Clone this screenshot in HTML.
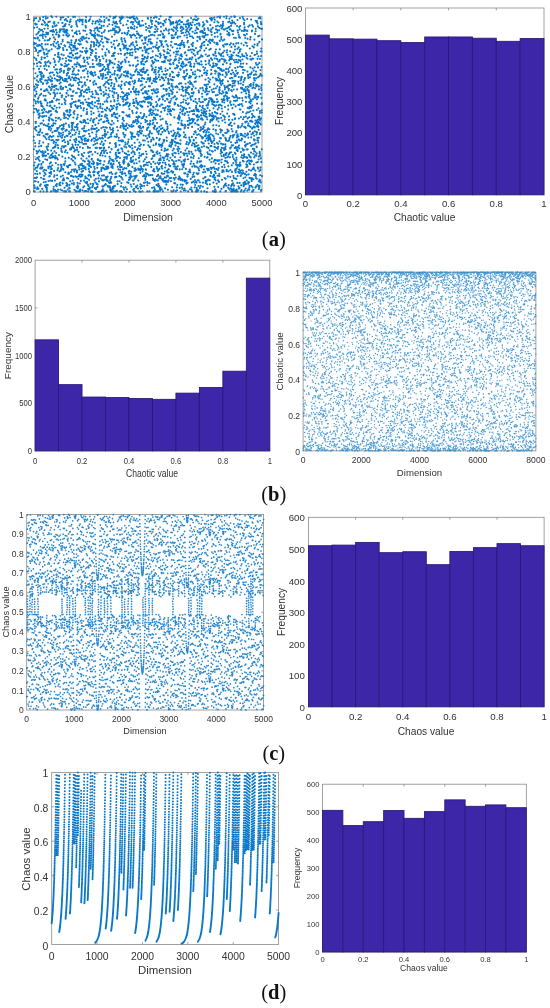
<!DOCTYPE html>
<html lang="en"><head><meta charset="utf-8"><title>Chaotic map distributions</title>
<style>html,body{margin:0;padding:0;background:#fff}svg{display:block}</style>
</head><body>
<svg width="550" height="1008" viewBox="0 0 550 1008" font-family="'Liberation Sans', sans-serif">
<defs><filter id="soft" x="0" y="0" width="100%" height="100%" filterUnits="userSpaceOnUse" color-interpolation-filters="sRGB"><feGaussianBlur stdDeviation="0.4"/></filter></defs>
<g filter="url(#soft)">
<rect width="550" height="1008" fill="#fff"/>
<rect x="33.6" y="16.2" width="228.4" height="175.9" fill="none" stroke="#8a8a8a" stroke-width="0.8"/>
<text transform="translate(33.6 206.1)" font-size="9.4" text-anchor="middle" fill="#333333">0</text>
<text transform="translate(79.28 206.1)" font-size="9.4" text-anchor="middle" fill="#333333">1000</text>
<text transform="translate(124.96 206.1)" font-size="9.4" text-anchor="middle" fill="#333333">2000</text>
<text transform="translate(170.64 206.1)" font-size="9.4" text-anchor="middle" fill="#333333">3000</text>
<text transform="translate(216.32 206.1)" font-size="9.4" text-anchor="middle" fill="#333333">4000</text>
<text transform="translate(262 206.1)" font-size="9.4" text-anchor="middle" fill="#333333">5000</text>
<text transform="translate(30.6 195.48)" font-size="9.4" text-anchor="end" fill="#333333">0</text>
<text transform="translate(30.6 160.3)" font-size="9.4" text-anchor="end" fill="#333333">0.2</text>
<text transform="translate(30.6 125.12)" font-size="9.4" text-anchor="end" fill="#333333">0.4</text>
<text transform="translate(30.6 89.94)" font-size="9.4" text-anchor="end" fill="#333333">0.6</text>
<text transform="translate(30.6 54.76)" font-size="9.4" text-anchor="end" fill="#333333">0.8</text>
<text transform="translate(30.6 19.58)" font-size="9.4" text-anchor="end" fill="#333333">1</text>
<path d="M79.28 192.1v-2.4M79.28 16.2v2.4M124.96 192.1v-2.4M124.96 16.2v2.4M170.64 192.1v-2.4M170.64 16.2v2.4M216.32 192.1v-2.4M216.32 16.2v2.4M33.6 156.92h2.4M262 156.92h-2.4M33.6 121.74h2.4M262 121.74h-2.4M33.6 86.56h2.4M262 86.56h-2.4M33.6 51.38h2.4M262 51.38h-2.4" stroke="#8a8a8a" stroke-width="0.8" fill="none"/>
<text transform="translate(148 221.2)" font-size="10.5" text-anchor="middle" fill="#333333">Dimension</text>
<text transform="translate(12.5 104) rotate(-90)" font-size="10.5" text-anchor="middle" fill="#333333">Chaos value</text>
<path d="M33.6 105.7h0M33.7 68.8h0M33.7 140.5h0M33.8 136.8h0M33.8 112.4h0M33.9 20.4h0M33.9 149.2h0M34 99.7h0M34 63.8h0M34.1 86.6h0M34.1 42.9h0M34.1 165.4h0M34.2 185.2h0M34.2 57.6h0M34.3 38.1h0M34.3 27.8h0M34.4 90.1h0M34.4 44.3h0M34.5 108.7h0M34.5 181.4h0M34.6 78.3h0M34.6 47.5h0M34.7 18.4h0M34.7 188.1h0M34.7 162.5h0M34.8 128.6h0M34.8 169.3h0M34.9 187.2h0M34.9 177.9h0M35 95.5h0M35 48h0M35.1 143.1h0M35.1 129h0M35.2 23.6h0M35.2 96.5h0M35.2 173.7h0M35.3 88.5h0M35.3 146.4h0M35.4 127.1h0M35.4 24.5h0M35.5 101.4h0M35.5 73.2h0M35.6 167.8h0M35.6 38.3h0M35.7 123.1h0M35.7 181.2h0M35.7 181.2h0M35.8 103.4h0M35.8 159.2h0M35.9 121.7h0M35.9 84.2h0M36 58.7h0M36 43.5h0M36.1 50.8h0M36.1 49.6h0M36.2 18h0M36.2 109h0M36.2 91.5h0M36.3 34.5h0M36.3 130.6h0M36.4 177.9h0M36.4 127.1h0M36.5 60.2h0M36.5 84.8h0M36.6 93.9h0M36.6 151.1h0M36.7 171h0M36.7 24.3h0M36.8 189h0M36.8 80.3h0M36.8 171.2h0M36.9 110.6h0M36.9 177.2h0M37 153.4h0M37 63.4h0M37.1 76.7h0M37.1 87.3h0M37.2 27.2h0M37.2 45.9h0M37.3 66.2h0M37.3 174h0M37.3 167.6h0M37.4 157.8h0M37.4 187.2h0M37.5 165.7h0M37.5 134.8h0M37.6 45.4h0M37.6 112.1h0M37.7 75.6h0M37.7 101.2h0M37.8 37.6h0M37.8 33.3h0M37.8 38.6h0M37.9 85.1h0M37.9 165.7h0M38 52.7h0M38 111h0M38.1 98.7h0M38.1 55.5h0M38.2 182.1h0M38.2 151.7h0M38.3 45.7h0M38.3 102.6h0M38.4 132.4h0M38.4 81.9h0M38.4 188.7h0M38.5 114.6h0M38.5 159.3h0M38.6 102h0M38.6 97.2h0M38.7 21.2h0M38.7 110.3h0M38.8 126h0M38.8 117.8h0M38.9 31.8h0M38.9 146.6h0M38.9 164.2h0M39 68.9h0M39 156.7h0M39.1 117.3h0M39.1 62.2h0M39.2 51.1h0M39.2 143.4h0M39.3 44.8h0M39.3 132.4h0M39.4 29.1h0M39.4 40.4h0M39.4 150.2h0M39.5 71.9h0M39.5 135.1h0M39.6 113.6h0M39.6 141.1h0M39.7 160.8h0M39.7 61.9h0M39.8 51.3h0M39.8 95.2h0M39.9 18h0M39.9 173.4h0M39.9 116.1h0M40 45.3h0M40 35.5h0M40.1 19.3h0M40.1 185.7h0M40.2 80.2h0M40.2 131h0M40.3 79.1h0M40.3 168.4h0M40.4 184.5h0M40.4 129.3h0M40.5 74.2h0M40.5 66.2h0M40.5 123.6h0M40.6 30.3h0M40.6 101.6h0M40.7 184.4h0M40.7 35.2h0M40.8 63h0M40.8 167.6h0M40.9 103.4h0M40.9 50.6h0M41 89.4h0M41 72h0M41 151.7h0M41.1 145.9h0M41.1 177.7h0M41.2 93.9h0M41.2 81.9h0M41.3 106h0M41.3 164.7h0M41.4 103.6h0M41.4 76.1h0M41.5 59.3h0M41.5 163.7h0M41.5 73.4h0M41.6 76.9h0M41.6 105.2h0M41.7 46.2h0M41.7 57.2h0M41.8 79h0M41.8 43.8h0M41.9 168.4h0M41.9 123.3h0M42 30.1h0M42 24.4h0M42.1 73.2h0M42.1 116.4h0M42.1 110.1h0M42.2 132.7h0M42.2 188.7h0M42.3 189h0M42.3 47.9h0M42.4 113h0M42.4 152.7h0M42.5 155h0M42.5 167.2h0M42.6 24.5h0M42.6 34.4h0M42.6 36.1h0M42.7 151.4h0M42.7 106.6h0M42.8 116.9h0M42.8 34.6h0M42.9 38.1h0M42.9 156.3h0M43 83.3h0M43 83.9h0M43.1 20.2h0M43.1 31.7h0M43.1 162.1h0M43.2 142.5h0M43.2 17.1h0M43.3 120.6h0M43.3 49.7h0M43.4 171h0M43.4 178.9h0M43.5 49.3h0M43.5 112.4h0M43.6 76.9h0M43.6 95.7h0M43.6 75.4h0M43.7 135.9h0M43.7 182.2h0M43.8 153.3h0M43.8 124.8h0M43.9 155.2h0M43.9 108.5h0M44 91.1h0M44 52.5h0M44.1 53.1h0M44.1 175.8h0M44.2 124.5h0M44.2 116.1h0M44.2 66.1h0M44.3 169.7h0M44.3 57.8h0M44.4 21.8h0M44.4 179.2h0M44.5 28.8h0M44.5 109.8h0M44.6 54.4h0M44.6 100.1h0M44.7 172.9h0M44.7 68.8h0M44.7 34.7h0M44.8 90.9h0M44.8 40.4h0M44.9 185.5h0M44.9 22.8h0M45 99.2h0M45 57.7h0M45.1 62.1h0M45.1 156h0M45.2 137.3h0M45.2 151.5h0M45.2 80.4h0M45.3 90.2h0M45.3 159.2h0M45.4 151.9h0M45.4 25.2h0M45.5 95.7h0M45.5 44.4h0M45.6 174.3h0M45.6 64.1h0M45.7 36.7h0M45.7 16.6h0M45.8 134.2h0M45.8 181.8h0M45.8 186.5h0M45.9 125.5h0M45.9 18.6h0M46 100.6h0M46 187.3h0M46.1 170.3h0M46.1 155.6h0M46.2 111.8h0M46.2 116h0M46.3 49.7h0M46.3 65.7h0M46.3 32.5h0M46.4 186.8h0M46.4 49.3h0M46.5 184.9h0M46.5 139.1h0M46.6 146.9h0M46.6 34h0M46.7 89.1h0M46.7 83.6h0M46.8 70h0M46.8 53.9h0M46.8 189.4h0M46.9 80.6h0M46.9 187.8h0M47 134.1h0M47 24.3h0M47.1 149h0M47.1 105.3h0M47.2 159.9h0M47.2 62.2h0M47.3 56.2h0M47.3 134.4h0M47.3 191.2h0M47.4 40.3h0M47.4 90.4h0M47.5 53.5h0M47.5 102.9h0M47.6 125.9h0M47.6 17.8h0M47.7 134.1h0M47.7 44.2h0M47.8 185h0M47.8 82.6h0M47.9 150h0M47.9 28.5h0M47.9 34.3h0M48 146.4h0M48 25.8h0M48.1 112.6h0M48.1 153.8h0M48.2 167h0M48.2 32.9h0M48.3 77.5h0M48.3 51.3h0M48.4 144h0M48.4 22.1h0M48.4 168.2h0M48.5 181h0M48.5 123.9h0M48.6 79.7h0M48.6 61.4h0M48.7 120h0M48.7 92.5h0M48.8 137.2h0M48.8 129.3h0M48.9 40.1h0M48.9 128.1h0M48.9 66.4h0M49 86.5h0M49 117.6h0M49.1 120.6h0M49.1 111h0M49.2 139.3h0M49.2 79.4h0M49.3 176.4h0M49.3 126.9h0M49.4 166.4h0M49.4 172.7h0M49.5 173h0M49.5 50.5h0M49.5 157.4h0M49.6 118.4h0M49.6 106h0M49.7 73.3h0M49.7 111.5h0M49.8 21.6h0M49.8 163.5h0M49.9 176h0M49.9 102.4h0M50 38.6h0M50 87.5h0M50 102.1h0M50.1 127h0M50.1 136h0M50.2 94.1h0M50.2 63.3h0M50.3 158h0M50.3 105.6h0M50.4 31h0M50.4 62.7h0M50.5 180.6h0M50.5 80.4h0M50.5 76.4h0M50.6 115.4h0M50.6 130.5h0M50.7 155.5h0M50.7 169.2h0M50.8 111.1h0M50.8 166.9h0M50.9 72.5h0M50.9 162.4h0M51 171.9h0M51 80.2h0M51 44.8h0M51.1 90.1h0M51.1 173.7h0M51.2 81.3h0M51.2 150.6h0M51.3 16.2h0M51.3 128.7h0M51.4 114.3h0M51.4 140.2h0M51.5 30.9h0M51.5 154.7h0M51.6 89h0M51.6 137.1h0M51.6 107.5h0M51.7 49.2h0M51.7 101.9h0M51.8 168.9h0M51.8 119.4h0M51.9 86.6h0M51.9 125.6h0M52 80.9h0M52 157.4h0M52.1 100.9h0M52.1 78.2h0M52.1 84.2h0M52.2 180.9h0M52.2 17.2h0M52.3 108h0M52.3 126.1h0M52.4 31.6h0M52.4 165.2h0M52.5 132.3h0M52.5 101.9h0M52.6 157.3h0M52.6 26.3h0M52.6 153.2h0M52.7 72.6h0M52.7 30.8h0M52.8 140.1h0M52.8 34.8h0M52.9 148.1h0M52.9 27.1h0M53 156.4h0M53 86.9h0M53.1 120.4h0M53.1 125.4h0M53.2 30h0M53.2 44.1h0M53.2 109.1h0M53.3 191h0M53.3 136h0M53.4 189h0M53.4 123.2h0M53.5 92.7h0M53.5 86.4h0M53.6 109h0M53.6 142.9h0M53.7 186.7h0M53.7 45.6h0M53.7 23h0M53.8 58.9h0M53.8 157h0M53.9 98.2h0M53.9 37.4h0M54 67h0M54 75.1h0M54.1 170.9h0M54.1 31.8h0M54.2 176.7h0M54.2 41.7h0M54.2 141.6h0M54.3 147.4h0M54.3 22h0M54.4 23.7h0M54.4 90.4h0M54.5 175.2h0M54.5 151.4h0M54.6 86.8h0M54.6 105.9h0M54.7 93.4h0M54.7 131.1h0M54.7 62.2h0M54.8 61h0M54.8 78.5h0M54.9 180.5h0M54.9 96.2h0M55 55h0M55 26.1h0M55.1 190h0M55.1 85.6h0M55.2 158.4h0M55.2 39.4h0M55.3 94.7h0M55.3 123.6h0M55.3 146.9h0M55.4 155.7h0M55.4 69.6h0M55.5 145h0M55.5 46.7h0M55.6 64.9h0M55.6 64.9h0M55.7 130.8h0M55.7 111.3h0M55.8 185.2h0M55.8 163.1h0M55.8 157.7h0M55.9 117.7h0M55.9 120.7h0M56 29.9h0M56 142.7h0M56.1 110.5h0M56.1 34.3h0M56.2 153h0M56.2 140h0M56.3 85.7h0M56.3 191.1h0M56.3 16.7h0M56.4 88.8h0M56.4 43.3h0M56.5 79.7h0M56.5 100.3h0M56.6 25.4h0M56.6 186.2h0M56.7 157.8h0M56.7 107.7h0M56.8 72.3h0M56.8 32.4h0M56.9 130.8h0M56.9 69.3h0M56.9 184.1h0M57 112.1h0M57 99.4h0M57.1 175.2h0M57.1 128h0M57.2 178.8h0M57.2 80.5h0M57.3 93.2h0M57.3 76.1h0M57.4 80.8h0M57.4 48.5h0M57.4 140.3h0M57.5 170.1h0M57.5 129.7h0M57.6 145.1h0M57.6 191.2h0M57.7 159.4h0M57.7 73.5h0M57.8 145.5h0M57.8 56.7h0M57.9 80h0M57.9 128.3h0M57.9 41.8h0M58 136.4h0M58 54.2h0M58.1 168.1h0M58.1 189.5h0M58.2 118.4h0M58.2 148.1h0M58.3 89.6h0M58.3 164.7h0M58.4 22.7h0M58.4 52.8h0M58.4 139.7h0M58.5 54.7h0M58.5 34.9h0M58.6 44.6h0M58.6 45.4h0M58.7 61.6h0M58.7 36.8h0M58.8 132.5h0M58.8 127.7h0M58.9 99.7h0M58.9 155h0M59 117.8h0M59 46.7h0M59 48.5h0M59.1 103.5h0M59.1 35.5h0M59.2 77h0M59.2 133.9h0M59.3 57.4h0M59.3 80.4h0M59.4 185.1h0M59.4 36.3h0M59.5 183.4h0M59.5 107.6h0M59.5 171.3h0M59.6 76.4h0M59.6 32.1h0M59.7 83.6h0M59.7 69.6h0M59.8 72.3h0M59.8 59.6h0M59.9 57.9h0M59.9 47.2h0M60 126.1h0M60 76.8h0M60 30.9h0M60.1 93.2h0M60.1 29.2h0M60.2 136.1h0M60.2 79.2h0M60.3 182.5h0M60.3 185.2h0M60.4 136.5h0M60.4 30.5h0M60.5 189.6h0M60.5 88h0M60.6 19.6h0M60.6 119.6h0M60.6 17.5h0M60.7 82.5h0M60.7 86.5h0M60.8 170.7h0M60.8 176.6h0M60.9 169.4h0M60.9 133.3h0M61 164.9h0M61 68.8h0M61.1 77.6h0M61.1 86.6h0M61.1 64.4h0M61.2 43.8h0M61.2 89.3h0M61.3 148.8h0M61.3 148.6h0M61.4 150.9h0M61.4 71h0M61.5 166.5h0M61.5 167.8h0M61.6 54.4h0M61.6 65h0M61.6 17.5h0M61.7 128.9h0M61.7 95.7h0M61.8 104.2h0M61.8 97.1h0M61.9 125h0M61.9 65.1h0M62 137.7h0M62 152h0M62.1 29.2h0M62.1 190.5h0M62.2 95.2h0M62.2 129.6h0M62.2 78.1h0M62.3 146.4h0M62.3 135.6h0M62.4 156.6h0M62.4 22.9h0M62.5 141.1h0M62.5 129h0M62.6 41.4h0M62.6 58.7h0M62.7 39.7h0M62.7 183.4h0M62.7 180.4h0M62.8 134.8h0M62.8 175.6h0M62.9 80h0M62.9 88.9h0M63 48.1h0M63 128.4h0M63.1 87.8h0M63.1 169.1h0M63.2 132.5h0M63.2 125.6h0M63.2 26.6h0M63.3 17.2h0M63.3 169.7h0M63.4 50.1h0M63.4 35.2h0M63.5 31.6h0M63.5 164.5h0M63.6 178.4h0M63.6 126.5h0M63.7 55.2h0M63.7 29.2h0M63.7 128.7h0M63.8 72.6h0M63.8 124.4h0M63.9 113.4h0M63.9 147.3h0M64 70.9h0M64 114.9h0M64.1 180.1h0M64.1 118.1h0M64.2 139.9h0M64.2 146.2h0M64.3 99h0M64.3 165.1h0M64.3 81.1h0M64.4 29.4h0M64.4 45.2h0M64.5 66.3h0M64.5 116.1h0M64.6 187.7h0M64.6 25.4h0M64.7 163.6h0M64.7 20h0M64.8 137.1h0M64.8 102.8h0M64.8 114.2h0M64.9 26.1h0M64.9 152.1h0M65 32.4h0M65 78.9h0M65.1 100.3h0M65.1 142.2h0M65.2 46.3h0M65.2 63.5h0M65.3 161.3h0M65.3 172.2h0M65.3 158.3h0M65.4 104.1h0M65.4 100.7h0M65.5 30.9h0M65.5 130.9h0M65.6 80.8h0M65.6 24.1h0M65.7 86.8h0M65.7 146.1h0M65.8 80.1h0M65.8 150.2h0M65.9 130.4h0M65.9 19.1h0M65.9 123.6h0M66 58.2h0M66 117.8h0M66.1 96.8h0M66.1 61.1h0M66.2 110.8h0M66.2 65.6h0M66.3 35.1h0M66.3 87.1h0M66.4 185.7h0M66.4 183h0M66.4 32.4h0M66.5 66.2h0M66.5 92.8h0M66.6 135.7h0M66.6 93.4h0M66.7 79h0M66.7 129.9h0M66.8 75.5h0M66.8 29.9h0M66.9 166.3h0M66.9 73.7h0M66.9 49.9h0M67 178h0M67 183.9h0M67.1 20.9h0M67.1 111.7h0M67.2 30.6h0M67.2 81.6h0M67.3 185.8h0M67.3 184.6h0M67.4 110.4h0M67.4 65.1h0M67.4 152.8h0M67.5 136h0M67.5 33.5h0M67.6 42.3h0M67.6 114.7h0M67.7 36.4h0M67.7 90.5h0M67.8 189.5h0M67.8 141.6h0M67.9 69.9h0M67.9 72.9h0M68 118.8h0M68 167.4h0M68 144.2h0M68.1 73.1h0M68.1 178.5h0M68.2 17h0M68.2 56.2h0M68.3 68.4h0M68.3 173.9h0M68.4 95.4h0M68.4 35.9h0M68.5 165.8h0M68.5 143h0M68.5 172.6h0M68.6 70.3h0M68.6 64.2h0M68.7 60.1h0M68.7 78.1h0M68.8 157.8h0M68.8 125.1h0M68.9 42.5h0M68.9 115.5h0M69 131.5h0M69 134h0M69 85.1h0M69.1 173.4h0M69.1 35.3h0M69.2 187.6h0M69.2 76.4h0M69.3 126.9h0M69.3 24.6h0M69.4 46.9h0M69.4 116.5h0M69.5 184.9h0M69.5 112.4h0M69.6 188.3h0M69.6 21.8h0M69.6 78h0M69.7 165h0M69.7 53.4h0M69.8 57.1h0M69.8 88.8h0M69.9 60.8h0M69.9 109.9h0M70 68.7h0M70 149.3h0M70.1 140.2h0M70.1 44.6h0M70.1 21.2h0M70.2 84.3h0M70.2 181.2h0M70.3 133.1h0M70.3 165h0M70.4 110.6h0M70.4 103.8h0M70.5 89.7h0M70.5 21.7h0M70.6 19.5h0M70.6 89.6h0M70.6 114.8h0M70.7 148.2h0M70.7 79.8h0M70.8 136.7h0M70.8 48.6h0M70.9 175.9h0M70.9 104.9h0M71 149.4h0M71 172h0M71.1 60.8h0M71.1 106.9h0M71.1 149.3h0M71.2 95.9h0M71.2 26.9h0M71.3 52.9h0M71.3 42.5h0M71.4 159h0M71.4 40.4h0M71.5 130.3h0M71.5 85.9h0M71.6 57.6h0M71.6 122.9h0M71.7 26.2h0M71.7 175.8h0M71.7 44.9h0M71.8 183.5h0M71.8 50.5h0M71.9 169.8h0M71.9 125.8h0M72 155.5h0M72 103.3h0M72.1 99h0M72.1 147.4h0M72.2 30.6h0M72.2 127.4h0M72.2 77.4h0M72.3 125.7h0M72.3 74.2h0M72.4 144.5h0M72.4 124.4h0M72.5 129.1h0M72.5 66.8h0M72.6 54.8h0M72.6 135.1h0M72.7 95.8h0M72.7 180.5h0M72.7 160.5h0M72.8 91.8h0M72.8 147.3h0M72.9 71.7h0M72.9 146.4h0M73 55.5h0M73 156.8h0M73.1 85.3h0M73.1 36.4h0M73.2 16.9h0M73.2 160.7h0M73.3 176.9h0M73.3 122.9h0M73.3 46.3h0M73.4 47.5h0M73.4 117.5h0M73.5 70.4h0M73.5 46.1h0M73.6 112.5h0M73.6 91.1h0M73.7 102.1h0M73.7 169.6h0M73.8 184.4h0M73.8 50.4h0M73.8 183.1h0M73.9 80h0M73.9 148.2h0M74 78.3h0M74 156.7h0M74.1 68.5h0M74.1 74.2h0M74.2 170.1h0M74.2 113.8h0M74.3 130.3h0M74.3 139.7h0M74.3 151.4h0M74.4 171.6h0M74.4 58.3h0M74.5 189.8h0M74.5 111h0M74.6 45.9h0M74.6 64.4h0M74.7 33.1h0M74.7 43.4h0M74.8 47.2h0M74.8 43.3h0M74.8 162.5h0M74.9 46h0M74.9 134.6h0M75 16.8h0M75 141.6h0M75.1 127.1h0M75.1 150h0M75.2 158.4h0M75.2 47.9h0M75.3 32.9h0M75.3 105.1h0M75.4 164.4h0M75.4 77.5h0M75.4 101.7h0M75.5 169.4h0M75.5 176.3h0M75.6 144.8h0M75.6 80.5h0M75.7 41.4h0M75.7 53.7h0M75.8 142.3h0M75.8 101.6h0M75.9 132.5h0M75.9 74.9h0M75.9 33.1h0M76 57.4h0M76 93h0M76.1 138.6h0M76.1 106.5h0M76.2 21.2h0M76.2 39.9h0M76.3 22.9h0M76.3 49.4h0M76.4 66.6h0M76.4 139.9h0M76.4 24.5h0M76.5 78.2h0M76.5 64.2h0M76.6 187.2h0M76.6 31.4h0M76.7 177.1h0M76.7 126.7h0M76.8 118.9h0M76.8 92.7h0M76.9 124.9h0M76.9 34.2h0M77 172.4h0M77 147.5h0M77 170.9h0M77.1 58.7h0M77.1 149.9h0M77.2 26.4h0M77.2 129.7h0M77.3 108.2h0M77.3 62.6h0M77.4 117.3h0M77.4 53.1h0M77.5 129.3h0M77.5 48.5h0M77.5 127.5h0M77.6 182.9h0M77.6 185.4h0M77.7 124h0M77.7 188.4h0M77.8 114.7h0M77.8 106.3h0M77.9 57.5h0M77.9 20h0M78 74.3h0M78 88.6h0M78 83.1h0M78.1 144.8h0M78.1 187.7h0M78.2 106.4h0M78.2 186.5h0M78.3 179h0M78.3 78.7h0M78.4 43.8h0M78.4 70.2h0M78.5 151.8h0M78.5 101.2h0M78.5 176.2h0M78.6 100.2h0M78.6 154.9h0M78.7 64.2h0M78.7 165.8h0M78.8 136.8h0M78.8 70.8h0M78.9 40h0M78.9 85h0M79 64.2h0M79 141.5h0M79.1 79.6h0M79.1 133.8h0M79.1 167.6h0M79.2 31.1h0M79.2 175.3h0M79.3 169.5h0M79.3 131.6h0M79.4 89.2h0M79.4 57.2h0M79.5 21.4h0M79.5 65.2h0M79.6 44.6h0M79.6 96.5h0M79.6 96h0M79.7 81.9h0M79.7 100.6h0M79.8 183.5h0M79.8 142.4h0M79.9 174.6h0M79.9 33.6h0M80 19.5h0M80 147h0M80.1 65.6h0M80.1 191.1h0M80.1 189.5h0M80.2 121.6h0M80.2 41.3h0M80.3 106h0M80.3 51.3h0M80.4 164.4h0M80.4 176.8h0M80.5 55.6h0M80.5 121.8h0M80.6 38.5h0M80.6 92.5h0M80.7 137h0M80.7 67.2h0M80.7 164.5h0M80.8 180.8h0M80.8 44.2h0M80.9 102.9h0M80.9 66.6h0M81 165.1h0M81 91h0M81.1 77.3h0M81.1 108.1h0M81.2 115.9h0M81.2 95.4h0M81.2 93.7h0M81.3 158.6h0M81.3 138.4h0M81.4 174.5h0M81.4 20.3h0M81.5 168.8h0M81.5 19.9h0M81.6 82.2h0M81.6 171.8h0M81.7 139.6h0M81.7 154h0M81.7 164.5h0M81.8 39.2h0M81.8 122.6h0M81.9 142.4h0M81.9 176.3h0M82 163.7h0M82 87h0M82.1 90.2h0M82.1 155.2h0M82.2 128.7h0M82.2 40.2h0M82.2 51.9h0M82.3 139.8h0M82.3 36.9h0M82.4 190.4h0M82.4 165.6h0M82.5 174.9h0M82.5 24.4h0M82.6 22h0M82.6 66.1h0M82.7 19.8h0M82.7 85.7h0M82.8 70.8h0M82.8 148.1h0M82.8 102.6h0M82.9 47.8h0M82.9 136.4h0M83 170.9h0M83 168.2h0M83.1 160.6h0M83.1 166.1h0M83.2 104h0M83.2 187.3h0M83.3 30.5h0M83.3 156.2h0M83.3 36.8h0M83.4 144.1h0M83.4 110.3h0M83.5 58.3h0M83.5 120.3h0M83.6 128.3h0M83.6 66.5h0M83.7 96.4h0M83.7 70.7h0M83.8 38.4h0M83.8 121.9h0M83.8 166h0M83.9 57.5h0M83.9 108.2h0M84 130.9h0M84 91.7h0M84.1 180.5h0M84.1 128.1h0M84.2 152.8h0M84.2 186.2h0M84.3 70.2h0M84.3 62.1h0M84.4 77.4h0M84.4 135.5h0M84.4 168h0M84.5 120h0M84.5 126.1h0M84.6 84.2h0M84.6 138.9h0M84.7 143.7h0M84.7 60.4h0M84.8 38.6h0M84.8 161.4h0M84.9 191.1h0M84.9 91.9h0M84.9 82.6h0M85 51.1h0M85 140.9h0M85.1 120.8h0M85.1 138.2h0M85.2 30.8h0M85.2 131.4h0M85.3 99.7h0M85.3 176.5h0M85.4 178.2h0M85.4 182.3h0M85.4 65.9h0M85.5 167.3h0M85.5 21.5h0M85.6 85.3h0M85.6 25.9h0M85.7 169.3h0M85.7 20.1h0M85.8 90h0M85.8 138.6h0M85.9 178h0M85.9 122.9h0M85.9 27.5h0M86 52.9h0M86 21.3h0M86.1 68.8h0M86.1 17.1h0M86.2 191h0M86.2 143.8h0M86.3 22.1h0M86.3 48.4h0M86.4 102.2h0M86.4 183.1h0M86.5 37.8h0M86.5 41.4h0M86.5 114h0M86.6 158.5h0M86.6 130.7h0M86.7 89.4h0M86.7 34.5h0M86.8 51.7h0M86.8 183.1h0M86.9 109.3h0M86.9 92.7h0M87 57.5h0M87 140.8h0M87 50.9h0M87.1 112.1h0M87.1 113.8h0M87.2 181.9h0M87.2 79.7h0M87.3 178.5h0M87.3 42.2h0M87.4 62.2h0M87.4 51.3h0M87.5 73.6h0M87.5 140.2h0M87.5 59h0M87.6 164.2h0M87.6 89.7h0M87.7 104.9h0M87.7 119.2h0M87.8 146.8h0M87.8 71.4h0M87.9 184.9h0M87.9 184.8h0M88 140.4h0M88 147.8h0M88.1 140.9h0M88.1 188.9h0M88.1 76.6h0M88.2 161.1h0M88.2 123.2h0M88.3 102.8h0M88.3 152.8h0M88.4 175.6h0M88.4 64h0M88.5 160.6h0M88.5 139.6h0M88.6 98.7h0M88.6 105.7h0M88.6 87.3h0M88.7 186.2h0M88.7 175h0M88.8 168.9h0M88.8 130h0M88.9 20.9h0M88.9 156.3h0M89 133.8h0M89 38.5h0M89.1 165.9h0M89.1 189h0M89.1 179.8h0M89.2 171.4h0M89.2 163.2h0M89.3 103h0M89.3 89.4h0M89.4 156.3h0M89.4 57.6h0M89.5 103.8h0M89.5 189.4h0M89.6 106.2h0M89.6 91.8h0M89.6 151.8h0M89.7 165.1h0M89.7 19.6h0M89.8 162.1h0M89.8 136.2h0M89.9 147.8h0M89.9 172.4h0M90 67.1h0M90 187.7h0M90.1 19.2h0M90.1 80.9h0M90.2 48.8h0M90.2 175.2h0M90.2 30.1h0M90.3 72.7h0M90.3 120.5h0M90.4 32.9h0M90.4 72.7h0M90.5 183.9h0M90.5 166.8h0M90.6 103h0M90.6 16.7h0M90.7 107.7h0M90.7 55h0M90.7 72h0M90.8 46.8h0M90.8 176.8h0M90.9 45h0M90.9 73.9h0M91 52.6h0M91 151.7h0M91.1 167.1h0M91.1 118.5h0M91.2 111.6h0M91.2 71.7h0M91.2 30.8h0M91.3 140.7h0M91.3 96.2h0M91.4 114.3h0M91.4 50.1h0M91.5 41.9h0M91.5 129.4h0M91.6 159.5h0M91.6 128.4h0M91.7 34.2h0M91.7 34.9h0M91.8 53.1h0M91.8 103h0M91.8 158.8h0M91.9 163.6h0M91.9 192h0M92 139.5h0M92 49.7h0M92.1 187.3h0M92.1 91.7h0M92.2 101.7h0M92.2 132.5h0M92.3 74.9h0M92.3 66.8h0M92.3 23.6h0M92.4 154.6h0M92.4 126h0M92.5 73.1h0M92.5 104.5h0M92.6 97.2h0M92.6 108.2h0M92.7 94.1h0M92.7 60h0M92.8 63.9h0M92.8 185.9h0M92.8 50.9h0M92.9 35.3h0M92.9 21.2h0M93 183.9h0M93 121.2h0M93.1 128.5h0M93.1 161.2h0M93.2 172.3h0M93.2 82.6h0M93.3 120.3h0M93.3 164.3h0M93.3 184.1h0M93.4 75.8h0M93.4 119.7h0M93.5 145h0M93.5 122.5h0M93.6 42.3h0M93.6 113.1h0M93.7 84.7h0M93.7 138.3h0M93.8 128.8h0M93.8 36.3h0M93.9 175.1h0M93.9 46.4h0M93.9 66.9h0M94 162.9h0M94 175.5h0M94.1 171.4h0M94.1 44.1h0M94.2 44.5h0M94.2 42.6h0M94.3 30.7h0M94.3 166.9h0M94.4 119.3h0M94.4 141.3h0M94.4 34.9h0M94.5 180.4h0M94.5 81h0M94.6 106.1h0M94.6 171.9h0M94.7 72.6h0M94.7 168.8h0M94.8 97.6h0M94.8 188.1h0M94.9 72.4h0M94.9 28.5h0M94.9 138.3h0M95 38.1h0M95 129.1h0M95.1 56.4h0M95.1 102.6h0M95.2 33.1h0M95.2 152.1h0M95.3 35.8h0M95.3 144h0M95.4 124.9h0M95.4 23.4h0M95.5 74.8h0M95.5 182.5h0M95.5 28.4h0M95.6 147.8h0M95.6 90.9h0M95.7 21.6h0M95.7 83.5h0M95.8 49.2h0M95.8 57.8h0M95.9 178.7h0M95.9 189.2h0M96 53.1h0M96 56.1h0M96 83.9h0M96.1 140h0M96.1 188.1h0M96.2 84.3h0M96.2 134.6h0M96.3 45.1h0M96.3 60.6h0M96.4 94h0M96.4 92.7h0M96.5 39.6h0M96.5 136.7h0M96.5 118h0M96.6 140.3h0M96.6 131.8h0M96.7 128.1h0M96.7 106.6h0M96.8 183.9h0M96.8 58.8h0M96.9 42.6h0M96.9 147.9h0M97 131h0M97 27.2h0M97 163h0M97.1 100.8h0M97.1 64.4h0M97.2 143.2h0M97.2 167.8h0M97.3 164.9h0M97.3 187.2h0M97.4 20.9h0M97.4 34.6h0M97.5 186.6h0M97.5 41.1h0M97.6 172.5h0M97.6 184.2h0M97.6 153.5h0M97.7 28.5h0M97.7 30.4h0M97.8 159.9h0M97.8 108.5h0M97.9 139.4h0M97.9 159.2h0M98 163.5h0M98 173.5h0M98.1 35.6h0M98.1 191.7h0M98.1 94.3h0M98.2 103.7h0M98.2 87.5h0M98.3 178.4h0M98.3 123.3h0M98.4 21.8h0M98.4 76.9h0M98.5 101.2h0M98.5 111.5h0M98.6 98.3h0M98.6 46.4h0M98.6 164h0M98.7 130.1h0M98.7 115.7h0M98.8 42.9h0M98.8 64.2h0M98.9 171.8h0M98.9 35.2h0M99 56.9h0M99 181.3h0M99.1 175.6h0M99.1 100.6h0M99.2 120.4h0M99.2 78h0M99.2 63.2h0M99.3 31.5h0M99.3 66h0M99.4 24.4h0M99.4 116.3h0M99.5 160.5h0M99.5 114.4h0M99.6 147.7h0M99.6 138.1h0M99.7 191.8h0M99.7 19.6h0M99.7 28.1h0M99.8 44.9h0M99.8 59.7h0M99.9 161.1h0M99.9 71.3h0M100 60.9h0M100 148.4h0M100.1 90h0M100.1 155.3h0M100.2 107.8h0M100.2 88.1h0M100.2 86.9h0M100.3 138.6h0M100.3 103.9h0M100.4 106.4h0M100.4 163.6h0M100.5 21.6h0M100.5 144h0M100.6 160.8h0M100.6 36.2h0M100.7 70.8h0M100.7 64h0M100.7 65.7h0M100.8 41.4h0M100.8 178.6h0M100.9 16.7h0M100.9 74.1h0M101 153.4h0M101 90.4h0M101.1 119.4h0M101.1 75.8h0M101.2 75.5h0M101.2 93.7h0M101.3 28h0M101.3 152.8h0M101.3 170.9h0M101.4 169.2h0M101.4 128.1h0M101.5 167.8h0M101.5 147.8h0M101.6 21.4h0M101.6 25.9h0M101.7 141.9h0M101.7 112h0M101.8 33.1h0M101.8 141.5h0M101.8 116h0M101.9 39.1h0M101.9 70.2h0M102 150.8h0M102 190.6h0M102.1 137.7h0M102.1 175.6h0M102.2 36.3h0M102.2 180.1h0M102.3 108.6h0M102.3 190.3h0M102.3 49.3h0M102.4 78.9h0M102.4 186.4h0M102.5 56.2h0M102.5 167.6h0M102.6 155.6h0M102.6 135.5h0M102.7 111.7h0M102.7 77.6h0M102.8 189.3h0M102.8 64.8h0M102.9 42.6h0M102.9 104.2h0M102.9 138.5h0M103 75.3h0M103 68.9h0M103.1 145.1h0M103.1 180.5h0M103.2 76.5h0M103.2 73.8h0M103.3 122.1h0M103.3 127.1h0M103.4 168.2h0M103.4 58.5h0M103.4 186.5h0M103.5 46.4h0M103.5 92.1h0M103.6 150.2h0M103.6 164.9h0M103.7 85.4h0M103.7 95.7h0M103.8 25.8h0M103.8 143.9h0M103.9 32h0M103.9 168.3h0M103.9 175.4h0M104 148.4h0M104 16.8h0M104.1 147.6h0M104.1 152.9h0M104.2 94.5h0M104.2 66.8h0M104.3 151.9h0M104.3 21.9h0M104.4 179.7h0M104.4 161.3h0M104.4 135.1h0M104.5 20h0M104.5 185.2h0M104.6 121.6h0M104.6 129.7h0M104.7 101.7h0M104.7 169.3h0M104.8 30.3h0M104.8 37.5h0M104.9 116.4h0M104.9 83.7h0M105 109.5h0M105 133.7h0M105 131.4h0M105.1 136.8h0M105.1 70.2h0M105.2 54.7h0M105.2 135.4h0M105.3 140.7h0M105.3 156.2h0M105.4 52.8h0M105.4 127.2h0M105.5 78h0M105.5 114.5h0M105.5 75h0M105.6 184.1h0M105.6 87.3h0M105.7 93.5h0M105.7 55.6h0M105.8 177h0M105.8 184.5h0M105.9 93.9h0M105.9 150.5h0M106 68.7h0M106 110.5h0M106 179.2h0M106.1 82h0M106.1 38.2h0M106.2 90.3h0M106.2 166.5h0M106.3 61.7h0M106.3 168.9h0M106.4 134.3h0M106.4 167.3h0M106.5 18h0M106.5 60h0M106.6 117.7h0M106.6 178h0M106.6 100.4h0M106.7 180.6h0M106.7 77.7h0M106.8 41.6h0M106.8 127.7h0M106.9 120.9h0M106.9 49.2h0M107 107.6h0M107 115.5h0M107.1 39.1h0M107.1 108.3h0M107.1 153.1h0M107.2 82.4h0M107.2 180.4h0M107.3 101.8h0M107.3 42.2h0M107.4 118.5h0M107.4 98h0M107.5 64.6h0M107.5 72.3h0M107.6 176.6h0M107.6 168.7h0M107.6 26.2h0M107.7 181h0M107.7 185.9h0M107.8 42.2h0M107.8 132.2h0M107.9 166.6h0M107.9 66.2h0M108 186.5h0M108 74.2h0M108.1 68.9h0M108.1 80.2h0M108.1 120.6h0M108.2 138h0M108.2 67.6h0M108.3 167.9h0M108.3 95h0M108.4 19.9h0M108.4 65.4h0M108.5 163.2h0M108.5 94.3h0M108.6 122.9h0M108.6 83.8h0M108.7 31.1h0M108.7 39.5h0M108.7 51h0M108.8 88.3h0M108.8 69.8h0M108.9 83.9h0M108.9 147.3h0M109 72h0M109 182.5h0M109.1 161.7h0M109.1 20.5h0M109.2 24.2h0M109.2 96.7h0M109.2 52.5h0M109.3 19.9h0M109.3 109.4h0M109.4 60.4h0M109.4 63.8h0M109.5 156.7h0M109.5 160.8h0M109.6 187.6h0M109.6 137.2h0M109.7 182.9h0M109.7 79.5h0M109.7 172.8h0M109.8 186.3h0M109.8 90.7h0M109.9 127.6h0M109.9 62.1h0M110 143.1h0M110 16.6h0M110.1 180.1h0M110.1 190h0M110.2 152.2h0M110.2 158.5h0M110.3 76.2h0M110.3 76.9h0M110.3 110.9h0M110.4 187.9h0M110.4 72.5h0M110.5 124.2h0M110.5 61.1h0M110.6 129.5h0M110.6 181.9h0M110.7 30.5h0M110.7 164.4h0M110.8 178.6h0M110.8 134.5h0M110.8 101.4h0M110.9 105.7h0M110.9 190.2h0M111 85.7h0M111 62.5h0M111.1 163.2h0M111.1 189.8h0M111.2 172.3h0M111.2 182.7h0M111.3 42.6h0M111.3 176.9h0M111.3 136.5h0M111.4 167.1h0M111.4 79.8h0M111.5 133h0M111.5 149h0M111.6 149.3h0M111.6 83.4h0M111.7 124.7h0M111.7 82.7h0M111.8 46.8h0M111.8 159.8h0M111.8 114.7h0M111.9 106.6h0M111.9 109.2h0M112 116.1h0M112 36.7h0M112.1 55.9h0M112.1 121.1h0M112.2 74.5h0M112.2 165h0M112.3 174h0M112.3 91.4h0M112.4 189.1h0M112.4 129.7h0M112.4 30.2h0M112.5 116h0M112.5 24.8h0M112.6 62.8h0M112.6 166.5h0M112.7 168h0M112.7 88.3h0M112.8 132.3h0M112.8 95.5h0M112.9 160h0M112.9 160.8h0M112.9 187.4h0M113 186.9h0M113 128.2h0M113.1 130.6h0M113.1 28.6h0M113.2 108.2h0M113.2 67.6h0M113.3 53.8h0M113.3 88.8h0M113.4 18.4h0M113.4 97.3h0M113.4 22.1h0M113.5 163.9h0M113.5 188.3h0M113.6 21.6h0M113.6 44.4h0M113.7 123.3h0M113.7 113.9h0M113.8 17.1h0M113.8 161.3h0M113.9 29.7h0M113.9 55.8h0M114 105.8h0M114 186.2h0M114 53h0M114.1 112.7h0M114.1 86.4h0M114.2 92.2h0M114.2 40.9h0M114.3 93.5h0M114.3 100h0M114.4 84.1h0M114.4 73.2h0M114.5 101.5h0M114.5 34.5h0M114.5 74.4h0M114.6 64h0M114.6 23.2h0M114.7 28.7h0M114.7 136.5h0M114.8 89.1h0M114.8 52.8h0M114.9 47.6h0M114.9 71.1h0M115 185.9h0M115 17.6h0M115 48.4h0M115.1 143.7h0M115.1 177.5h0M115.2 59h0M115.2 31.1h0M115.3 32.5h0M115.3 116.9h0M115.4 176.7h0M115.4 174h0M115.5 26.4h0M115.5 114.4h0M115.5 147h0M115.6 78h0M115.6 158.7h0M115.7 154.4h0M115.7 143.2h0M115.8 143.1h0M115.8 16.6h0M115.9 152.9h0M115.9 152.7h0M116 79.3h0M116 146.4h0M116.1 23.3h0M116.1 145h0M116.1 21.9h0M116.2 32.3h0M116.2 137.1h0M116.3 155.6h0M116.3 107.5h0M116.4 157.6h0M116.4 172.7h0M116.5 176.9h0M116.5 31.2h0M116.6 109.5h0M116.6 93h0M116.6 81.3h0M116.7 134.3h0M116.7 40.5h0M116.8 117.8h0M116.8 104.4h0M116.9 190.9h0M116.9 160.8h0M117 136.2h0M117 23.8h0M117.1 127.1h0M117.1 27.1h0M117.1 107.5h0M117.2 157.3h0M117.2 75.1h0M117.3 107h0M117.3 113.7h0M117.4 67.3h0M117.4 118.1h0M117.5 181.3h0M117.5 75.6h0M117.6 150.4h0M117.6 184.1h0M117.7 166.8h0M117.7 74.7h0M117.7 100.7h0M117.8 120.8h0M117.8 70.2h0M117.9 130.5h0M117.9 98.4h0M118 45.8h0M118 32.7h0M118.1 64.7h0M118.1 95.1h0M118.2 96.5h0M118.2 156.7h0M118.2 150.5h0M118.3 149.5h0M118.3 149.6h0M118.4 169.3h0M118.4 53.7h0M118.5 153h0M118.5 45.3h0M118.6 103.6h0M118.6 85.9h0M118.7 61.7h0M118.7 85.4h0M118.7 140.6h0M118.8 137.8h0M118.8 27.3h0M118.9 68.4h0M118.9 162.8h0M119 67.9h0M119 162.9h0M119.1 43.9h0M119.1 78.1h0M119.2 31.6h0M119.2 70.7h0M119.2 153h0M119.3 66h0M119.3 162.5h0M119.4 115.9h0M119.4 176h0M119.5 191.5h0M119.5 145h0M119.6 181.2h0M119.6 17.3h0M119.7 29.3h0M119.7 152.9h0M119.8 71h0M119.8 164.7h0M119.8 21.3h0M119.9 30.3h0M119.9 165.7h0M120 158h0M120 104.9h0M120.1 140.7h0M120.1 48.8h0M120.2 167.2h0M120.2 169.8h0M120.3 69.4h0M120.3 20.4h0M120.3 77h0M120.4 172.2h0M120.4 127.5h0M120.5 18h0M120.5 76.1h0M120.6 23.2h0M120.6 86.9h0M120.7 50.3h0M120.7 63.2h0M120.8 126.1h0M120.8 68.2h0M120.8 96.7h0M120.9 140.5h0M120.9 186.5h0M121 53.8h0M121 63.8h0M121.1 67.3h0M121.1 176.9h0M121.2 186.3h0M121.2 19.1h0M121.3 62.8h0M121.3 88.8h0M121.4 183.1h0M121.4 148.4h0M121.4 85.1h0M121.5 39.4h0M121.5 38h0M121.6 74.3h0M121.6 62.5h0M121.7 177.7h0M121.7 16.6h0M121.8 167h0M121.8 81.6h0M121.9 141.3h0M121.9 174h0M121.9 66.7h0M122 191.9h0M122 148.9h0M122.1 33.2h0M122.1 92.1h0M122.2 41.6h0M122.2 172.5h0M122.3 98.8h0M122.3 18.2h0M122.4 123.2h0M122.4 112h0M122.4 172h0M122.5 61.5h0M122.5 140.3h0M122.6 179.5h0M122.6 151.3h0M122.7 119.2h0M122.7 44h0M122.8 124h0M122.8 173.7h0M122.9 126.1h0M122.9 17.4h0M123 169.4h0M123 97.1h0M123 117.9h0M123.1 25.2h0M123.1 141.2h0M123.2 101.3h0M123.2 162.3h0M123.3 105.3h0M123.3 132.8h0M123.4 160.9h0M123.4 187.4h0M123.5 93h0M123.5 125h0M123.5 127.1h0M123.6 112.4h0M123.6 134.5h0M123.7 48.4h0M123.7 99.2h0M123.8 128.6h0M123.8 163.6h0M123.9 75.2h0M123.9 120.7h0M124 189.3h0M124 45.8h0M124 45.3h0M124.1 159.7h0M124.1 72.1h0M124.2 104.7h0M124.2 157.4h0M124.3 38.6h0M124.3 146.6h0M124.4 168.1h0M124.4 161.9h0M124.5 136.9h0M124.5 168.5h0M124.5 83.6h0M124.6 32.7h0M124.6 96h0M124.7 54.9h0M124.7 153h0M124.8 46.1h0M124.8 59.6h0M124.9 85h0M124.9 47.5h0M125 173.4h0M125 33.5h0M125.1 95h0M125.1 40.5h0M125.1 126.3h0M125.2 53.8h0M125.2 157.5h0M125.3 142.6h0M125.3 45.9h0M125.4 41.9h0M125.4 135h0M125.5 62.1h0M125.5 144.6h0M125.6 187.4h0M125.6 61h0M125.6 129.3h0M125.7 71.3h0M125.7 76.4h0M125.8 99.8h0M125.8 104.4h0M125.9 103h0M125.9 157.3h0M126 130h0M126 175.5h0M126.1 45.6h0M126.1 125.8h0M126.1 153.8h0M126.2 191.8h0M126.2 147.4h0M126.3 95h0M126.3 82h0M126.4 168.3h0M126.4 48.3h0M126.5 72.8h0M126.5 115.3h0M126.6 24.5h0M126.6 93.2h0M126.7 102.5h0M126.7 57.6h0M126.7 123.9h0M126.8 75.4h0M126.8 158.7h0M126.9 97.5h0M126.9 103.5h0M127 189.2h0M127 157.1h0M127.1 34.6h0M127.1 97.5h0M127.2 182.3h0M127.2 17.2h0M127.2 52.9h0M127.3 95.7h0M127.3 98.3h0M127.4 53.4h0M127.4 50h0M127.5 73.1h0M127.5 98.7h0M127.6 143.8h0M127.6 32.8h0M127.7 155h0M127.7 128h0M127.7 33.4h0M127.8 102.6h0M127.8 20.8h0M127.9 116.3h0M127.9 71.6h0M128 164.3h0M128 76.6h0M128.1 115.8h0M128.1 27.9h0M128.2 166.1h0M128.2 141.8h0M128.2 48.8h0M128.3 151.4h0M128.3 93.4h0M128.4 82.9h0M128.4 73.2h0M128.5 163.5h0M128.5 182.8h0M128.6 139.5h0M128.6 30.9h0M128.7 83.7h0M128.7 61.9h0M128.8 171.4h0M128.8 106.4h0M128.8 173.3h0M128.9 125.2h0M128.9 179.9h0M129 125.5h0M129 94.3h0M129.1 89h0M129.1 145.9h0M129.2 165.1h0M129.2 154.8h0M129.3 17.6h0M129.3 177.5h0M129.3 83.6h0M129.4 170.9h0M129.4 109h0M129.5 53.2h0M129.5 114.7h0M129.6 65.3h0M129.6 46.1h0M129.7 116.7h0M129.7 179.5h0M129.8 82.1h0M129.8 177.1h0M129.8 104.9h0M129.9 191.7h0M129.9 103.5h0M130 126.3h0M130 35.1h0M130.1 55h0M130.1 17.9h0M130.2 146.9h0M130.2 84.5h0M130.3 65.5h0M130.3 49.7h0M130.4 178.1h0M130.4 161.2h0M130.4 52.7h0M130.5 74.4h0M130.5 175.2h0M130.6 173.7h0M130.6 77.9h0M130.7 184.5h0M130.7 132.4h0M130.8 35.8h0M130.8 27.8h0M130.9 77.7h0M130.9 91.9h0M130.9 159h0M131 22.4h0M131 17.5h0M131.1 44.5h0M131.1 157.8h0M131.2 27h0M131.2 37.4h0M131.3 171.7h0M131.3 137.1h0M131.4 161.1h0M131.4 43.5h0M131.4 162.1h0M131.5 186.6h0M131.5 78.3h0M131.6 124.7h0M131.6 152.8h0M131.7 134.2h0M131.7 138.9h0M131.8 176.6h0M131.8 21.7h0M131.9 49.2h0M131.9 134.7h0M131.9 126.8h0M132 145.2h0M132 28.3h0M132.1 75.6h0M132.1 55.3h0M132.2 110.9h0M132.2 136.2h0M132.3 28.1h0M132.3 148.4h0M132.4 35.1h0M132.4 167h0M132.5 133.3h0M132.5 16.8h0M132.5 52.6h0M132.6 161.6h0M132.6 161.4h0M132.7 81.4h0M132.7 113h0M132.8 24.2h0M132.8 42.6h0M132.9 89h0M132.9 180.5h0M133 122.6h0M133 103.2h0M133 151.3h0M133.1 156.5h0M133.1 65.4h0M133.2 160.2h0M133.2 45h0M133.3 22.2h0M133.3 89h0M133.4 189.9h0M133.4 99.7h0M133.5 180.6h0M133.5 126h0M133.5 121h0M133.6 136.8h0M133.6 86.9h0M133.7 102h0M133.7 18.6h0M133.8 184h0M133.8 75.1h0M133.9 16.5h0M133.9 34.6h0M134 91.6h0M134 191.1h0M134.1 83.7h0M134.1 105.8h0M134.1 188.8h0M134.2 176.3h0M134.2 163.4h0M134.3 122.2h0M134.3 28.9h0M134.4 152.2h0M134.4 26.3h0M134.5 168.5h0M134.5 170.7h0M134.6 102.9h0M134.6 178.7h0M134.6 154h0M134.7 49.6h0M134.7 142.8h0M134.8 46.8h0M134.8 154.2h0M134.9 80.6h0M134.9 18.9h0M135 147h0M135 136.9h0M135.1 71.7h0M135.1 92.4h0M135.1 82.2h0M135.2 168.3h0M135.2 35.7h0M135.3 20.8h0M135.3 170.7h0M135.4 57.3h0M135.4 58.1h0M135.5 90.9h0M135.5 48.7h0M135.6 121.4h0M135.6 51.8h0M135.6 191.8h0M135.7 176h0M135.7 177.4h0M135.8 70.2h0M135.8 120.1h0M135.9 186.6h0M135.9 159.6h0M136 66.5h0M136 98.6h0M136.1 169.7h0M136.1 89h0M136.2 94.5h0M136.2 187.4h0M136.2 41.3h0M136.3 107.6h0M136.3 100.9h0M136.4 113h0M136.4 42.5h0M136.5 38h0M136.5 117h0M136.6 65.5h0M136.6 69.3h0M136.7 175.8h0M136.7 17.6h0M136.7 163.2h0M136.8 31.5h0M136.8 112.2h0M136.9 123.6h0M136.9 22.2h0M137 45.2h0M137 27.4h0M137.1 91.8h0M137.1 149.9h0M137.2 102.9h0M137.2 134.1h0M137.2 33.8h0M137.3 185.6h0M137.3 102.2h0M137.4 49.1h0M137.4 57.4h0M137.5 19h0M137.5 139.6h0M137.6 120.1h0M137.6 108.6h0M137.7 71.8h0M137.7 131.8h0M137.8 60.7h0M137.8 121.2h0M137.8 74.5h0M137.9 117.9h0M137.9 104.6h0M138 64.2h0M138 188.6h0M138.1 148.2h0M138.1 24.1h0M138.2 33.6h0M138.2 168.5h0M138.3 49.3h0M138.3 180.6h0M138.3 169.7h0M138.4 103.3h0M138.4 94.5h0M138.5 80.9h0M138.5 135.8h0M138.6 116.3h0M138.6 126.7h0M138.7 91.4h0M138.7 122.1h0M138.8 134.8h0M138.8 158.1h0M138.8 116.8h0M138.9 92.3h0M138.9 22.6h0M139 157.8h0M139 79.1h0M139.1 35.2h0M139.1 72.7h0M139.2 131.7h0M139.2 21.3h0M139.3 153h0M139.3 126h0M139.3 145.8h0M139.4 161.4h0M139.4 142.5h0M139.5 24.3h0M139.5 155.6h0M139.6 131.9h0M139.6 117h0M139.7 37.6h0M139.7 127.7h0M139.8 47.7h0M139.8 74.5h0M139.9 146h0M139.9 130.5h0M139.9 149.1h0M140 101.7h0M140 25.9h0M140.1 170.3h0M140.1 169.1h0M140.2 105.2h0M140.2 126.4h0M140.3 70.1h0M140.3 186.8h0M140.4 184.2h0M140.4 191.8h0M140.4 172.8h0M140.5 35.9h0M140.5 81h0M140.6 166h0M140.6 85.5h0M140.7 133.3h0M140.7 113h0M140.8 155.7h0M140.8 188.6h0M140.9 106.2h0M140.9 123.5h0M140.9 70.9h0M141 47.8h0M141 144.5h0M141.1 128.3h0M141.1 62h0M141.2 167h0M141.2 75.2h0M141.3 169h0M141.3 25.6h0M141.4 64h0M141.4 90.1h0M141.5 185.2h0M141.5 63.4h0M141.5 133.4h0M141.6 105.7h0M141.6 81.2h0M141.7 169h0M141.7 118.2h0M141.8 75.2h0M141.8 78.2h0M141.9 35.5h0M141.9 101.9h0M142 154.2h0M142 131.1h0M142 40.4h0M142.1 186h0M142.1 106.9h0M142.2 69.4h0M142.2 58.7h0M142.3 20.7h0M142.3 84.6h0M142.4 55.7h0M142.4 106.5h0M142.5 50.6h0M142.5 171.3h0M142.5 72.1h0M142.6 61h0M142.6 55h0M142.7 93.2h0M142.7 78.1h0M142.8 88.5h0M142.8 59h0M142.9 169.4h0M142.9 118h0M143 93.4h0M143 116.8h0M143 126.8h0M143.1 176.2h0M143.1 140.3h0M143.2 25.2h0M143.2 127.5h0M143.3 153.9h0M143.3 176.2h0M143.4 43.5h0M143.4 101h0M143.5 64.3h0M143.5 69.4h0M143.6 68.1h0M143.6 161.3h0M143.6 43.8h0M143.7 135.5h0M143.7 58.9h0M143.8 165.9h0M143.8 145.1h0M143.9 71.8h0M143.9 64.4h0M144 115.8h0M144 182.9h0M144.1 114h0M144.1 64.5h0M144.1 185.7h0M144.2 175h0M144.2 164.9h0M144.3 114.5h0M144.3 78.7h0M144.4 97.4h0M144.4 47.1h0M144.5 46.8h0M144.5 37.6h0M144.6 48.1h0M144.6 87h0M144.6 101.9h0M144.7 56.7h0M144.7 140.5h0M144.8 159.3h0M144.8 176h0M144.9 57.4h0M144.9 86.9h0M145 47h0M145 73h0M145.1 182.5h0M145.1 92.6h0M145.2 91.4h0M145.2 119.7h0M145.2 178.4h0M145.3 39.9h0M145.3 179.8h0M145.4 50.2h0M145.4 42.8h0M145.5 62h0M145.5 122.2h0M145.6 99.5h0M145.6 38.7h0M145.7 169.4h0M145.7 23.8h0M145.7 173h0M145.8 52.4h0M145.8 164.8h0M145.9 136h0M145.9 71.9h0M146 169.8h0M146 151.5h0M146.1 121.1h0M146.1 176.6h0M146.2 27h0M146.2 30.1h0M146.2 97.9h0M146.3 91.4h0M146.3 82.1h0M146.4 157.4h0M146.4 116.8h0M146.5 174.4h0M146.5 52.2h0M146.6 37.1h0M146.6 93.1h0M146.7 70.2h0M146.7 162.7h0M146.7 154h0M146.8 49.3h0M146.8 50.3h0M146.9 61h0M146.9 130h0M147 121.1h0M147 58.4h0M147.1 128.3h0M147.1 182h0M147.2 138.4h0M147.2 173.8h0M147.3 185.2h0M147.3 99.1h0M147.3 97.2h0M147.4 94.1h0M147.4 44.6h0M147.5 57.9h0M147.5 79.4h0M147.6 70.3h0M147.6 183h0M147.7 124.4h0M147.7 165.2h0M147.8 56.6h0M147.8 17.9h0M147.8 97.3h0M147.9 28.2h0M147.9 98.8h0M148 106.5h0M148 18.7h0M148.1 78h0M148.1 102.4h0M148.2 96.7h0M148.2 74.9h0M148.3 135h0M148.3 145.2h0M148.3 141.7h0M148.4 127.3h0M148.4 53.5h0M148.5 48.8h0M148.5 91.1h0M148.6 162.2h0M148.6 41.4h0M148.7 174.9h0M148.7 135.3h0M148.8 102.9h0M148.8 175.5h0M148.9 39.5h0M148.9 36h0M148.9 86.2h0M149 98.6h0M149 124h0M149.1 25.7h0M149.1 134h0M149.2 48.6h0M149.2 31h0M149.3 115.2h0M149.3 110.9h0M149.4 136.9h0M149.4 162.2h0M149.4 96.4h0M149.5 146.7h0M149.5 183.2h0M149.6 81.2h0M149.6 79.4h0M149.7 123.3h0M149.7 124.8h0M149.8 32h0M149.8 131.2h0M149.9 131.3h0M149.9 86.4h0M149.9 102.2h0M150 111.4h0M150 132.6h0M150.1 147.3h0M150.1 124.4h0M150.2 77.9h0M150.2 79.6h0M150.3 120.9h0M150.3 28.2h0M150.4 39.3h0M150.4 27.7h0M150.4 109.3h0M150.5 113.4h0M150.5 97.9h0M150.6 175.1h0M150.6 105.2h0M150.7 43.5h0M150.7 42.1h0M150.8 34.9h0M150.8 20.3h0M150.9 57.9h0M150.9 104.8h0M151 141.5h0M151 17.6h0M151 164h0M151.1 21.1h0M151.1 150.4h0M151.2 48.3h0M151.2 103.5h0M151.3 97.3h0M151.3 166.9h0M151.4 139.9h0M151.4 65.2h0M151.5 103.5h0M151.5 21.9h0M151.5 109.7h0M151.6 90.1h0M151.6 159h0M151.7 26.8h0M151.7 66.3h0M151.8 99.5h0M151.8 133.5h0M151.9 83.3h0M151.9 115h0M152 24h0M152 43.4h0M152 70.1h0M152.1 150.9h0M152.1 187.8h0M152.2 20.8h0M152.2 60.9h0M152.3 175.1h0M152.3 158.2h0M152.4 112.7h0M152.4 34.7h0M152.5 124.1h0M152.5 93.6h0M152.6 151.9h0M152.6 51.4h0M152.6 68.6h0M152.7 57.2h0M152.7 57h0M152.8 68.5h0M152.8 137.7h0M152.9 62.4h0M152.9 120.3h0M153 178.6h0M153 106.6h0M153.1 170.8h0M153.1 63.5h0M153.1 155.9h0M153.2 46.8h0M153.2 152.1h0M153.3 122.7h0M153.3 110.7h0M153.4 80.9h0M153.4 161.8h0M153.5 179.8h0M153.5 145.3h0M153.6 107.4h0M153.6 90.5h0M153.6 89.2h0M153.7 127.7h0M153.7 139.4h0M153.8 169.8h0M153.8 78.7h0M153.9 169h0M153.9 18h0M154 113.8h0M154 117.5h0M154.1 127.9h0M154.1 187.4h0M154.1 128.8h0M154.2 72.4h0M154.2 62.2h0M154.3 191.6h0M154.3 118.6h0M154.4 156h0M154.4 35.3h0M154.5 32h0M154.5 171.5h0M154.6 154.7h0M154.6 81.6h0M154.7 125.6h0M154.7 70h0M154.7 189.8h0M154.8 180.9h0M154.8 189h0M154.9 91h0M154.9 59.3h0M155 25.5h0M155 118h0M155.1 126.3h0M155.1 92.7h0M155.2 16.6h0M155.2 163.6h0M155.2 32.1h0M155.3 29.2h0M155.3 46.8h0M155.4 71.9h0M155.4 79.8h0M155.5 109.5h0M155.5 179.4h0M155.6 119.5h0M155.6 78.5h0M155.7 115.2h0M155.7 67.2h0M155.7 69.7h0M155.8 74.3h0M155.8 77.1h0M155.9 55.5h0M155.9 144.6h0M156 115.1h0M156 21.4h0M156.1 143.4h0M156.1 102h0M156.2 82h0M156.2 60.6h0M156.3 129.6h0M156.3 106.2h0M156.3 47.8h0M156.4 26.9h0M156.4 152.5h0M156.5 114.2h0M156.5 89.4h0M156.6 184.9h0M156.6 45h0M156.7 17.3h0M156.7 167h0M156.8 92.8h0M156.8 137.9h0M156.8 105.9h0M156.9 42.6h0M156.9 176.2h0M157 123h0M157 78.7h0M157.1 31.2h0M157.1 168.6h0M157.2 96.4h0M157.2 131.5h0M157.3 104.4h0M157.3 180.4h0M157.3 151.6h0M157.4 128.2h0M157.4 38.5h0M157.5 191.2h0M157.5 154h0M157.6 162.7h0M157.6 29.1h0M157.7 89.4h0M157.7 114.9h0M157.8 56.2h0M157.8 180.6h0M157.8 171h0M157.9 186h0M157.9 110.4h0M158 49.1h0M158 22.4h0M158.1 174.9h0M158.1 47.9h0M158.2 91.8h0M158.2 60.8h0M158.3 175.6h0M158.3 72.2h0M158.4 132.7h0M158.4 35.2h0M158.4 183.8h0M158.5 169.7h0M158.5 50.9h0M158.6 23.9h0M158.6 134.1h0M158.7 77.1h0M158.7 100.2h0M158.8 70.7h0M158.8 178.5h0M158.9 144.3h0M158.9 164.2h0M158.9 67.8h0M159 23.3h0M159 160.2h0M159.1 130.8h0M159.1 185.6h0M159.2 19.1h0M159.2 140.2h0M159.3 74.8h0M159.3 46.8h0M159.4 126.8h0M159.4 168.9h0M159.4 187.5h0M159.5 139.3h0M159.5 145.8h0M159.6 159.1h0M159.6 153.1h0M159.7 53.8h0M159.7 98.8h0M159.8 138.9h0M159.8 106.1h0M159.9 68.7h0M159.9 189h0M160 40.7h0M160 79.7h0M160 162.8h0M160.1 176.9h0M160.1 116.3h0M160.2 57.5h0M160.2 190.7h0M160.3 53.6h0M160.3 35.1h0M160.4 155.6h0M160.4 188.9h0M160.5 187.4h0M160.5 176.4h0M160.5 158.2h0M160.6 16.3h0M160.6 22.8h0M160.7 144.8h0M160.7 119.6h0M160.8 160h0M160.8 128.9h0M160.9 178.3h0M160.9 55.6h0M161 26.7h0M161 134.4h0M161 31.4h0M161.1 67.1h0M161.1 42.6h0M161.2 86.1h0M161.2 111.9h0M161.3 125.5h0M161.3 69h0M161.4 104.5h0M161.4 45.4h0M161.5 166.9h0M161.5 147.1h0M161.5 77.6h0M161.6 173.3h0M161.6 149.9h0M161.7 77.1h0M161.7 41.3h0M161.8 189.3h0M161.8 85.7h0M161.9 145.1h0M161.9 96.7h0M162 44.4h0M162 166h0M162.1 61.7h0M162.1 71.5h0M162.1 96.2h0M162.2 179.8h0M162.2 168.6h0M162.3 104.6h0M162.3 145.6h0M162.4 132.1h0M162.4 33.5h0M162.5 143.4h0M162.5 173.7h0M162.6 96.9h0M162.6 23.8h0M162.6 128.1h0M162.7 157.2h0M162.7 118.8h0M162.8 180h0M162.8 78.4h0M162.9 162.5h0M162.9 99.4h0M163 34.6h0M163 37.3h0M163.1 78.2h0M163.1 179h0M163.1 108h0M163.2 84.9h0M163.2 157.8h0M163.3 181.3h0M163.3 62.1h0M163.4 24.1h0M163.4 46.8h0M163.5 25.5h0M163.5 95.8h0M163.6 50.3h0M163.6 74.4h0M163.7 88.9h0M163.7 139.8h0M163.7 141h0M163.8 181.7h0M163.8 54.7h0M163.9 158.1h0M163.9 141.6h0M164 160.2h0M164 30.5h0M164.1 95.2h0M164.1 37.7h0M164.2 80.3h0M164.2 173.7h0M164.2 129.8h0M164.3 20.8h0M164.3 140.1h0M164.4 130.7h0M164.4 36.2h0M164.5 151h0M164.5 51.4h0M164.6 110.6h0M164.6 60.8h0M164.7 177.4h0M164.7 56.7h0M164.7 57.4h0M164.8 62h0M164.8 108.4h0M164.9 171.5h0M164.9 148.5h0M165 101h0M165 181.6h0M165.1 188.4h0M165.1 180.8h0M165.2 150.3h0M165.2 167.6h0M165.2 162.8h0M165.3 41.5h0M165.3 131h0M165.4 22.3h0M165.4 68.5h0M165.5 74.7h0M165.5 156.5h0M165.6 71h0M165.6 57.1h0M165.7 77.5h0M165.7 107.4h0M165.8 164.7h0M165.8 182.1h0M165.8 58.6h0M165.9 77.4h0M165.9 28.5h0M166 121.6h0M166 89.6h0M166.1 19.6h0M166.1 41h0M166.2 29.8h0M166.2 89h0M166.3 184.6h0M166.3 123.4h0M166.3 177.5h0M166.4 91h0M166.4 184.4h0M166.5 56.7h0M166.5 94.4h0M166.6 155.2h0M166.6 181.1h0M166.7 74.1h0M166.7 137.6h0M166.8 89.4h0M166.8 140.8h0M166.8 44.6h0M166.9 154h0M166.9 149.8h0M167 98.8h0M167 170.9h0M167.1 175.9h0M167.1 129.6h0M167.2 53.2h0M167.2 124h0M167.3 172.6h0M167.3 159.2h0M167.4 52.4h0M167.4 114.2h0M167.4 175.6h0M167.5 126.6h0M167.5 99.4h0M167.6 70.1h0M167.6 128.3h0M167.7 156.6h0M167.7 106h0M167.8 49.2h0M167.8 149.6h0M167.9 46.3h0M167.9 189.7h0M167.9 182h0M168 109.3h0M168 60.3h0M168.1 154.5h0M168.1 83.8h0M168.2 78.9h0M168.2 176h0M168.3 111.4h0M168.3 82.5h0M168.4 30.7h0M168.4 93.6h0M168.4 169.4h0M168.5 154.5h0M168.5 131.6h0M168.6 80.6h0M168.6 180.4h0M168.7 169.3h0M168.7 172.5h0M168.8 102.2h0M168.8 53.2h0M168.9 106.8h0M168.9 164.5h0M168.9 33.4h0M169 133.3h0M169 19.5h0M169.1 160.7h0M169.1 60.7h0M169.2 95.9h0M169.2 29.6h0M169.3 87.9h0M169.3 146h0M169.4 83.7h0M169.4 165.8h0M169.5 145.2h0M169.5 178h0M169.5 93.9h0M169.6 17.1h0M169.6 111.5h0M169.7 106.2h0M169.7 63.8h0M169.8 60.6h0M169.8 76.1h0M169.9 20.6h0M169.9 63.6h0M170 68.4h0M170 109.4h0M170 102.7h0M170.1 113.7h0M170.1 74.3h0M170.2 50.5h0M170.2 166.1h0M170.3 55.6h0M170.3 142.7h0M170.4 157.8h0M170.4 90.3h0M170.5 22.9h0M170.5 124.7h0M170.5 21.8h0M170.6 101h0M170.6 24.6h0M170.7 79.3h0M170.7 59.5h0M170.8 45.3h0M170.8 64.3h0M170.9 181.2h0M170.9 16.7h0M171 146.8h0M171 115h0M171.1 110.9h0M171.1 178h0M171.1 171.6h0M171.2 145.3h0M171.2 131.6h0M171.3 41.8h0M171.3 90.8h0M171.4 98.7h0M171.4 86.1h0M171.5 23.2h0M171.5 42h0M171.6 35.4h0M171.6 171h0M171.6 29.2h0M171.7 23h0M171.7 141.4h0M171.8 84h0M171.8 38.1h0M171.9 139.8h0M171.9 23.7h0M172 160h0M172 71.7h0M172.1 142.4h0M172.1 80.1h0M172.1 187.2h0M172.2 143.9h0M172.2 94.1h0M172.3 135.8h0M172.3 91.8h0M172.4 153.9h0M172.4 86.4h0M172.5 92.8h0M172.5 47.3h0M172.6 29.7h0M172.6 77.1h0M172.6 35.6h0M172.7 87h0M172.7 150.5h0M172.8 172.7h0M172.8 109.1h0M172.9 155.6h0M172.9 80.2h0M173 72.5h0M173 89.2h0M173.1 22h0M173.1 140.3h0M173.2 63h0M173.2 172h0M173.2 164h0M173.3 23.5h0M173.3 97.5h0M173.4 135.8h0M173.4 38h0M173.5 130.5h0M173.5 64h0M173.6 30.9h0M173.6 161.2h0M173.7 178h0M173.7 148.7h0M173.7 190.4h0M173.8 52.6h0M173.8 148.7h0M173.9 134.4h0M173.9 27.3h0M174 37.6h0M174 163h0M174.1 166.4h0M174.1 77.2h0M174.2 183h0M174.2 109.7h0M174.2 166.6h0M174.3 178.4h0M174.3 60.7h0M174.4 60.3h0M174.4 117.4h0M174.5 179.6h0M174.5 152.7h0M174.6 104.4h0M174.6 141.8h0M174.7 164.1h0M174.7 102.8h0M174.8 174.8h0M174.8 96.4h0M174.8 132.9h0M174.9 44h0M174.9 102.9h0M175 157.1h0M175 96.4h0M175.1 68.4h0M175.1 59.4h0M175.2 183.4h0M175.2 34.6h0M175.3 103.5h0M175.3 138.6h0M175.3 60h0M175.4 87.1h0M175.4 166.6h0M175.5 168.8h0M175.5 145.4h0M175.6 56.6h0M175.6 28h0M175.7 138.6h0M175.7 22.5h0M175.8 153.2h0M175.8 136.3h0M175.8 142.5h0M175.9 177.5h0M175.9 34.1h0M176 32.5h0M176 59.3h0M176.1 99.4h0M176.1 161h0M176.2 167h0M176.2 51.5h0M176.3 28.9h0M176.3 54.2h0M176.3 44.1h0M176.4 143.1h0M176.4 135.8h0M176.5 135.1h0M176.5 169.2h0M176.6 26.1h0M176.6 21.2h0M176.7 51.9h0M176.7 86.1h0M176.8 98.6h0M176.8 187.4h0M176.9 75.2h0M176.9 27.9h0M176.9 65.4h0M177 67.8h0M177 190.2h0M177.1 92.2h0M177.1 169h0M177.2 48.5h0M177.2 142.9h0M177.3 185h0M177.3 133.2h0M177.4 149.1h0M177.4 22.9h0M177.4 37.6h0M177.5 30.7h0M177.5 24.7h0M177.6 87.5h0M177.6 37.8h0M177.7 118.3h0M177.7 166.4h0M177.8 129h0M177.8 54.5h0M177.9 105h0M177.9 132.4h0M177.9 36.6h0M178 75.1h0M178 76.3h0M178.1 66.4h0M178.1 128.4h0M178.2 146.8h0M178.2 150.9h0M178.3 45.1h0M178.3 51.4h0M178.4 178.9h0M178.4 122.8h0M178.5 106h0M178.5 143.3h0M178.5 160.2h0M178.6 117.1h0M178.6 153.5h0M178.7 118.5h0M178.7 72.5h0M178.8 21h0M178.8 60.5h0M178.9 179.4h0M178.9 129.3h0M179 83.9h0M179 115.4h0M179 74.7h0M179.1 62.7h0M179.1 136.5h0M179.2 134.2h0M179.2 176.6h0M179.3 134.7h0M179.3 119.7h0M179.4 148.7h0M179.4 58.3h0M179.5 160.2h0M179.5 118.3h0M179.5 89.5h0M179.6 177.6h0M179.6 24.2h0M179.7 187.8h0M179.7 169.4h0M179.8 20.2h0M179.8 117.3h0M179.9 83.3h0M179.9 48.4h0M180 112.7h0M180 129.2h0M180.1 36.5h0M180.1 45.4h0M180.1 178h0M180.2 55.5h0M180.2 69h0M180.3 135.6h0M180.3 43.7h0M180.4 157.2h0M180.4 143.9h0M180.5 109.3h0M180.5 140.3h0M180.6 28.1h0M180.6 69.8h0M180.6 129.3h0M180.7 184.6h0M180.7 105.7h0M180.8 152.1h0M180.8 191.5h0M180.9 65.6h0M180.9 179.9h0M181 102.7h0M181 44.2h0M181.1 26.6h0M181.1 31.1h0M181.1 59h0M181.2 83.3h0M181.2 22.1h0M181.3 123.3h0M181.3 54.4h0M181.4 95.2h0M181.4 65.8h0M181.5 161.8h0M181.5 125h0M181.6 33.2h0M181.6 42.5h0M181.6 44.6h0M181.7 120.7h0M181.7 179.3h0M181.8 30.3h0M181.8 63.6h0M181.9 187.3h0M181.9 56.4h0M182 86.6h0M182 111.4h0M182.1 124.4h0M182.1 40.7h0M182.2 164.4h0M182.2 22h0M182.2 169.2h0M182.3 89.3h0M182.3 17h0M182.4 188.7h0M182.4 107h0M182.5 113.9h0M182.5 67.6h0M182.6 179.7h0M182.6 27.4h0M182.7 165.4h0M182.7 180.6h0M182.7 165.4h0M182.8 184.8h0M182.8 61.9h0M182.9 110.8h0M182.9 125.3h0M183 32.8h0M183 66.5h0M183.1 102.1h0M183.1 90.8h0M183.2 76.7h0M183.2 87.6h0M183.2 109.3h0M183.3 165.6h0M183.3 153.3h0M183.4 96.2h0M183.4 44.8h0M183.5 29h0M183.5 167.2h0M183.6 63.9h0M183.6 160.4h0M183.7 99.5h0M183.7 164.7h0M183.8 42.7h0M183.8 24.3h0M183.8 190.6h0M183.9 132.4h0M183.9 164.7h0M184 71h0M184 163.9h0M184.1 136.9h0M184.1 72.6h0M184.2 107.9h0M184.2 155.1h0M184.3 46.9h0M184.3 45.4h0M184.3 173.3h0M184.4 115.1h0M184.4 78.4h0M184.5 35.5h0M184.5 188.6h0M184.6 161.4h0M184.6 128.3h0M184.7 127.6h0M184.7 180.1h0M184.8 181.4h0M184.8 53h0M184.8 79.1h0M184.9 76.8h0M184.9 124.9h0M185 153.6h0M185 66h0M185.1 113.4h0M185.1 159.5h0M185.2 173.3h0M185.2 159.6h0M185.3 134.9h0M185.3 52.3h0M185.3 59.3h0M185.4 126h0M185.4 150.4h0M185.5 90.1h0M185.5 95.6h0M185.6 190.6h0M185.6 83.7h0M185.7 32.5h0M185.7 87.2h0M185.8 24.6h0M185.8 91.2h0M185.9 168.9h0M185.9 137.5h0M185.9 100.5h0M186 92.7h0M186 26.8h0M186.1 103.1h0M186.1 108.9h0M186.2 144h0M186.2 30.1h0M186.3 64.8h0M186.3 75.8h0M186.4 180.6h0M186.4 70.6h0M186.4 183.6h0M186.5 65.1h0M186.5 55.3h0M186.6 59.6h0M186.6 89.3h0M186.7 69.8h0M186.7 90.2h0M186.8 182.8h0M186.8 153.5h0M186.9 35h0M186.9 142.1h0M186.9 21.5h0M187 148.2h0M187 31.1h0M187.1 37.6h0M187.1 73.9h0M187.2 24.1h0M187.2 111.9h0M187.3 174.2h0M187.3 155.9h0M187.4 176.6h0M187.4 28.6h0M187.5 59.6h0M187.5 182.9h0M187.5 42.3h0M187.6 121.1h0M187.6 176.2h0M187.7 98.5h0M187.7 92.8h0M187.8 87.9h0M187.8 104.4h0M187.9 124.8h0M187.9 174.5h0M188 20.4h0M188 159.2h0M188 40.8h0M188.1 127.8h0M188.1 191.3h0M188.2 24.6h0M188.2 50.2h0M188.3 144.6h0M188.3 82.5h0M188.4 24.3h0M188.4 115.3h0M188.5 23.2h0M188.5 86.5h0M188.5 171.7h0M188.6 62.4h0M188.6 32.1h0M188.7 125.1h0M188.7 103.3h0M188.8 27h0M188.8 47.1h0M188.9 151.7h0M188.9 77.7h0M189 94.3h0M189 151.3h0M189 143h0M189.1 118.1h0M189.1 25.8h0M189.2 153.7h0M189.2 137.5h0M189.3 50.2h0M189.3 87h0M189.4 34.1h0M189.4 120.4h0M189.5 111.9h0M189.5 59.1h0M189.6 108h0M189.6 139.6h0M189.6 123.3h0M189.7 29.9h0M189.7 169.5h0M189.8 171.1h0M189.8 76h0M189.9 189.2h0M189.9 81.3h0M190 140.4h0M190 36.2h0M190.1 58.2h0M190.1 65.9h0M190.1 83.9h0M190.2 172.5h0M190.2 62.1h0M190.3 65.6h0M190.3 141.6h0M190.4 97.8h0M190.4 77.4h0M190.5 120.1h0M190.5 23h0M190.6 24.5h0M190.6 96.4h0M190.6 163.8h0M190.7 63.9h0M190.7 28.4h0M190.8 178.9h0M190.8 123.4h0M190.9 83.1h0M190.9 76.5h0M191 49.6h0M191 157.4h0M191.1 99.7h0M191.1 18.1h0M191.2 83.1h0M191.2 66.6h0M191.2 69.9h0M191.3 151.8h0M191.3 161.4h0M191.4 28.1h0M191.4 187.6h0M191.5 111h0M191.5 44.3h0M191.6 190h0M191.6 59.3h0M191.7 119h0M191.7 52.2h0M191.7 93h0M191.8 25.2h0M191.8 182.6h0M191.9 145.3h0M191.9 136.9h0M192 89.7h0M192 36.5h0M192.1 126.9h0M192.1 88.8h0M192.2 118.9h0M192.2 154h0M192.2 166.6h0M192.3 57.4h0M192.3 84.6h0M192.4 122.5h0M192.4 96.1h0M192.5 177.1h0M192.5 111.1h0M192.6 153.9h0M192.6 31.7h0M192.7 45.5h0M192.7 46.2h0M192.7 22.2h0M192.8 72.5h0M192.8 143.2h0M192.9 49.5h0M192.9 174.7h0M193 74.2h0M193 120.5h0M193.1 42.9h0M193.1 114.2h0M193.2 38h0M193.2 19.7h0M193.3 158.1h0M193.3 120.9h0M193.3 181.5h0M193.4 86.6h0M193.4 93.6h0M193.5 101.1h0M193.5 53.8h0M193.6 92.2h0M193.6 163.8h0M193.7 140.4h0M193.7 110h0M193.8 172.8h0M193.8 134.2h0M193.8 139.8h0M193.9 156h0M193.9 66.8h0M194 119.3h0M194 143.5h0M194.1 66.4h0M194.1 114h0M194.2 50.6h0M194.2 111.2h0M194.3 50.2h0M194.3 19.2h0M194.3 176.6h0M194.4 182.6h0M194.4 165.8h0M194.5 144.4h0M194.5 63.8h0M194.6 131.7h0M194.6 81.9h0M194.7 146.5h0M194.7 166.7h0M194.8 187.3h0M194.8 33.2h0M194.9 24.7h0M194.9 146.8h0M194.9 74.4h0M195 55.5h0M195 180h0M195.1 55.5h0M195.1 123.4h0M195.2 185h0M195.2 71.5h0M195.3 78.1h0M195.3 146h0M195.4 131.3h0M195.4 123.3h0M195.4 30.5h0M195.5 16.4h0M195.5 99h0M195.6 150.4h0M195.6 101.8h0M195.7 88.2h0M195.7 132.6h0M195.8 19.9h0M195.8 59.6h0M195.9 191.7h0M195.9 137.8h0M195.9 81.5h0M196 48.1h0M196 107.7h0M196.1 105.9h0M196.1 181.7h0M196.2 61.3h0M196.2 166.6h0M196.3 16.7h0M196.3 115.5h0M196.4 76.6h0M196.4 142.7h0M196.4 109.5h0M196.5 108.5h0M196.5 182.6h0M196.6 27.2h0M196.6 173.3h0M196.7 146.1h0M196.7 189.4h0M196.8 32.9h0M196.8 28.6h0M196.9 188h0M196.9 110.7h0M197 110.9h0M197 116.7h0M197 23.8h0M197.1 20.1h0M197.1 134.8h0M197.2 103.4h0M197.2 120.6h0M197.3 40.9h0M197.3 162.7h0M197.4 124.5h0M197.4 52.3h0M197.5 36.9h0M197.5 63.4h0M197.5 161.4h0M197.6 54h0M197.6 115h0M197.7 19.3h0M197.7 69.9h0M197.8 180.2h0M197.8 174.1h0M197.9 167.5h0M197.9 148.4h0M198 116.9h0M198 29.1h0M198 63.5h0M198.1 150h0M198.1 119.6h0M198.2 129h0M198.2 109.8h0M198.3 18.6h0M198.3 145.2h0M198.4 190.3h0M198.4 58.4h0M198.5 51.5h0M198.5 173.3h0M198.6 186h0M198.6 168.6h0M198.6 180.4h0M198.7 125h0M198.7 90.6h0M198.8 158.2h0M198.8 134.2h0M198.9 111.4h0M198.9 23.5h0M199 23.2h0M199 92.4h0M199.1 63.4h0M199.1 116.7h0M199.1 170.3h0M199.2 98.9h0M199.2 57.7h0M199.3 101.2h0M199.3 25.5h0M199.4 148h0M199.4 151.4h0M199.5 24.7h0M199.5 76.6h0M199.6 64.5h0M199.6 36.9h0M199.6 150.9h0M199.7 38.4h0M199.7 70.6h0M199.8 188.1h0M199.8 161.8h0M199.9 182.2h0M199.9 105.9h0M200 161.2h0M200 130.8h0M200.1 166.4h0M200.1 71h0M200.1 39.3h0M200.2 50.3h0M200.2 150h0M200.3 31.8h0M200.3 88.3h0M200.4 57h0M200.4 47.1h0M200.5 31.2h0M200.5 135.6h0M200.6 151.1h0M200.6 127.2h0M200.7 153.4h0M200.7 118.7h0M200.7 185.9h0M200.8 115.4h0M200.8 115.2h0M200.9 156h0M200.9 129.8h0M201 102.2h0M201 127.8h0M201.1 161.3h0M201.1 165.3h0M201.2 165h0M201.2 61.4h0M201.2 55.3h0M201.3 48.1h0M201.3 45.9h0M201.4 115.3h0M201.4 110.3h0M201.5 142h0M201.5 45.5h0M201.6 167.4h0M201.6 45.5h0M201.7 64.6h0M201.7 46h0M201.7 154.9h0M201.8 137.1h0M201.8 147.1h0M201.9 118.2h0M201.9 112.7h0M202 75.6h0M202 93.7h0M202.1 43.5h0M202.1 30.8h0M202.2 119.7h0M202.2 32.2h0M202.3 138.4h0M202.3 96.8h0M202.3 107.3h0M202.4 166.1h0M202.4 87.8h0M202.5 36.4h0M202.5 56.4h0M202.6 143.3h0M202.6 88.1h0M202.7 26.5h0M202.7 119.7h0M202.8 128.9h0M202.8 105.8h0M202.8 186.7h0M202.9 32h0M202.9 101.9h0M203 137.5h0M203 182.6h0M203.1 172.2h0M203.1 22.3h0M203.2 67h0M203.2 108.6h0M203.3 178.5h0M203.3 33.2h0M203.3 90.4h0M203.4 113.4h0M203.4 126.3h0M203.5 42.3h0M203.5 131.8h0M203.6 24.9h0M203.6 111.2h0M203.7 131.8h0M203.7 132.2h0M203.8 127.5h0M203.8 143.4h0M203.8 115.3h0M203.9 169.5h0M203.9 24.9h0M204 113h0M204 146.3h0M204.1 37.5h0M204.1 73.2h0M204.2 45.2h0M204.2 70h0M204.3 29.9h0M204.3 24.3h0M204.4 28.3h0M204.4 41.8h0M204.4 50.6h0M204.5 36h0M204.5 99.2h0M204.6 166.3h0M204.6 84.9h0M204.7 111.7h0M204.7 156.8h0M204.8 109.3h0M204.8 124.5h0M204.9 177.3h0M204.9 136.1h0M204.9 100.2h0M205 130.3h0M205 33h0M205.1 68h0M205.1 92.1h0M205.2 171.9h0M205.2 112.6h0M205.3 116.4h0M205.3 72.5h0M205.4 140.9h0M205.4 122.6h0M205.4 61.1h0M205.5 79.6h0M205.5 177.1h0M205.6 183.1h0M205.6 116h0M205.7 54.5h0M205.7 136h0M205.8 180.8h0M205.8 134.9h0M205.9 34.8h0M205.9 64.5h0M206 88.8h0M206 89.8h0M206 113.9h0M206.1 181.9h0M206.1 48.2h0M206.2 39.8h0M206.2 84.8h0M206.3 72.7h0M206.3 132.6h0M206.4 111.2h0M206.4 99h0M206.5 75h0M206.5 105.5h0M206.5 86.6h0M206.6 138.4h0M206.6 20.7h0M206.7 94.6h0M206.7 131.7h0M206.8 117.1h0M206.8 147.1h0M206.9 91.2h0M206.9 168.7h0M207 157.7h0M207 192h0M207 73.4h0M207.1 88.5h0M207.1 184.3h0M207.2 70.7h0M207.2 119.3h0M207.3 129.8h0M207.3 180.4h0M207.4 147.5h0M207.4 21.9h0M207.5 188.2h0M207.5 56.2h0M207.5 152.3h0M207.6 157h0M207.6 107.9h0M207.7 34.7h0M207.7 93.8h0M207.8 104h0M207.8 170.3h0M207.9 44.9h0M207.9 28.3h0M208 154h0M208 179.9h0M208.1 140.4h0M208.1 135.9h0M208.1 84.3h0M208.2 105.1h0M208.2 128.2h0M208.3 168.8h0M208.3 137.4h0M208.4 78h0M208.4 179.6h0M208.5 148.1h0M208.5 41.3h0M208.6 30.1h0M208.6 63.6h0M208.6 102.6h0M208.7 81.3h0M208.7 143.5h0M208.8 139.7h0M208.8 132.2h0M208.9 139.1h0M208.9 169.9h0M209 135.9h0M209 101h0M209.1 55.6h0M209.1 91.5h0M209.1 41.2h0M209.2 60.2h0M209.2 135h0M209.3 61.8h0M209.3 129.2h0M209.4 49.7h0M209.4 98.4h0M209.5 113.7h0M209.5 82.2h0M209.6 115.9h0M209.6 159.8h0M209.7 110.6h0M209.7 154.3h0M209.7 150.4h0M209.8 87.1h0M209.8 180.2h0M209.9 184.3h0M209.9 137.2h0M210 39.5h0M210 18.3h0M210.1 42.9h0M210.1 65.3h0M210.2 122.1h0M210.2 138.8h0M210.2 79.5h0M210.3 25.1h0M210.3 175.9h0M210.4 98.3h0M210.4 120.9h0M210.5 146.1h0M210.5 154.7h0M210.6 167.7h0M210.6 31.3h0M210.7 119.8h0M210.7 134.2h0M210.7 48.8h0M210.8 115.2h0M210.8 171.7h0M210.9 140.3h0M210.9 141h0M211 99.6h0M211 74.3h0M211.1 19.4h0M211.1 58.4h0M211.2 69.8h0M211.2 173.1h0M211.2 29.4h0M211.3 40.3h0M211.3 162h0M211.4 169h0M211.4 98.6h0M211.5 32.1h0M211.5 146h0M211.6 20.4h0M211.6 73.6h0M211.7 34.8h0M211.7 89.8h0M211.8 101.4h0M211.8 142.9h0M211.8 18.1h0M211.9 116.3h0M211.9 158.4h0M212 120.6h0M212 151h0M212.1 167.8h0M212.1 59.8h0M212.2 113h0M212.2 67.1h0M212.3 41h0M212.3 119h0M212.3 104.1h0M212.4 141.9h0M212.4 99.8h0M212.5 92h0M212.5 18.7h0M212.6 135.2h0M212.6 176.5h0M212.7 27.8h0M212.7 39.6h0M212.8 39.9h0M212.8 191.2h0M212.8 151.6h0M212.9 77.5h0M212.9 115.3h0M213 101.9h0M213 119.4h0M213.1 101.3h0M213.1 54.5h0M213.2 66.8h0M213.2 125.3h0M213.3 63.2h0M213.3 176.9h0M213.4 129.2h0M213.4 182.6h0M213.4 65.4h0M213.5 108.3h0M213.5 117.2h0M213.6 118.6h0M213.6 136.3h0M213.7 88.7h0M213.7 161.5h0M213.8 104.9h0M213.8 167.2h0M213.9 174.9h0M213.9 140.5h0M213.9 55.3h0M214 66.1h0M214 92h0M214.1 116.4h0M214.1 175.4h0M214.2 42.6h0M214.2 17.5h0M214.3 84.3h0M214.3 138.6h0M214.4 186.8h0M214.4 22.2h0M214.4 146.7h0M214.5 179h0M214.5 144h0M214.6 168.8h0M214.6 101.9h0M214.7 159.9h0M214.7 58.5h0M214.8 19.7h0M214.8 33.1h0M214.9 112.1h0M214.9 36.8h0M214.9 70.9h0M215 147.1h0M215 171.5h0M215.1 106h0M215.1 189.4h0M215.2 150.3h0M215.2 177.5h0M215.3 51.9h0M215.3 73.5h0M215.4 53.4h0M215.4 191.9h0M215.5 163.4h0M215.5 78.6h0M215.5 180.3h0M215.6 116.4h0M215.6 160.1h0M215.7 130.7h0M215.7 173.1h0M215.8 95.3h0M215.8 63.7h0M215.9 88.3h0M215.9 130.1h0M216 26.3h0M216 49.5h0M216 29.3h0M216.1 65.8h0M216.1 56h0M216.2 113.1h0M216.2 133.5h0M216.3 71.5h0M216.3 105.2h0M216.4 80.5h0M216.4 125.2h0M216.5 43.1h0M216.5 78.8h0M216.5 44.1h0M216.6 169.1h0M216.6 29.5h0M216.7 148h0M216.7 119.7h0M216.8 183.6h0M216.8 58.8h0M216.9 99.2h0M216.9 142.7h0M217 79.6h0M217 118.1h0M217.1 32.3h0M217.1 64.4h0M217.1 102.1h0M217.2 86.3h0M217.2 160.4h0M217.3 59.3h0M217.3 42.9h0M217.4 113.3h0M217.4 21.5h0M217.5 161h0M217.5 30.3h0M217.6 175.7h0M217.6 36.6h0M217.6 44.4h0M217.7 94.9h0M217.7 109.4h0M217.8 25.7h0M217.8 148.8h0M217.9 16.8h0M217.9 101.5h0M218 67.8h0M218 170.1h0M218.1 143.8h0M218.1 180.3h0M218.1 146.8h0M218.2 134.2h0M218.2 187h0M218.3 80.6h0M218.3 61.3h0M218.4 73.4h0M218.4 22.5h0M218.5 75.3h0M218.5 121.5h0M218.6 181.6h0M218.6 160.3h0M218.6 105.2h0M218.7 76.9h0M218.7 168h0M218.8 53h0M218.8 118.3h0M218.9 164h0M218.9 107.5h0M219 181.9h0M219 105h0M219.1 30.2h0M219.1 126h0M219.2 173.7h0M219.2 68h0M219.2 90.7h0M219.3 89.4h0M219.3 175.9h0M219.4 61.4h0M219.4 92.5h0M219.5 73.5h0M219.5 141.3h0M219.6 160.4h0M219.6 90h0M219.7 54.4h0M219.7 79.1h0M219.7 87.4h0M219.8 40.9h0M219.8 49.3h0M219.9 26.5h0M219.9 59.8h0M220 93.4h0M220 17.8h0M220.1 138.1h0M220.1 80.6h0M220.2 16.6h0M220.2 74.4h0M220.2 69.6h0M220.3 104.7h0M220.3 129.2h0M220.4 81.2h0M220.4 82.9h0M220.5 34.6h0M220.5 114h0M220.6 33.7h0M220.6 132.3h0M220.7 153.6h0M220.7 130.1h0M220.8 68.8h0M220.8 25.2h0M220.8 69.9h0M220.9 149.9h0M220.9 138.3h0M221 143.6h0M221 151.2h0M221.1 117.8h0M221.1 55.8h0M221.2 84.8h0M221.2 39.1h0M221.3 54.1h0M221.3 81.1h0M221.3 37.1h0M221.4 188.9h0M221.4 162.5h0M221.5 69.5h0M221.5 28.5h0M221.6 156h0M221.6 99.5h0M221.7 93.7h0M221.7 105.7h0M221.8 58.7h0M221.8 108.5h0M221.8 159.5h0M221.9 130.4h0M221.9 147.9h0M222 152.4h0M222 179.7h0M222.1 81.5h0M222.1 166.9h0M222.2 172h0M222.2 71.1h0M222.3 101.8h0M222.3 27.1h0M222.3 111.5h0M222.4 25.4h0M222.4 120.6h0M222.5 170.2h0M222.5 144.3h0M222.6 74.9h0M222.6 91.3h0M222.7 40.6h0M222.7 83.6h0M222.8 52.7h0M222.8 134.9h0M222.9 80.1h0M222.9 100.2h0M222.9 23.8h0M223 21.7h0M223 64.4h0M223.1 45.4h0M223.1 115.5h0M223.2 25.5h0M223.2 52.5h0M223.3 144.3h0M223.3 56.2h0M223.4 170.5h0M223.4 92.6h0M223.4 171.5h0M223.5 29.3h0M223.5 135.7h0M223.6 187.3h0M223.6 59.5h0M223.7 171.6h0M223.7 98.8h0M223.8 156.2h0M223.8 46.6h0M223.9 148.2h0M223.9 154.8h0M223.9 70.4h0M224 16.7h0M224 96.3h0M224.1 150h0M224.1 185.8h0M224.2 164.8h0M224.2 116.3h0M224.3 39.6h0M224.3 102.5h0M224.4 85.7h0M224.4 50.7h0M224.5 61.7h0M224.5 96.6h0M224.5 99.9h0M224.6 29.6h0M224.6 119.4h0M224.7 178h0M224.7 167.2h0M224.8 59.7h0M224.8 89.3h0M224.9 117.1h0M224.9 184.5h0M225 87.6h0M225 107h0M225 148h0M225.1 44.2h0M225.1 160.9h0M225.2 122.5h0M225.2 133h0M225.3 144.2h0M225.3 137.9h0M225.4 77h0M225.4 158h0M225.5 149.2h0M225.5 191.4h0M225.5 95.2h0M225.6 178.8h0M225.6 146.4h0M225.7 153.6h0M225.7 60.5h0M225.8 183.5h0M225.8 138.8h0M225.9 72.4h0M225.9 155h0M226 140.1h0M226 190.7h0M226 92.8h0M226.1 140.6h0M226.1 68.9h0M226.2 28.5h0M226.2 92h0M226.3 44.4h0M226.3 185.7h0M226.4 18.3h0M226.4 73.5h0M226.5 16.2h0M226.5 86.8h0M226.6 169.8h0M226.6 75h0M226.6 153h0M226.7 63.1h0M226.7 171.2h0M226.8 52.3h0M226.8 132.7h0M226.9 74.3h0M226.9 92.5h0M227 98.6h0M227 161.4h0M227.1 50.3h0M227.1 93.2h0M227.1 96.6h0M227.2 113.6h0M227.2 31.2h0M227.3 44h0M227.3 157.2h0M227.4 100.2h0M227.4 129.6h0M227.5 100.8h0M227.5 34.4h0M227.6 87.7h0M227.6 162.9h0M227.6 54.8h0M227.7 86.3h0M227.7 28h0M227.8 176.4h0M227.8 131.6h0M227.9 98.3h0M227.9 162.7h0M228 141.1h0M228 81.3h0M228.1 187.6h0M228.1 156.6h0M228.2 105.6h0M228.2 109.5h0M228.2 69.1h0M228.3 22h0M228.3 188h0M228.4 85.6h0M228.4 166.3h0M228.5 171.3h0M228.5 72.1h0M228.6 130.8h0M228.6 27.2h0M228.7 90.3h0M228.7 124.8h0M228.7 185h0M228.8 154.4h0M228.8 71.4h0M228.9 119.8h0M228.9 32.9h0M229 88.7h0M229 98h0M229.1 140.4h0M229.1 116.4h0M229.2 35.4h0M229.2 60.3h0M229.2 26.9h0M229.3 84.9h0M229.3 21.6h0M229.4 189.6h0M229.4 56.7h0M229.5 138.7h0M229.5 18.6h0M229.6 124.9h0M229.6 153.4h0M229.7 67.2h0M229.7 137.6h0M229.7 34.8h0M229.8 44.8h0M229.8 152.6h0M229.9 59.1h0M229.9 29.3h0M230 157.2h0M230 148h0M230.1 123.5h0M230.1 78.2h0M230.2 51.3h0M230.2 102.7h0M230.3 148.4h0M230.3 64.3h0M230.3 176.8h0M230.4 101.2h0M230.4 170h0M230.5 57.1h0M230.5 85.1h0M230.6 63.7h0M230.6 135.8h0M230.7 29.5h0M230.7 23h0M230.8 188.3h0M230.8 73.7h0M230.8 147.5h0M230.9 43.2h0M230.9 122.5h0M231 25.8h0M231 142.2h0M231.1 59.2h0M231.1 104.9h0M231.2 185.9h0M231.2 90.1h0M231.3 54.9h0M231.3 152.2h0M231.3 16.7h0M231.4 47.1h0M231.4 74.1h0M231.5 57.8h0M231.5 56.1h0M231.6 23.6h0M231.6 129h0M231.7 125.8h0M231.7 77.7h0M231.8 145.4h0M231.8 165.3h0M231.9 91h0M231.9 189.9h0M231.9 58.9h0M232 171.9h0M232 184.4h0M232.1 31.1h0M232.1 70.2h0M232.2 180.7h0M232.2 20.6h0M232.3 86.9h0M232.3 78h0M232.4 108.1h0M232.4 81.1h0M232.4 119.8h0M232.5 131.4h0M232.5 86.3h0M232.6 55.6h0M232.6 96.2h0M232.7 86.1h0M232.7 137.5h0M232.8 155h0M232.8 157h0M232.9 34.2h0M232.9 22.6h0M232.9 135.4h0M233 83.5h0M233 145.3h0M233.1 183.3h0M233.1 136.5h0M233.2 113.8h0M233.2 72.6h0M233.3 30.9h0M233.3 163.1h0M233.4 44.5h0M233.4 44.1h0M233.4 176h0M233.5 188.5h0M233.5 52.6h0M233.6 185.5h0M233.6 104.6h0M233.7 89.5h0M233.7 190.2h0M233.8 159.1h0M233.8 178.1h0M233.9 80.7h0M233.9 60.1h0M234 37.7h0M234 97.4h0M234 22.4h0M234.1 52.5h0M234.1 100.7h0M234.2 185.6h0M234.2 114.3h0M234.3 16.4h0M234.3 134.7h0M234.4 190.2h0M234.4 123.6h0M234.5 115h0M234.5 17h0M234.5 82.9h0M234.6 74.3h0M234.6 76.2h0M234.7 85.5h0M234.7 148h0M234.8 152.9h0M234.8 62.3h0M234.9 119.1h0M234.9 62.2h0M235 16.8h0M235 46.4h0M235 49.5h0M235.1 178.5h0M235.1 118.3h0M235.2 170.8h0M235.2 160.7h0M235.3 68h0M235.3 23.8h0M235.4 169.2h0M235.4 81h0M235.5 142.9h0M235.5 153.8h0M235.6 170.6h0M235.6 106.4h0M235.6 100.9h0M235.7 75.9h0M235.7 172.4h0M235.8 97.2h0M235.8 38h0M235.9 148.1h0M235.9 146.8h0M236 95.4h0M236 70.7h0M236.1 59.7h0M236.1 132.4h0M236.1 164.3h0M236.2 164.8h0M236.2 43.4h0M236.3 178.9h0M236.3 162.3h0M236.4 157.7h0M236.4 189.9h0M236.5 131h0M236.5 159.7h0M236.6 189.5h0M236.6 55.2h0M236.6 96.6h0M236.7 150.2h0M236.7 168.7h0M236.8 62h0M236.8 164.7h0M236.9 140.5h0M236.9 137.5h0M237 73.2h0M237 26.1h0M237.1 100.3h0M237.1 89.4h0M237.2 73.8h0M237.2 135.8h0M237.2 142.3h0M237.3 182.9h0M237.3 167h0M237.4 149.6h0M237.4 48.8h0M237.5 134.4h0M237.5 20h0M237.6 134.8h0M237.6 176h0M237.7 151.1h0M237.7 165.1h0M237.7 30.4h0M237.8 67.1h0M237.8 98h0M237.9 72.7h0M237.9 147.2h0M238 62.4h0M238 32.5h0M238.1 127.6h0M238.1 81.6h0M238.2 126.8h0M238.2 125.7h0M238.2 105h0M238.3 171.8h0M238.3 43.1h0M238.4 55.9h0M238.4 136.3h0M238.5 53h0M238.5 186.3h0M238.6 83.6h0M238.6 59.9h0M238.7 34.7h0M238.7 47.3h0M238.7 47.3h0M238.8 77.1h0M238.8 139.2h0M238.9 188.6h0M238.9 118.5h0M239 145.6h0M239 37.2h0M239.1 104.9h0M239.1 169.5h0M239.2 37.5h0M239.2 27.1h0M239.3 165h0M239.3 36.9h0M239.3 148.3h0M239.4 173h0M239.4 140.4h0M239.5 188h0M239.5 164.5h0M239.6 166.2h0M239.6 182.9h0M239.7 98.1h0M239.7 29.4h0M239.8 104.2h0M239.8 49.8h0M239.8 51.4h0M239.9 109.2h0M239.9 37.7h0M240 18.1h0M240 60.4h0M240.1 162.6h0M240.1 66.4h0M240.2 170.7h0M240.2 26h0M240.3 57.1h0M240.3 127.3h0M240.3 165.4h0M240.4 109.6h0M240.4 80.5h0M240.5 61.3h0M240.5 172.5h0M240.6 133.9h0M240.6 165.3h0M240.7 49.2h0M240.7 176h0M240.8 175.4h0M240.8 83.5h0M240.9 117.1h0M240.9 63.8h0M240.9 152.1h0M241 135.2h0M241 87.8h0M241.1 88.3h0M241.1 78.2h0M241.2 79.7h0M241.2 185.3h0M241.3 157.3h0M241.3 140.4h0M241.4 76.8h0M241.4 77.4h0M241.4 43.5h0M241.5 134.1h0M241.5 190.1h0M241.6 67h0M241.6 92.5h0M241.7 104.1h0M241.7 138.9h0M241.8 170.2h0M241.8 30.8h0M241.9 138.5h0M241.9 125.8h0M241.9 87.8h0M242 155.2h0M242 77h0M242.1 139h0M242.1 173.4h0M242.2 54.3h0M242.2 88.8h0M242.3 98h0M242.3 173.7h0M242.4 59.5h0M242.4 123.7h0M242.4 148.6h0M242.5 106h0M242.5 55.9h0M242.6 100.6h0M242.6 67.1h0M242.7 16.8h0M242.7 135.5h0M242.8 170.8h0M242.8 160.9h0M242.9 56h0M242.9 112.1h0M243 84.8h0M243 119.2h0M243 69.8h0M243.1 158h0M243.1 72.8h0M243.2 150.4h0M243.2 63.6h0M243.3 18.7h0M243.3 173.1h0M243.4 82h0M243.4 89.6h0M243.5 191.7h0M243.5 178.2h0M243.5 182.9h0M243.6 161.4h0M243.6 184.9h0M243.7 186.1h0M243.7 45.2h0M243.8 157.4h0M243.8 31.1h0M243.9 149.9h0M243.9 117.2h0M244 155.5h0M244 22.9h0M244 34.8h0M244.1 24.3h0M244.1 91.2h0M244.2 126.8h0M244.2 154.2h0M244.3 156.7h0M244.3 79.9h0M244.4 29.3h0M244.4 56.2h0M244.5 20.2h0M244.5 136.4h0M244.6 190.4h0M244.6 27.3h0M244.6 184.4h0M244.7 89.3h0M244.7 78.8h0M244.8 142.1h0M244.8 70.2h0M244.9 181.9h0M244.9 173.9h0M245 133.7h0M245 78h0M245.1 35.5h0M245.1 127.1h0M245.1 145.5h0M245.2 38h0M245.2 136.8h0M245.3 30.4h0M245.3 121.9h0M245.4 122.5h0M245.4 177.2h0M245.5 42.6h0M245.5 146.6h0M245.6 30.4h0M245.6 96.9h0M245.6 90.9h0M245.7 127.9h0M245.7 188.5h0M245.8 116.6h0M245.8 183.5h0M245.9 144.8h0M245.9 87.1h0M246 101.7h0M246 53.3h0M246.1 93.4h0M246.1 184h0M246.1 97.7h0M246.2 157.3h0M246.2 113.5h0M246.3 167.2h0M246.3 164.4h0M246.4 144.2h0M246.4 171.7h0M246.5 43h0M246.5 57.7h0M246.6 175.1h0M246.6 149.5h0M246.7 161.7h0M246.7 63.7h0M246.7 180.5h0M246.8 135.2h0M246.8 34h0M246.9 121.6h0M246.9 157.2h0M247 30.5h0M247 55.4h0M247.1 45.8h0M247.1 164.9h0M247.2 158h0M247.2 19h0M247.2 112.4h0M247.3 89.1h0M247.3 190.7h0M247.4 71.6h0M247.4 30.9h0M247.5 58.7h0M247.5 166.4h0M247.6 38.8h0M247.6 118.4h0M247.7 133.3h0M247.7 149.3h0M247.7 90.1h0M247.8 107.9h0M247.8 143.8h0M247.9 160.7h0M247.9 86.5h0M248 125.6h0M248 74.8h0M248.1 75.9h0M248.1 134.3h0M248.2 182.8h0M248.2 183.7h0M248.3 78h0M248.3 137.5h0M248.3 26.6h0M248.4 182.1h0M248.4 123.5h0M248.5 189.4h0M248.5 96.6h0M248.6 86.9h0M248.6 174.3h0M248.7 90.6h0M248.7 154.7h0M248.8 112.2h0M248.8 160.2h0M248.8 91.6h0M248.9 169.8h0M248.9 92.6h0M249 94.7h0M249 92.2h0M249.1 108.4h0M249.1 182.3h0M249.2 117.2h0M249.2 102.2h0M249.3 189.7h0M249.3 163.1h0M249.3 187.8h0M249.4 97.8h0M249.4 126h0M249.5 185.9h0M249.5 177.8h0M249.6 95.8h0M249.6 156.4h0M249.7 85h0M249.7 25.3h0M249.8 74.2h0M249.8 106.7h0M249.8 48.5h0M249.9 143.1h0M249.9 101.2h0M250 77.2h0M250 131.5h0M250.1 107.7h0M250.1 121.1h0M250.2 161h0M250.2 39.4h0M250.3 164.2h0M250.3 56.2h0M250.4 37h0M250.4 67.4h0M250.4 59.3h0M250.5 127h0M250.5 111.2h0M250.6 103.3h0M250.6 37.1h0M250.7 99.5h0M250.7 157.4h0M250.8 106.9h0M250.8 85.9h0M250.9 178h0M250.9 74.1h0M250.9 84.1h0M251 170.6h0M251 152.6h0M251.1 19.5h0M251.1 145.8h0M251.2 137.3h0M251.2 120.5h0M251.3 121.3h0M251.3 185.8h0M251.4 107.7h0M251.4 59.6h0M251.4 179.8h0M251.5 101h0M251.5 134.3h0M251.6 160.5h0M251.6 161.4h0M251.7 181h0M251.7 72.4h0M251.8 145.3h0M251.8 161.3h0M251.9 31.3h0M251.9 53h0M252 117.6h0M252 114.1h0M252 30.6h0M252.1 25h0M252.1 128.6h0M252.2 105.6h0M252.2 178.2h0M252.3 58.5h0M252.3 191.7h0M252.4 88.1h0M252.4 105.5h0M252.5 121.7h0M252.5 187.3h0M252.5 46.2h0M252.6 169.2h0M252.6 144.7h0M252.7 68.5h0M252.7 127.7h0M252.8 191.1h0M252.8 148.8h0M252.9 191.2h0M252.9 99.1h0M253 133.4h0M253 132.5h0M253 26.6h0M253.1 115.8h0M253.1 58.7h0M253.2 87.4h0M253.2 190.2h0M253.3 110.5h0M253.3 153.7h0M253.4 179.2h0M253.4 84.9h0M253.5 189.8h0M253.5 82.8h0M253.5 127h0M253.6 167.5h0M253.6 126.5h0M253.7 168.4h0M253.7 70.6h0M253.8 168.9h0M253.8 47.4h0M253.9 164.5h0M253.9 139.2h0M254 78.6h0M254 74.9h0M254.1 151h0M254.1 78.1h0M254.1 175.2h0M254.2 135.7h0M254.2 149.1h0M254.3 140.4h0M254.3 157.4h0M254.4 39.6h0M254.4 97.3h0M254.5 80.3h0M254.5 116.9h0M254.6 144.3h0M254.6 55.1h0M254.6 44.6h0M254.7 67.3h0M254.7 127.4h0M254.8 131.3h0M254.8 140.1h0M254.9 96h0M254.9 80.5h0M255 33.9h0M255 54.7h0M255.1 123.6h0M255.1 173.9h0M255.1 88.2h0M255.2 155.4h0M255.2 151.7h0M255.3 170.6h0M255.3 94.1h0M255.4 97.7h0M255.4 124h0M255.5 120.5h0M255.5 187.6h0M255.6 74.3h0M255.6 20.7h0M255.7 28.8h0M255.7 31.2h0M255.7 143.2h0M255.8 94.8h0M255.8 175.9h0M255.9 174.6h0M255.9 63.1h0M256 71.6h0M256 178.1h0M256.1 186.4h0M256.1 78.3h0M256.2 84.6h0M256.2 86.3h0M256.2 74.6h0M256.3 162.5h0M256.3 155.6h0M256.4 64.7h0M256.4 122.6h0M256.5 132.1h0M256.5 134.4h0M256.6 126.2h0M256.6 146.6h0M256.7 153.3h0M256.7 22.1h0M256.7 147.1h0M256.8 110h0M256.8 178.7h0M256.9 51.6h0M256.9 99.3h0M257 132.4h0M257 53.8h0M257.1 103.6h0M257.1 21h0M257.2 121.2h0M257.2 85.6h0M257.2 96.8h0M257.3 85.3h0M257.3 140.3h0M257.4 45.4h0M257.4 138h0M257.5 58.8h0M257.5 184.7h0M257.6 23.6h0M257.6 119.9h0M257.7 123.1h0M257.7 43.8h0M257.8 162.1h0M257.8 125.2h0M257.8 167.6h0M257.9 64.5h0M257.9 26.3h0M258 67.4h0M258 77.3h0M258.1 97.5h0M258.1 140.5h0M258.2 96.8h0M258.2 36.3h0M258.3 142.5h0M258.3 168.6h0M258.3 126.9h0M258.4 122.1h0M258.4 56.3h0M258.5 186.6h0M258.5 108.3h0M258.6 117h0M258.6 129.7h0M258.7 18.2h0M258.7 159.5h0M258.8 181h0M258.8 137.8h0M258.8 156.5h0M258.9 189.1h0M258.9 86.4h0M259 76.5h0M259 89.4h0M259.1 181.6h0M259.1 27.7h0M259.2 118.4h0M259.2 116.6h0M259.3 41.8h0M259.3 171.2h0M259.4 62.9h0M259.4 42.1h0M259.4 187.6h0M259.5 123h0M259.5 35.7h0M259.6 185.8h0M259.6 179.6h0M259.7 153.4h0M259.7 151.9h0M259.8 119.9h0M259.8 153.6h0M259.9 113.1h0M259.9 111.1h0M259.9 75.6h0M260 134.2h0M260 59h0M260.1 175.2h0M260.1 17.2h0M260.2 155.3h0M260.2 133h0M260.3 180.5h0M260.3 28.5h0M260.4 169.9h0M260.4 167.3h0M260.4 18.5h0M260.5 93.9h0M260.5 73.8h0M260.6 119.4h0M260.6 70.1h0M260.7 74.9h0M260.7 167.5h0M260.8 124.4h0M260.8 158.4h0M260.9 22.1h0M260.9 190.7h0M260.9 182.5h0M261 118.2h0M261 24.1h0M261.1 51.4h0M261.1 56h0M261.2 88.1h0M261.2 161.9h0M261.3 189.8h0M261.3 48.6h0M261.4 24h0M261.4 97.8h0M261.5 51.5h0M261.5 67.1h0M261.5 90.1h0M261.6 85.1h0M261.6 104.2h0M261.7 110.2h0M261.7 149.3h0M261.8 103.4h0M261.8 112.5h0M261.9 28.9h0M261.9 75.7h0M262 176.1h0M262 39.4h0M112.2 191.4h0M64.9 191.4h0M65.5 191.4h0M197.5 191.4h0M171.9 191.4h0M64.1 191.4h0M92.3 191.4h0M113.8 191.4h0M215.5 191.4h0M240.8 191.4h0M234.5 191.4h0M91 191.4h0M153.5 191.4h0M115.8 191.4h0M120.6 191.4h0M188.1 191.4h0M56.7 191.4h0M103.9 191.4h0M156.6 191.4h0M46.7 191.4h0M173 191.4h0M34.1 191.4h0M51 191.4h0M76.8 191.4h0M40.5 191.4h0M234.4 191.4h0M154.9 191.4h0M204.5 191.4h0M220.3 191.4h0M215.4 191.4h0M55.4 191.4h0M66.1 191.4h0M142.5 191.4h0M88.2 191.4h0M149.5 191.4h0M121.4 191.4h0M214.9 191.4h0M162.9 191.4h0M197.3 191.4h0M195.8 191.4h0M153.7 191.4h0M139.3 191.4h0M204.2 191.4h0M91.5 191.4h0M43.5 191.4h0M192.1 191.4h0M102.5 191.4h0M175.8 191.4h0M69.2 191.4h0M111 191.4h0M237.5 191.4h0M75.8 191.4h0M232.3 191.4h0M34.6 191.4h0M69.9 191.4h0M158.3 191.4h0M102 191.4h0M231.1 191.4h0M101.5 191.4h0M121.1 191.4h0M213.8 191.4h0M236 191.4h0M106.7 191.4h0M78.8 191.4h0M201.2 191.4h0M252.2 191.4h0M232.5 191.4h0M201.2 191.4h0M147.3 191.4h0M84.5 191.4h0" stroke="#0a78c8" stroke-width="2.15" stroke-linecap="round" fill="none" opacity="1.0"/>
<rect x="305.4" y="8" width="238.6" height="186.8" fill="none" stroke="#8a8a8a" stroke-width="0.8"/>
<text transform="translate(305.4 207.4)" font-size="9.6" text-anchor="middle" fill="#333333">0</text>
<text transform="translate(353.12 207.4)" font-size="9.6" text-anchor="middle" fill="#333333">0.2</text>
<text transform="translate(400.84 207.4)" font-size="9.6" text-anchor="middle" fill="#333333">0.4</text>
<text transform="translate(448.56 207.4)" font-size="9.6" text-anchor="middle" fill="#333333">0.6</text>
<text transform="translate(496.28 207.4)" font-size="9.6" text-anchor="middle" fill="#333333">0.8</text>
<text transform="translate(544 207.4)" font-size="9.6" text-anchor="middle" fill="#333333">1</text>
<text transform="translate(302.4 198.76)" font-size="9.6" text-anchor="end" fill="#333333">0</text>
<text transform="translate(302.4 167.62)" font-size="9.6" text-anchor="end" fill="#333333">100</text>
<text transform="translate(302.4 136.49)" font-size="9.6" text-anchor="end" fill="#333333">200</text>
<text transform="translate(302.4 105.36)" font-size="9.6" text-anchor="end" fill="#333333">300</text>
<text transform="translate(302.4 74.22)" font-size="9.6" text-anchor="end" fill="#333333">400</text>
<text transform="translate(302.4 43.09)" font-size="9.6" text-anchor="end" fill="#333333">500</text>
<text transform="translate(302.4 11.96)" font-size="9.6" text-anchor="end" fill="#333333">600</text>
<path d="M353.12 194.8v-2.4M353.12 8v2.4M400.84 194.8v-2.4M400.84 8v2.4M448.56 194.8v-2.4M448.56 8v2.4M496.28 194.8v-2.4M496.28 8v2.4M305.4 163.67h2.4M544 163.67h-2.4M305.4 132.53h2.4M544 132.53h-2.4M305.4 101.4h2.4M544 101.4h-2.4M305.4 70.27h2.4M544 70.27h-2.4M305.4 39.13h2.4M544 39.13h-2.4" stroke="#8a8a8a" stroke-width="0.8" fill="none"/>
<text transform="translate(424.5 221)" font-size="10.2" text-anchor="middle" fill="#333333">Chaotic value</text>
<text transform="translate(283.2 101) rotate(-90)" font-size="10.2" text-anchor="middle" fill="#333333">Frequency</text>
<g fill="#3e26a8" stroke="#2a1878" stroke-width="0.85">
<rect x="305.4" y="35.09" width="23.86" height="159.71"/>
<rect x="329.26" y="38.82" width="23.86" height="155.98"/>
<rect x="353.12" y="39.13" width="23.86" height="155.67"/>
<rect x="376.98" y="40.69" width="23.86" height="154.11"/>
<rect x="400.84" y="42.56" width="23.86" height="152.24"/>
<rect x="424.7" y="36.95" width="23.86" height="157.85"/>
<rect x="448.56" y="36.95" width="23.86" height="157.85"/>
<rect x="472.42" y="38.2" width="23.86" height="156.6"/>
<rect x="496.28" y="41.31" width="23.86" height="153.49"/>
<rect x="520.14" y="38.51" width="23.86" height="156.29"/>
</g>
<rect x="35.1" y="260.2" width="234.7" height="190.7" fill="none" stroke="#8a8a8a" stroke-width="0.8"/>
<text transform="translate(35.1 463.5) scale(0.860 1.000)" font-size="8.9" text-anchor="middle" fill="#333333">0</text>
<text transform="translate(82.04 463.5) scale(0.860 1.000)" font-size="8.9" text-anchor="middle" fill="#333333">0.2</text>
<text transform="translate(128.98 463.5) scale(0.860 1.000)" font-size="8.9" text-anchor="middle" fill="#333333">0.4</text>
<text transform="translate(175.92 463.5) scale(0.860 1.000)" font-size="8.9" text-anchor="middle" fill="#333333">0.6</text>
<text transform="translate(222.86 463.5) scale(0.860 1.000)" font-size="8.9" text-anchor="middle" fill="#333333">0.8</text>
<text transform="translate(269.8 463.5) scale(0.860 1.000)" font-size="8.9" text-anchor="middle" fill="#333333">1</text>
<text transform="translate(32.1 454.1) scale(0.860 1.000)" font-size="8.9" text-anchor="end" fill="#333333">0</text>
<text transform="translate(32.1 406.43) scale(0.860 1.000)" font-size="8.9" text-anchor="end" fill="#333333">500</text>
<text transform="translate(32.1 358.75) scale(0.860 1.000)" font-size="8.9" text-anchor="end" fill="#333333">1000</text>
<text transform="translate(32.1 311.08) scale(0.860 1.000)" font-size="8.9" text-anchor="end" fill="#333333">1500</text>
<text transform="translate(32.1 263.4) scale(0.860 1.000)" font-size="8.9" text-anchor="end" fill="#333333">2000</text>
<path d="M82.04 450.9v-2.4M82.04 260.2v2.4M128.98 450.9v-2.4M128.98 260.2v2.4M175.92 450.9v-2.4M175.92 260.2v2.4M222.86 450.9v-2.4M222.86 260.2v2.4M35.1 403.22h2.4M269.8 403.22h-2.4M35.1 355.55h2.4M269.8 355.55h-2.4M35.1 307.88h2.4M269.8 307.88h-2.4" stroke="#8a8a8a" stroke-width="0.8" fill="none"/>
<text transform="translate(152 477.2) scale(0.860 1.000)" font-size="10.0" text-anchor="middle" fill="#333333">Chaotic value</text>
<text transform="translate(10.6 355.6) rotate(-90) scale(1.000 0.860)" font-size="10.0" text-anchor="middle" fill="#333333">Frequency</text>
<g fill="#3e26a8" stroke="#2a1878" stroke-width="0.85">
<rect x="35.1" y="339.82" width="23.47" height="111.08"/>
<rect x="58.57" y="384.63" width="23.47" height="66.27"/>
<rect x="82.04" y="397.03" width="23.47" height="53.87"/>
<rect x="105.51" y="397.5" width="23.47" height="53.4"/>
<rect x="128.98" y="398.46" width="23.47" height="52.44"/>
<rect x="152.45" y="399.32" width="23.47" height="51.58"/>
<rect x="175.92" y="393.12" width="23.47" height="57.78"/>
<rect x="199.39" y="387.49" width="23.47" height="63.41"/>
<rect x="222.86" y="371.19" width="23.47" height="79.71"/>
<rect x="246.33" y="278.13" width="23.47" height="172.77"/>
</g>
<rect x="303.1" y="272.1" width="232.8" height="178.8" fill="none" stroke="#8a8a8a" stroke-width="0.8"/>
<text transform="translate(303.1 463.4)" font-size="8.6" text-anchor="middle" fill="#333333">0</text>
<text transform="translate(361.3 463.4)" font-size="8.6" text-anchor="middle" fill="#333333">2000</text>
<text transform="translate(419.5 463.4)" font-size="8.6" text-anchor="middle" fill="#333333">4000</text>
<text transform="translate(477.7 463.4)" font-size="8.6" text-anchor="middle" fill="#333333">6000</text>
<text transform="translate(535.9 463.4)" font-size="8.6" text-anchor="middle" fill="#333333">8000</text>
<text transform="translate(300.1 454.8)" font-size="8.6" text-anchor="end" fill="#333333">0</text>
<text transform="translate(300.1 419.04)" font-size="8.6" text-anchor="end" fill="#333333">0.2</text>
<text transform="translate(300.1 383.28)" font-size="8.6" text-anchor="end" fill="#333333">0.4</text>
<text transform="translate(300.1 347.52)" font-size="8.6" text-anchor="end" fill="#333333">0.6</text>
<text transform="translate(300.1 311.76)" font-size="8.6" text-anchor="end" fill="#333333">0.8</text>
<text transform="translate(300.1 276)" font-size="8.6" text-anchor="end" fill="#333333">1</text>
<path d="M361.3 450.9v-2.4M361.3 272.1v2.4M419.5 450.9v-2.4M419.5 272.1v2.4M477.7 450.9v-2.4M477.7 272.1v2.4M303.1 415.14h2.4M535.9 415.14h-2.4M303.1 379.38h2.4M535.9 379.38h-2.4M303.1 343.62h2.4M535.9 343.62h-2.4M303.1 307.86h2.4M535.9 307.86h-2.4" stroke="#8a8a8a" stroke-width="0.8" fill="none"/>
<text transform="translate(419.5 476.4)" font-size="9.6" text-anchor="middle" fill="#333333">Dimension</text>
<text transform="translate(283 361.5) rotate(-90)" font-size="9.6" text-anchor="middle" fill="#333333">Chaotic value</text>
<path d="M303.1 330.1h0M303.2 354.1h0M303.2 323.5h0M303.2 342.1h0M303.2 285.6h0M303.3 397.7h0M303.3 283.5h0M303.3 448.8h0M303.4 272.5h0M303.4 317.1h0M303.4 450.5h0M303.4 447.1h0M303.5 413.2h0M303.5 367.9h0M303.5 279.9h0M303.6 311.8h0M303.6 307.2h0M303.6 404.2h0M303.7 272.1h0M303.7 298.7h0M303.7 416.2h0M303.7 445.9h0M303.8 371.7h0M303.8 375.5h0M303.8 279.4h0M303.9 413.4h0M303.9 353h0M303.9 372.5h0M303.9 338.4h0M304 406.4h0M304 390h0M304 290.4h0M304.1 412.1h0M304.1 447h0M304.1 427.8h0M304.1 359h0M304.2 294.6h0M304.2 311.1h0M304.2 366.2h0M304.3 406.4h0M304.3 284.3h0M304.3 276.3h0M304.4 373.4h0M304.4 311.5h0M304.4 272.1h0M304.4 409.2h0M304.5 391h0M304.5 445.5h0M304.5 324.6h0M304.6 320.3h0M304.6 357.5h0M304.6 349.4h0M304.6 277.7h0M304.7 432.5h0M304.7 282.6h0M304.7 425.2h0M304.8 273.2h0M304.8 272.9h0M304.8 319.8h0M304.8 441.3h0M304.9 278.8h0M304.9 299.2h0M304.9 281.9h0M305 400.3h0M305 296.5h0M305 410.1h0M305 279h0M305.1 403.7h0M305.1 422.1h0M305.1 402.8h0M305.2 447h0M305.2 380.3h0M305.2 436.7h0M305.3 275.8h0M305.3 308.4h0M305.3 324.2h0M305.3 449.3h0M305.4 288.2h0M305.4 272.5h0M305.4 337.2h0M305.5 294.8h0M305.5 272.1h0M305.5 353.3h0M305.5 275.2h0M305.6 299.4h0M305.6 274.4h0M305.6 302.8h0M305.7 277.3h0M305.7 285.9h0M305.7 327h0M305.7 376.6h0M305.8 318.6h0M305.8 312h0M305.8 276.7h0M305.9 375h0M305.9 325h0M305.9 280.3h0M306 291.6h0M306 343.4h0M306 416h0M306 345.8h0M306.1 274.1h0M306.1 450.7h0M306.1 304.2h0M306.2 429.4h0M306.2 307.7h0M306.2 275.8h0M306.2 306.6h0M306.3 363.5h0M306.3 274.4h0M306.3 376.1h0M306.4 394.3h0M306.4 346h0M306.4 279.3h0M306.4 272.9h0M306.5 429.5h0M306.5 405h0M306.5 368h0M306.6 346.7h0M306.6 280.3h0M306.6 357.7h0M306.7 445.3h0M306.7 448.8h0M306.7 327.5h0M306.7 285.8h0M306.8 426.6h0M306.8 450h0M306.8 414.3h0M306.9 448.3h0M306.9 359.3h0M306.9 308.7h0M306.9 272.6h0M307 423.1h0M307 427.6h0M307 366.5h0M307.1 427.5h0M307.1 386.5h0M307.1 339.9h0M307.1 290.7h0M307.2 285.7h0M307.2 443.7h0M307.2 296.1h0M307.3 357.4h0M307.3 274.6h0M307.3 327.9h0M307.3 285.1h0M307.4 354.7h0M307.4 421.9h0M307.4 282.5h0M307.5 297h0M307.5 275.2h0M307.5 272.3h0M307.6 285.9h0M307.6 274.6h0M307.6 385.8h0M307.6 360.8h0M307.7 289h0M307.7 449.8h0M307.7 446.6h0M307.8 428.8h0M307.8 286.2h0M307.8 433.5h0M307.8 295.9h0M307.9 302h0M307.9 347.1h0M307.9 443.8h0M308 338.3h0M308 295.1h0M308 339.3h0M308 330.1h0M308.1 376.9h0M308.1 275.2h0M308.1 279.1h0M308.2 338.9h0M308.2 422.7h0M308.2 344.3h0M308.3 449.8h0M308.3 341h0M308.3 284.5h0M308.3 347.5h0M308.4 446.4h0M308.4 368.1h0M308.4 273.9h0M308.5 352.2h0M308.5 362.7h0M308.5 275.2h0M308.5 394.1h0M308.6 316.6h0M308.6 437h0M308.6 450.1h0M308.7 416.7h0M308.7 392.8h0M308.7 316.2h0M308.7 294.7h0M308.8 342.4h0M308.8 423.5h0M308.8 361.9h0M308.9 368.2h0M308.9 431.4h0M308.9 313.7h0M308.9 337.6h0M309 318h0M309 415.4h0M309 283.4h0M309.1 394.5h0M309.1 274h0M309.1 272.1h0M309.2 436.3h0M309.2 295.4h0M309.2 442.3h0M309.2 366h0M309.3 437.6h0M309.3 302.8h0M309.3 415h0M309.4 274.6h0M309.4 439.4h0M309.4 290.4h0M309.4 302.7h0M309.5 445.8h0M309.5 449.1h0M309.5 341.3h0M309.6 433.9h0M309.6 422.1h0M309.6 272.1h0M309.6 442.5h0M309.7 280.8h0M309.7 289.5h0M309.7 353.8h0M309.8 363.7h0M309.8 450.6h0M309.8 279.7h0M309.9 357.3h0M309.9 370.4h0M309.9 430.3h0M309.9 450.5h0M310 284.5h0M310 278.2h0M310 370.6h0M310.1 344h0M310.1 284.1h0M310.1 274.6h0M310.1 287.6h0M310.2 370.3h0M310.2 276.6h0M310.2 289.1h0M310.3 370.3h0M310.3 445.8h0M310.3 353.3h0M310.3 387.3h0M310.4 315.3h0M310.4 273.1h0M310.4 388.6h0M310.5 327.7h0M310.5 374.6h0M310.5 311.4h0M310.5 289.9h0M310.6 450.1h0M310.6 293.4h0M310.6 371.4h0M310.7 416h0M310.7 442.1h0M310.7 274.9h0M310.8 343.1h0M310.8 328.1h0M310.8 312.3h0M310.8 445.1h0M310.9 290.3h0M310.9 284.6h0M310.9 352.5h0M311 346.3h0M311 447.2h0M311 366.2h0M311 321.1h0M311.1 402.3h0M311.1 329.9h0M311.1 297.1h0M311.2 450.6h0M311.2 448.7h0M311.2 291h0M311.2 275.4h0M311.3 448h0M311.3 273.1h0M311.3 289h0M311.4 351h0M311.4 412.8h0M311.4 273.3h0M311.5 353.4h0M311.5 282.7h0M311.5 439.5h0M311.5 356.8h0M311.6 447.8h0M311.6 437.9h0M311.6 306.2h0M311.7 408.3h0M311.7 366.5h0M311.7 337.3h0M311.7 272.8h0M311.8 414.1h0M311.8 275.7h0M311.8 315.1h0M311.9 405.9h0M311.9 328.9h0M311.9 313.3h0M311.9 425.2h0M312 272.2h0M312 276.7h0M312 440h0M312.1 365h0M312.1 441.5h0M312.1 445.6h0M312.2 304.5h0M312.2 313.8h0M312.2 350.7h0M312.2 387h0M312.3 280.3h0M312.3 429.5h0M312.3 315.3h0M312.4 420h0M312.4 409.3h0M312.4 380.2h0M312.4 272.1h0M312.5 332.8h0M312.5 274.1h0M312.5 380.2h0M312.6 277h0M312.6 436.1h0M312.6 349.1h0M312.6 398.9h0M312.7 445.1h0M312.7 307.3h0M312.7 397.6h0M312.8 301.2h0M312.8 434.6h0M312.8 295.5h0M312.8 439.1h0M312.9 327.8h0M312.9 273.2h0M312.9 361.5h0M313 397.4h0M313 371.9h0M313 275.6h0M313.1 382.2h0M313.1 381.8h0M313.1 375.2h0M313.1 329.1h0M313.2 334.8h0M313.2 329.4h0M313.2 290.3h0M313.3 403.4h0M313.3 358.7h0M313.3 328.2h0M313.3 309.5h0M313.4 446.6h0M313.4 286.2h0M313.4 444.4h0M313.5 275.3h0M313.5 313.1h0M313.5 292.3h0M313.5 412.4h0M313.6 289.4h0M313.6 289.5h0M313.6 388.6h0M313.7 305.3h0M313.7 335.6h0M313.7 298.6h0M313.8 368.9h0M313.8 306.4h0M313.8 284h0M313.8 276h0M313.9 311.8h0M313.9 298.3h0M313.9 366h0M314 434h0M314 272.1h0M314 429.8h0M314 365.1h0M314.1 272.4h0M314.1 395.8h0M314.1 310.2h0M314.2 427.4h0M314.2 368.9h0M314.2 274.7h0M314.2 431.5h0M314.3 419h0M314.3 297h0M314.3 417.5h0M314.4 403.5h0M314.4 290.5h0M314.4 332.9h0M314.4 350.5h0M314.5 276.1h0M314.5 387.5h0M314.5 272.7h0M314.6 418.2h0M314.6 281.5h0M314.6 375.9h0M314.7 341.1h0M314.7 272.1h0M314.7 414.3h0M314.7 366.4h0M314.8 285.1h0M314.8 319.3h0M314.8 432h0M314.9 408.9h0M314.9 341h0M314.9 272.1h0M314.9 336.3h0M315 288.6h0M315 304h0M315 282.1h0M315.1 406.3h0M315.1 442.3h0M315.1 353.3h0M315.1 323.7h0M315.2 397.7h0M315.2 367.2h0M315.2 443.2h0M315.3 421.1h0M315.3 338.5h0M315.3 281h0M315.4 395.8h0M315.4 396.2h0M315.4 297.4h0M315.4 302.5h0M315.5 373.4h0M315.5 272.4h0M315.5 309h0M315.6 383.5h0M315.6 414.3h0M315.6 356.2h0M315.6 273.6h0M315.7 421.5h0M315.7 401.1h0M315.7 335h0M315.8 388.7h0M315.8 306.4h0M315.8 423h0M315.8 390.9h0M315.9 329.4h0M315.9 390.3h0M315.9 443h0M316 442.7h0M316 298.6h0M316 371.2h0M316 322.3h0M316.1 416.9h0M316.1 438h0M316.1 445.6h0M316.2 364.5h0M316.2 310.3h0M316.2 282.2h0M316.3 390.3h0M316.3 450.5h0M316.3 300.1h0M316.3 286h0M316.4 318.7h0M316.4 391.7h0M316.4 309.6h0M316.5 377.9h0M316.5 286.2h0M316.5 318.1h0M316.5 289.2h0M316.6 332.9h0M316.6 345h0M316.6 297.7h0M316.7 341h0M316.7 280.6h0M316.7 273.1h0M316.7 423.4h0M316.8 412.6h0M316.8 300.6h0M316.8 273.7h0M316.9 354.8h0M316.9 272.3h0M316.9 275h0M317 329.9h0M317 407.7h0M317 272.1h0M317 320.3h0M317.1 281.8h0M317.1 275.4h0M317.1 326.8h0M317.2 426.1h0M317.2 445.1h0M317.2 418.7h0M317.2 273.3h0M317.3 396.6h0M317.3 293.6h0M317.3 322.5h0M317.4 450.5h0M317.4 353.5h0M317.4 375.5h0M317.4 428.6h0M317.5 407.9h0M317.5 390.2h0M317.5 449.1h0M317.6 434.3h0M317.6 320.6h0M317.6 368.7h0M317.7 302h0M317.7 291.4h0M317.7 272.1h0M317.7 278.7h0M317.8 362.6h0M317.8 274.9h0M317.8 338.7h0M317.9 275h0M317.9 447.6h0M317.9 275.2h0M317.9 321.2h0M318 397.4h0M318 445.9h0M318 359.1h0M318.1 372.7h0M318.1 326.7h0M318.1 413.9h0M318.1 373h0M318.2 446.1h0M318.2 272.5h0M318.2 277.7h0M318.3 284h0M318.3 292.2h0M318.3 275h0M318.3 285.7h0M318.4 335.6h0M318.4 450.9h0M318.4 398.8h0M318.5 446.7h0M318.5 282.8h0M318.5 383.6h0M318.6 448.4h0M318.6 290.2h0M318.6 345.5h0M318.6 272.3h0M318.7 421.5h0M318.7 274h0M318.7 423.9h0M318.8 384.2h0M318.8 429h0M318.8 272.1h0M318.8 313.5h0M318.9 276.6h0M318.9 431.9h0M318.9 395.2h0M319 277.5h0M319 436.1h0M319 273.3h0M319 444.8h0M319.1 396.7h0M319.1 423.7h0M319.1 414.8h0M319.2 285.9h0M319.2 307.3h0M319.2 323h0M319.3 398.4h0M319.3 306.3h0M319.3 311.9h0M319.3 272.2h0M319.4 337.9h0M319.4 448.5h0M319.4 402.6h0M319.5 284.3h0M319.5 402.4h0M319.5 412.3h0M319.5 333h0M319.6 275.4h0M319.6 449.4h0M319.6 291.6h0M319.7 273.7h0M319.7 427.3h0M319.7 310.8h0M319.7 308.1h0M319.8 340.8h0M319.8 279.6h0M319.8 339.9h0M319.9 428.5h0M319.9 430.3h0M319.9 414.8h0M319.9 288.3h0M320 285.8h0M320 348h0M320 325.2h0M320.1 449.3h0M320.1 297.5h0M320.1 277.2h0M320.2 432.9h0M320.2 362.2h0M320.2 360.6h0M320.2 284.9h0M320.3 288.7h0M320.3 334.2h0M320.3 414.2h0M320.4 395.7h0M320.4 394.7h0M320.4 338.6h0M320.4 323.2h0M320.5 282.2h0M320.5 410.1h0M320.5 301.8h0M320.6 286.4h0M320.6 377.5h0M320.6 419.3h0M320.6 448.8h0M320.7 290h0M320.7 434.3h0M320.7 292.5h0M320.8 407.9h0M320.8 434.9h0M320.8 399.1h0M320.9 445.1h0M320.9 272.8h0M320.9 294.2h0M320.9 410.5h0M321 413.3h0M321 273.5h0M321 388.8h0M321.1 318.2h0M321.1 378.8h0M321.1 447.2h0M321.1 301h0M321.2 322.8h0M321.2 355h0M321.2 279.9h0M321.3 287.1h0M321.3 386.1h0M321.3 332.6h0M321.3 422.1h0M321.4 353.6h0M321.4 359.1h0M321.4 304h0M321.5 421.9h0M321.5 445.5h0M321.5 381.9h0M321.5 450.4h0M321.6 408.2h0M321.6 273.9h0M321.6 406.6h0M321.7 432.6h0M321.7 382.7h0M321.7 296h0M321.8 450.3h0M321.8 376.1h0M321.8 276.5h0M321.8 288.6h0M321.9 447.6h0M321.9 414.1h0M321.9 423.9h0M322 449.6h0M322 365.3h0M322 435.9h0M322 408.7h0M322.1 306.5h0M322.1 421.9h0M322.1 297.8h0M322.2 375.5h0M322.2 417h0M322.2 386.7h0M322.2 448.9h0M322.3 338.2h0M322.3 283.6h0M322.3 399.1h0M322.4 274.2h0M322.4 302.1h0M322.4 272.7h0M322.5 415h0M322.5 443.3h0M322.5 373.9h0M322.5 382.4h0M322.6 345.9h0M322.6 431.6h0M322.6 351.6h0M322.7 306.7h0M322.7 442.9h0M322.7 365.8h0M322.7 324.7h0M322.8 331.7h0M322.8 450.1h0M322.8 381.5h0M322.9 378.6h0M322.9 362.3h0M322.9 353.3h0M322.9 410.4h0M323 388.8h0M323 328.7h0M323 306.1h0M323.1 353.2h0M323.1 272.7h0M323.1 326.2h0M323.1 288.5h0M323.2 316h0M323.2 367.6h0M323.2 281.2h0M323.3 376.7h0M323.3 449.1h0M323.3 343.3h0M323.4 382.6h0M323.4 433.3h0M323.4 416.4h0M323.4 415h0M323.5 353.7h0M323.5 413.9h0M323.5 309.7h0M323.6 315.2h0M323.6 281.1h0M323.6 389.8h0M323.6 276.2h0M323.7 297.2h0M323.7 302.6h0M323.7 281.8h0M323.8 315.8h0M323.8 329.1h0M323.8 402.3h0M323.8 336.5h0M323.9 411.4h0M323.9 427.7h0M323.9 437.7h0M324 438.6h0M324 299.2h0M324 357.9h0M324.1 350.2h0M324.1 277.7h0M324.1 447.7h0M324.1 343.2h0M324.2 373.9h0M324.2 410.8h0M324.2 391.5h0M324.3 290.3h0M324.3 281.4h0M324.3 366.2h0M324.3 315.5h0M324.4 284.5h0M324.4 378.1h0M324.4 415.8h0M324.5 450.6h0M324.5 273.2h0M324.5 436.3h0M324.5 366.6h0M324.6 372.7h0M324.6 272.1h0M324.6 323.4h0M324.7 448.7h0M324.7 294.7h0M324.7 438.6h0M324.8 449.9h0M324.8 349.5h0M324.8 396.2h0M324.8 280.3h0M324.9 374.1h0M324.9 289.4h0M324.9 374.7h0M325 333.5h0M325 433.9h0M325 440.8h0M325 410.9h0M325.1 438.6h0M325.1 450.3h0M325.1 434.5h0M325.2 405.3h0M325.2 349.8h0M325.2 408.9h0M325.2 439.4h0M325.3 396.2h0M325.3 418.3h0M325.3 272.1h0M325.4 277.7h0M325.4 367.9h0M325.4 372.9h0M325.4 352.5h0M325.5 315.5h0M325.5 273.3h0M325.5 272.1h0M325.6 280.8h0M325.6 428.1h0M325.6 420.7h0M325.7 445.3h0M325.7 291.1h0M325.7 341.5h0M325.7 413.3h0M325.8 450.7h0M325.8 283.4h0M325.8 294h0M325.9 284.3h0M325.9 289h0M325.9 441.7h0M325.9 371.2h0M326 411.1h0M326 450.1h0M326 416.7h0M326.1 380.1h0M326.1 283.4h0M326.1 312.3h0M326.1 404h0M326.2 392.9h0M326.2 389.4h0M326.2 420.4h0M326.3 333.4h0M326.3 427.8h0M326.3 434.6h0M326.4 363.5h0M326.4 361h0M326.4 393h0M326.4 272.8h0M326.5 276.6h0M326.5 291h0M326.5 272.1h0M326.6 272.5h0M326.6 369.6h0M326.6 427.7h0M326.6 304.3h0M326.7 392.8h0M326.7 383.4h0M326.7 433.7h0M326.8 377.8h0M326.8 420.2h0M326.8 276.1h0M326.8 314.3h0M326.9 328.2h0M326.9 280.4h0M326.9 357.5h0M327 366.6h0M327 416.1h0M327 327h0M327 449.5h0M327.1 359.2h0M327.1 321.9h0M327.1 432.9h0M327.2 272.1h0M327.2 395.2h0M327.2 272.1h0M327.3 277.6h0M327.3 272.1h0M327.3 415.1h0M327.3 309.9h0M327.4 281.3h0M327.4 342.1h0M327.4 446.5h0M327.5 298h0M327.5 283.8h0M327.5 335.9h0M327.5 423.8h0M327.6 311.1h0M327.6 351.7h0M327.6 347.5h0M327.7 284.7h0M327.7 288.6h0M327.7 274.9h0M327.7 433h0M327.8 441.8h0M327.8 389.1h0M327.8 280.8h0M327.9 426.9h0M327.9 279.3h0M327.9 275.1h0M328 274.3h0M328 314.2h0M328 295.3h0M328 306.1h0M328.1 450.5h0M328.1 394.6h0M328.1 404.1h0M328.2 301h0M328.2 437.3h0M328.2 353.9h0M328.2 439.3h0M328.3 318.4h0M328.3 423.8h0M328.3 301.6h0M328.4 382.6h0M328.4 369.6h0M328.4 313.7h0M328.4 282.3h0M328.5 356.5h0M328.5 273.2h0M328.5 299.4h0M328.6 325.4h0M328.6 277.2h0M328.6 278.8h0M328.6 357h0M328.7 375.2h0M328.7 320.4h0M328.7 446.6h0M328.8 403.4h0M328.8 272.7h0M328.8 301h0M328.9 412.6h0M328.9 436.6h0M328.9 410.9h0M328.9 387.6h0M329 279.2h0M329 333.5h0M329 275.5h0M329.1 381.7h0M329.1 296h0M329.1 387h0M329.1 272.9h0M329.2 337.7h0M329.2 382.2h0M329.2 394.4h0M329.3 319.4h0M329.3 272.3h0M329.3 373.1h0M329.3 309.8h0M329.4 272.1h0M329.4 368.3h0M329.4 308.5h0M329.5 272.1h0M329.5 380h0M329.5 373.3h0M329.6 444.2h0M329.6 310h0M329.6 292.9h0M329.6 283.3h0M329.7 287.9h0M329.7 353.3h0M329.7 297.2h0M329.8 275.5h0M329.8 388.1h0M329.8 336.5h0M329.8 286.1h0M329.9 343.2h0M329.9 328.1h0M329.9 443.5h0M330 400.2h0M330 412.1h0M330 447.6h0M330 357.9h0M330.1 355.8h0M330.1 441.2h0M330.1 432.4h0M330.2 338.7h0M330.2 317.9h0M330.2 272.5h0M330.3 450.7h0M330.3 282.5h0M330.3 297.8h0M330.3 337.2h0M330.4 431.2h0M330.4 272.5h0M330.4 279.4h0M330.5 376.5h0M330.5 404.3h0M330.5 274.2h0M330.5 348h0M330.6 276.1h0M330.6 328.1h0M330.6 275h0M330.7 398.8h0M330.7 409.2h0M330.7 363.9h0M330.7 383.1h0M330.8 358.1h0M330.8 301.5h0M330.8 356.5h0M330.9 371.9h0M330.9 442h0M330.9 394.8h0M330.9 416h0M331 348.4h0M331 378.2h0M331 450.8h0M331.1 272.6h0M331.1 321.1h0M331.1 398.3h0M331.2 323.1h0M331.2 345.7h0M331.2 291.1h0M331.2 434.3h0M331.3 406.3h0M331.3 364.9h0M331.3 371.2h0M331.4 303.8h0M331.4 272.2h0M331.4 391.2h0M331.4 282.4h0M331.5 311.4h0M331.5 314.4h0M331.5 339.2h0M331.6 273.8h0M331.6 450.2h0M331.6 291.3h0M331.6 450.8h0M331.7 366.9h0M331.7 272.2h0M331.7 445.3h0M331.8 360.9h0M331.8 377.8h0M331.8 361.8h0M331.9 393.4h0M331.9 445.7h0M331.9 280.8h0M331.9 332.9h0M332 438.9h0M332 272.8h0M332 274h0M332.1 367.8h0M332.1 280.2h0M332.1 277.1h0M332.1 449.6h0M332.2 377.9h0M332.2 273.7h0M332.2 302h0M332.3 287.5h0M332.3 292.9h0M332.3 323.9h0M332.3 386.4h0M332.4 385.4h0M332.4 340h0M332.4 326.6h0M332.5 383.1h0M332.5 350.2h0M332.5 391.2h0M332.5 415.2h0M332.6 294.8h0M332.6 409.5h0M332.6 303.4h0M332.7 297.2h0M332.7 316.7h0M332.7 272.3h0M332.8 356.8h0M332.8 415.8h0M332.8 441.5h0M332.8 279.4h0M332.9 326h0M332.9 332.1h0M332.9 433h0M333 289.5h0M333 442.2h0M333 418.8h0M333 336.2h0M333.1 438.5h0M333.1 324.7h0M333.1 273.9h0M333.2 381.6h0M333.2 296.8h0M333.2 278.5h0M333.2 407.6h0M333.3 450.3h0M333.3 410.4h0M333.3 410.6h0M333.4 349.1h0M333.4 402.5h0M333.4 342.7h0M333.5 431.3h0M333.5 278.7h0M333.5 334h0M333.5 336.3h0M333.6 274.1h0M333.6 408.8h0M333.6 283.4h0M333.7 286.3h0M333.7 357.6h0M333.7 295h0M333.7 343.7h0M333.8 385.7h0M333.8 272.9h0M333.8 273.2h0M333.9 445.7h0M333.9 441.5h0M333.9 438.7h0M333.9 396.2h0M334 446.9h0M334 446.1h0M334 348.8h0M334.1 302.8h0M334.1 286.6h0M334.1 445h0M334.1 426.3h0M334.2 384.2h0M334.2 423.5h0M334.2 367.1h0M334.3 444.8h0M334.3 330.6h0M334.3 329.7h0M334.4 398.6h0M334.4 299.7h0M334.4 272.3h0M334.4 273.9h0M334.5 273.4h0M334.5 363.3h0M334.5 302.7h0M334.6 317.7h0M334.6 443.8h0M334.6 272.6h0M334.6 430.9h0M334.7 272.7h0M334.7 445.2h0M334.7 302.2h0M334.8 325.3h0M334.8 283.7h0M334.8 438.8h0M334.8 272.3h0M334.9 369.8h0M334.9 386.2h0M334.9 313.2h0M335 323.9h0M335 389.3h0M335 357h0M335.1 276.5h0M335.1 433.3h0M335.1 350.6h0M335.1 389.9h0M335.2 308.9h0M335.2 339.3h0M335.2 276.9h0M335.3 415.6h0M335.3 390.8h0M335.3 304.9h0M335.3 334.9h0M335.4 314.4h0M335.4 418.9h0M335.4 272.1h0M335.5 383.6h0M335.5 272.1h0M335.5 436h0M335.5 287h0M335.6 285.9h0M335.6 402h0M335.6 293h0M335.7 282.5h0M335.7 361.7h0M335.7 446.5h0M335.8 434.5h0M335.8 276.8h0M335.8 273.6h0M335.8 273.6h0M335.9 297.5h0M335.9 424.6h0M335.9 304.2h0M336 295.5h0M336 357.3h0M336 438.6h0M336 273.3h0M336.1 417.9h0M336.1 448.1h0M336.1 426.7h0M336.2 338.2h0M336.2 328.2h0M336.2 338.3h0M336.2 444.4h0M336.3 445.1h0M336.3 290.1h0M336.3 344.1h0M336.4 390.6h0M336.4 400.1h0M336.4 272.3h0M336.4 319.9h0M336.5 354.3h0M336.5 273.1h0M336.5 450h0M336.6 371.7h0M336.6 421.8h0M336.6 293.8h0M336.7 450.3h0M336.7 284.8h0M336.7 309.2h0M336.7 426.7h0M336.8 396.5h0M336.8 404.3h0M336.8 380.1h0M336.9 315.3h0M336.9 383.6h0M336.9 325h0M336.9 334.9h0M337 390.1h0M337 415.3h0M337 278.9h0M337.1 430.8h0M337.1 272.2h0M337.1 429.2h0M337.1 414.9h0M337.2 431.8h0M337.2 402.7h0M337.2 302.4h0M337.3 330.2h0M337.3 274h0M337.3 377.5h0M337.4 362.1h0M337.4 326.6h0M337.4 355h0M337.4 345.8h0M337.5 311.6h0M337.5 403.7h0M337.5 444h0M337.6 415h0M337.6 284.9h0M337.6 275.1h0M337.6 364.7h0M337.7 273h0M337.7 349.8h0M337.7 280h0M337.8 387.4h0M337.8 419.5h0M337.8 284.2h0M337.8 274.3h0M337.9 285h0M337.9 283.5h0M337.9 428.1h0M338 397.8h0M338 274.1h0M338 359.4h0M338 285.7h0M338.1 274.6h0M338.1 311h0M338.1 331.6h0M338.2 272.2h0M338.2 395.8h0M338.2 301.1h0M338.3 272.2h0M338.3 437.8h0M338.3 447.2h0M338.3 288.9h0M338.4 277.1h0M338.4 273.1h0M338.4 347.2h0M338.5 384.4h0M338.5 422.1h0M338.5 416.4h0M338.5 288h0M338.6 341.1h0M338.6 405.6h0M338.6 310.2h0M338.7 273.1h0M338.7 273.8h0M338.7 401.1h0M338.7 316.3h0M338.8 288.1h0M338.8 403.9h0M338.8 348.3h0M338.9 296.7h0M338.9 352.2h0M338.9 411.3h0M339 325.1h0M339 391.4h0M339 441.6h0M339 338.2h0M339.1 311.9h0M339.1 370h0M339.1 352h0M339.2 438.3h0M339.2 302.7h0M339.2 331.2h0M339.2 273.3h0M339.3 411h0M339.3 272.1h0M339.3 425.3h0M339.4 447.3h0M339.4 332.2h0M339.4 296.6h0M339.4 393.6h0M339.5 310.2h0M339.5 356.5h0M339.5 440.8h0M339.6 272.7h0M339.6 447.4h0M339.6 402.7h0M339.6 361.6h0M339.7 364.9h0M339.7 292.6h0M339.7 309.8h0M339.8 317.1h0M339.8 323.9h0M339.8 447.6h0M339.9 450.4h0M339.9 381h0M339.9 441h0M339.9 279h0M340 323.4h0M340 272.2h0M340 397.5h0M340.1 277.8h0M340.1 369h0M340.1 276.1h0M340.1 285.8h0M340.2 358.8h0M340.2 361.9h0M340.2 394.5h0M340.3 368.8h0M340.3 288.3h0M340.3 352h0M340.3 357.1h0M340.4 275.4h0M340.4 286.5h0M340.4 305.5h0M340.5 399.6h0M340.5 272.9h0M340.5 306h0M340.6 309.1h0M340.6 288.6h0M340.6 272.2h0M340.6 298h0M340.7 376.5h0M340.7 408.9h0M340.7 418.2h0M340.8 272.1h0M340.8 274.5h0M340.8 346.7h0M340.8 280.4h0M340.9 322.9h0M340.9 289.9h0M340.9 325.5h0M341 299.1h0M341 333.9h0M341 435.8h0M341 392.1h0M341.1 272.9h0M341.1 328.3h0M341.1 346.4h0M341.2 315h0M341.2 307.1h0M341.2 283.9h0M341.3 434.2h0M341.3 355.6h0M341.3 272.1h0M341.3 272.8h0M341.4 290.3h0M341.4 397.2h0M341.4 301.9h0M341.5 377.2h0M341.5 383.1h0M341.5 450.1h0M341.5 308.3h0M341.6 395.7h0M341.6 273.5h0M341.6 427.7h0M341.7 443.9h0M341.7 293.4h0M341.7 348h0M341.7 449.8h0M341.8 278.3h0M341.8 299.5h0M341.8 388.8h0M341.9 418.8h0M341.9 395h0M341.9 283.2h0M341.9 318.5h0M342 417.6h0M342 316.2h0M342 272.5h0M342.1 361h0M342.1 281.5h0M342.1 304.4h0M342.2 384h0M342.2 419.3h0M342.2 277.2h0M342.2 381.5h0M342.3 296.8h0M342.3 326.5h0M342.3 300.5h0M342.4 324.5h0M342.4 448.6h0M342.4 272.2h0M342.4 278.1h0M342.5 432.7h0M342.5 326.3h0M342.5 405.6h0M342.6 300.9h0M342.6 353.7h0M342.6 329.7h0M342.6 382.7h0M342.7 400.6h0M342.7 450.5h0M342.7 322.5h0M342.8 439.8h0M342.8 353.2h0M342.8 395.5h0M342.9 291.1h0M342.9 307.9h0M342.9 345h0M342.9 374.5h0M343 353.4h0M343 336.7h0M343 275.7h0M343.1 450.2h0M343.1 449.6h0M343.1 316.1h0M343.1 424.9h0M343.2 280.6h0M343.2 301.6h0M343.2 357.1h0M343.3 331.8h0M343.3 272.1h0M343.3 280.6h0M343.3 406.7h0M343.4 334.1h0M343.4 396h0M343.4 340.8h0M343.5 445.2h0M343.5 450.6h0M343.5 374.7h0M343.5 440.2h0M343.6 273.3h0M343.6 289.8h0M343.6 324.7h0M343.7 354.6h0M343.7 304.9h0M343.7 359.1h0M343.8 388.9h0M343.8 313.7h0M343.8 411.6h0M343.8 419.7h0M343.9 314.7h0M343.9 272.7h0M343.9 441.6h0M344 408.2h0M344 295.8h0M344 447.3h0M344 308.2h0M344.1 422.6h0M344.1 421.7h0M344.1 272.7h0M344.2 409h0M344.2 426.3h0M344.2 317.2h0M344.2 448.6h0M344.3 376.5h0M344.3 410.7h0M344.3 426.2h0M344.4 272.4h0M344.4 404h0M344.4 304.9h0M344.5 417.6h0M344.5 401.2h0M344.5 300h0M344.5 305.8h0M344.6 376.4h0M344.6 346.8h0M344.6 362.9h0M344.7 337.2h0M344.7 445.9h0M344.7 379.6h0M344.7 433.6h0M344.8 274.4h0M344.8 345.1h0M344.8 289.3h0M344.9 414h0M344.9 295.8h0M344.9 296.3h0M344.9 417h0M345 279.8h0M345 292.3h0M345 296.1h0M345.1 303.3h0M345.1 430.9h0M345.1 445.8h0M345.1 377h0M345.2 448.4h0M345.2 320.3h0M345.2 449.1h0M345.3 402.1h0M345.3 440h0M345.3 311.8h0M345.4 429.6h0M345.4 378.5h0M345.4 328.1h0M345.4 375.1h0M345.5 449h0M345.5 424.4h0M345.5 450.7h0M345.6 323.5h0M345.6 334.5h0M345.6 436.6h0M345.6 298.6h0M345.7 298.9h0M345.7 448.9h0M345.7 400.5h0M345.8 286.7h0M345.8 273.9h0M345.8 373.6h0M345.8 289.3h0M345.9 272.2h0M345.9 277.8h0M345.9 319.4h0M346 275.4h0M346 275.9h0M346 280.2h0M346.1 272.6h0M346.1 370.8h0M346.1 436.7h0M346.1 446.8h0M346.2 403.8h0M346.2 319.1h0M346.2 359h0M346.3 272.2h0M346.3 381.1h0M346.3 425.2h0M346.3 423.2h0M346.4 388.2h0M346.4 450.7h0M346.4 392.2h0M346.5 272.1h0M346.5 446.4h0M346.5 415.5h0M346.5 296.1h0M346.6 273.4h0M346.6 394h0M346.6 395.3h0M346.7 354.9h0M346.7 432.9h0M346.7 272.4h0M346.8 316.9h0M346.8 449.3h0M346.8 426.6h0M346.8 327.1h0M346.9 272.4h0M346.9 433.3h0M346.9 368.8h0M347 303.1h0M347 278.6h0M347 439.8h0M347 450h0M347.1 449.7h0M347.1 446.6h0M347.1 437.3h0M347.2 281.8h0M347.2 438.6h0M347.2 295.1h0M347.2 331.5h0M347.3 278h0M347.3 272.3h0M347.3 288.1h0M347.4 353.4h0M347.4 365.7h0M347.4 320.3h0M347.4 342.4h0M347.5 427.4h0M347.5 303.4h0M347.5 285.6h0M347.6 356.8h0M347.6 284.2h0M347.6 274.1h0M347.7 372.4h0M347.7 383.4h0M347.7 448.4h0M347.7 444.7h0M347.8 433.2h0M347.8 365.5h0M347.8 289.6h0M347.9 399.9h0M347.9 276h0M347.9 450.7h0M347.9 349.6h0M348 435.9h0M348 291.8h0M348 330.2h0M348.1 359.4h0M348.1 448h0M348.1 389.3h0M348.1 287.3h0M348.2 449.2h0M348.2 353h0M348.2 285.9h0M348.3 448.5h0M348.3 352.9h0M348.3 274.3h0M348.4 311.2h0M348.4 285.8h0M348.4 316.6h0M348.4 295.9h0M348.5 285.3h0M348.5 360.8h0M348.5 333.4h0M348.6 277.8h0M348.6 332h0M348.6 429.7h0M348.6 290.3h0M348.7 366.3h0M348.7 295.3h0M348.7 439h0M348.8 429.4h0M348.8 346.1h0M348.8 381.4h0M348.8 428.1h0M348.9 319.4h0M348.9 299.6h0M348.9 317.7h0M349 318.7h0M349 272.4h0M349 310.1h0M349 369h0M349.1 310.3h0M349.1 384.8h0M349.1 284.7h0M349.2 279.8h0M349.2 311.3h0M349.2 394.6h0M349.3 284.9h0M349.3 397.9h0M349.3 439.2h0M349.3 312.2h0M349.4 444.1h0M349.4 290.3h0M349.4 276.8h0M349.5 352.1h0M349.5 401h0M349.5 404.2h0M349.5 449.7h0M349.6 284.4h0M349.6 424.8h0M349.6 445h0M349.7 319.9h0M349.7 369.9h0M349.7 393.5h0M349.7 375.6h0M349.8 272.3h0M349.8 274h0M349.8 326.6h0M349.9 283.7h0M349.9 330.7h0M349.9 442.9h0M350 432.1h0M350 325.8h0M350 272.7h0M350 310.7h0M350.1 287.6h0M350.1 431.7h0M350.1 368.2h0M350.2 297.7h0M350.2 327.7h0M350.2 281.7h0M350.2 434.2h0M350.3 422.2h0M350.3 396.1h0M350.3 354.2h0M350.4 403.9h0M350.4 390.3h0M350.4 284.2h0M350.4 353h0M350.5 276.3h0M350.5 403.1h0M350.5 322.7h0M350.6 368.3h0M350.6 422.2h0M350.6 409.5h0M350.6 440.8h0M350.7 423.5h0M350.7 324.9h0M350.7 274.4h0M350.8 377.3h0M350.8 281.6h0M350.8 427.7h0M350.9 282.5h0M350.9 421h0M350.9 430.5h0M350.9 275.2h0M351 352h0M351 384.7h0M351 310.1h0M351.1 287.8h0M351.1 356.5h0M351.1 379.9h0M351.1 302.8h0M351.2 391.7h0M351.2 434.2h0M351.2 381.7h0M351.3 449.5h0M351.3 374.8h0M351.3 280.4h0M351.3 394.3h0M351.4 395.7h0M351.4 322.8h0M351.4 376.8h0M351.5 441h0M351.5 314.1h0M351.5 295.9h0M351.6 444.2h0M351.6 394.6h0M351.6 293.8h0M351.6 357.8h0M351.7 352.5h0M351.7 408.4h0M351.7 274.1h0M351.8 272.6h0M351.8 429.1h0M351.8 422.8h0M351.8 438.5h0M351.9 360.4h0M351.9 303.7h0M351.9 275.4h0M352 342.6h0M352 399.8h0M352 366.7h0M352 321.8h0M352.1 445.7h0M352.1 294.7h0M352.1 416.7h0M352.2 441.8h0M352.2 333.4h0M352.2 328.8h0M352.2 450.4h0M352.3 389.2h0M352.3 377.9h0M352.3 447.9h0M352.4 399.1h0M352.4 449.7h0M352.4 450.3h0M352.5 382.6h0M352.5 338.6h0M352.5 432.8h0M352.5 330.9h0M352.6 387h0M352.6 344.3h0M352.6 280.6h0M352.7 295.6h0M352.7 355.2h0M352.7 325.5h0M352.7 282.4h0M352.8 447.8h0M352.8 317h0M352.8 274.7h0M352.9 366h0M352.9 272.9h0M352.9 329.3h0M352.9 291.1h0M353 294h0M353 276.4h0M353 410.7h0M353.1 276.7h0M353.1 405h0M353.1 298.4h0M353.2 447h0M353.2 338h0M353.2 365.2h0M353.2 441.2h0M353.3 273.4h0M353.3 359.5h0M353.3 305.3h0M353.4 389.8h0M353.4 352.3h0M353.4 321.5h0M353.4 273.6h0M353.5 281.3h0M353.5 412.6h0M353.5 311.2h0M353.6 385.5h0M353.6 395.4h0M353.6 434.7h0M353.6 294.7h0M353.7 448.8h0M353.7 413.1h0M353.7 275.4h0M353.8 441.5h0M353.8 272.4h0M353.8 352.3h0M353.9 289.1h0M353.9 406h0M353.9 307.3h0M353.9 312h0M354 272.4h0M354 416.9h0M354 272.9h0M354.1 280h0M354.1 282.2h0M354.1 445.4h0M354.1 280.6h0M354.2 448.6h0M354.2 320.3h0M354.2 275.7h0M354.3 359.1h0M354.3 306.7h0M354.3 380.6h0M354.3 446.1h0M354.4 295.9h0M354.4 355h0M354.4 358h0M354.5 332.9h0M354.5 450.9h0M354.5 412.5h0M354.5 418.1h0M354.6 301h0M354.6 304.4h0M354.6 295.8h0M354.7 294.6h0M354.7 384.2h0M354.7 445.7h0M354.8 447.6h0M354.8 274.6h0M354.8 319.2h0M354.8 272.6h0M354.9 272.1h0M354.9 450.5h0M354.9 312.2h0M355 317.9h0M355 450.8h0M355 315.1h0M355 322.1h0M355.1 288.4h0M355.1 355h0M355.1 372.7h0M355.2 392.6h0M355.2 272.1h0M355.2 405.1h0M355.2 442.2h0M355.3 373.2h0M355.3 321.1h0M355.3 284.4h0M355.4 272.3h0M355.4 337.3h0M355.4 450.6h0M355.5 275.5h0M355.5 348.1h0M355.5 407.3h0M355.5 446.4h0M355.6 402.6h0M355.6 288.7h0M355.6 321.8h0M355.7 293.1h0M355.7 427.6h0M355.7 280.2h0M355.7 288h0M355.8 328.3h0M355.8 319.6h0M355.8 272.4h0M355.9 406.6h0M355.9 376h0M355.9 331.3h0M355.9 418.8h0M356 319h0M356 306.8h0M356 272.1h0M356.1 274h0M356.1 281.9h0M356.1 324.9h0M356.1 433.2h0M356.2 437.5h0M356.2 338.2h0M356.2 309.1h0M356.3 292.4h0M356.3 346.1h0M356.3 449.8h0M356.4 449h0M356.4 273.8h0M356.4 439.2h0M356.4 299.8h0M356.5 288.5h0M356.5 368.2h0M356.5 404.9h0M356.6 276h0M356.6 288.5h0M356.6 425.1h0M356.6 278.6h0M356.7 272.2h0M356.7 446.8h0M356.7 448.1h0M356.8 315.7h0M356.8 399.6h0M356.8 418.1h0M356.8 449.8h0M356.9 366.4h0M356.9 272.8h0M356.9 281.5h0M357 441.4h0M357 341.9h0M357 448h0M357.1 415.5h0M357.1 280.9h0M357.1 412.6h0M357.1 272.4h0M357.2 273.9h0M357.2 447.9h0M357.2 274.6h0M357.3 398.1h0M357.3 293.5h0M357.3 444.3h0M357.3 422.1h0M357.4 317h0M357.4 442.4h0M357.4 447.4h0M357.5 283.7h0M357.5 282h0M357.5 373.7h0M357.5 450.9h0M357.6 335.8h0M357.6 273h0M357.6 417.6h0M357.7 349.9h0M357.7 331.7h0M357.7 301.2h0M357.7 448h0M357.8 273.4h0M357.8 276.5h0M357.8 272.2h0M357.9 295.5h0M357.9 421h0M357.9 428.3h0M358 284.2h0M358 351.3h0M358 311.3h0M358 436.3h0M358.1 311.1h0M358.1 281.6h0M358.1 397.6h0M358.2 347.4h0M358.2 295.8h0M358.2 283.6h0M358.2 274.5h0M358.3 281.3h0M358.3 419.3h0M358.3 447.4h0M358.4 352.1h0M358.4 401.3h0M358.4 277.7h0M358.4 290.6h0M358.5 273.9h0M358.5 316.9h0M358.5 329.9h0M358.6 343.6h0M358.6 327.8h0M358.6 368.4h0M358.7 367.1h0M358.7 293.3h0M358.7 356.3h0M358.7 447.5h0M358.8 327.7h0M358.8 434.2h0M358.8 446.7h0M358.9 444.7h0M358.9 435.7h0M358.9 318.4h0M358.9 331.6h0M359 404.7h0M359 324.1h0M359 313.5h0M359.1 415.2h0M359.1 279.7h0M359.1 322.7h0M359.1 448.4h0M359.2 369.4h0M359.2 421.5h0M359.2 450.5h0M359.3 306.5h0M359.3 432.6h0M359.3 347.9h0M359.4 317.4h0M359.4 292.1h0M359.4 319.1h0M359.4 290.2h0M359.5 277.5h0M359.5 275.8h0M359.5 272.8h0M359.6 409.5h0M359.6 395.9h0M359.6 449h0M359.6 413.2h0M359.7 287.8h0M359.7 290.9h0M359.7 381.7h0M359.8 281.3h0M359.8 272.2h0M359.8 273.4h0M359.8 324.8h0M359.9 377.5h0M359.9 412h0M359.9 277.9h0M360 417.2h0M360 385.3h0M360 279.5h0M360 340.5h0M360.1 331.7h0M360.1 330.6h0M360.1 414.7h0M360.2 361.1h0M360.2 273h0M360.2 326.5h0M360.3 357.2h0M360.3 286.1h0M360.3 416.6h0M360.3 422.3h0M360.4 444.7h0M360.4 428.9h0M360.4 320.6h0M360.5 350.2h0M360.5 399.8h0M360.5 302.2h0M360.5 294.3h0M360.6 272.3h0M360.6 332.8h0M360.6 401.6h0M360.7 363.1h0M360.7 296.7h0M360.7 272.8h0M360.7 346.3h0M360.8 315.9h0M360.8 443.7h0M360.8 345.2h0M360.9 317.1h0M360.9 362h0M360.9 319.7h0M361 332.9h0M361 330h0M361 304.8h0M361 364.3h0M361.1 350.1h0M361.1 342.2h0M361.1 430.3h0M361.2 427.9h0M361.2 429.3h0M361.2 272.1h0M361.2 278.4h0M361.3 276.1h0M361.3 358.8h0M361.3 355.7h0M361.4 383.8h0M361.4 277.4h0M361.4 335.2h0M361.4 331.8h0M361.5 320.8h0M361.5 272.7h0M361.5 406h0M361.6 277.6h0M361.6 335.1h0M361.6 401.7h0M361.6 415.7h0M361.7 365.9h0M361.7 406.2h0M361.7 352.1h0M361.8 284.1h0M361.8 272.3h0M361.8 389.4h0M361.9 297.8h0M361.9 303.1h0M361.9 278.3h0M361.9 277.4h0M362 371.5h0M362 339.3h0M362 329.9h0M362.1 292.8h0M362.1 272.1h0M362.1 441.5h0M362.1 404.9h0M362.2 419.4h0M362.2 279.8h0M362.2 421.3h0M362.3 441.3h0M362.3 347.5h0M362.3 310.2h0M362.3 322.8h0M362.4 305.1h0M362.4 379.3h0M362.4 440.3h0M362.5 349.6h0M362.5 347.3h0M362.5 405.4h0M362.6 443.1h0M362.6 425.7h0M362.6 302.4h0M362.6 302.1h0M362.7 291.5h0M362.7 389.8h0M362.7 356.9h0M362.8 427.8h0M362.8 310.7h0M362.8 449.3h0M362.8 334.3h0M362.9 408h0M362.9 359.3h0M362.9 303.9h0M363 315.7h0M363 335.4h0M363 280.3h0M363 411.7h0M363.1 441.3h0M363.1 343.2h0M363.1 329.7h0M363.2 273.1h0M363.2 282.8h0M363.2 357.6h0M363.2 347.1h0M363.3 437.9h0M363.3 274h0M363.3 394.2h0M363.4 383.6h0M363.4 288.3h0M363.4 364.8h0M363.5 433.8h0M363.5 410.4h0M363.5 411.8h0M363.5 363.5h0M363.6 365h0M363.6 332.2h0M363.6 347.2h0M363.7 399.2h0M363.7 350.4h0M363.7 432.1h0M363.7 439h0M363.8 437.4h0M363.8 288.7h0M363.8 380.5h0M363.9 319.7h0M363.9 448.5h0M363.9 446.2h0M363.9 287.5h0M364 415.1h0M364 284.6h0M364 338.7h0M364.1 446.1h0M364.1 338.9h0M364.1 355.6h0M364.2 329.1h0M364.2 368.8h0M364.2 337.1h0M364.2 272.2h0M364.3 288.4h0M364.3 331.9h0M364.3 441.5h0M364.4 411.7h0M364.4 332.6h0M364.4 363.9h0M364.4 397.7h0M364.5 276.2h0M364.5 395h0M364.5 363.9h0M364.6 290.8h0M364.6 283.6h0M364.6 272.3h0M364.6 359.2h0M364.7 395h0M364.7 367h0M364.7 340.1h0M364.8 450.7h0M364.8 351.4h0M364.8 435.7h0M364.9 272.3h0M364.9 403.9h0M364.9 293.5h0M364.9 397.6h0M365 305h0M365 280.8h0M365 344h0M365.1 377.5h0M365.1 282.6h0M365.1 306.5h0M365.1 409.7h0M365.2 347h0M365.2 297.8h0M365.2 273.4h0M365.3 328h0M365.3 427.3h0M365.3 332.1h0M365.3 272.7h0M365.4 448.4h0M365.4 353.7h0M365.4 289.8h0M365.5 278.8h0M365.5 409.9h0M365.5 354h0M365.5 325.1h0M365.6 410.5h0M365.6 449.9h0M365.6 293.6h0M365.7 275.1h0M365.7 308.1h0M365.7 275.3h0M365.8 279.7h0M365.8 272.8h0M365.8 427.6h0M365.8 432.2h0M365.9 377.6h0M365.9 382.2h0M365.9 371.8h0M366 285.2h0M366 297.9h0M366 272.3h0M366 299.1h0M366.1 274.4h0M366.1 368.3h0M366.1 446h0M366.2 391.2h0M366.2 450.8h0M366.2 445.3h0M366.2 349h0M366.3 313.5h0M366.3 306.5h0M366.3 316.8h0M366.4 272.7h0M366.4 405.9h0M366.4 272.7h0M366.5 413h0M366.5 305.7h0M366.5 444.7h0M366.5 296h0M366.6 301.7h0M366.6 443h0M366.6 419.2h0M366.7 426.8h0M366.7 439.6h0M366.7 357.1h0M366.7 431.5h0M366.8 295.2h0M366.8 425.9h0M366.8 399.4h0M366.9 343.5h0M366.9 378.8h0M366.9 304.1h0M366.9 281.5h0M367 363.1h0M367 432.4h0M367 283.6h0M367.1 272.1h0M367.1 294.4h0M367.1 351h0M367.1 311.4h0M367.2 304.1h0M367.2 398.3h0M367.2 289.7h0M367.3 402.2h0M367.3 339.8h0M367.3 373.9h0M367.4 440.1h0M367.4 278.9h0M367.4 333.9h0M367.4 335.1h0M367.5 441.1h0M367.5 318.1h0M367.5 309.2h0M367.6 308.8h0M367.6 347.8h0M367.6 338.4h0M367.6 407.6h0M367.7 430.1h0M367.7 272.1h0M367.7 294.2h0M367.8 272.4h0M367.8 373h0M367.8 450h0M367.8 405.9h0M367.9 294.4h0M367.9 343.3h0M367.9 444.7h0M368 273.7h0M368 347.7h0M368 368.6h0M368.1 423.6h0M368.1 341.1h0M368.1 340.9h0M368.1 309.5h0M368.2 272.8h0M368.2 343h0M368.2 430.2h0M368.3 425.9h0M368.3 448.8h0M368.3 306.5h0M368.3 272.8h0M368.4 356.6h0M368.4 310h0M368.4 292.1h0M368.5 396.5h0M368.5 320h0M368.5 320.5h0M368.5 292.6h0M368.6 285h0M368.6 312.6h0M368.6 385.6h0M368.7 440.1h0M368.7 377h0M368.7 314h0M368.7 444.4h0M368.8 279.9h0M368.8 421.4h0M368.8 450.7h0M368.9 393.3h0M368.9 449.3h0M368.9 294.2h0M369 406.8h0M369 298.2h0M369 274.7h0M369 444h0M369.1 309.9h0M369.1 290.2h0M369.1 272.3h0M369.2 359.4h0M369.2 286.2h0M369.2 273.2h0M369.2 275.5h0M369.3 386.4h0M369.3 343.4h0M369.3 272.6h0M369.4 295.9h0M369.4 429.6h0M369.4 361.4h0M369.4 405.1h0M369.5 294.1h0M369.5 393.2h0M369.5 310.1h0M369.6 280.5h0M369.6 446.7h0M369.6 354.9h0M369.7 281.9h0M369.7 450.5h0M369.7 448h0M369.7 342.5h0M369.8 334.4h0M369.8 350.7h0M369.8 397.5h0M369.9 432.2h0M369.9 380.8h0M369.9 305h0M369.9 319h0M370 292.3h0M370 321.9h0M370 284.8h0M370.1 274.5h0M370.1 285.6h0M370.1 407.2h0M370.1 437.2h0M370.2 442.7h0M370.2 375.3h0M370.2 283.9h0M370.3 387.9h0M370.3 447.8h0M370.3 277.3h0M370.4 450.8h0M370.4 377.2h0M370.4 357.5h0M370.4 444.6h0M370.5 310.3h0M370.5 286.9h0M370.5 304.2h0M370.6 436.9h0M370.6 286.1h0M370.6 274.3h0M370.6 443.1h0M370.7 343.3h0M370.7 313.1h0M370.7 429.2h0M370.8 444.4h0M370.8 401.5h0M370.8 448.2h0M370.8 438.7h0M370.9 274h0M370.9 321.8h0M370.9 372h0M371 435.1h0M371 379.4h0M371 282.4h0M371 375.2h0M371.1 273.5h0M371.1 423.6h0M371.1 450.5h0M371.2 445.9h0M371.2 343h0M371.2 420.1h0M371.3 395.6h0M371.3 447.8h0M371.3 358.6h0M371.3 401h0M371.4 442.6h0M371.4 418.2h0M371.4 445.6h0M371.5 272.6h0M371.5 427.6h0M371.5 311.9h0M371.5 418.6h0M371.6 413.8h0M371.6 326.7h0M371.6 283.9h0M371.7 420.1h0M371.7 320.6h0M371.7 314.8h0M371.7 415.2h0M371.8 444h0M371.8 347h0M371.8 276.9h0M371.9 434h0M371.9 315.3h0M371.9 382.4h0M372 396.2h0M372 407.4h0M372 370.7h0M372 415.7h0M372.1 276.2h0M372.1 284.5h0M372.1 291.2h0M372.2 384.8h0M372.2 385h0M372.2 366.7h0M372.2 296.9h0M372.3 345.7h0M372.3 321h0M372.3 295.6h0M372.4 293.1h0M372.4 274.2h0M372.4 307.6h0M372.4 336.5h0M372.5 398.6h0M372.5 344.8h0M372.5 297.6h0M372.6 450.9h0M372.6 316.4h0M372.6 303.8h0M372.6 440.1h0M372.7 272.3h0M372.7 317h0M372.7 317.8h0M372.8 343.4h0M372.8 277.3h0M372.8 283.1h0M372.9 284h0M372.9 445.7h0M372.9 415.6h0M372.9 273.9h0M373 348.9h0M373 296.1h0M373 275.7h0M373.1 443.1h0M373.1 400.9h0M373.1 291.2h0M373.1 397h0M373.2 285.8h0M373.2 442.8h0M373.2 293.3h0M373.3 295.6h0M373.3 441.7h0M373.3 409h0M373.3 392.6h0M373.4 443.7h0M373.4 282.9h0M373.4 341.6h0M373.5 382.4h0M373.5 283.4h0M373.5 294.8h0M373.6 293.8h0M373.6 347.3h0M373.6 446.9h0M373.6 311.8h0M373.7 433.5h0M373.7 355.6h0M373.7 329.1h0M373.8 447.9h0M373.8 323.9h0M373.8 443.1h0M373.8 394.8h0M373.9 389.8h0M373.9 445.4h0M373.9 272.8h0M374 274.2h0M374 317.1h0M374 279.5h0M374 317.5h0M374.1 272.7h0M374.1 361.7h0M374.1 330h0M374.2 300.3h0M374.2 450.8h0M374.2 437.6h0M374.2 340h0M374.3 312.8h0M374.3 439.1h0M374.3 437.2h0M374.4 442.8h0M374.4 358.2h0M374.4 309h0M374.5 389.3h0M374.5 420.9h0M374.5 380.7h0M374.5 424.7h0M374.6 280.5h0M374.6 283h0M374.6 324.9h0M374.7 369.3h0M374.7 444.1h0M374.7 410.6h0M374.7 388.5h0M374.8 326.1h0M374.8 408.3h0M374.8 427.1h0M374.9 302.6h0M374.9 436.5h0M374.9 395.1h0M374.9 280.8h0M375 278.3h0M375 446h0M375 364.1h0M375.1 388.2h0M375.1 277.1h0M375.1 393.7h0M375.2 279.4h0M375.2 361.1h0M375.2 412.2h0M375.2 297.5h0M375.3 384h0M375.3 272.5h0M375.3 416.8h0M375.4 353.5h0M375.4 278h0M375.4 282.7h0M375.4 272.2h0M375.5 449.1h0M375.5 272.6h0M375.5 293.2h0M375.6 450.1h0M375.6 399.2h0M375.6 335.1h0M375.6 338.4h0M375.7 280.7h0M375.7 279h0M375.7 385.6h0M375.8 448.3h0M375.8 450.9h0M375.8 282.6h0M375.9 446.8h0M375.9 288.3h0M375.9 442.6h0M375.9 325.7h0M376 378.1h0M376 292.5h0M376 272.1h0M376.1 291.7h0M376.1 287.3h0M376.1 428.7h0M376.1 276.4h0M376.2 276.5h0M376.2 383.8h0M376.2 296.5h0M376.3 375.3h0M376.3 282.8h0M376.3 273h0M376.3 349h0M376.4 419h0M376.4 291.1h0M376.4 297.8h0M376.5 361.5h0M376.5 442.8h0M376.5 298.8h0M376.5 272.8h0M376.6 276.3h0M376.6 369.6h0M376.6 345.5h0M376.7 272.1h0M376.7 278.9h0M376.7 294.3h0M376.8 443.2h0M376.8 347.9h0M376.8 275.1h0M376.8 412.9h0M376.9 335.7h0M376.9 272.9h0M376.9 363.7h0M377 448.1h0M377 317.9h0M377 343.5h0M377 274.9h0M377.1 409.5h0M377.1 394.6h0M377.1 363.1h0M377.2 290.2h0M377.2 331.1h0M377.2 387.1h0M377.2 384h0M377.3 441.5h0M377.3 329.9h0M377.3 354.6h0M377.4 354.5h0M377.4 405.9h0M377.4 316h0M377.5 441.5h0M377.5 339.2h0M377.5 288.5h0M377.5 277h0M377.6 406.7h0M377.6 272.3h0M377.6 311.7h0M377.7 387.4h0M377.7 390.9h0M377.7 313.6h0M377.7 314h0M377.8 450.9h0M377.8 441.9h0M377.8 274.4h0M377.9 284.8h0M377.9 384.2h0M377.9 400.4h0M377.9 320.8h0M378 449.7h0M378 272.2h0M378 404.1h0M378.1 323h0M378.1 349.4h0M378.1 374.6h0M378.1 400.9h0M378.2 301.1h0M378.2 439.2h0M378.2 272.1h0M378.3 306h0M378.3 421.5h0M378.3 450.4h0M378.4 449.5h0M378.4 438.5h0M378.4 351.6h0M378.4 445h0M378.5 272.9h0M378.5 274.4h0M378.5 422.6h0M378.6 450.5h0M378.6 310h0M378.6 273.8h0M378.6 394h0M378.7 273.4h0M378.7 272.4h0M378.7 286.4h0M378.8 365.6h0M378.8 273.7h0M378.8 450h0M378.8 277.3h0M378.9 349.7h0M378.9 290.7h0M378.9 299.8h0M379 450.8h0M379 363.2h0M379 450.6h0M379.1 397.6h0M379.1 308.2h0M379.1 309.8h0M379.1 439.7h0M379.2 371.5h0M379.2 293.5h0M379.2 277.2h0M379.3 293.3h0M379.3 339.9h0M379.3 278.9h0M379.3 431.9h0M379.4 324.5h0M379.4 425.2h0M379.4 290.6h0M379.5 432.3h0M379.5 315.5h0M379.5 274.8h0M379.5 280.8h0M379.6 438.5h0M379.6 332.6h0M379.6 360h0M379.7 415.3h0M379.7 393.3h0M379.7 449.4h0M379.7 450.3h0M379.8 272.9h0M379.8 322.7h0M379.8 446.4h0M379.9 346.8h0M379.9 449.3h0M379.9 416.1h0M380 450.1h0M380 383.4h0M380 279.5h0M380 413.7h0M380.1 383.4h0M380.1 307.8h0M380.1 366.9h0M380.2 355.8h0M380.2 301.8h0M380.2 340.1h0M380.2 303.7h0M380.3 435.5h0M380.3 272.8h0M380.3 276.7h0M380.4 300.3h0M380.4 292.4h0M380.4 272.8h0M380.4 312.6h0M380.5 314h0M380.5 328h0M380.5 303.8h0M380.6 421.5h0M380.6 409.7h0M380.6 347.6h0M380.7 272.5h0M380.7 278.4h0M380.7 437.5h0M380.7 444.1h0M380.8 358.1h0M380.8 272.2h0M380.8 430.2h0M380.9 303.9h0M380.9 369.2h0M380.9 369.2h0M380.9 322.3h0M381 362.3h0M381 324.7h0M381 290h0M381.1 292.9h0M381.1 343.2h0M381.1 294.8h0M381.1 377.4h0M381.2 407.6h0M381.2 333.4h0M381.2 450.2h0M381.3 392.6h0M381.3 310.2h0M381.3 273.2h0M381.3 379.8h0M381.4 331.5h0M381.4 274h0M381.4 445.3h0M381.5 274.6h0M381.5 282.7h0M381.5 342.3h0M381.6 430.4h0M381.6 280.9h0M381.6 272.2h0M381.6 334.1h0M381.7 367h0M381.7 280.9h0M381.7 275.1h0M381.8 382.6h0M381.8 366h0M381.8 343.9h0M381.8 274.1h0M381.9 350.3h0M381.9 297.4h0M381.9 442.5h0M382 403.9h0M382 429.9h0M382 410.8h0M382 328.7h0M382.1 311.6h0M382.1 289.9h0M382.1 364.3h0M382.2 421.5h0M382.2 274.1h0M382.2 446.5h0M382.3 417.5h0M382.3 316.8h0M382.3 427.4h0M382.3 335.8h0M382.4 342.2h0M382.4 287.7h0M382.4 299h0M382.5 352.9h0M382.5 439.9h0M382.5 357.6h0M382.5 415h0M382.6 401.4h0M382.6 353.4h0M382.6 432.6h0M382.7 313.1h0M382.7 387.2h0M382.7 274.3h0M382.7 325.6h0M382.8 273.4h0M382.8 300.5h0M382.8 355.9h0M382.9 272.9h0M382.9 280.3h0M382.9 408.7h0M383 380.1h0M383 404.5h0M383 338.1h0M383 397.4h0M383.1 353.2h0M383.1 340.5h0M383.1 326.8h0M383.2 357.5h0M383.2 273.1h0M383.2 397.6h0M383.2 368.4h0M383.3 278.2h0M383.3 333.2h0M383.3 436.9h0M383.4 436.5h0M383.4 294.8h0M383.4 273.3h0M383.4 356h0M383.5 378.9h0M383.5 346.6h0M383.5 446.2h0M383.6 300.7h0M383.6 346.4h0M383.6 290.2h0M383.6 298.5h0M383.7 439.9h0M383.7 279.7h0M383.7 414.9h0M383.8 449.1h0M383.8 398h0M383.8 376.4h0M383.9 362.7h0M383.9 308.2h0M383.9 423.3h0M383.9 391.6h0M384 344h0M384 272.2h0M384 399.9h0M384.1 450.8h0M384.1 449.1h0M384.1 323.6h0M384.1 272.1h0M384.2 450.4h0M384.2 413.6h0M384.2 293.3h0M384.3 276.4h0M384.3 416.4h0M384.3 336.7h0M384.3 396.3h0M384.4 313.6h0M384.4 326.6h0M384.4 329.2h0M384.5 450.5h0M384.5 396.5h0M384.5 288.5h0M384.6 436.2h0M384.6 276.8h0M384.6 447.5h0M384.6 276.6h0M384.7 343.6h0M384.7 328.4h0M384.7 321.2h0M384.8 354.1h0M384.8 288.8h0M384.8 398.2h0M384.8 272.2h0M384.9 445.8h0M384.9 364.4h0M384.9 402.9h0M385 349.7h0M385 408.9h0M385 333.4h0M385 362.5h0M385.1 329.4h0M385.1 381.7h0M385.1 406.3h0M385.2 407.9h0M385.2 385.6h0M385.2 332.2h0M385.2 274.9h0M385.3 405.9h0M385.3 400.8h0M385.3 397.5h0M385.4 448.8h0M385.4 293.1h0M385.4 407.9h0M385.5 382.6h0M385.5 405.1h0M385.5 310h0M385.5 409.8h0M385.6 328.3h0M385.6 350.3h0M385.6 273.9h0M385.7 370.2h0M385.7 325.4h0M385.7 287.6h0M385.7 340.4h0M385.8 408.4h0M385.8 450.7h0M385.8 281.9h0M385.9 272.4h0M385.9 440.7h0M385.9 274h0M385.9 276.8h0M386 433.8h0M386 294.6h0M386 449.7h0M386.1 425.4h0M386.1 336h0M386.1 380.2h0M386.2 288.9h0M386.2 296.9h0M386.2 283.2h0M386.2 309.6h0M386.3 330.3h0M386.3 412.3h0M386.3 438h0M386.4 273.5h0M386.4 432.8h0M386.4 385.5h0M386.4 381.3h0M386.5 281.7h0M386.5 333.3h0M386.5 438.2h0M386.6 387.5h0M386.6 447h0M386.6 272.2h0M386.6 436.8h0M386.7 353.3h0M386.7 418.8h0M386.7 279.7h0M386.8 292.2h0M386.8 371.5h0M386.8 397.9h0M386.8 363.5h0M386.9 400.8h0M386.9 444.4h0M386.9 412.5h0M387 375h0M387 276.5h0M387 274.8h0M387.1 281.2h0M387.1 412.3h0M387.1 383.8h0M387.1 427.6h0M387.2 296.6h0M387.2 410.5h0M387.2 387.3h0M387.3 404.2h0M387.3 274.4h0M387.3 365.2h0M387.3 357.8h0M387.4 336.4h0M387.4 296.5h0M387.4 377.1h0M387.5 443h0M387.5 296.4h0M387.5 352h0M387.5 448.6h0M387.6 277.8h0M387.6 293.2h0M387.6 344.7h0M387.7 349.2h0M387.7 339.2h0M387.7 430.5h0M387.8 280.7h0M387.8 296.6h0M387.8 381.8h0M387.8 326.8h0M387.9 432.2h0M387.9 275.9h0M387.9 296.9h0M388 302.4h0M388 431.2h0M388 279.8h0M388 357.4h0M388.1 274.2h0M388.1 417.2h0M388.1 366.4h0M388.2 353.7h0M388.2 446.8h0M388.2 281.2h0M388.2 425.5h0M388.3 273.3h0M388.3 370.4h0M388.3 380.5h0M388.4 274.7h0M388.4 278.6h0M388.4 439.2h0M388.5 429.9h0M388.5 383.4h0M388.5 333.2h0M388.5 276.1h0M388.6 306.2h0M388.6 448.3h0M388.6 396.2h0M388.7 288.5h0M388.7 430.2h0M388.7 379h0M388.7 421.6h0M388.8 450.8h0M388.8 436.4h0M388.8 400.7h0M388.9 273.3h0M388.9 363.8h0M388.9 410.4h0M388.9 312.7h0M389 295.9h0M389 296.1h0M389 272.9h0M389.1 284.6h0M389.1 274.2h0M389.1 272.8h0M389.1 272.9h0M389.2 341h0M389.2 332.5h0M389.2 279.4h0M389.3 299h0M389.3 370.6h0M389.3 274.7h0M389.4 295.8h0M389.4 444.3h0M389.4 391h0M389.4 378.6h0M389.5 368.3h0M389.5 427.3h0M389.5 331.4h0M389.6 358.5h0M389.6 348.9h0M389.6 292.5h0M389.6 314.4h0M389.7 282.9h0M389.7 339.5h0M389.7 380.7h0M389.8 370.1h0M389.8 304.8h0M389.8 303.2h0M389.8 358.1h0M389.9 398.6h0M389.9 317.2h0M389.9 276.3h0M390 447h0M390 435.7h0M390 428.1h0M390.1 433.2h0M390.1 382.8h0M390.1 286.7h0M390.1 344.8h0M390.2 364.2h0M390.2 328.4h0M390.2 313.3h0M390.3 345.7h0M390.3 298.1h0M390.3 272.3h0M390.3 283.4h0M390.4 284.7h0M390.4 423.5h0M390.4 362.2h0M390.5 317.7h0M390.5 405.7h0M390.5 425.2h0M390.5 407.1h0M390.6 376.9h0M390.6 303.1h0M390.6 421.3h0M390.7 430.1h0M390.7 287.5h0M390.7 368h0M390.7 324.7h0M390.8 382.4h0M390.8 359.6h0M390.8 449.5h0M390.9 440.9h0M390.9 432.5h0M390.9 434.6h0M391 309.3h0M391 394.8h0M391 333h0M391 436.5h0M391.1 314.7h0M391.1 306.6h0M391.1 442.1h0M391.2 297.6h0M391.2 450.3h0M391.2 313.7h0M391.2 281h0M391.3 356.9h0M391.3 425.5h0M391.3 333.4h0M391.4 290.9h0M391.4 329h0M391.4 312.1h0M391.4 439.5h0M391.5 279.5h0M391.5 273.7h0M391.5 440.8h0M391.6 450.6h0M391.6 420.9h0M391.6 345.2h0M391.7 278.2h0M391.7 303.4h0M391.7 274.2h0M391.7 346.1h0M391.8 329.5h0M391.8 428.7h0M391.8 314.3h0M391.9 272.1h0M391.9 293h0M391.9 382.8h0M391.9 409.1h0M392 272.1h0M392 296.7h0M392 288.4h0M392.1 355.9h0M392.1 308.9h0M392.1 448.4h0M392.1 338.6h0M392.2 278.6h0M392.2 429.8h0M392.2 430.7h0M392.3 348h0M392.3 441h0M392.3 352.7h0M392.3 428.1h0M392.4 328.9h0M392.4 272.8h0M392.4 443.5h0M392.5 406h0M392.5 445.2h0M392.5 308.5h0M392.6 415.9h0M392.6 331.8h0M392.6 412.3h0M392.6 296.8h0M392.7 440h0M392.7 450h0M392.7 287.1h0M392.8 421.7h0M392.8 272.4h0M392.8 367.4h0M392.8 448.4h0M392.9 445.9h0M392.9 392.7h0M392.9 361.5h0M393 390.9h0M393 431h0M393 301.6h0M393 416.2h0M393.1 310.1h0M393.1 406.1h0M393.1 272.4h0M393.2 446h0M393.2 289.7h0M393.2 399.5h0M393.3 351.5h0M393.3 272.2h0M393.3 427.2h0M393.3 272.2h0M393.4 450.3h0M393.4 412.5h0M393.4 272.6h0M393.5 306.1h0M393.5 449.7h0M393.5 395.1h0M393.5 285.7h0M393.6 314.8h0M393.6 339.6h0M393.6 281.9h0M393.7 310h0M393.7 272.3h0M393.7 297.2h0M393.7 450.6h0M393.8 446.6h0M393.8 344.5h0M393.8 359.6h0M393.9 450.3h0M393.9 382h0M393.9 406.5h0M394 272.1h0M394 423.8h0M394 430.6h0M394 345h0M394.1 286.8h0M394.1 284.3h0M394.1 314.2h0M394.2 429.2h0M394.2 272.6h0M394.2 306.4h0M394.2 277.5h0M394.3 421.9h0M394.3 327h0M394.3 300.4h0M394.4 312.2h0M394.4 361.4h0M394.4 272.9h0M394.4 286.9h0M394.5 419.2h0M394.5 444.2h0M394.5 276h0M394.6 298.9h0M394.6 272.3h0M394.6 380.5h0M394.6 407.1h0M394.7 382h0M394.7 280.6h0M394.7 426.4h0M394.8 272.1h0M394.8 330.6h0M394.8 296.6h0M394.9 377.1h0M394.9 314.8h0M394.9 286.4h0M394.9 315.1h0M395 277.5h0M395 383.7h0M395 420.6h0M395.1 272.2h0M395.1 450.1h0M395.1 350.9h0M395.1 331.9h0M395.2 280.4h0M395.2 272.4h0M395.2 353h0M395.3 414h0M395.3 403.6h0M395.3 409.3h0M395.3 440.2h0M395.4 288h0M395.4 357.7h0M395.4 272.2h0M395.5 310.7h0M395.5 399.3h0M395.5 356.9h0M395.6 327.6h0M395.6 446.3h0M395.6 405.2h0M395.6 366.7h0M395.7 437.2h0M395.7 441.1h0M395.7 272.5h0M395.8 423.5h0M395.8 346.4h0M395.8 284.2h0M395.8 397.1h0M395.9 407.6h0M395.9 350.5h0M395.9 347.8h0M396 384.1h0M396 396.4h0M396 450h0M396 439.4h0M396.1 337.4h0M396.1 277.2h0M396.1 359.7h0M396.2 279.4h0M396.2 377.3h0M396.2 305.6h0M396.2 273.8h0M396.3 280.5h0M396.3 333.8h0M396.3 284h0M396.4 273h0M396.4 380.7h0M396.4 363.8h0M396.5 278.8h0M396.5 380.6h0M396.5 306.9h0M396.5 316h0M396.6 305.4h0M396.6 365.4h0M396.6 294.9h0M396.7 417.1h0M396.7 272.4h0M396.7 282.2h0M396.7 425.6h0M396.8 336.5h0M396.8 385.3h0M396.8 281.1h0M396.9 445.6h0M396.9 345.2h0M396.9 278.1h0M396.9 450.5h0M397 273.6h0M397 307.6h0M397 282.9h0M397.1 272.3h0M397.1 382.8h0M397.1 341.4h0M397.2 336.4h0M397.2 418.4h0M397.2 414.1h0M397.2 352.5h0M397.3 405.9h0M397.3 293.1h0M397.3 414.7h0M397.4 367.9h0M397.4 434.3h0M397.4 412.3h0M397.4 284h0M397.5 329.1h0M397.5 292.8h0M397.5 272.4h0M397.6 293.2h0M397.6 429.6h0M397.6 437h0M397.6 415.3h0M397.7 286.4h0M397.7 332.5h0M397.7 322.7h0M397.8 368.7h0M397.8 352.8h0M397.8 423.6h0M397.8 324.8h0M397.9 397.1h0M397.9 345.5h0M397.9 448.1h0M398 330.8h0M398 374.4h0M398 450.1h0M398.1 310h0M398.1 340.5h0M398.1 330h0M398.1 329h0M398.2 272.2h0M398.2 450.1h0M398.2 367.9h0M398.3 364.3h0M398.3 282.7h0M398.3 402.1h0M398.3 322.6h0M398.4 283.5h0M398.4 274h0M398.4 301.4h0M398.5 299.3h0M398.5 283.1h0M398.5 400.2h0M398.5 332h0M398.6 302.6h0M398.6 334.4h0M398.6 333.3h0M398.7 432.2h0M398.7 314.2h0M398.7 350.4h0M398.8 443.6h0M398.8 296.7h0M398.8 272.5h0M398.8 321.2h0M398.9 361h0M398.9 388.6h0M398.9 333.4h0M399 341.2h0M399 280.6h0M399 298.5h0M399 450.9h0M399.1 444.1h0M399.1 445h0M399.1 290.8h0M399.2 277.2h0M399.2 349.1h0M399.2 436.8h0M399.2 438h0M399.3 401.2h0M399.3 272.2h0M399.3 413.5h0M399.4 325.1h0M399.4 272.1h0M399.4 411.9h0M399.5 275.7h0M399.5 277.8h0M399.5 415.6h0M399.5 398.2h0M399.6 371.9h0M399.6 276h0M399.6 428.5h0M399.7 436.9h0M399.7 359.8h0M399.7 272.7h0M399.7 447.5h0M399.8 310.8h0M399.8 288.4h0M399.8 394.9h0M399.9 283.3h0M399.9 326.8h0M399.9 272.3h0M399.9 360.8h0M400 272.2h0M400 425.1h0M400 449.9h0M400.1 337.7h0M400.1 376h0M400.1 331.3h0M400.1 399.1h0M400.2 300.9h0M400.2 331.4h0M400.2 349.7h0M400.3 274.8h0M400.3 399.6h0M400.3 446.9h0M400.4 348.9h0M400.4 429.7h0M400.4 449.7h0M400.4 399.8h0M400.5 409.3h0M400.5 367.6h0M400.5 323h0M400.6 273.6h0M400.6 301.1h0M400.6 445.1h0M400.6 337.8h0M400.7 318.1h0M400.7 273h0M400.7 352.7h0M400.8 273.7h0M400.8 359.8h0M400.8 293.9h0M400.8 356.2h0M400.9 329.7h0M400.9 419.8h0M400.9 410h0M401 450h0M401 422.2h0M401 305.5h0M401.1 440.8h0M401.1 292.2h0M401.1 297.5h0M401.1 449.7h0M401.2 277.3h0M401.2 376.5h0M401.2 272.3h0M401.3 279.9h0M401.3 277h0M401.3 423h0M401.3 283.1h0M401.4 275.4h0M401.4 429.4h0M401.4 428.7h0M401.5 286.1h0M401.5 372h0M401.5 300.8h0M401.5 314.4h0M401.6 413.7h0M401.6 318.1h0M401.6 417.9h0M401.7 319.6h0M401.7 338.4h0M401.7 450.5h0M401.7 307.3h0M401.8 272.3h0M401.8 431.3h0M401.8 368h0M401.9 273.1h0M401.9 447.8h0M401.9 330.1h0M402 315.4h0M402 322.2h0M402 421.5h0M402 416.4h0M402.1 309.9h0M402.1 273.4h0M402.1 297.7h0M402.2 423h0M402.2 336.9h0M402.2 449.6h0M402.2 445.7h0M402.3 443.4h0M402.3 288.4h0M402.3 285.1h0M402.4 399.1h0M402.4 334.6h0M402.4 321.7h0M402.4 377.6h0M402.5 310.4h0M402.5 273.8h0M402.5 440.3h0M402.6 345.9h0M402.6 274.7h0M402.6 450.7h0M402.7 272.3h0M402.7 320.4h0M402.7 376.2h0M402.7 301.6h0M402.8 381.3h0M402.8 358.1h0M402.8 340.7h0M402.9 272.4h0M402.9 312.9h0M402.9 345.7h0M402.9 444.8h0M403 301.6h0M403 335.2h0M403 432.8h0M403.1 273.2h0M403.1 334.7h0M403.1 280.5h0M403.1 371.6h0M403.2 392.7h0M403.2 285.6h0M403.2 379.4h0M403.3 395.9h0M403.3 450.2h0M403.3 359h0M403.3 285.6h0M403.4 282.4h0M403.4 272.1h0M403.4 367.5h0M403.5 450.1h0M403.5 272.1h0M403.5 386.9h0M403.6 293.5h0M403.6 343.1h0M403.6 404.3h0M403.6 421.3h0M403.7 450.8h0M403.7 397.7h0M403.7 442.3h0M403.8 444.4h0M403.8 409.3h0M403.8 446.6h0M403.8 425.3h0M403.9 384.6h0M403.9 274.2h0M403.9 325.2h0M404 289.4h0M404 412.2h0M404 431.4h0M404 402.1h0M404.1 411h0M404.1 409.9h0M404.1 430.6h0M404.2 359h0M404.2 307.8h0M404.2 425.5h0M404.3 291.4h0M404.3 355.7h0M404.3 410.1h0M404.3 311.9h0M404.4 380.2h0M404.4 298.2h0M404.4 290.1h0M404.5 286.7h0M404.5 341.2h0M404.5 370.8h0M404.5 449.7h0M404.6 334.4h0M404.6 302.5h0M404.6 296.6h0M404.7 432.6h0M404.7 403.6h0M404.7 360.2h0M404.7 353.9h0M404.8 315.5h0M404.8 352.8h0M404.8 309h0M404.9 274.9h0M404.9 273.5h0M404.9 324.5h0M404.9 337.4h0M405 278.9h0M405 272.1h0M405 361h0M405.1 395.7h0M405.1 447.6h0M405.1 441h0M405.2 278.4h0M405.2 291.6h0M405.2 328.1h0M405.2 317.6h0M405.3 420.6h0M405.3 443.2h0M405.3 300.4h0M405.4 341.4h0M405.4 427.6h0M405.4 405.6h0M405.4 435.9h0M405.5 424.6h0M405.5 362.2h0M405.5 282.7h0M405.6 436.7h0M405.6 396.9h0M405.6 346.2h0M405.6 444.5h0M405.7 292.3h0M405.7 296h0M405.7 321.9h0M405.8 418.2h0M405.8 341.7h0M405.8 272.4h0M405.9 313.1h0M405.9 382.8h0M405.9 272.1h0M405.9 354.6h0M406 279.4h0M406 281.3h0M406 414.8h0M406.1 387.7h0M406.1 382.3h0M406.1 292.7h0M406.1 290.6h0M406.2 278.6h0M406.2 311.2h0M406.2 285.4h0M406.3 440.8h0M406.3 325.1h0M406.3 289.1h0M406.3 378.4h0M406.4 275.4h0M406.4 276.1h0M406.4 365.9h0M406.5 355.6h0M406.5 385.4h0M406.5 378.4h0M406.6 275.8h0M406.6 274.3h0M406.6 450.7h0M406.6 272.8h0M406.7 381.9h0M406.7 276.5h0M406.7 322.5h0M406.8 275.4h0M406.8 332.5h0M406.8 389.2h0M406.8 310.5h0M406.9 443.3h0M406.9 448.6h0M406.9 420.4h0M407 418.1h0M407 361.7h0M407 410.8h0M407 441.6h0M407.1 368.7h0M407.1 288.3h0M407.1 380.7h0M407.2 419h0M407.2 346.6h0M407.2 323h0M407.2 433h0M407.3 313.7h0M407.3 278.1h0M407.3 359.3h0M407.4 279h0M407.4 272.2h0M407.4 407.3h0M407.5 329.6h0M407.5 353.7h0M407.5 410.9h0M407.5 304.6h0M407.6 410.2h0M407.6 353h0M407.6 342h0M407.7 415.3h0M407.7 276h0M407.7 385h0M407.7 332.6h0M407.8 376.8h0M407.8 281.3h0M407.8 329.2h0M407.9 342.5h0M407.9 321h0M407.9 306h0M407.9 284.4h0M408 438h0M408 306.1h0M408 275.7h0M408.1 447h0M408.1 442.2h0M408.1 392.4h0M408.2 288.5h0M408.2 388.7h0M408.2 303h0M408.2 272.5h0M408.3 282h0M408.3 310.4h0M408.3 447.1h0M408.4 322.8h0M408.4 320.3h0M408.4 435.4h0M408.4 430.3h0M408.5 272.6h0M408.5 421.9h0M408.5 344.2h0M408.6 391.4h0M408.6 367.9h0M408.6 274.2h0M408.6 379.5h0M408.7 352.9h0M408.7 301.8h0M408.7 309.9h0M408.8 368.8h0M408.8 410.7h0M408.8 438.6h0M408.8 398.3h0M408.9 292.9h0M408.9 433.6h0M408.9 447h0M409 355.5h0M409 412.2h0M409 434.5h0M409.1 302.7h0M409.1 392.6h0M409.1 405.7h0M409.1 428h0M409.2 280.4h0M409.2 450.9h0M409.2 448.7h0M409.3 344.4h0M409.3 324.9h0M409.3 316.8h0M409.3 449.1h0M409.4 280.2h0M409.4 434.3h0M409.4 272.1h0M409.5 424.3h0M409.5 450.7h0M409.5 391.2h0M409.5 290.8h0M409.6 372.7h0M409.6 431.8h0M409.6 416.7h0M409.7 449.1h0M409.7 272.3h0M409.7 362.7h0M409.8 280.7h0M409.8 274.1h0M409.8 404.5h0M409.8 272.7h0M409.9 272.1h0M409.9 305.5h0M409.9 373.1h0M410 421.8h0M410 372.7h0M410 287.5h0M410 299.7h0M410.1 287.9h0M410.1 388.3h0M410.1 359.1h0M410.2 328.5h0M410.2 434.6h0M410.2 437.6h0M410.2 421.6h0M410.3 421.6h0M410.3 289h0M410.3 444.7h0M410.4 299.2h0M410.4 273h0M410.4 397.8h0M410.4 389.6h0M410.5 441.3h0M410.5 291.9h0M410.5 272.2h0M410.6 382h0M410.6 404.2h0M410.6 352.4h0M410.7 285.2h0M410.7 445.5h0M410.7 382.5h0M410.7 276.8h0M410.8 427.8h0M410.8 398h0M410.8 450.9h0M410.9 360.8h0M410.9 424.5h0M410.9 275.3h0M410.9 394.1h0M411 386.6h0M411 272.6h0M411 386h0M411.1 318.2h0M411.1 296.4h0M411.1 433.2h0M411.1 421.3h0M411.2 273.7h0M411.2 290.7h0M411.2 386.3h0M411.3 435.4h0M411.3 272.2h0M411.3 276.9h0M411.4 310.2h0M411.4 298.3h0M411.4 296.8h0M411.4 419.9h0M411.5 285.4h0M411.5 427.7h0M411.5 450.5h0M411.6 310.1h0M411.6 320.2h0M411.6 330.7h0M411.6 278.5h0M411.7 307.9h0M411.7 341.1h0M411.7 449.4h0M411.8 272.3h0M411.8 425.4h0M411.8 424h0M411.8 285.9h0M411.9 450.6h0M411.9 298.2h0M411.9 433.7h0M412 292.5h0M412 429.3h0M412 429.3h0M412.1 432h0M412.1 441.5h0M412.1 388.5h0M412.1 427.7h0M412.2 445.8h0M412.2 448.5h0M412.2 438.3h0M412.3 435.8h0M412.3 272.3h0M412.3 443.9h0M412.3 430.3h0M412.4 444.2h0M412.4 288.7h0M412.4 364.9h0M412.5 384.9h0M412.5 349.4h0M412.5 361.7h0M412.5 320.9h0M412.6 365.9h0M412.6 274.3h0M412.6 379.1h0M412.7 319.2h0M412.7 305.4h0M412.7 404.4h0M412.7 445.4h0M412.8 446.9h0M412.8 302.7h0M412.8 322.3h0M412.9 359.5h0M412.9 390.7h0M412.9 324h0M413 272.3h0M413 319.5h0M413 330.3h0M413 278.3h0M413.1 378.3h0M413.1 276h0M413.1 444.9h0M413.2 365.9h0M413.2 278.6h0M413.2 424.9h0M413.2 411.5h0M413.3 358.2h0M413.3 322.8h0M413.3 281.1h0M413.4 274.3h0M413.4 306.9h0M413.4 297.9h0M413.4 308.1h0M413.5 273.6h0M413.5 413.6h0M413.5 425.6h0M413.6 314.9h0M413.6 450.8h0M413.6 317.1h0M413.7 449.9h0M413.7 438.7h0M413.7 284h0M413.7 352.6h0M413.8 316.2h0M413.8 335h0M413.8 446.8h0M413.9 343h0M413.9 276.3h0M413.9 450.6h0M413.9 306.9h0M414 359.4h0M414 304.5h0M414 285.3h0M414.1 363.5h0M414.1 313.6h0M414.1 355.4h0M414.1 428h0M414.2 295.6h0M414.2 437.1h0M414.2 315.5h0M414.3 281.3h0M414.3 289.7h0M414.3 273.3h0M414.3 340.6h0M414.4 392.8h0M414.4 407.3h0M414.4 426.6h0M414.5 331h0M414.5 284.3h0M414.5 273.7h0M414.6 440.3h0M414.6 273.8h0M414.6 435.5h0M414.6 419h0M414.7 276.7h0M414.7 450.8h0M414.7 277.8h0M414.8 327.7h0M414.8 366.2h0M414.8 273.2h0M414.8 375.8h0M414.9 286.4h0M414.9 403.6h0M414.9 410h0M415 275.6h0M415 321.3h0M415 291.6h0M415 351.9h0M415.1 337.2h0M415.1 274.8h0M415.1 375.7h0M415.2 327.1h0M415.2 421.1h0M415.2 292h0M415.3 316.1h0M415.3 380.3h0M415.3 315.8h0M415.3 298.9h0M415.4 281.4h0M415.4 336.8h0M415.4 303.6h0M415.5 284h0M415.5 379.4h0M415.5 281.4h0M415.5 330.3h0M415.6 293.8h0M415.6 427.3h0M415.6 288.2h0M415.7 329.5h0M415.7 415.2h0M415.7 332.2h0M415.7 408.3h0M415.8 363.1h0M415.8 290.6h0M415.8 408.9h0M415.9 278.3h0M415.9 439.3h0M415.9 447.9h0M415.9 309h0M416 403.1h0M416 448.1h0M416 281.4h0M416.1 393.8h0M416.1 274h0M416.1 315.8h0M416.2 273.7h0M416.2 306.9h0M416.2 438h0M416.2 365.5h0M416.3 348.9h0M416.3 423.1h0M416.3 327.4h0M416.4 424.5h0M416.4 439.3h0M416.4 385.6h0M416.4 272.8h0M416.5 341.8h0M416.5 276.2h0M416.5 278.6h0M416.6 383.1h0M416.6 314.8h0M416.6 331.4h0M416.6 405h0M416.7 298.5h0M416.7 287.6h0M416.7 284.9h0M416.8 387.2h0M416.8 363.3h0M416.8 303.9h0M416.9 291.6h0M416.9 355.4h0M416.9 277.3h0M416.9 286.1h0M417 286.6h0M417 433.8h0M417 323.7h0M417.1 399.3h0M417.1 371.6h0M417.1 369.5h0M417.1 379.3h0M417.2 449.9h0M417.2 338.7h0M417.2 301h0M417.3 446.7h0M417.3 291.6h0M417.3 320h0M417.3 433.5h0M417.4 303.2h0M417.4 345h0M417.4 281.3h0M417.5 374.8h0M417.5 273h0M417.5 358.1h0M417.6 348.1h0M417.6 419.1h0M417.6 450.9h0M417.6 291.1h0M417.7 281.4h0M417.7 385.8h0M417.7 447.8h0M417.8 381.7h0M417.8 302.8h0M417.8 272.5h0M417.8 274.2h0M417.9 421.6h0M417.9 406.7h0M417.9 284.5h0M418 310h0M418 288.5h0M418 324.7h0M418 364.6h0M418.1 383.8h0M418.1 341.4h0M418.1 338.1h0M418.2 325.6h0M418.2 364.3h0M418.2 311.1h0M418.2 292.4h0M418.3 355h0M418.3 445.1h0M418.3 350.2h0M418.4 356.1h0M418.4 435.3h0M418.4 362.1h0M418.5 336.3h0M418.5 327.9h0M418.5 296.9h0M418.5 450.9h0M418.6 290.4h0M418.6 288.6h0M418.6 273.8h0M418.7 364.8h0M418.7 443.8h0M418.7 408.3h0M418.7 286.6h0M418.8 289.7h0M418.8 311.9h0M418.8 450.6h0M418.9 276.8h0M418.9 275.1h0M418.9 410.3h0M418.9 363.7h0M419 440.3h0M419 272.8h0M419 366.2h0M419.1 346h0M419.1 316.4h0M419.1 315.7h0M419.2 403.7h0M419.2 328.3h0M419.2 276.5h0M419.2 355.2h0M419.3 286.3h0M419.3 438.5h0M419.3 439.4h0M419.4 287.3h0M419.4 447.6h0M419.4 450.4h0M419.4 291.3h0M419.5 297.3h0M419.5 425h0M419.5 419.3h0M419.6 273.4h0M419.6 356.8h0M419.6 371.3h0M419.6 286.6h0M419.7 289.6h0M419.7 414.6h0M419.7 438.9h0M419.8 345h0M419.8 272.3h0M419.8 383.9h0M419.8 404.3h0M419.9 342.2h0M419.9 353h0M419.9 385.1h0M420 342.2h0M420 321.5h0M420 382.4h0M420.1 421.2h0M420.1 439.6h0M420.1 279.4h0M420.1 325.2h0M420.2 417.8h0M420.2 278.3h0M420.2 436.6h0M420.3 445.5h0M420.3 391.4h0M420.3 447.5h0M420.3 329.8h0M420.4 300h0M420.4 282.2h0M420.4 277.3h0M420.5 386.1h0M420.5 369.9h0M420.5 412h0M420.5 441.4h0M420.6 274.5h0M420.6 407.2h0M420.6 443.8h0M420.7 282.2h0M420.7 380.4h0M420.7 299.9h0M420.8 272.8h0M420.8 285.2h0M420.8 360.1h0M420.8 414.2h0M420.9 340.3h0M420.9 277.3h0M420.9 280.3h0M421 398.8h0M421 342h0M421 275.4h0M421 374.8h0M421.1 394h0M421.1 347h0M421.1 384.8h0M421.2 280.8h0M421.2 273.3h0M421.2 417.4h0M421.2 277.3h0M421.3 277.6h0M421.3 282.2h0M421.3 273.1h0M421.4 377.4h0M421.4 340.2h0M421.4 399.7h0M421.4 366.8h0M421.5 417.3h0M421.5 336.1h0M421.5 273.2h0M421.6 435.8h0M421.6 366.4h0M421.6 364.9h0M421.7 296.7h0M421.7 430.6h0M421.7 350.3h0M421.7 285.4h0M421.8 383.6h0M421.8 405.4h0M421.8 407.5h0M421.9 403.3h0M421.9 438.2h0M421.9 310h0M421.9 304.5h0M422 412.5h0M422 437.9h0M422 448.8h0M422.1 323.9h0M422.1 358.6h0M422.1 354.6h0M422.1 441.7h0M422.2 346.8h0M422.2 318h0M422.2 272.4h0M422.3 274h0M422.3 305.5h0M422.3 401.6h0M422.4 274.7h0M422.4 342.7h0M422.4 348.2h0M422.4 272.1h0M422.5 411.2h0M422.5 332.8h0M422.5 272.2h0M422.6 287.2h0M422.6 298h0M422.6 284.7h0M422.6 417h0M422.7 272.5h0M422.7 283.1h0M422.7 298.6h0M422.8 272.1h0M422.8 321.6h0M422.8 279.1h0M422.8 437.6h0M422.9 339.3h0M422.9 424.9h0M422.9 302.5h0M423 374.5h0M423 342.2h0M423 450.3h0M423.1 383.1h0M423.1 289.7h0M423.1 326.5h0M423.1 324.8h0M423.2 409.5h0M423.2 445.9h0M423.2 363h0M423.3 298.3h0M423.3 418.9h0M423.3 346.5h0M423.3 443.6h0M423.4 319.3h0M423.4 450.6h0M423.4 448.7h0M423.5 272.1h0M423.5 322h0M423.5 436.8h0M423.5 375.5h0M423.6 450.6h0M423.6 273.8h0M423.6 344.3h0M423.7 294.9h0M423.7 301.6h0M423.7 422.2h0M423.7 326.1h0M423.8 328.1h0M423.8 407.3h0M423.8 277.7h0M423.9 406h0M423.9 399.5h0M423.9 301.1h0M424 374.3h0M424 286.2h0M424 279h0M424 277.9h0M424.1 311.1h0M424.1 400.9h0M424.1 446.7h0M424.2 446.8h0M424.2 432h0M424.2 284.6h0M424.2 313.5h0M424.3 427.5h0M424.3 275.9h0M424.3 383.2h0M424.4 417.7h0M424.4 294.4h0M424.4 272.2h0M424.4 298.7h0M424.5 288.6h0M424.5 275h0M424.5 293.3h0M424.6 450.4h0M424.6 437.7h0M424.6 419.6h0M424.7 354.6h0M424.7 311.5h0M424.7 448h0M424.7 283.7h0M424.8 450.8h0M424.8 421.9h0M424.8 406.4h0M424.9 421h0M424.9 438.5h0M424.9 291.1h0M424.9 417h0M425 425.2h0M425 283h0M425 448h0M425.1 450.7h0M425.1 272.8h0M425.1 339.2h0M425.1 382.2h0M425.2 317.4h0M425.2 399.7h0M425.2 359.8h0M425.3 395.2h0M425.3 278.7h0M425.3 272.2h0M425.3 272.2h0M425.4 391h0M425.4 300.5h0M425.4 369.8h0M425.5 310.9h0M425.5 450.9h0M425.5 276.7h0M425.6 280.2h0M425.6 279.2h0M425.6 281.2h0M425.6 424.1h0M425.7 414h0M425.7 272.6h0M425.7 430.8h0M425.8 287.5h0M425.8 450.7h0M425.8 426.6h0M425.8 276.3h0M425.9 441.7h0M425.9 273.1h0M425.9 274.7h0M426 273.4h0M426 298.2h0M426 282.3h0M426 280.2h0M426.1 274h0M426.1 277.2h0M426.1 388.1h0M426.2 450.9h0M426.2 277.3h0M426.2 347.5h0M426.3 440h0M426.3 273.5h0M426.3 308.5h0M426.3 356.9h0M426.4 297.7h0M426.4 388.4h0M426.4 446.6h0M426.5 281h0M426.5 371h0M426.5 341.7h0M426.5 314h0M426.6 382.4h0M426.6 281.5h0M426.6 301.3h0M426.7 273.8h0M426.7 274.2h0M426.7 446.8h0M426.7 285.2h0M426.8 442.1h0M426.8 278.5h0M426.8 273.7h0M426.9 427.9h0M426.9 275.7h0M426.9 276.9h0M426.9 375.4h0M427 420.6h0M427 438.2h0M427 434.7h0M427.1 450h0M427.1 317.2h0M427.1 417.2h0M427.2 347.5h0M427.2 448.8h0M427.2 353.9h0M427.2 422h0M427.3 354.7h0M427.3 449.1h0M427.3 350.3h0M427.4 407.6h0M427.4 448h0M427.4 346.3h0M427.4 272.5h0M427.5 356.7h0M427.5 340h0M427.5 351.4h0M427.6 281.1h0M427.6 445.5h0M427.6 398.7h0M427.6 366.4h0M427.7 379.5h0M427.7 273.3h0M427.7 276.5h0M427.8 444h0M427.8 409.9h0M427.8 275.4h0M427.9 299.2h0M427.9 348.1h0M427.9 274.2h0M427.9 415.7h0M428 317.8h0M428 272.4h0M428 295.3h0M428.1 413.2h0M428.1 447.9h0M428.1 396.4h0M428.1 320.6h0M428.2 285.8h0M428.2 285.9h0M428.2 360.4h0M428.3 370.7h0M428.3 337.6h0M428.3 292.5h0M428.3 447.4h0M428.4 367.5h0M428.4 276.1h0M428.4 296.7h0M428.5 449.5h0M428.5 336.2h0M428.5 284.3h0M428.6 287.4h0M428.6 340.9h0M428.6 309.2h0M428.6 297.9h0M428.7 430.6h0M428.7 320.8h0M428.7 355.8h0M428.8 405.4h0M428.8 432.2h0M428.8 369.3h0M428.8 403.4h0M428.9 274.5h0M428.9 441.5h0M428.9 283.5h0M429 324.3h0M429 411h0M429 395.6h0M429 306.8h0M429.1 421.2h0M429.1 448.9h0M429.1 379.5h0M429.2 369.5h0M429.2 285.4h0M429.2 327.7h0M429.2 279.7h0M429.3 353.3h0M429.3 315.8h0M429.3 435.9h0M429.4 315.8h0M429.4 447.6h0M429.4 388.4h0M429.5 275.7h0M429.5 354.3h0M429.5 375.4h0M429.5 357.9h0M429.6 304.9h0M429.6 277.3h0M429.6 420.4h0M429.7 295.3h0M429.7 277.5h0M429.7 312.3h0M429.7 336.1h0M429.8 277.2h0M429.8 350.2h0M429.8 341.6h0M429.9 272.2h0M429.9 387.6h0M429.9 414.9h0M429.9 446.1h0M430 320.7h0M430 387.6h0M430 388.7h0M430.1 272.1h0M430.1 303.6h0M430.1 411.8h0M430.2 359.4h0M430.2 318.1h0M430.2 389.8h0M430.2 297.9h0M430.3 415.7h0M430.3 278.5h0M430.3 337.1h0M430.4 346.4h0M430.4 450.2h0M430.4 341h0M430.4 278.7h0M430.5 342.1h0M430.5 412.5h0M430.5 404.5h0M430.6 312.1h0M430.6 435.4h0M430.6 359.8h0M430.6 273.1h0M430.7 443.3h0M430.7 273.1h0M430.7 371.9h0M430.8 310.5h0M430.8 448.5h0M430.8 338.8h0M430.8 279.8h0M430.9 309.6h0M430.9 450h0M430.9 421.2h0M431 409.2h0M431 409.5h0M431 421.4h0M431.1 312.1h0M431.1 428.8h0M431.1 307h0M431.1 323h0M431.2 329.2h0M431.2 380.3h0M431.2 449.1h0M431.3 272.9h0M431.3 301h0M431.3 378h0M431.3 361.3h0M431.4 449.6h0M431.4 419.6h0M431.4 286h0M431.5 386.1h0M431.5 450.6h0M431.5 433.8h0M431.5 349.4h0M431.6 447.4h0M431.6 291.8h0M431.6 274.1h0M431.7 321.3h0M431.7 276.9h0M431.7 347.2h0M431.8 379.2h0M431.8 442h0M431.8 344.8h0M431.8 430.3h0M431.9 384.9h0M431.9 382h0M431.9 311.6h0M432 273.4h0M432 450.7h0M432 294.2h0M432 291.6h0M432.1 446h0M432.1 272.4h0M432.1 293.7h0M432.2 450.9h0M432.2 390.7h0M432.2 444.8h0M432.2 450h0M432.3 351.6h0M432.3 272.2h0M432.3 300.3h0M432.4 322.6h0M432.4 292.9h0M432.4 308h0M432.4 332.1h0M432.5 275.4h0M432.5 372.7h0M432.5 319.6h0M432.6 320.3h0M432.6 443.3h0M432.6 337.5h0M432.7 372.6h0M432.7 272.6h0M432.7 420.8h0M432.7 387.7h0M432.8 308.5h0M432.8 273.6h0M432.8 448.8h0M432.9 300.8h0M432.9 308.1h0M432.9 306h0M432.9 324.3h0M433 375.3h0M433 441.1h0M433 277.6h0M433.1 328.3h0M433.1 355.6h0M433.1 282.6h0M433.1 383.4h0M433.2 431.7h0M433.2 311h0M433.2 282.9h0M433.3 388.9h0M433.3 282.1h0M433.3 444.6h0M433.4 291.9h0M433.4 307.5h0M433.4 302.9h0M433.4 440.3h0M433.5 411.4h0M433.5 335h0M433.5 425.3h0M433.6 337.3h0M433.6 450.8h0M433.6 368.5h0M433.6 342.7h0M433.7 372.2h0M433.7 445.2h0M433.7 274.8h0M433.8 294.4h0M433.8 344.2h0M433.8 393.8h0M433.8 354.7h0M433.9 382.4h0M433.9 312.2h0M433.9 348.7h0M434 444.1h0M434 436.2h0M434 355.7h0M434.1 406.2h0M434.1 413.5h0M434.1 446.6h0M434.1 398.9h0M434.2 319.7h0M434.2 333.4h0M434.2 402.9h0M434.3 307.1h0M434.3 399.4h0M434.3 428.1h0M434.3 450h0M434.4 366.3h0M434.4 272.6h0M434.4 308.2h0M434.5 272.5h0M434.5 277.9h0M434.5 355.6h0M434.5 292.6h0M434.6 394.5h0M434.6 450.5h0M434.6 450.9h0M434.7 275.4h0M434.7 450.2h0M434.7 368.4h0M434.7 409h0M434.8 272.2h0M434.8 326h0M434.8 314.8h0M434.9 316.2h0M434.9 446.8h0M434.9 278.3h0M435 349.4h0M435 418.4h0M435 389.4h0M435 446h0M435.1 417.9h0M435.1 426.6h0M435.1 365h0M435.2 277.7h0M435.2 417.5h0M435.2 301.2h0M435.2 325.2h0M435.3 278.9h0M435.3 284.5h0M435.3 300.6h0M435.4 278h0M435.4 450h0M435.4 273h0M435.4 438.7h0M435.5 364.2h0M435.5 382.1h0M435.5 392.8h0M435.6 348h0M435.6 317.4h0M435.6 274.9h0M435.7 435.3h0M435.7 321.2h0M435.7 277.7h0M435.7 341h0M435.8 331.2h0M435.8 450.5h0M435.8 277.2h0M435.9 354.1h0M435.9 448.2h0M435.9 380.5h0M435.9 434.8h0M436 352.9h0M436 426.4h0M436 274h0M436.1 423.3h0M436.1 402.6h0M436.1 302.9h0M436.1 275.3h0M436.2 282.1h0M436.2 444.7h0M436.2 414.6h0M436.3 408.9h0M436.3 292.7h0M436.3 333.5h0M436.3 303h0M436.4 381.8h0M436.4 325h0M436.4 355.7h0M436.5 290h0M436.5 272.6h0M436.5 315.7h0M436.6 429.2h0M436.6 396h0M436.6 445.5h0M436.6 272.6h0M436.7 397.3h0M436.7 272.2h0M436.7 401.5h0M436.8 314.4h0M436.8 302.1h0M436.8 289.6h0M436.8 441.2h0M436.9 274.4h0M436.9 273.6h0M436.9 312.6h0M437 281h0M437 276.3h0M437 376.5h0M437 369h0M437.1 274.5h0M437.1 285.4h0M437.1 287.1h0M437.2 392.1h0M437.2 373.5h0M437.2 395h0M437.3 288h0M437.3 286.3h0M437.3 304.2h0M437.3 412.8h0M437.4 316.1h0M437.4 440.9h0M437.4 449.3h0M437.5 435.7h0M437.5 441.5h0M437.5 419h0M437.5 396.5h0M437.6 431.8h0M437.6 378.5h0M437.6 415.8h0M437.7 403.4h0M437.7 410.5h0M437.7 272.1h0M437.7 450.9h0M437.8 447.4h0M437.8 416.7h0M437.8 379.1h0M437.9 396.4h0M437.9 376.9h0M437.9 299.7h0M437.9 363.1h0M438 325.2h0M438 444.7h0M438 281.8h0M438.1 438h0M438.1 391.5h0M438.1 351.7h0M438.2 336.6h0M438.2 396.3h0M438.2 275.2h0M438.2 308.5h0M438.3 358.5h0M438.3 319h0M438.3 284.4h0M438.4 449.2h0M438.4 433h0M438.4 445.5h0M438.4 356.8h0M438.5 281.6h0M438.5 277.6h0M438.5 432.8h0M438.6 324h0M438.6 385h0M438.6 412.5h0M438.6 292.1h0M438.7 411.3h0M438.7 376.5h0M438.7 445.6h0M438.8 281.2h0M438.8 272.6h0M438.8 450.8h0M438.9 344.4h0M438.9 384.4h0M438.9 407.4h0M438.9 346.9h0M439 293.2h0M439 284.7h0M439 396.5h0M439.1 344.6h0M439.1 406.8h0M439.1 438.5h0M439.1 375.8h0M439.2 436.7h0M439.2 450.8h0M439.2 332.8h0M439.3 293.1h0M439.3 333.1h0M439.3 345h0M439.3 389.7h0M439.4 276.1h0M439.4 445.7h0M439.4 389.3h0M439.5 450.2h0M439.5 394.7h0M439.5 341.7h0M439.5 274h0M439.6 450.7h0M439.6 433.4h0M439.6 316h0M439.7 328.2h0M439.7 443.9h0M439.7 384.3h0M439.8 334.3h0M439.8 319.5h0M439.8 301.3h0M439.8 277.5h0M439.9 308.2h0M439.9 386.3h0M439.9 394.8h0M440 408.7h0M440 272.5h0M440 339.9h0M440 380.4h0M440.1 328.6h0M440.1 408.7h0M440.1 273.9h0M440.2 276.2h0M440.2 429.9h0M440.2 317.5h0M440.2 398.1h0M440.3 311.7h0M440.3 299.1h0M440.3 429.4h0M440.4 449.3h0M440.4 449.2h0M440.4 272.2h0M440.5 321.6h0M440.5 448.5h0M440.5 351.8h0M440.5 302.5h0M440.6 359.2h0M440.6 391.7h0M440.6 272.2h0M440.7 450.6h0M440.7 299.2h0M440.7 361.3h0M440.7 272.1h0M440.8 273.7h0M440.8 386.3h0M440.8 443.4h0M440.9 394.8h0M440.9 280.5h0M440.9 296.6h0M440.9 417.4h0M441 426.2h0M441 397h0M441 282.2h0M441.1 272.3h0M441.1 305h0M441.1 412.8h0M441.2 390.2h0M441.2 357.4h0M441.2 303.1h0M441.2 377.4h0M441.3 277h0M441.3 352.9h0M441.3 426.6h0M441.4 408.1h0M441.4 273.6h0M441.4 389.9h0M441.4 319.8h0M441.5 437.6h0M441.5 428.2h0M441.5 373.4h0M441.6 281h0M441.6 298.4h0M441.6 357.5h0M441.6 414.2h0M441.7 296.9h0M441.7 276.1h0M441.7 399.6h0M441.8 437.1h0M441.8 364.4h0M441.8 404.7h0M441.8 334.2h0M441.9 328h0M441.9 296.4h0M441.9 317h0M442 354.5h0M442 275.5h0M442 445.3h0M442.1 442.7h0M442.1 364.3h0M442.1 369.8h0M442.1 300.1h0M442.2 366.8h0M442.2 373.7h0M442.2 272.4h0M442.3 321.5h0M442.3 287.1h0M442.3 374.4h0M442.3 333.4h0M442.4 427.2h0M442.4 282.8h0M442.4 368.2h0M442.5 392.9h0M442.5 277.1h0M442.5 435.4h0M442.5 346h0M442.6 313.8h0M442.6 420.1h0M442.6 332.5h0M442.7 296.1h0M442.7 423.8h0M442.7 365h0M442.8 272.7h0M442.8 272.2h0M442.8 285.3h0M442.8 308.3h0M442.9 429.2h0M442.9 275.1h0M442.9 448.2h0M443 385.5h0M443 425.8h0M443 279.8h0M443 365.2h0M443.1 283.6h0M443.1 349.1h0M443.1 432.6h0M443.2 274.4h0M443.2 450.5h0M443.2 390.4h0M443.2 440.6h0M443.3 354.1h0M443.3 448.5h0M443.3 441.1h0M443.4 275.4h0M443.4 384.5h0M443.4 322h0M443.4 318.5h0M443.5 279.7h0M443.5 326.5h0M443.5 449.7h0M443.6 367.1h0M443.6 281h0M443.6 444h0M443.7 426.1h0M443.7 440.1h0M443.7 306.8h0M443.7 279.5h0M443.8 432h0M443.8 358.9h0M443.8 430.8h0M443.9 287.7h0M443.9 371.8h0M443.9 408.9h0M443.9 379.4h0M444 439.4h0M444 333.2h0M444 290.5h0M444.1 362.2h0M444.1 377.9h0M444.1 384.3h0M444.1 434.6h0M444.2 437.2h0M444.2 423.8h0M444.2 434.1h0M444.3 325h0M444.3 404.2h0M444.3 336.8h0M444.4 278.1h0M444.4 435h0M444.4 448.3h0M444.4 276.1h0M444.5 345.3h0M444.5 372.1h0M444.5 274.6h0M444.6 272.2h0M444.6 440h0M444.6 411.9h0M444.6 351.2h0M444.7 423.9h0M444.7 277.5h0M444.7 282.6h0M444.8 378.5h0M444.8 280h0M444.8 274.3h0M444.8 419.1h0M444.9 285h0M444.9 338.2h0M444.9 288.6h0M445 272.1h0M445 381.7h0M445 357.6h0M445 274.8h0M445.1 449.6h0M445.1 335.3h0M445.1 422.8h0M445.2 450.5h0M445.2 414h0M445.2 366.5h0M445.3 426.6h0M445.3 412.8h0M445.3 357.2h0M445.3 272.3h0M445.4 448.7h0M445.4 323.1h0M445.4 322.3h0M445.5 399.5h0M445.5 368.8h0M445.5 275.7h0M445.5 292.7h0M445.6 356.3h0M445.6 320.8h0M445.6 330.1h0M445.7 413.8h0M445.7 298.7h0M445.7 332.5h0M445.7 376.2h0M445.8 400.8h0M445.8 299.8h0M445.8 366.6h0M445.9 288.2h0M445.9 441.7h0M445.9 273.4h0M446 382h0M446 305h0M446 379.5h0M446 279.8h0M446.1 285.3h0M446.1 361.2h0M446.1 447h0M446.2 430.5h0M446.2 407.1h0M446.2 330.8h0M446.2 342.3h0M446.3 369.1h0M446.3 414.2h0M446.3 416.8h0M446.4 347.3h0M446.4 291.1h0M446.4 402.9h0M446.4 312.9h0M446.5 274h0M446.5 291.1h0M446.5 394.1h0M446.6 414.9h0M446.6 420.3h0M446.6 405.5h0M446.7 272.2h0M446.7 432.7h0M446.7 420.1h0M446.7 282.8h0M446.8 272.1h0M446.8 443.6h0M446.8 284.4h0M446.9 388h0M446.9 371.9h0M446.9 287.6h0M446.9 329.3h0M447 430h0M447 272.6h0M447 276.8h0M447.1 450.5h0M447.1 272.2h0M447.1 310.6h0M447.1 329.5h0M447.2 346.6h0M447.2 272.9h0M447.2 315.8h0M447.3 400.4h0M447.3 450.7h0M447.3 416h0M447.3 450h0M447.4 328h0M447.4 272.6h0M447.4 366.3h0M447.5 274.9h0M447.5 403.2h0M447.5 450.3h0M447.6 333.7h0M447.6 430.2h0M447.6 385.7h0M447.6 277.9h0M447.7 279.6h0M447.7 408h0M447.7 415.6h0M447.8 445.4h0M447.8 425.3h0M447.8 406.9h0M447.8 381.2h0M447.9 344h0M447.9 279.9h0M447.9 342h0M448 273h0M448 273.3h0M448 445.3h0M448 289.8h0M448.1 450.2h0M448.1 287.8h0M448.1 433.3h0M448.2 321.5h0M448.2 369.6h0M448.2 273.2h0M448.3 400.9h0M448.3 402.7h0M448.3 361.4h0M448.3 448.2h0M448.4 285.1h0M448.4 361.5h0M448.4 285.2h0M448.5 448.2h0M448.5 396.3h0M448.5 275.6h0M448.5 272.7h0M448.6 296.9h0M448.6 288.8h0M448.6 413.1h0M448.7 381.5h0M448.7 438.1h0M448.7 436.9h0M448.7 431.6h0M448.8 320.7h0M448.8 446.8h0M448.8 449.6h0M448.9 402.4h0M448.9 388h0M448.9 354.3h0M448.9 285.6h0M449 318h0M449 445.4h0M449 385.9h0M449.1 448.8h0M449.1 292.5h0M449.1 278.5h0M449.2 424.2h0M449.2 345.4h0M449.2 449.3h0M449.2 380.4h0M449.3 285.1h0M449.3 285.6h0M449.3 324.4h0M449.4 394h0M449.4 302.2h0M449.4 450.4h0M449.4 398.5h0M449.5 347.8h0M449.5 281.8h0M449.5 319.7h0M449.6 439.9h0M449.6 367.7h0M449.6 274.1h0M449.6 352.1h0M449.7 391.2h0M449.7 359.6h0M449.7 449.3h0M449.8 450.9h0M449.8 395.7h0M449.8 273.8h0M449.9 353.1h0M449.9 272.2h0M449.9 332.5h0M449.9 327.7h0M450 289.6h0M450 309.7h0M450 358.9h0M450.1 446.4h0M450.1 293.5h0M450.1 400.5h0M450.1 382.7h0M450.2 297.7h0M450.2 409.4h0M450.2 300h0M450.3 342h0M450.3 306.4h0M450.3 369.5h0M450.3 313.5h0M450.4 272.4h0M450.4 340.2h0M450.4 440.8h0M450.5 341.1h0M450.5 430.5h0M450.5 374.6h0M450.5 309.2h0M450.6 419h0M450.6 445.9h0M450.6 280.1h0M450.7 314.2h0M450.7 274.6h0M450.7 282.7h0M450.8 447.1h0M450.8 449.8h0M450.8 341.5h0M450.8 312h0M450.9 450.5h0M450.9 355.8h0M450.9 342.8h0M451 447.1h0M451 327.9h0M451 405.3h0M451 352.7h0M451.1 397.8h0M451.1 280.4h0M451.1 381.6h0M451.2 339h0M451.2 297.1h0M451.2 431.3h0M451.2 404.9h0M451.3 287.3h0M451.3 434.3h0M451.3 439.2h0M451.4 450.5h0M451.4 282.8h0M451.4 358.4h0M451.5 438.7h0M451.5 407.5h0M451.5 375.8h0M451.5 392.1h0M451.6 430h0M451.6 274.9h0M451.6 321.5h0M451.7 345.6h0M451.7 426.9h0M451.7 417.1h0M451.7 402.2h0M451.8 423.2h0M451.8 382.5h0M451.8 427.3h0M451.9 423.8h0M451.9 405.8h0M451.9 437.7h0M451.9 405.5h0M452 373.7h0M452 338.6h0M452 411.7h0M452.1 425.6h0M452.1 303.2h0M452.1 395.9h0M452.2 432.2h0M452.2 440h0M452.2 424.9h0M452.2 301h0M452.3 338.4h0M452.3 274.9h0M452.3 273h0M452.4 368h0M452.4 443.1h0M452.4 296.5h0M452.4 449.9h0M452.5 281.6h0M452.5 391.4h0M452.5 291.9h0M452.6 315.2h0M452.6 349.7h0M452.6 284.5h0M452.6 428.7h0M452.7 277.3h0M452.7 402.3h0M452.7 375.5h0M452.8 289.8h0M452.8 291.7h0M452.8 404.9h0M452.8 340.7h0M452.9 320.9h0M452.9 368h0M452.9 416.3h0M453 276.5h0M453 287.5h0M453 447.9h0M453.1 407.1h0M453.1 274.8h0M453.1 387.4h0M453.1 349.2h0M453.2 448.8h0M453.2 312.6h0M453.2 440.1h0M453.3 406.7h0M453.3 447.5h0M453.3 276.1h0M453.3 373.7h0M453.4 326.9h0M453.4 364.1h0M453.4 272.1h0M453.5 278.4h0M453.5 349h0M453.5 277.6h0M453.5 432.9h0M453.6 444.1h0M453.6 409.3h0M453.6 355.5h0M453.7 450.2h0M453.7 285.3h0M453.7 272.6h0M453.8 277.2h0M453.8 334h0M453.8 358.2h0M453.8 273.1h0M453.9 273.2h0M453.9 387.4h0M453.9 394.5h0M454 446.2h0M454 314h0M454 450.3h0M454 450.1h0M454.1 340.1h0M454.1 439.3h0M454.1 435h0M454.2 278.3h0M454.2 274.1h0M454.2 276.9h0M454.2 450.8h0M454.3 450.9h0M454.3 363.3h0M454.3 372.2h0M454.4 370.4h0M454.4 320.1h0M454.4 375.7h0M454.4 428.6h0M454.5 286.2h0M454.5 402.5h0M454.5 409.5h0M454.6 291.9h0M454.6 389.6h0M454.6 347.8h0M454.7 448.6h0M454.7 333.9h0M454.7 450.9h0M454.7 368.8h0M454.8 284.7h0M454.8 413.5h0M454.8 395.2h0M454.9 449.6h0M454.9 441.8h0M454.9 412.7h0M454.9 438.3h0M455 272.1h0M455 410.5h0M455 373.5h0M455.1 292.6h0M455.1 316.4h0M455.1 419.3h0M455.1 431.3h0M455.2 349.6h0M455.2 375.7h0M455.2 302.2h0M455.3 363.1h0M455.3 348.5h0M455.3 367.6h0M455.4 280.6h0M455.4 381.8h0M455.4 446.3h0M455.4 428.8h0M455.5 283.9h0M455.5 367.8h0M455.5 428.2h0M455.6 329.6h0M455.6 278.2h0M455.6 413.5h0M455.6 272.9h0M455.7 405.6h0M455.7 448h0M455.7 301.7h0M455.8 357.6h0M455.8 450.8h0M455.8 278.6h0M455.8 308h0M455.9 400.9h0M455.9 289.7h0M455.9 426.8h0M456 305.5h0M456 286.1h0M456 449.4h0M456 441h0M456.1 424.7h0M456.1 445.3h0M456.1 343h0M456.2 298h0M456.2 431.7h0M456.2 423.3h0M456.3 363.1h0M456.3 331.5h0M456.3 327.4h0M456.3 344.9h0M456.4 345.4h0M456.4 377h0M456.4 323.8h0M456.5 360h0M456.5 446.3h0M456.5 411.9h0M456.5 312.8h0M456.6 282h0M456.6 383.2h0M456.6 340.6h0M456.7 435.4h0M456.7 304.5h0M456.7 306.9h0M456.7 448.6h0M456.8 312.2h0M456.8 437.4h0M456.8 391.6h0M456.9 334h0M456.9 284.9h0M456.9 393.7h0M457 407.3h0M457 272.1h0M457 308.3h0M457 273h0M457.1 316h0M457.1 274.5h0M457.1 377.5h0M457.2 273h0M457.2 332.3h0M457.2 306.6h0M457.2 295.4h0M457.3 354.7h0M457.3 340.1h0M457.3 284.3h0M457.4 385.6h0M457.4 273.4h0M457.4 291.4h0M457.4 409.9h0M457.5 434.8h0M457.5 334h0M457.5 333h0M457.6 272.9h0M457.6 414.4h0M457.6 364.4h0M457.7 315h0M457.7 299.1h0M457.7 318.1h0M457.7 438.7h0M457.8 425.8h0M457.8 275.5h0M457.8 358.4h0M457.9 303.6h0M457.9 273.1h0M457.9 447.7h0M457.9 339.9h0M458 330.6h0M458 287.6h0M458 275.2h0M458.1 288.2h0M458.1 380.8h0M458.1 272.1h0M458.1 297.4h0M458.2 367.2h0M458.2 284h0M458.2 290.2h0M458.3 450.3h0M458.3 404.2h0M458.3 393.9h0M458.3 277.9h0M458.4 390.5h0M458.4 398.9h0M458.4 292.5h0M458.5 301h0M458.5 363.5h0M458.5 440.9h0M458.6 345.3h0M458.6 416.8h0M458.6 333.9h0M458.6 276.8h0M458.7 334.7h0M458.7 282.1h0M458.7 394.1h0M458.8 275.8h0M458.8 278h0M458.8 289h0M458.8 279.8h0M458.9 359h0M458.9 400.5h0M458.9 438.8h0M459 431h0M459 284.9h0M459 276.5h0M459 277.5h0M459.1 293.6h0M459.1 369.8h0M459.1 273.9h0M459.2 291.1h0M459.2 273.4h0M459.2 327.1h0M459.3 279.9h0M459.3 307.1h0M459.3 449.4h0M459.3 273.6h0M459.4 435.3h0M459.4 276.6h0M459.4 273h0M459.5 323.9h0M459.5 337.5h0M459.5 277.3h0M459.5 282h0M459.6 286.8h0M459.6 423.8h0M459.6 302.7h0M459.7 348.1h0M459.7 371h0M459.7 278.1h0M459.7 372.8h0M459.8 312.1h0M459.8 316.6h0M459.8 296h0M459.9 336.3h0M459.9 272.7h0M459.9 339.7h0M459.9 379.7h0M460 280.5h0M460 441.4h0M460 317.4h0M460.1 299.6h0M460.1 303.3h0M460.1 450.9h0M460.2 408.3h0M460.2 446.8h0M460.2 394.4h0M460.2 444h0M460.3 309.2h0M460.3 434.3h0M460.3 291.1h0M460.4 344.3h0M460.4 355.8h0M460.4 430.7h0M460.4 362.5h0M460.5 438.9h0M460.5 378.4h0M460.5 409.6h0M460.6 427.7h0M460.6 274.5h0M460.6 397.2h0M460.6 272.3h0M460.7 372.2h0M460.7 310.1h0M460.7 303.3h0M460.8 373.2h0M460.8 301.3h0M460.8 439.7h0M460.9 285.8h0M460.9 335.2h0M460.9 355.4h0M460.9 283.9h0M461 356.8h0M461 421.2h0M461 309.3h0M461.1 273h0M461.1 292.2h0M461.1 444.6h0M461.1 338.4h0M461.2 380.7h0M461.2 409.1h0M461.2 317.1h0M461.3 367.1h0M461.3 397.2h0M461.3 401.3h0M461.3 422.8h0M461.4 362.5h0M461.4 448.1h0M461.4 319.5h0M461.5 422.6h0M461.5 352h0M461.5 274.8h0M461.5 289.2h0M461.6 280.9h0M461.6 357h0M461.6 424.7h0M461.7 443.6h0M461.7 359.3h0M461.7 359.5h0M461.8 301.4h0M461.8 272.1h0M461.8 425.4h0M461.8 416.7h0M461.9 273.8h0M461.9 417.9h0M461.9 272.4h0M462 355.5h0M462 423.1h0M462 272.5h0M462 400.9h0M462.1 302.2h0M462.1 317.8h0M462.1 279.3h0M462.2 435.6h0M462.2 424.3h0M462.2 404.3h0M462.2 412.2h0M462.3 395.5h0M462.3 310.1h0M462.3 414.6h0M462.4 313.6h0M462.4 311.6h0M462.4 440h0M462.5 279.6h0M462.5 399.2h0M462.5 422h0M462.5 302.2h0M462.6 307.1h0M462.6 330h0M462.6 335.2h0M462.7 412.3h0M462.7 276.9h0M462.7 365.3h0M462.7 407.1h0M462.8 318.7h0M462.8 305.8h0M462.8 273h0M462.9 449.5h0M462.9 276.7h0M462.9 448.3h0M462.9 302.8h0M463 441.5h0M463 273.7h0M463 273.1h0M463.1 389.2h0M463.1 285.7h0M463.1 426.7h0M463.1 450.2h0M463.2 336.1h0M463.2 344.9h0M463.2 272.2h0M463.3 283.4h0M463.3 448.7h0M463.3 439.1h0M463.4 417h0M463.4 399.8h0M463.4 360.1h0M463.4 339.2h0M463.5 444.7h0M463.5 272.3h0M463.5 443h0M463.6 324.2h0M463.6 425.5h0M463.6 310.1h0M463.6 434.2h0M463.7 295.4h0M463.7 394h0M463.7 283.3h0M463.8 417h0M463.8 398.2h0M463.8 275.3h0M463.8 303.4h0M463.9 449.7h0M463.9 322.9h0M463.9 397.5h0M464 426.3h0M464 290.8h0M464 427.2h0M464.1 309.6h0M464.1 289.9h0M464.1 391.4h0M464.1 449.5h0M464.2 416.7h0M464.2 378.8h0M464.2 349.4h0M464.3 400.1h0M464.3 423.8h0M464.3 415.3h0M464.3 272.4h0M464.4 305.7h0M464.4 349h0M464.4 432.6h0M464.5 277.2h0M464.5 447.4h0M464.5 304.1h0M464.5 273.7h0M464.6 273.3h0M464.6 272.3h0M464.6 273.3h0M464.7 317.7h0M464.7 275h0M464.7 342.1h0M464.8 352.3h0M464.8 425.9h0M464.8 278.6h0M464.8 448.1h0M464.9 429.7h0M464.9 274.9h0M464.9 385.6h0M465 281.5h0M465 298.8h0M465 381h0M465 289.3h0M465.1 385.4h0M465.1 339.9h0M465.1 297.1h0M465.2 297.5h0M465.2 429.8h0M465.2 313.1h0M465.2 305.3h0M465.3 286.4h0M465.3 330.3h0M465.3 393.4h0M465.4 442.2h0M465.4 388.4h0M465.4 288.4h0M465.4 439.8h0M465.5 393.2h0M465.5 383h0M465.5 449.8h0M465.6 281.9h0M465.6 370.1h0M465.6 395.6h0M465.7 386.4h0M465.7 273h0M465.7 351.5h0M465.7 323.5h0M465.8 359.5h0M465.8 286.1h0M465.8 302.1h0M465.9 290.7h0M465.9 420.3h0M465.9 319.6h0M465.9 418.5h0M466 404.1h0M466 275.3h0M466 295.5h0M466.1 308.8h0M466.1 295.3h0M466.1 281h0M466.1 272.5h0M466.2 290.6h0M466.2 416.5h0M466.2 279h0M466.3 285.3h0M466.3 284.7h0M466.3 272.6h0M466.4 289.7h0M466.4 426.2h0M466.4 275.2h0M466.4 402h0M466.5 346.5h0M466.5 355.4h0M466.5 280.5h0M466.6 287.4h0M466.6 447.5h0M466.6 282.1h0M466.6 429.7h0M466.7 441.1h0M466.7 409.2h0M466.7 369.6h0M466.8 290.5h0M466.8 280.7h0M466.8 391.2h0M466.8 308.6h0M466.9 304.8h0M466.9 424h0M466.9 272.3h0M467 311h0M467 403h0M467 273.4h0M467 382.1h0M467.1 341.9h0M467.1 339.2h0M467.1 435.4h0M467.2 407.7h0M467.2 272.3h0M467.2 284.8h0M467.3 427.2h0M467.3 283.5h0M467.3 423.9h0M467.3 415.4h0M467.4 272.7h0M467.4 414.7h0M467.4 416.9h0M467.5 397.1h0M467.5 445.2h0M467.5 322.3h0M467.5 421.3h0M467.6 275.6h0M467.6 410h0M467.6 378.8h0M467.7 406.5h0M467.7 284.3h0M467.7 450.9h0M467.7 405.9h0M467.8 321.4h0M467.8 371.5h0M467.8 274.1h0M467.9 389.3h0M467.9 336.7h0M467.9 448.5h0M468 440.6h0M468 355.7h0M468 367.1h0M468 347.1h0M468.1 399.1h0M468.1 293.6h0M468.1 288.8h0M468.2 369.7h0M468.2 288.9h0M468.2 288.8h0M468.2 366.8h0M468.3 402.6h0M468.3 276.5h0M468.3 302h0M468.4 371.4h0M468.4 281.2h0M468.4 278h0M468.4 320.4h0M468.5 303.4h0M468.5 272.4h0M468.5 378.2h0M468.6 342.2h0M468.6 300.9h0M468.6 312.7h0M468.6 444.8h0M468.7 275.7h0M468.7 404h0M468.7 293h0M468.8 429.3h0M468.8 280.8h0M468.8 317.4h0M468.9 321.9h0M468.9 388h0M468.9 276.4h0M468.9 325.3h0M469 281.3h0M469 438h0M469 330.2h0M469.1 301.6h0M469.1 378.9h0M469.1 432.2h0M469.1 272.8h0M469.2 440.3h0M469.2 441.7h0M469.2 290.2h0M469.3 434.4h0M469.3 326.9h0M469.3 334.1h0M469.3 411.3h0M469.4 331.1h0M469.4 341.5h0M469.4 294.6h0M469.5 373.6h0M469.5 355.3h0M469.5 370.3h0M469.6 346.7h0M469.6 429.3h0M469.6 285.6h0M469.6 450.7h0M469.7 300.1h0M469.7 305.7h0M469.7 277.7h0M469.8 338.3h0M469.8 317.4h0M469.8 417.4h0M469.8 367.2h0M469.9 296h0M469.9 277.6h0M469.9 368.6h0M470 423.3h0M470 321.6h0M470 450.9h0M470 322.7h0M470.1 349h0M470.1 402.8h0M470.1 272.1h0M470.2 274.2h0M470.2 436.4h0M470.2 428.3h0M470.3 283.4h0M470.3 417.2h0M470.3 449.1h0M470.3 315.3h0M470.4 442.3h0M470.4 297.7h0M470.4 366.7h0M470.5 442.7h0M470.5 306.3h0M470.5 363.2h0M470.5 417.5h0M470.6 402.5h0M470.6 281.9h0M470.6 436.8h0M470.7 315.8h0M470.7 297.8h0M470.7 447.3h0M470.7 410.8h0M470.8 288.1h0M470.8 448.9h0M470.8 320h0M470.9 292h0M470.9 435.4h0M470.9 369.6h0M470.9 449.7h0M471 386.3h0M471 445h0M471 401.1h0M471.1 375.2h0M471.1 322.1h0M471.1 440.5h0M471.2 349.1h0M471.2 274.3h0M471.2 272.3h0M471.2 387.7h0M471.3 290h0M471.3 277.1h0M471.3 272.8h0M471.4 448.1h0M471.4 290.3h0M471.4 385.7h0M471.4 321.7h0M471.5 373h0M471.5 272.5h0M471.5 356.4h0M471.6 277.5h0M471.6 285.6h0M471.6 399.9h0M471.6 272.4h0M471.7 282.7h0M471.7 408h0M471.7 272.6h0M471.8 341.2h0M471.8 440.6h0M471.8 326.7h0M471.9 404.9h0M471.9 439.4h0M471.9 331.8h0M471.9 432.8h0M472 312.9h0M472 419.7h0M472 361.6h0M472.1 430.6h0M472.1 287.2h0M472.1 319.6h0M472.1 444h0M472.2 443.9h0M472.2 285.8h0M472.2 379.5h0M472.3 320.8h0M472.3 448.7h0M472.3 272.6h0M472.3 289.1h0M472.4 288h0M472.4 340.4h0M472.4 340.1h0M472.5 358.7h0M472.5 375h0M472.5 377.3h0M472.5 450.6h0M472.6 301.8h0M472.6 424.8h0M472.6 449.8h0M472.7 360.4h0M472.7 401h0M472.7 352.4h0M472.8 295.9h0M472.8 288.7h0M472.8 348.4h0M472.8 392.3h0M472.9 447.8h0M472.9 272.1h0M472.9 272.5h0M473 406.1h0M473 292.7h0M473 439.4h0M473 290.9h0M473.1 302h0M473.1 297.1h0M473.1 428.3h0M473.2 450.8h0M473.2 272.3h0M473.2 309.1h0M473.2 276h0M473.3 272.1h0M473.3 427.1h0M473.3 450.8h0M473.4 447.5h0M473.4 444h0M473.4 419.3h0M473.5 381.2h0M473.5 304.5h0M473.5 281.1h0M473.5 423.9h0M473.6 273.1h0M473.6 441.5h0M473.6 295.5h0M473.7 372.2h0M473.7 448.4h0M473.7 450h0M473.7 273.8h0M473.8 362.5h0M473.8 344.7h0M473.8 371h0M473.9 282.8h0M473.9 402.6h0M473.9 363.9h0M473.9 315.7h0M474 272.7h0M474 410.7h0M474 321.6h0M474.1 410.6h0M474.1 361.6h0M474.1 397.5h0M474.1 422.7h0M474.2 301.9h0M474.2 284h0M474.2 286.9h0M474.3 411.4h0M474.3 291h0M474.3 333.2h0M474.4 272.2h0M474.4 438.2h0M474.4 439.7h0M474.4 369.2h0M474.5 272.2h0M474.5 434.1h0M474.5 368.4h0M474.6 380h0M474.6 343.9h0M474.6 385h0M474.6 448.6h0M474.7 429.1h0M474.7 350.9h0M474.7 350.8h0M474.8 318.7h0M474.8 429.6h0M474.8 324.2h0M474.8 297.2h0M474.9 369.1h0M474.9 385.8h0M474.9 345.5h0M475 448.9h0M475 329.2h0M475 314.1h0M475.1 320.8h0M475.1 449.5h0M475.1 401.5h0M475.1 275.7h0M475.2 279.5h0M475.2 297.8h0M475.2 285.4h0M475.3 377.6h0M475.3 279.3h0M475.3 431.8h0M475.3 294.9h0M475.4 278.5h0M475.4 277.4h0M475.4 305.2h0M475.5 427.4h0M475.5 285.1h0M475.5 401.8h0M475.5 282h0M475.6 448.9h0M475.6 304.5h0M475.6 315.4h0M475.7 431.1h0M475.7 272.1h0M475.7 327.3h0M475.8 290.4h0M475.8 450.7h0M475.8 320.2h0M475.8 289.9h0M475.9 436.3h0M475.9 358.8h0M475.9 382.3h0M476 441h0M476 356h0M476 397.5h0M476 420.7h0M476.1 378.3h0M476.1 379.6h0M476.1 272.1h0M476.2 385.2h0M476.2 450.9h0M476.2 447.2h0M476.2 306.9h0M476.3 294.9h0M476.3 350.8h0M476.3 428h0M476.4 328.5h0M476.4 272.2h0M476.4 299.2h0M476.4 356h0M476.5 384.3h0M476.5 399h0M476.5 317.1h0M476.6 278.6h0M476.6 277.5h0M476.6 380.9h0M476.7 390.5h0M476.7 414.2h0M476.7 273.4h0M476.7 411.3h0M476.8 358.1h0M476.8 307.4h0M476.8 441.9h0M476.9 374.2h0M476.9 373.1h0M476.9 386.9h0M476.9 443.3h0M477 312.1h0M477 416.9h0M477 278.9h0M477.1 300.2h0M477.1 432.5h0M477.1 450.4h0M477.1 318h0M477.2 334.8h0M477.2 284.6h0M477.2 327.9h0M477.3 275.6h0M477.3 446.7h0M477.3 442.1h0M477.4 439.9h0M477.4 378.4h0M477.4 450.8h0M477.4 322.4h0M477.5 382h0M477.5 342h0M477.5 274.9h0M477.6 272.2h0M477.6 312.5h0M477.6 450.4h0M477.6 303.6h0M477.7 414.4h0M477.7 304.3h0M477.7 325.7h0M477.8 432.3h0M477.8 276.4h0M477.8 442.6h0M477.8 418.5h0M477.9 293.7h0M477.9 305.3h0M477.9 408.2h0M478 401.2h0M478 360.5h0M478 287.6h0M478 272.7h0M478.1 405.2h0M478.1 275h0M478.1 274.5h0M478.2 283.2h0M478.2 425.8h0M478.2 276h0M478.3 272.9h0M478.3 323.8h0M478.3 272.4h0M478.3 332.9h0M478.4 411.9h0M478.4 440.2h0M478.4 287.3h0M478.5 284.2h0M478.5 394.5h0M478.5 438.5h0M478.5 282.1h0M478.6 282.1h0M478.6 325.5h0M478.6 435.6h0M478.7 448.8h0M478.7 290.9h0M478.7 412.9h0M478.7 421.9h0M478.8 291.2h0M478.8 419.9h0M478.8 326.1h0M478.9 378.4h0M478.9 323.3h0M478.9 273.8h0M479 310h0M479 279.3h0M479 301.6h0M479 433.7h0M479.1 273.1h0M479.1 295.2h0M479.1 288.5h0M479.2 392.8h0M479.2 447.9h0M479.2 273.9h0M479.2 350.1h0M479.3 323.5h0M479.3 373.3h0M479.3 317.5h0M479.4 421.1h0M479.4 337.9h0M479.4 420.2h0M479.4 277.8h0M479.5 283.6h0M479.5 446h0M479.5 323.7h0M479.6 281.3h0M479.6 364.7h0M479.6 272.8h0M479.6 339.9h0M479.7 345.3h0M479.7 370h0M479.7 293.6h0M479.8 349.9h0M479.8 279.9h0M479.8 277.6h0M479.9 379.3h0M479.9 355.3h0M479.9 441.9h0M479.9 420.4h0M480 387.5h0M480 383.1h0M480 449.1h0M480.1 450.6h0M480.1 318.1h0M480.1 273.9h0M480.1 383.2h0M480.2 346.7h0M480.2 327.2h0M480.2 281.4h0M480.3 280.5h0M480.3 387.5h0M480.3 275.2h0M480.3 445.4h0M480.4 296.5h0M480.4 329.2h0M480.4 361.8h0M480.5 445.2h0M480.5 415h0M480.5 303.7h0M480.6 371.4h0M480.6 272.2h0M480.6 276.6h0M480.6 277.4h0M480.7 433.8h0M480.7 443.2h0M480.7 372.3h0M480.8 299h0M480.8 423h0M480.8 449.6h0M480.8 400.4h0M480.9 290.7h0M480.9 408.6h0M480.9 278.2h0M481 294h0M481 306.3h0M481 325.8h0M481 447.5h0M481.1 399.1h0M481.1 299.9h0M481.1 272.3h0M481.2 356.7h0M481.2 439.8h0M481.2 404.9h0M481.3 450h0M481.3 324.3h0M481.3 431.6h0M481.3 377.5h0M481.4 385.9h0M481.4 355.5h0M481.4 305.1h0M481.5 450.2h0M481.5 450.8h0M481.5 354.1h0M481.5 330.2h0M481.6 355.2h0M481.6 274.5h0M481.6 404.5h0M481.7 331.6h0M481.7 320.2h0M481.7 371.3h0M481.7 302.6h0M481.8 434.1h0M481.8 299.1h0M481.8 297.1h0M481.9 272.3h0M481.9 338.9h0M481.9 276.2h0M481.9 441.7h0M482 272.5h0M482 430.4h0M482 416h0M482.1 310.6h0M482.1 329.1h0M482.1 300h0M482.2 404.2h0M482.2 343.1h0M482.2 272.1h0M482.2 331.7h0M482.3 288.1h0M482.3 347.5h0M482.3 437.5h0M482.4 413.8h0M482.4 364.1h0M482.4 280.4h0M482.4 442.7h0M482.5 383.4h0M482.5 312.8h0M482.5 358.2h0M482.6 429.4h0M482.6 420.8h0M482.6 300.6h0M482.6 302.4h0M482.7 296.4h0M482.7 389.2h0M482.7 378.9h0M482.8 442.5h0M482.8 388h0M482.8 432.2h0M482.9 418.9h0M482.9 348.1h0M482.9 418.1h0M482.9 416.3h0M483 287.9h0M483 277.3h0M483 374.6h0M483.1 402.9h0M483.1 345.2h0M483.1 340.9h0M483.1 272.2h0M483.2 450.2h0M483.2 315.5h0M483.2 311.3h0M483.3 394h0M483.3 296.6h0M483.3 365.9h0M483.3 291.2h0M483.4 430.3h0M483.4 379.2h0M483.4 419.6h0M483.5 349.1h0M483.5 331.9h0M483.5 273.2h0M483.5 386.4h0M483.6 397.4h0M483.6 320.1h0M483.6 340.9h0M483.7 405.7h0M483.7 376.7h0M483.7 304.1h0M483.8 434.3h0M483.8 272.9h0M483.8 446.2h0M483.8 396.9h0M483.9 386.1h0M483.9 327.6h0M483.9 384.7h0M484 285.8h0M484 326.5h0M484 276h0M484 448.2h0M484.1 431.6h0M484.1 281.9h0M484.1 283.9h0M484.2 292.7h0M484.2 275.9h0M484.2 277.6h0M484.2 274.1h0M484.3 273.1h0M484.3 381.8h0M484.3 322.6h0M484.4 309.5h0M484.4 450.8h0M484.4 301.6h0M484.5 286.5h0M484.5 449.7h0M484.5 274.7h0M484.5 275.2h0M484.6 429.8h0M484.6 297h0M484.6 371.7h0M484.7 305.9h0M484.7 449h0M484.7 272.2h0M484.7 442.5h0M484.8 288.3h0M484.8 450.8h0M484.8 303.7h0M484.9 306.3h0M484.9 272.1h0M484.9 280.3h0M484.9 327.5h0M485 440.1h0M485 449.7h0M485 284.4h0M485.1 305h0M485.1 367.5h0M485.1 325.4h0M485.1 405h0M485.2 278h0M485.2 272.6h0M485.2 450.9h0M485.3 301.8h0M485.3 294.7h0M485.3 274.6h0M485.4 278.8h0M485.4 431.7h0M485.4 359.9h0M485.4 302.1h0M485.5 273.4h0M485.5 282.9h0M485.5 425.1h0M485.6 301.3h0M485.6 357.2h0M485.6 312.3h0M485.6 273.1h0M485.7 298.1h0M485.7 403.1h0M485.7 323.8h0M485.8 272.8h0M485.8 375h0M485.8 273.7h0M485.8 339.8h0M485.9 450.8h0M485.9 282.2h0M485.9 369.2h0M486 448.9h0M486 284.1h0M486 387.8h0M486.1 298.6h0M486.1 321.9h0M486.1 288.8h0M486.1 332.9h0M486.2 332.1h0M486.2 441.3h0M486.2 449h0M486.3 407.4h0M486.3 443.5h0M486.3 283.6h0M486.3 382.9h0M486.4 388.7h0M486.4 283.4h0M486.4 343.1h0M486.5 379.3h0M486.5 448.6h0M486.5 444.6h0M486.5 296h0M486.6 421h0M486.6 450.2h0M486.6 290.7h0M486.7 425.8h0M486.7 332h0M486.7 413.6h0M486.8 444h0M486.8 273.7h0M486.8 307.5h0M486.8 279.7h0M486.9 329.2h0M486.9 428.4h0M486.9 362.3h0M487 272.6h0M487 447.2h0M487 340h0M487 449.7h0M487.1 450.9h0M487.1 272.1h0M487.1 420.4h0M487.2 326h0M487.2 276.2h0M487.2 272.2h0M487.2 340h0M487.3 338.4h0M487.3 301.2h0M487.3 360.5h0M487.4 287.8h0M487.4 285.5h0M487.4 290.2h0M487.4 347.5h0M487.5 285.7h0M487.5 447h0M487.5 284.5h0M487.6 312.9h0M487.6 325.3h0M487.6 445.9h0M487.7 342.4h0M487.7 288.3h0M487.7 424.5h0M487.7 362.7h0M487.8 272.1h0M487.8 273.6h0M487.8 337.8h0M487.9 446.7h0M487.9 413.3h0M487.9 336h0M487.9 283.1h0M488 345.5h0M488 273.3h0M488 316.1h0M488.1 413.8h0M488.1 303h0M488.1 293h0M488.1 448.3h0M488.2 275.9h0M488.2 272.3h0M488.2 427.6h0M488.3 370.9h0M488.3 340.1h0M488.3 288.7h0M488.4 272.5h0M488.4 293.8h0M488.4 315.3h0M488.4 442.8h0M488.5 450.5h0M488.5 334.8h0M488.5 393.8h0M488.6 361.4h0M488.6 416.1h0M488.6 450.9h0M488.6 288.8h0M488.7 277.8h0M488.7 332.2h0M488.7 429.1h0M488.8 278h0M488.8 344.2h0M488.8 424.1h0M488.8 355.6h0M488.9 337.5h0M488.9 292.9h0M488.9 345.1h0M489 273h0M489 350.6h0M489 357.2h0M489 403.2h0M489.1 421.9h0M489.1 370.8h0M489.1 408.8h0M489.2 450.9h0M489.2 351.5h0M489.2 366.9h0M489.3 319.6h0M489.3 444.2h0M489.3 283.1h0M489.3 336.1h0M489.4 325.1h0M489.4 310.6h0M489.4 441h0M489.5 338.3h0M489.5 393.7h0M489.5 421.4h0M489.5 366.6h0M489.6 432.3h0M489.6 342.2h0M489.6 282.6h0M489.7 432.4h0M489.7 443.4h0M489.7 293.4h0M489.7 400.7h0M489.8 334.9h0M489.8 273.2h0M489.8 291.7h0M489.9 400.9h0M489.9 298.1h0M489.9 370h0M490 380.1h0M490 383.3h0M490 373.6h0M490 425.9h0M490.1 398.1h0M490.1 275.8h0M490.1 302.3h0M490.2 363.4h0M490.2 308.8h0M490.2 316.6h0M490.2 370.2h0M490.3 278.5h0M490.3 327.9h0M490.3 332h0M490.4 297.6h0M490.4 285.4h0M490.4 306.3h0M490.4 312.8h0M490.5 356.1h0M490.5 277h0M490.5 438.4h0M490.6 423.7h0M490.6 279.8h0M490.6 274h0M490.6 335.7h0M490.7 308.7h0M490.7 405.6h0M490.7 408.5h0M490.8 295.4h0M490.8 373.8h0M490.8 369.4h0M490.9 378.5h0M490.9 273.4h0M490.9 323.6h0M490.9 423.9h0M491 272.8h0M491 272.1h0M491 450.4h0M491.1 272.3h0M491.1 411.3h0M491.1 429h0M491.1 409.1h0M491.2 376.4h0M491.2 410.8h0M491.2 349.9h0M491.3 376.4h0M491.3 278.5h0M491.3 282.2h0M491.3 407.2h0M491.4 338.4h0M491.4 293h0M491.4 384h0M491.5 374.2h0M491.5 296.8h0M491.5 324.4h0M491.6 444.1h0M491.6 375.4h0M491.6 398.7h0M491.6 341.2h0M491.7 422.9h0M491.7 392.6h0M491.7 391.5h0M491.8 339.5h0M491.8 338.1h0M491.8 447.5h0M491.8 437.8h0M491.9 436.1h0M491.9 399.2h0M491.9 365h0M492 402.1h0M492 317.8h0M492 276h0M492 329.4h0M492.1 320.7h0M492.1 432.3h0M492.1 281.3h0M492.2 343.7h0M492.2 288.1h0M492.2 410h0M492.2 382.6h0M492.3 342.5h0M492.3 436h0M492.3 305.3h0M492.4 449.7h0M492.4 438.4h0M492.4 339.1h0M492.5 332.9h0M492.5 279h0M492.5 445.5h0M492.5 274.1h0M492.6 272.1h0M492.6 272.3h0M492.6 319.3h0M492.7 427h0M492.7 307.8h0M492.7 312.4h0M492.7 414.1h0M492.8 287.2h0M492.8 423.7h0M492.8 371.6h0M492.9 331h0M492.9 427.1h0M492.9 441.3h0M492.9 300h0M493 366.1h0M493 315.2h0M493 413.1h0M493.1 296.5h0M493.1 299.2h0M493.1 356.1h0M493.2 442.3h0M493.2 433.1h0M493.2 314.6h0M493.2 272.5h0M493.3 448.9h0M493.3 411.4h0M493.3 427h0M493.4 427.8h0M493.4 325.5h0M493.4 333.2h0M493.4 285.3h0M493.5 289.9h0M493.5 275.9h0M493.5 418h0M493.6 449.3h0M493.6 300.6h0M493.6 333.7h0M493.6 336.6h0M493.7 324.2h0M493.7 417.1h0M493.7 440.1h0M493.8 422.5h0M493.8 272.2h0M493.8 395.3h0M493.9 352h0M493.9 417.9h0M493.9 272.1h0M493.9 439.1h0M494 321.5h0M494 272.3h0M494 414.2h0M494.1 405.1h0M494.1 320h0M494.1 411.7h0M494.1 280.1h0M494.2 398h0M494.2 353.3h0M494.2 326.7h0M494.3 277.3h0M494.3 396.2h0M494.3 276.9h0M494.3 331.3h0M494.4 356.9h0M494.4 327.9h0M494.4 318.3h0M494.5 441.4h0M494.5 274.1h0M494.5 321.1h0M494.5 404.4h0M494.6 287.5h0M494.6 313.8h0M494.6 418.5h0M494.7 317.2h0M494.7 339.1h0M494.7 423.3h0M494.8 348.4h0M494.8 450.9h0M494.8 273h0M494.8 322.4h0M494.9 330.1h0M494.9 422.1h0M494.9 413.6h0M495 372.2h0M495 304.2h0M495 398.2h0M495 448.8h0M495.1 272.2h0M495.1 444.3h0M495.1 399.4h0M495.2 345.2h0M495.2 450.9h0M495.2 448.3h0M495.2 275h0M495.3 272.1h0M495.3 417.1h0M495.3 443.9h0M495.4 445.2h0M495.4 291.2h0M495.4 299.5h0M495.5 359.3h0M495.5 299.4h0M495.5 421.6h0M495.5 277h0M495.6 427.9h0M495.6 321.2h0M495.6 368.8h0M495.7 395.5h0M495.7 437.1h0M495.7 303.6h0M495.7 300.7h0M495.8 450.8h0M495.8 386.4h0M495.8 338.5h0M495.9 342.9h0M495.9 299.3h0M495.9 312.3h0M495.9 278.6h0M496 273.8h0M496 280.8h0M496 395.4h0M496.1 426.9h0M496.1 448.7h0M496.1 420h0M496.1 441h0M496.2 354.6h0M496.2 423.6h0M496.2 383.2h0M496.3 449h0M496.3 448.5h0M496.3 282.3h0M496.4 272.1h0M496.4 405.9h0M496.4 373.5h0M496.4 439.1h0M496.5 305h0M496.5 351.5h0M496.5 449.9h0M496.6 294h0M496.6 420.3h0M496.6 272.4h0M496.6 289.3h0M496.7 335.5h0M496.7 275.5h0M496.7 403.4h0M496.8 292h0M496.8 385h0M496.8 347.9h0M496.8 332.1h0M496.9 280.1h0M496.9 384h0M496.9 280.4h0M497 450.9h0M497 396.6h0M497 450.7h0M497.1 446.3h0M497.1 338.5h0M497.1 447.6h0M497.1 340.2h0M497.2 317h0M497.2 273.4h0M497.2 447.2h0M497.3 370.8h0M497.3 272.1h0M497.3 376.9h0M497.3 380.6h0M497.4 339h0M497.4 420.2h0M497.4 297.1h0M497.5 292.8h0M497.5 360.8h0M497.5 318.4h0M497.5 434.1h0M497.6 273.6h0M497.6 411.9h0M497.6 390.9h0M497.7 366h0M497.7 272.2h0M497.7 370.3h0M497.7 303h0M497.8 407.2h0M497.8 433.7h0M497.8 272.2h0M497.9 431.4h0M497.9 318.7h0M497.9 288.6h0M498 383.4h0M498 334.3h0M498 359.6h0M498 304.7h0M498.1 279h0M498.1 448h0M498.1 394h0M498.2 438.5h0M498.2 288.6h0M498.2 317.4h0M498.2 384.8h0M498.3 448.6h0M498.3 292.8h0M498.3 439.7h0M498.4 440.1h0M498.4 351.3h0M498.4 354.2h0M498.4 383.6h0M498.5 341.6h0M498.5 272.4h0M498.5 286h0M498.6 435h0M498.6 290.9h0M498.6 372.9h0M498.7 306.2h0M498.7 402.4h0M498.7 303.1h0M498.7 315.7h0M498.8 281.2h0M498.8 272.3h0M498.8 272.9h0M498.9 322.6h0M498.9 275.6h0M498.9 302.2h0M498.9 398.9h0M499 272.2h0M499 320.5h0M499 299.6h0M499.1 368.1h0M499.1 272.1h0M499.1 416.3h0M499.1 415.5h0M499.2 427h0M499.2 434h0M499.2 369.6h0M499.3 275.6h0M499.3 437.9h0M499.3 340.2h0M499.4 362.5h0M499.4 294.1h0M499.4 417.2h0M499.4 274.1h0M499.5 291.7h0M499.5 372.6h0M499.5 320.4h0M499.6 404h0M499.6 284.3h0M499.6 283h0M499.6 291.3h0M499.7 423.1h0M499.7 371.7h0M499.7 424.8h0M499.8 293.7h0M499.8 272.4h0M499.8 272.5h0M499.8 315.4h0M499.9 380.8h0M499.9 434.8h0M499.9 436.5h0M500 288.4h0M500 341.9h0M500 308.8h0M500 338.3h0M500.1 396h0M500.1 312.4h0M500.1 441.7h0M500.2 334.8h0M500.2 386h0M500.2 305.2h0M500.3 309.2h0M500.3 428.6h0M500.3 447.4h0M500.3 366.6h0M500.4 341.5h0M500.4 438.1h0M500.4 447h0M500.5 300.7h0M500.5 402.6h0M500.5 439.7h0M500.5 293.2h0M500.6 314.9h0M500.6 330.6h0M500.6 276.8h0M500.7 356.2h0M500.7 272.2h0M500.7 310h0M500.7 275.1h0M500.8 328.1h0M500.8 315h0M500.8 367h0M500.9 281.4h0M500.9 339.9h0M500.9 282.9h0M501 281.6h0M501 445.2h0M501 441h0M501 429.6h0M501.1 294.2h0M501.1 411.2h0M501.1 395.4h0M501.2 282.1h0M501.2 291.3h0M501.2 332.9h0M501.2 273.2h0M501.3 334.1h0M501.3 450.7h0M501.3 339.7h0M501.4 295.3h0M501.4 290.6h0M501.4 288.9h0M501.4 421.5h0M501.5 310.8h0M501.5 279.8h0M501.5 276.8h0M501.6 296.8h0M501.6 282.2h0M501.6 371.4h0M501.6 389.3h0M501.7 275.6h0M501.7 273.3h0M501.7 391.7h0M501.8 272.2h0M501.8 424h0M501.8 272.1h0M501.9 380.1h0M501.9 274h0M501.9 375.1h0M501.9 303.8h0M502 328.9h0M502 352.9h0M502 311.3h0M502.1 386.1h0M502.1 372.3h0M502.1 423.5h0M502.1 286h0M502.2 275.9h0M502.2 401.1h0M502.2 279.7h0M502.3 272.1h0M502.3 398.6h0M502.3 273.2h0M502.3 345.8h0M502.4 272.1h0M502.4 347.9h0M502.4 344.9h0M502.5 298.6h0M502.5 441.1h0M502.5 447.4h0M502.6 370h0M502.6 272.6h0M502.6 446.5h0M502.6 272.1h0M502.7 362.9h0M502.7 410.7h0M502.7 431.7h0M502.8 351.6h0M502.8 272.5h0M502.8 335.6h0M502.8 449.3h0M502.9 272.2h0M502.9 446.1h0M502.9 316.2h0M503 278.8h0M503 274.4h0M503 338.2h0M503 276.4h0M503.1 327.4h0M503.1 287.9h0M503.1 440.3h0M503.2 296.2h0M503.2 277.5h0M503.2 278h0M503.2 357.7h0M503.3 392.1h0M503.3 278.9h0M503.3 425h0M503.4 448.1h0M503.4 304.4h0M503.4 327.3h0M503.5 319h0M503.5 446.4h0M503.5 355.9h0M503.5 368h0M503.6 303.9h0M503.6 449.1h0M503.6 373.7h0M503.7 276.9h0M503.7 293.7h0M503.7 298.2h0M503.7 338.1h0M503.8 441.5h0M503.8 400.4h0M503.8 443.9h0M503.9 321.9h0M503.9 285.1h0M503.9 309.9h0M503.9 282.1h0M504 324.1h0M504 448.7h0M504 396.2h0M504.1 327.9h0M504.1 275h0M504.1 368.7h0M504.2 349.8h0M504.2 366.5h0M504.2 450.8h0M504.2 435.4h0M504.3 277.1h0M504.3 317.2h0M504.3 326.2h0M504.4 293h0M504.4 415.5h0M504.4 337.2h0M504.4 284h0M504.5 302.4h0M504.5 370.9h0M504.5 423.8h0M504.6 314.1h0M504.6 273.5h0M504.6 423h0M504.6 282.7h0M504.7 274.9h0M504.7 441.8h0M504.7 318h0M504.8 434h0M504.8 305.2h0M504.8 394h0M504.9 272.2h0M504.9 290.5h0M504.9 316.3h0M504.9 292.5h0M505 298h0M505 305.6h0M505 277.5h0M505.1 405.5h0M505.1 301.7h0M505.1 291.4h0M505.1 276.6h0M505.2 316.4h0M505.2 337.9h0M505.2 278.5h0M505.3 272.5h0M505.3 284h0M505.3 288.8h0M505.3 416.7h0M505.4 339.3h0M505.4 275.4h0M505.4 449.5h0M505.5 396.3h0M505.5 390.7h0M505.5 274h0M505.5 420.7h0M505.6 274.5h0M505.6 273.5h0M505.6 313.6h0M505.7 289.5h0M505.7 433h0M505.7 416.2h0M505.8 440.6h0M505.8 287.7h0M505.8 281.4h0M505.8 316.8h0M505.9 286h0M505.9 322.6h0M505.9 446.7h0M506 387.9h0M506 387.3h0M506 273.2h0M506 354.1h0M506.1 310.9h0M506.1 409.8h0M506.1 330.3h0M506.2 296.9h0M506.2 355.7h0M506.2 304.2h0M506.2 402.5h0M506.3 447.1h0M506.3 280.2h0M506.3 359.7h0M506.4 437.4h0M506.4 422.9h0M506.4 328.6h0M506.5 423h0M506.5 272.2h0M506.5 315.4h0M506.5 415.5h0M506.6 411.1h0M506.6 318.6h0M506.6 299.8h0M506.7 312.4h0M506.7 424h0M506.7 429.3h0M506.7 335.2h0M506.8 351.5h0M506.8 411.4h0M506.8 348.7h0M506.9 429.3h0M506.9 322.3h0M506.9 432.7h0M506.9 277.8h0M507 295.3h0M507 272.2h0M507 423.1h0M507.1 272.5h0M507.1 278.9h0M507.1 306.8h0M507.1 450.9h0M507.2 284.5h0M507.2 422.5h0M507.2 325.5h0M507.3 287h0M507.3 303.3h0M507.3 399.4h0M507.4 306.3h0M507.4 379.8h0M507.4 384.6h0M507.4 440.6h0M507.5 277.6h0M507.5 369h0M507.5 338.4h0M507.6 448.5h0M507.6 350.3h0M507.6 373.3h0M507.6 277.2h0M507.7 438.7h0M507.7 297.8h0M507.7 338.3h0M507.8 277.1h0M507.8 416.6h0M507.8 428.8h0M507.8 272.1h0M507.9 343h0M507.9 367h0M507.9 350.2h0M508 404.6h0M508 450.9h0M508 446.9h0M508.1 351.8h0M508.1 450.8h0M508.1 272.2h0M508.1 366.1h0M508.2 333.1h0M508.2 281.1h0M508.2 357.1h0M508.3 322.4h0M508.3 312.8h0M508.3 405.7h0M508.3 286.6h0M508.4 294.1h0M508.4 374.5h0M508.4 290.4h0M508.5 273.1h0M508.5 450.7h0M508.5 312h0M508.5 288.1h0M508.6 351.5h0M508.6 356.4h0M508.6 369.5h0M508.7 272.6h0M508.7 443.9h0M508.7 307.2h0M508.7 276.7h0M508.8 272.9h0M508.8 421h0M508.8 385.1h0M508.9 444h0M508.9 430.5h0M508.9 426.5h0M509 319.1h0M509 283.3h0M509 450.4h0M509 336h0M509.1 272.7h0M509.1 313.3h0M509.1 304.2h0M509.2 444.3h0M509.2 272.4h0M509.2 272.9h0M509.2 349.7h0M509.3 274.9h0M509.3 418.6h0M509.3 379.1h0M509.4 276.7h0M509.4 299.8h0M509.4 287.4h0M509.4 275.5h0M509.5 420.4h0M509.5 389.3h0M509.5 302.8h0M509.6 370.1h0M509.6 365.3h0M509.6 431.8h0M509.7 376.7h0M509.7 434.6h0M509.7 326.1h0M509.7 403.1h0M509.8 285.2h0M509.8 413.6h0M509.8 404.1h0M509.9 292.6h0M509.9 398.5h0M509.9 273.1h0M509.9 398.9h0M510 272.3h0M510 278.2h0M510 339.2h0M510.1 394.6h0M510.1 415.5h0M510.1 440h0M510.1 436.1h0M510.2 431.2h0M510.2 398.4h0M510.2 353.7h0M510.3 407h0M510.3 399h0M510.3 424.4h0M510.4 380.9h0M510.4 290h0M510.4 282h0M510.4 316.8h0M510.5 435.6h0M510.5 393.5h0M510.5 294.8h0M510.6 322.4h0M510.6 275.7h0M510.6 330.1h0M510.6 279.4h0M510.7 446.5h0M510.7 334.9h0M510.7 274.4h0M510.8 444.5h0M510.8 298.5h0M510.8 411h0M510.8 422.4h0M510.9 418.2h0M510.9 296h0M510.9 407.6h0M511 358h0M511 330.8h0M511 348.6h0M511 350.3h0M511.1 447h0M511.1 393.6h0M511.1 326.2h0M511.2 272.1h0M511.2 323.9h0M511.2 272.1h0M511.3 360.9h0M511.3 276.9h0M511.3 427.8h0M511.3 291.4h0M511.4 273.3h0M511.4 410h0M511.4 358.8h0M511.5 308.3h0M511.5 307.4h0M511.5 352.5h0M511.5 428.3h0M511.6 280.6h0M511.6 443.7h0M511.6 373.5h0M511.7 295.9h0M511.7 336.8h0M511.7 357.8h0M511.7 449.8h0M511.8 305.1h0M511.8 390.1h0M511.8 366.3h0M511.9 331.4h0M511.9 422.2h0M511.9 307.6h0M512 370h0M512 444.8h0M512 292.7h0M512 295h0M512.1 273.4h0M512.1 272.2h0M512.1 355.1h0M512.2 358.7h0M512.2 313h0M512.2 417.1h0M512.2 387h0M512.3 279.5h0M512.3 350.5h0M512.3 336.9h0M512.4 367.3h0M512.4 436.4h0M512.4 446.6h0M512.4 279.6h0M512.5 272.1h0M512.5 280.8h0M512.5 287.5h0M512.6 450.8h0M512.6 360.6h0M512.6 274.2h0M512.6 349h0M512.7 278.9h0M512.7 445.8h0M512.7 322.9h0M512.8 437.8h0M512.8 337.3h0M512.8 273h0M512.9 447.9h0M512.9 367.4h0M512.9 372.5h0M512.9 274.4h0M513 273.5h0M513 421.4h0M513 312.3h0M513.1 439.4h0M513.1 373h0M513.1 312.6h0M513.1 412.1h0M513.2 331h0M513.2 284.2h0M513.2 393.8h0M513.3 445.6h0M513.3 316.7h0M513.3 279.1h0M513.3 375.5h0M513.4 275.9h0M513.4 447.3h0M513.4 331.8h0M513.5 375.7h0M513.5 328.6h0M513.5 301.8h0M513.6 444.8h0M513.6 346.5h0M513.6 288.7h0M513.6 273.4h0M513.7 279.7h0M513.7 378.7h0M513.7 282.6h0M513.8 322.3h0M513.8 349.4h0M513.8 444h0M513.8 290.7h0M513.9 296.7h0M513.9 284h0M513.9 433.6h0M514 322.3h0M514 273.3h0M514 378.7h0M514 390.3h0M514.1 286h0M514.1 425.9h0M514.1 365.2h0M514.2 345.7h0M514.2 279.3h0M514.2 448.4h0M514.2 297.8h0M514.3 308.9h0M514.3 404h0M514.3 449.7h0M514.4 317.8h0M514.4 306.3h0M514.4 276.3h0M514.5 427h0M514.5 433.5h0M514.5 340.1h0M514.5 287.3h0M514.6 274.6h0M514.6 437h0M514.6 399.8h0M514.7 366.7h0M514.7 315.7h0M514.7 357.5h0M514.7 437.7h0M514.8 300.5h0M514.8 365.8h0M514.8 285.3h0M514.9 310.6h0M514.9 303h0M514.9 318.7h0M514.9 286.1h0M515 398.1h0M515 324.8h0M515 328.4h0M515.1 424.8h0M515.1 328.6h0M515.1 426.2h0M515.2 321.3h0M515.2 380.5h0M515.2 318.6h0M515.2 400.8h0M515.3 275.3h0M515.3 313.1h0M515.3 360.4h0M515.4 431.4h0M515.4 447.4h0M515.4 400.2h0M515.4 447.2h0M515.5 371.5h0M515.5 361.9h0M515.5 352.6h0M515.6 406.5h0M515.6 442.2h0M515.6 285.6h0M515.6 341.6h0M515.7 385h0M515.7 277.7h0M515.7 272.1h0M515.8 296.6h0M515.8 396.6h0M515.8 273.8h0M515.9 289.1h0M515.9 277.7h0M515.9 449.1h0M515.9 433.6h0M516 354.8h0M516 441.7h0M516 409.4h0M516.1 314.6h0M516.1 274.6h0M516.1 417h0M516.1 318.3h0M516.2 427h0M516.2 315.2h0M516.2 431.5h0M516.3 355.7h0M516.3 396.1h0M516.3 417.5h0M516.3 301.7h0M516.4 414.8h0M516.4 273.4h0M516.4 424.9h0M516.5 442.4h0M516.5 300.3h0M516.5 402.3h0M516.5 272.7h0M516.6 290.3h0M516.6 346.5h0M516.6 426.5h0M516.7 272.5h0M516.7 395.7h0M516.7 277.7h0M516.8 449.8h0M516.8 280.8h0M516.8 356h0M516.8 273.5h0M516.9 333.8h0M516.9 303.7h0M516.9 435.9h0M517 450.9h0M517 327.3h0M517 272.4h0M517 276.4h0M517.1 419.5h0M517.1 272.3h0M517.1 391.4h0M517.2 273.8h0M517.2 358.8h0M517.2 278.8h0M517.2 361.4h0M517.3 425.7h0M517.3 297.2h0M517.3 386.1h0M517.4 336.5h0M517.4 278.8h0M517.4 282.1h0M517.5 397.9h0M517.5 272.1h0M517.5 330.7h0M517.5 281.2h0M517.6 272.2h0M517.6 306.3h0M517.6 450.7h0M517.7 371.3h0M517.7 391.7h0M517.7 272.2h0M517.7 450.2h0M517.8 319.9h0M517.8 344.9h0M517.8 339.1h0M517.9 397.1h0M517.9 346.9h0M517.9 275.6h0M517.9 272.2h0M518 355.7h0M518 280.6h0M518 280.6h0M518.1 284h0M518.1 444.4h0M518.1 274.8h0M518.1 278.2h0M518.2 322.9h0M518.2 355.9h0M518.2 276.9h0M518.3 275.4h0M518.3 290.2h0M518.3 444.7h0M518.4 450.9h0M518.4 439.6h0M518.4 276.6h0M518.4 281.8h0M518.5 312.1h0M518.5 436.8h0M518.5 416.8h0M518.6 431.8h0M518.6 320.3h0M518.6 441.6h0M518.6 401.2h0M518.7 281.3h0M518.7 447.8h0M518.7 391.9h0M518.8 307.1h0M518.8 355.9h0M518.8 274.6h0M518.8 358.9h0M518.9 278.6h0M518.9 332.9h0M518.9 324.3h0M519 275.1h0M519 412.6h0M519 309.3h0M519.1 450.7h0M519.1 450.5h0M519.1 376.6h0M519.1 275.6h0M519.2 312.4h0M519.2 381.9h0M519.2 332h0M519.3 363.9h0M519.3 289.2h0M519.3 281.5h0M519.3 279.6h0M519.4 391.6h0M519.4 373h0M519.4 302.1h0M519.5 329.5h0M519.5 400.6h0M519.5 437.9h0M519.5 417.3h0M519.6 272.4h0M519.6 278.6h0M519.6 398.1h0M519.7 382.6h0M519.7 450.8h0M519.7 274.6h0M519.7 273.8h0M519.8 397.5h0M519.8 409.3h0M519.8 293.3h0M519.9 436.9h0M519.9 272.8h0M519.9 438.6h0M520 414.3h0M520 429.6h0M520 417.3h0M520 278.2h0M520.1 312.1h0M520.1 272.7h0M520.1 365.9h0M520.2 442h0M520.2 292.9h0M520.2 450.1h0M520.2 331.9h0M520.3 361.2h0M520.3 373.2h0M520.3 365.8h0M520.4 307.7h0M520.4 435.9h0M520.4 399.7h0M520.4 424.3h0M520.5 387.7h0M520.5 402.4h0M520.5 277.5h0M520.6 353.5h0M520.6 357.7h0M520.6 450.8h0M520.7 350.8h0M520.7 426.1h0M520.7 336.1h0M520.7 375h0M520.8 309.5h0M520.8 335.4h0M520.8 306.8h0M520.9 377.1h0M520.9 445.7h0M520.9 399.4h0M520.9 288.6h0M521 350.4h0M521 272.1h0M521 430.7h0M521.1 398.2h0M521.1 311.2h0M521.1 290.9h0M521.1 273.9h0M521.2 374.7h0M521.2 276h0M521.2 332.2h0M521.3 379.1h0M521.3 322h0M521.3 382.3h0M521.3 450.2h0M521.4 295.4h0M521.4 284.1h0M521.4 276h0M521.5 283.9h0M521.5 446.4h0M521.5 272.7h0M521.6 352.5h0M521.6 430.1h0M521.6 324.3h0M521.6 300.6h0M521.7 349.3h0M521.7 407.9h0M521.7 272.3h0M521.8 281.6h0M521.8 285.6h0M521.8 436.5h0M521.8 391.9h0M521.9 415.3h0M521.9 450h0M521.9 272.1h0M522 405.1h0M522 359.5h0M522 281h0M522 403.6h0M522.1 342.3h0M522.1 352.6h0M522.1 276.5h0M522.2 286h0M522.2 437.9h0M522.2 339.9h0M522.3 409h0M522.3 298.5h0M522.3 338.5h0M522.3 357.2h0M522.4 399.6h0M522.4 346.4h0M522.4 325.5h0M522.5 447.8h0M522.5 288.8h0M522.5 327.1h0M522.5 275.2h0M522.6 390.8h0M522.6 329h0M522.6 441.3h0M522.7 437.3h0M522.7 273.8h0M522.7 427.3h0M522.7 309.5h0M522.8 333.8h0M522.8 442.6h0M522.8 327h0M522.9 415.2h0M522.9 293.9h0M522.9 339.9h0M523 372.8h0M523 277.6h0M523 350.6h0M523 435h0M523.1 276.7h0M523.1 344.5h0M523.1 450.9h0M523.2 383.5h0M523.2 361.3h0M523.2 326.2h0M523.2 445.1h0M523.3 304.4h0M523.3 390.8h0M523.3 294.8h0M523.4 276h0M523.4 346.8h0M523.4 440.9h0M523.4 273.4h0M523.5 283.4h0M523.5 364.6h0M523.5 288.5h0M523.6 381h0M523.6 286.6h0M523.6 440.5h0M523.6 396.8h0M523.7 435.3h0M523.7 449.4h0M523.7 449.3h0M523.8 395h0M523.8 388.9h0M523.8 438.3h0M523.9 415.6h0M523.9 296.6h0M523.9 309.6h0M523.9 427.3h0M524 427.5h0M524 415.8h0M524 282.4h0M524.1 422.8h0M524.1 439.2h0M524.1 326.8h0M524.1 303.7h0M524.2 368.8h0M524.2 450.9h0M524.2 383.2h0M524.3 403.5h0M524.3 393.9h0M524.3 319.1h0M524.3 273.5h0M524.4 360.8h0M524.4 346.4h0M524.4 305.1h0M524.5 371.1h0M524.5 384.9h0M524.5 376.9h0M524.6 304.4h0M524.6 424.8h0M524.6 304h0M524.6 408.3h0M524.7 434.2h0M524.7 275.2h0M524.7 376h0M524.8 445h0M524.8 301.4h0M524.8 273.2h0M524.8 285.2h0M524.9 315.3h0M524.9 300.9h0M524.9 394.3h0M525 419.1h0M525 273.5h0M525 278.4h0M525 294.4h0M525.1 446.7h0M525.1 372.5h0M525.1 371.2h0M525.2 372.4h0M525.2 358.4h0M525.2 273.8h0M525.2 430.7h0M525.3 386.3h0M525.3 413.8h0M525.3 351.7h0M525.4 432.7h0M525.4 272.2h0M525.4 375.8h0M525.5 285.1h0M525.5 340.3h0M525.5 445.9h0M525.5 415.6h0M525.6 430.7h0M525.6 417.7h0M525.6 428.4h0M525.7 431.1h0M525.7 323.9h0M525.7 276.5h0M525.7 450.3h0M525.8 447.2h0M525.8 286.9h0M525.8 437.7h0M525.9 300.3h0M525.9 272.4h0M525.9 273.8h0M525.9 412.8h0M526 336.3h0M526 432.4h0M526 442h0M526.1 436.8h0M526.1 450.4h0M526.1 378.5h0M526.2 450.2h0M526.2 436.4h0M526.2 427.5h0M526.2 443.7h0M526.3 440.2h0M526.3 275.1h0M526.3 274.2h0M526.4 402h0M526.4 273.3h0M526.4 353.8h0M526.4 324.8h0M526.5 444.3h0M526.5 331h0M526.5 275h0M526.6 381.8h0M526.6 346.6h0M526.6 450.6h0M526.6 450.3h0M526.7 399.3h0M526.7 289h0M526.7 370.7h0M526.8 321.3h0M526.8 399.5h0M526.8 360.3h0M526.8 335.9h0M526.9 336.7h0M526.9 301.3h0M526.9 337.9h0M527 407.5h0M527 292h0M527 389.3h0M527.1 450.8h0M527.1 426.9h0M527.1 273.3h0M527.1 333.2h0M527.2 412.8h0M527.2 441.6h0M527.2 449h0M527.3 385.7h0M527.3 272.1h0M527.3 272.2h0M527.3 428.2h0M527.4 403.6h0M527.4 333h0M527.4 363.9h0M527.5 383.5h0M527.5 348.1h0M527.5 410.3h0M527.5 275.5h0M527.6 412.7h0M527.6 426.6h0M527.6 338.8h0M527.7 405.4h0M527.7 342.3h0M527.7 290.1h0M527.8 316h0M527.8 445.6h0M527.8 274.4h0M527.8 305.8h0M527.9 448.8h0M527.9 368.3h0M527.9 329.5h0M528 351.5h0M528 424.3h0M528 430.8h0M528 274.5h0M528.1 293.8h0M528.1 448.3h0M528.1 326h0M528.2 353.8h0M528.2 435h0M528.2 403.2h0M528.2 422.3h0M528.3 275.9h0M528.3 417.1h0M528.3 426h0M528.4 433.1h0M528.4 366.2h0M528.4 361.2h0M528.5 450.3h0M528.5 312.9h0M528.5 280.1h0M528.5 436.8h0M528.6 449.4h0M528.6 449.9h0M528.6 289.8h0M528.7 442.8h0M528.7 272.3h0M528.7 353.5h0M528.7 274.4h0M528.8 338.9h0M528.8 386h0M528.8 332.4h0M528.9 318.6h0M528.9 272.1h0M528.9 279.9h0M528.9 345.9h0M529 299.4h0M529 412.3h0M529 419.1h0M529.1 314h0M529.1 413h0M529.1 274.2h0M529.1 300.2h0M529.2 283.5h0M529.2 446.4h0M529.2 356.5h0M529.3 295.5h0M529.3 364.5h0M529.3 295.8h0M529.4 415.6h0M529.4 360.4h0M529.4 358.6h0M529.4 275.4h0M529.5 433.1h0M529.5 383.4h0M529.5 406.9h0M529.6 300.3h0M529.6 281.9h0M529.6 448h0M529.6 337.8h0M529.7 275h0M529.7 441.2h0M529.7 450.5h0M529.8 433.1h0M529.8 339.8h0M529.8 436.4h0M529.8 365.4h0M529.9 447.8h0M529.9 277h0M529.9 334.3h0M530 274.3h0M530 353.5h0M530 429.3h0M530.1 282.6h0M530.1 446.4h0M530.1 393.1h0M530.1 430.7h0M530.2 284.5h0M530.2 313.8h0M530.2 283h0M530.3 295.5h0M530.3 291.2h0M530.3 273.9h0M530.3 276.9h0M530.4 386h0M530.4 342.8h0M530.4 416.6h0M530.5 274.8h0M530.5 276.5h0M530.5 441.2h0M530.5 300.1h0M530.6 368.3h0M530.6 276.4h0M530.6 434.8h0M530.7 345.5h0M530.7 278.6h0M530.7 389.4h0M530.7 319.3h0M530.8 441.7h0M530.8 290.4h0M530.8 309.1h0M530.9 442.7h0M530.9 444.8h0M530.9 412.6h0M531 447.4h0M531 293.4h0M531 446.4h0M531 388.6h0M531.1 311.8h0M531.1 344.6h0M531.1 278.8h0M531.2 284.3h0M531.2 275.6h0M531.2 365.3h0M531.2 308.9h0M531.3 308.5h0M531.3 314h0M531.3 306.5h0M531.4 364.6h0M531.4 283.2h0M531.4 450.9h0M531.4 273h0M531.5 355.2h0M531.5 422h0M531.5 320.6h0M531.6 279h0M531.6 275.7h0M531.6 395.6h0M531.7 298.3h0M531.7 298.1h0M531.7 436.1h0M531.7 442.2h0M531.8 421.3h0M531.8 281.1h0M531.8 402.2h0M531.9 298.8h0M531.9 435.6h0M531.9 324.3h0M531.9 273.7h0M532 430.4h0M532 449.3h0M532 390.1h0M532.1 274.1h0M532.1 286.7h0M532.1 272.1h0M532.1 450.2h0M532.2 296.7h0M532.2 277h0M532.2 280.1h0M532.3 272.4h0M532.3 416.4h0M532.3 275.1h0M532.3 340.2h0M532.4 275.5h0M532.4 390h0M532.4 416.2h0M532.5 433.2h0M532.5 282.3h0M532.5 377.8h0M532.6 287.1h0M532.6 272.1h0M532.6 412.7h0M532.6 435.2h0M532.7 403.5h0M532.7 287.6h0M532.7 392.9h0M532.8 363.8h0M532.8 430.9h0M532.8 432.1h0M532.8 391.4h0M532.9 425.7h0M532.9 272.7h0M532.9 420.9h0M533 443.8h0M533 281.6h0M533 381.8h0M533 401.8h0M533.1 379.2h0M533.1 295.5h0M533.1 447.8h0M533.2 319.3h0M533.2 363.8h0M533.2 368.4h0M533.3 277.5h0M533.3 405.7h0M533.3 394.8h0M533.3 383.8h0M533.4 313.7h0M533.4 274.5h0M533.4 272.1h0M533.5 447.2h0M533.5 440.4h0M533.5 403.9h0M533.5 420.9h0M533.6 433.9h0M533.6 423.2h0M533.6 300.1h0M533.7 330.4h0M533.7 420.7h0M533.7 329.9h0M533.7 401.2h0M533.8 340.6h0M533.8 403.2h0M533.8 284.4h0M533.9 348.7h0M533.9 281.8h0M533.9 417.5h0M534 340.8h0M534 390.3h0M534 323.9h0M534 434.3h0M534.1 272.1h0M534.1 384.9h0M534.1 417.5h0M534.2 442h0M534.2 273.9h0M534.2 420.5h0M534.2 284.6h0M534.3 425.2h0M534.3 317.2h0M534.3 295.4h0M534.4 436.1h0M534.4 360.1h0M534.4 422.9h0M534.4 366h0M534.5 389.7h0M534.5 272.8h0M534.5 336.9h0M534.6 447.3h0M534.6 368.7h0M534.6 365.1h0M534.6 282.1h0M534.7 278.7h0M534.7 361.8h0M534.7 299h0M534.8 300.2h0M534.8 426h0M534.8 308.7h0M534.9 276.1h0M534.9 296.3h0M534.9 377.6h0M534.9 374.6h0M535 284.9h0M535 392.4h0M535 277.4h0M535.1 435.4h0M535.1 446.8h0M535.1 363.8h0M535.1 316.1h0M535.2 441.8h0M535.2 297.2h0M535.2 379.3h0M535.3 348.8h0M535.3 337.4h0M535.3 272.8h0M535.3 286.5h0M535.4 272.4h0M535.4 385.7h0M535.4 314.6h0M535.5 295h0M535.5 383.2h0M535.5 294h0M535.6 278.8h0M535.6 373.3h0M535.6 323.5h0M535.6 275.8h0M535.7 305.6h0M535.7 304.7h0M535.7 406.1h0M535.8 354h0M535.8 388.3h0M535.8 280.1h0M535.8 316.2h0M535.9 438.6h0M535.9 446h0" stroke="#0a78c8" stroke-width="1.45" stroke-linecap="round" fill="none" opacity="0.72"/>
<rect x="26.7" y="514.5" width="236.9" height="195.5" fill="none" stroke="#8a8a8a" stroke-width="0.8"/>
<text transform="translate(26.7 722)" font-size="8.5" text-anchor="middle" fill="#333333">0</text>
<text transform="translate(74.08 722)" font-size="8.5" text-anchor="middle" fill="#333333">1000</text>
<text transform="translate(121.46 722)" font-size="8.5" text-anchor="middle" fill="#333333">2000</text>
<text transform="translate(168.84 722)" font-size="8.5" text-anchor="middle" fill="#333333">3000</text>
<text transform="translate(216.22 722)" font-size="8.5" text-anchor="middle" fill="#333333">4000</text>
<text transform="translate(263.6 722)" font-size="8.5" text-anchor="middle" fill="#333333">5000</text>
<text transform="translate(23.7 713.06)" font-size="8.5" text-anchor="end" fill="#333333">0</text>
<text transform="translate(23.7 693.51)" font-size="8.5" text-anchor="end" fill="#333333">0.1</text>
<text transform="translate(23.7 673.96)" font-size="8.5" text-anchor="end" fill="#333333">0.2</text>
<text transform="translate(23.7 654.41)" font-size="8.5" text-anchor="end" fill="#333333">0.3</text>
<text transform="translate(23.7 634.86)" font-size="8.5" text-anchor="end" fill="#333333">0.4</text>
<text transform="translate(23.7 615.31)" font-size="8.5" text-anchor="end" fill="#333333">0.5</text>
<text transform="translate(23.7 595.76)" font-size="8.5" text-anchor="end" fill="#333333">0.6</text>
<text transform="translate(23.7 576.21)" font-size="8.5" text-anchor="end" fill="#333333">0.7</text>
<text transform="translate(23.7 556.66)" font-size="8.5" text-anchor="end" fill="#333333">0.8</text>
<text transform="translate(23.7 537.11)" font-size="8.5" text-anchor="end" fill="#333333">0.9</text>
<text transform="translate(23.7 517.56)" font-size="8.5" text-anchor="end" fill="#333333">1</text>
<path d="M74.08 710v-2.4M74.08 514.5v2.4M121.46 710v-2.4M121.46 514.5v2.4M168.84 710v-2.4M168.84 514.5v2.4M216.22 710v-2.4M216.22 514.5v2.4M26.7 690.45h2.4M263.6 690.45h-2.4M26.7 670.9h2.4M263.6 670.9h-2.4M26.7 651.35h2.4M263.6 651.35h-2.4M26.7 631.8h2.4M263.6 631.8h-2.4M26.7 612.25h2.4M263.6 612.25h-2.4M26.7 592.7h2.4M263.6 592.7h-2.4M26.7 573.15h2.4M263.6 573.15h-2.4M26.7 553.6h2.4M263.6 553.6h-2.4M26.7 534.05h2.4M263.6 534.05h-2.4" stroke="#8a8a8a" stroke-width="0.8" fill="none"/>
<text transform="translate(145 734.4)" font-size="9.2" text-anchor="middle" fill="#333333">Dimension</text>
<text transform="translate(9.4 612) rotate(-90)" font-size="9.2" text-anchor="middle" fill="#333333">Chaos value</text>
<path d="M26.7 696.6h0M26.8 682.9h0M26.8 668.6h0M26.9 655.6h0M26.9 641.1h0M27 627.9h0M27.1 584.9h0M27.2 571.5h0M27.2 557.1h0M27.3 543.2h0M27.3 529.2h0M27.4 514.8h0M27.4 696.5h0M27.5 682h0M27.5 667.5h0M27.6 653.4h0M27.6 639.2h0M27.6 624h0M27.7 596h0M27.8 581.1h0M27.8 566.5h0M27.9 552.3h0M27.9 537.7h0M28 523h0M28 704.1h0M28.1 689.1h0M28.1 673.8h0M28.2 659.7h0M28.2 645.2h0M28.3 629.9h0M28.3 615.5h0M28.4 584.9h0M28.5 570.9h0M28.5 556.4h0M28.5 540.4h0M28.6 525.7h0M28.6 706.1h0M28.7 690.7h0M28.7 675.6h0M28.8 660.4h0M28.8 645.4h0M28.9 629.6h0M29 584.2h0M29.1 568.4h0M29.1 553.1h0M29.2 538h0M29.2 522.4h0M29.3 701.9h0M29.3 686.6h0M29.4 671.1h0M29.4 655.3h0M29.4 639.7h0M29.5 624h0M29.6 591.9h0M29.6 576.6h0M29.7 560.8h0M29.7 544.9h0M29.8 528.8h0M29.8 708.5h0M29.9 692.4h0M29.9 676.6h0M30 660.5h0M30 645.1h0M30.1 628h0M30.2 596.1h0M30.2 579.4h0M30.3 563.1h0M30.3 546.8h0M30.3 530.6h0M30.4 515h0M30.4 692.9h0M30.5 677h0M30.5 660.4h0M30.6 644h0M30.6 628.1h0M30.7 594.8h0M30.8 577.2h0M30.8 561.2h0M30.9 544.2h0M30.9 527.6h0M31 706.3h0M31 689.3h0M31.1 672.4h0M31.1 655.7h0M31.2 638.9h0M31.2 621.2h0M31.3 588.2h0M31.3 570.8h0M31.4 554.3h0M31.4 537h0M31.5 519.9h0M31.5 697.8h0M31.6 680.1h0M31.6 663.2h0M31.7 645.8h0M31.7 628.7h0M31.8 594.2h0M31.9 576.2h0M31.9 559.3h0M32 541.6h0M32 524.2h0M32.1 702.2h0M32.1 684.4h0M32.1 666.7h0M32.2 649.3h0M32.2 632.5h0M32.3 595.4h0M32.4 578.7h0M32.4 560.7h0M32.5 542.3h0M32.5 524.7h0M32.6 702h0M32.6 684.2h0M32.7 665.9h0M32.7 648.6h0M32.8 629.3h0M32.9 593.7h0M32.9 575.5h0M33 557.1h0M33 539h0M33 520.2h0M33.1 697.7h0M33.1 679.7h0M33.2 661h0M33.2 643.2h0M33.3 624.3h0M33.4 587.2h0M33.4 568.9h0M33.5 550.1h0M33.5 531.6h0M33.6 708.7h0M33.6 689.5h0M33.7 670.9h0M33.7 652.2h0M33.8 632.8h0M33.8 614.5h0M33.9 576.5h0M33.9 557.8h0M34 538.9h0M34 519.5h0M34.1 696.5h0M34.1 676.9h0M34.2 658.1h0M34.2 639h0M34.3 619.9h0M34.4 580.6h0M34.4 561.5h0M34.5 542.8h0M34.5 522.4h0M34.6 699.3h0M34.6 680.1h0M34.7 660.4h0M34.7 640.6h0M34.8 620.8h0M34.8 582.1h0M34.9 562.6h0M34.9 543.3h0M35 522.9h0M35 698.5h0M35.1 679.5h0M35.1 659.5h0M35.2 639.9h0M35.2 619.4h0M35.3 580.1h0M35.4 559.6h0M35.4 539.8h0M35.5 520.1h0M35.5 695h0M35.6 675h0M35.6 654.5h0M35.7 634.8h0M35.7 614.6h0M35.8 573.9h0M35.8 553.7h0M35.9 533.1h0M35.9 708.4h0M36 687.9h0M36 667.8h0M36.1 647h0M36.1 626.8h0M36.2 585.3h0M36.3 564.1h0M36.3 543.8h0M36.4 523.4h0M36.4 698.2h0M36.5 677.1h0M36.5 656.1h0M36.6 635.4h0M36.6 614.9h0M36.7 573.3h0M36.7 552.1h0M36.8 531.7h0M36.8 705.8h0M36.9 684.3h0M36.9 663.6h0M37 642h0M37 621.4h0M37.1 578.2h0M37.2 557.9h0M37.2 536.2h0M37.3 709.7h0M37.3 688.8h0M37.4 667.6h0M37.4 645.3h0M37.5 624.2h0M37.6 581.6h0M37.6 559.8h0M37.6 537.7h0M37.7 516h0M37.7 689.9h0M37.8 668.6h0M37.8 646.8h0M37.9 624.8h0M38 580.4h0M38 559.8h0M38.1 536.8h0M38.1 515h0M38.2 689h0M38.2 666.9h0M38.3 643.9h0M38.3 622.9h0M38.4 578.7h0M38.5 555.3h0M38.5 534.1h0M38.5 707h0M38.6 684.9h0M38.6 662.4h0M38.7 640.2h0M38.7 617.8h0M38.8 573.2h0M38.9 550.4h0M38.9 527.6h0M39 700h0M39 678.1h0M39.1 655.2h0M39.1 632.3h0M39.2 586.3h0M39.3 564.3h0M39.3 541h0M39.4 518.9h0M39.4 691.1h0M39.4 668.6h0M39.5 645.5h0M39.5 621.9h0M39.6 576.4h0M39.7 553.1h0M39.7 530h0M39.8 701.9h0M39.8 679.3h0M39.9 655.7h0M39.9 632.5h0M40 585.6h0M40.1 562.4h0M40.1 539.6h0M40.2 515.4h0M40.2 687.3h0M40.3 664.3h0M40.3 640h0M40.3 616.9h0M40.4 593.7h0M40.4 569.8h0M40.5 546.6h0M40.5 522.1h0M40.6 694.2h0M40.6 670h0M40.7 646.2h0M40.7 622.6h0M40.8 574.1h0M40.9 550.2h0M40.9 526.5h0M41 698.3h0M41 674.4h0M41.1 650.1h0M41.1 625.3h0M41.2 577.5h0M41.2 553.6h0M41.3 528.9h0M41.3 700.4h0M41.4 675.8h0M41.4 651.2h0M41.5 626.7h0M41.6 578.2h0M41.6 553.5h0M41.7 528.5h0M41.7 699.8h0M41.8 675.7h0M41.8 650.2h0M41.9 625.9h0M42 576.6h0M42 551.7h0M42.1 527h0M42.1 697.4h0M42.1 672.8h0M42.2 648.1h0M42.2 623.3h0M42.3 572.8h0M42.4 547.8h0M42.4 521.9h0M42.5 692.6h0M42.5 667.4h0M42.6 642.7h0M42.6 617.2h0M42.7 591.9h0M42.7 566.7h0M42.8 541.3h0M42.8 515.9h0M42.9 686.5h0M42.9 660.8h0M43 635h0M43 584.3h0M43.1 558.4h0M43.1 533.2h0M43.2 702.9h0M43.2 676.8h0M43.3 651.4h0M43.3 625.1h0M43.4 573.7h0M43.5 547.8h0M43.5 522.9h0M43.6 691.8h0M43.6 666.2h0M43.7 640h0M43.8 587.4h0M43.8 561.7h0M43.9 535h0M43.9 705h0M43.9 678.7h0M44 652.4h0M44 625.9h0M44.1 573.7h0M44.2 547.2h0M44.2 521.1h0M44.3 689.4h0M44.3 663.1h0M44.4 636.7h0M44.5 583.8h0M44.5 557.2h0M44.6 530.2h0M44.6 699.4h0M44.7 672.7h0M44.7 645.3h0M44.8 592.1h0M44.8 564.9h0M44.9 538.5h0M44.9 706.9h0M45 679.9h0M45 652.6h0M45.1 626.1h0M45.2 572h0M45.2 544.9h0M45.3 517.7h0M45.3 685.8h0M45.4 658.3h0M45.4 631.6h0M45.5 576.8h0M45.6 549.2h0M45.6 521.7h0M45.7 690.4h0M45.7 662.4h0M45.7 635.3h0M45.8 580.2h0M45.9 552.6h0M45.9 524.8h0M46 692.5h0M46 665h0M46.1 636.9h0M46.2 581.4h0M46.2 553.5h0M46.3 525.4h0M46.3 693.4h0M46.4 665.3h0M46.4 637.3h0M46.5 581.1h0M46.6 553.3h0M46.6 525.2h0M46.6 692.5h0M46.7 664.1h0M46.7 635.8h0M46.8 579.5h0M46.9 550.8h0M46.9 522.5h0M47 689.8h0M47 661.3h0M47.1 632.6h0M47.2 575.6h0M47.2 547.2h0M47.3 518.3h0M47.3 684.8h0M47.4 656.6h0M47.4 628.5h0M47.5 570.7h0M47.5 542.1h0M47.6 709.1h0M47.6 679.4h0M47.7 650.3h0M47.7 621.3h0M47.8 564h0M47.9 534.5h0M47.9 700.9h0M48 671.8h0M48 642.6h0M48.1 583.8h0M48.2 555.2h0M48.2 525.5h0M48.3 692.1h0M48.3 662.5h0M48.4 633.2h0M48.4 574.1h0M48.5 544.5h0M48.5 515.5h0M48.6 681.7h0M48.6 651.7h0M48.7 622.1h0M48.7 592.1h0M48.8 562.5h0M48.8 532.8h0M48.9 698.4h0M48.9 669.5h0M49 639.1h0M49.1 579h0M49.1 549h0M49.2 519h0M49.2 684.3h0M49.3 654.7h0M49.3 624.3h0M49.4 563.8h0M49.4 533.8h0M49.5 699h0M49.5 668.9h0M49.6 638.9h0M49.7 577.9h0M49.7 547.5h0M49.8 517h0M49.8 682.2h0M49.9 652h0M49.9 621.2h0M50 590.4h0M50 559.8h0M50.1 530h0M50.1 694.3h0M50.2 663.9h0M50.2 633.1h0M50.3 571.1h0M50.3 540.6h0M50.4 705h0M50.4 674.3h0M50.5 643.2h0M50.6 581.4h0M50.6 549.8h0M50.7 519.1h0M50.7 683.8h0M50.8 652h0M50.8 620.9h0M50.9 589.6h0M50.9 558.4h0M51 527.7h0M51 691.4h0M51.1 659.9h0M51.1 628.4h0M51.2 566.1h0M51.2 534.1h0M51.3 698.2h0M51.3 666.5h0M51.4 635.1h0M51.5 571.7h0M51.5 539.8h0M51.6 703.9h0M51.6 671.9h0M51.7 640.4h0M51.8 576.5h0M51.8 545h0M51.9 707.8h0M51.9 676.4h0M52 644.1h0M52 580.5h0M52.1 547.7h0M52.1 516.2h0M52.2 679.7h0M52.2 646.9h0M52.3 582.2h0M52.4 550.3h0M52.4 517.6h0M52.5 680.7h0M52.5 648.2h0M52.6 615.7h0M52.6 583.4h0M52.7 550.7h0M52.7 518.2h0M52.8 681.5h0M52.8 648.5h0M52.9 583.5h0M52.9 550h0M53 517.3h0M53 680.5h0M53.1 647.5h0M53.2 581.9h0M53.2 548.6h0M53.3 515.4h0M53.3 678.3h0M53.4 645.1h0M53.5 578.8h0M53.5 545.7h0M53.6 708h0M53.6 674.6h0M53.7 642.4h0M53.8 575.2h0M53.8 542h0M53.8 704.2h0M53.9 669.9h0M53.9 637.4h0M54 570.5h0M54.1 536.3h0M54.1 698.1h0M54.2 664.9h0M54.2 630.7h0M54.3 563.3h0M54.4 529.6h0M54.4 691.7h0M54.5 657.7h0M54.5 623.8h0M54.6 590h0M54.6 556.7h0M54.7 522h0M54.7 683.7h0M54.7 649.4h0M54.8 615.5h0M54.8 581.2h0M54.9 547.5h0M54.9 708.2h0M55 674.3h0M55 639.8h0M55.1 570.6h0M55.2 536.8h0M55.2 698.7h0M55.3 664h0M55.3 629.6h0M55.4 594.5h0M55.4 559.9h0M55.5 525.6h0M55.5 686.7h0M55.6 651.7h0M55.6 617.2h0M55.6 582.6h0M55.7 547.5h0M55.7 708.9h0M55.8 673.5h0M55.8 638.8h0M55.9 569.2h0M56 534.7h0M56 694.6h0M56.1 659.9h0M56.1 625h0M56.2 589.9h0M56.2 554.7h0M56.3 519.5h0M56.3 680h0M56.4 644.4h0M56.5 574.1h0M56.5 539.5h0M56.5 698.5h0M56.6 663.3h0M56.6 628.8h0M56.7 592.9h0M56.7 557.7h0M56.8 521.7h0M56.8 682h0M56.9 646.5h0M57 575.1h0M57 539.2h0M57.1 698.8h0M57.1 663.1h0M57.2 627.6h0M57.2 591.2h0M57.3 555.7h0M57.3 520h0M57.4 679.1h0M57.4 643.5h0M57.5 571.4h0M57.5 535.2h0M57.6 695.1h0M57.6 657.9h0M57.7 622.5h0M57.7 586.3h0M57.8 550.4h0M57.8 709.1h0M57.9 673.2h0M57.9 636.4h0M58 563.5h0M58.1 527.3h0M58.1 685.9h0M58.2 649.8h0M58.3 576.6h0M58.3 540.1h0M58.3 698.7h0M58.4 662.5h0M58.4 625.9h0M58.5 588.3h0M58.5 552.1h0M58.6 515.1h0M58.6 673.6h0M58.7 636.9h0M58.8 562.9h0M58.8 526.1h0M58.9 684.2h0M58.9 647.4h0M59 572.8h0M59.1 536.3h0M59.1 694.6h0M59.2 656.7h0M59.2 619.3h0M59.3 582.3h0M59.3 544.9h0M59.3 703.6h0M59.4 665.9h0M59.4 627.9h0M59.5 591.1h0M59.5 553.6h0M59.6 515.6h0M59.6 673.4h0M59.7 636.2h0M59.8 560.3h0M59.8 522.8h0M59.9 680.7h0M59.9 642.8h0M60 567.6h0M60.1 529.5h0M60.1 686.8h0M60.2 648.8h0M60.2 573.2h0M60.3 535h0M60.3 692.7h0M60.4 653.8h0M60.4 615.8h0M60.5 577.5h0M60.5 539.6h0M60.6 696.5h0M60.6 658.8h0M60.7 619.9h0M60.7 581.8h0M60.8 543.2h0M60.8 700.7h0M60.9 661.8h0M60.9 623.3h0M61 584.8h0M61 546.2h0M61.1 702.9h0M61.1 664.2h0M61.1 625.4h0M61.2 586.8h0M61.2 548.4h0M61.3 705.6h0M61.3 666.1h0M61.4 627.8h0M61.4 587.9h0M61.5 549.9h0M61.5 706.7h0M61.6 667.7h0M61.6 628h0M61.7 589h0M61.7 549.8h0M61.8 706.2h0M61.8 667.4h0M61.9 627.7h0M61.9 588.9h0M62 549.9h0M62 705.4h0M62 666.2h0M62.1 627.2h0M62.1 587.6h0M62.2 547.8h0M62.2 703.9h0M62.3 664.9h0M62.3 624.8h0M62.4 586.3h0M62.4 545.9h0M62.5 701.6h0M62.5 662.1h0M62.6 622.3h0M62.6 583.1h0M62.7 542.9h0M62.7 698.4h0M62.8 658.9h0M62.8 618.7h0M62.9 578.6h0M62.9 539h0M62.9 694.5h0M63 654h0M63 614.5h0M63.1 574.7h0M63.1 534.2h0M63.2 689.2h0M63.2 649h0M63.3 568.5h0M63.4 528.4h0M63.4 683.6h0M63.5 642.8h0M63.6 562.3h0M63.6 521.7h0M63.7 676.7h0M63.7 636h0M63.8 595.9h0M63.8 555.1h0M63.8 514.6h0M63.9 669.7h0M63.9 628.3h0M64 587.4h0M64 547.1h0M64.1 701.9h0M64.1 661h0M64.2 620.1h0M64.2 578.9h0M64.3 538.3h0M64.3 692.8h0M64.4 651.6h0M64.5 569.9h0M64.5 528.3h0M64.6 682.6h0M64.6 641.5h0M64.7 559.2h0M64.7 517.9h0M64.8 672h0M64.8 631h0M64.9 588.9h0M64.9 548.2h0M65 701.7h0M65 660h0M65.1 619h0M65.1 577.2h0M65.2 535.6h0M65.2 689.4h0M65.3 648.1h0M65.4 564.7h0M65.4 522.3h0M65.5 676.4h0M65.5 633.9h0M65.6 592.5h0M65.6 550.3h0M65.6 703.8h0M65.7 662.9h0M65.7 619.8h0M65.8 578.1h0M65.8 535.7h0M65.9 689.4h0M65.9 646.9h0M66 562.4h0M66.1 520.4h0M66.1 673.7h0M66.2 631.6h0M66.2 589.1h0M66.3 547.2h0M66.3 699.3h0M66.4 657.2h0M66.5 571.9h0M66.5 530.4h0M66.5 682.7h0M66.6 640.1h0M66.7 553.9h0M66.7 707.3h0M66.8 664.6h0M66.8 621.6h0M66.9 578.6h0M66.9 536h0M67 688.9h0M67 645.7h0M67.1 560.5h0M67.2 516.7h0M67.2 669.1h0M67.3 626.1h0M67.3 582.5h0M67.4 539.3h0M67.4 692.1h0M67.4 648.4h0M67.5 561.9h0M67.6 518.4h0M67.6 670.8h0M67.7 627.5h0M67.7 584h0M67.8 540.8h0M67.8 692.5h0M67.9 648.5h0M68 561.5h0M68 517.9h0M68.1 669.6h0M68.1 626.2h0M68.2 582.6h0M68.2 538.4h0M68.3 690h0M68.3 646.2h0M68.4 558.3h0M68.4 514.5h0M68.5 665.6h0M68.5 621.5h0M68.6 577.6h0M68.6 533.9h0M68.7 685.4h0M68.7 641h0M68.8 596.2h0M68.8 551.6h0M68.9 703.7h0M68.9 658.9h0M69 570.3h0M69.1 526h0M69.1 677.5h0M69.2 632.4h0M69.2 588.3h0M69.2 543.5h0M69.3 694.1h0M69.3 649.8h0M69.4 560.5h0M69.5 515.4h0M69.5 666.1h0M69.6 621.9h0M69.6 576.7h0M69.7 531.9h0M69.7 682.4h0M69.8 637.2h0M69.9 547.3h0M69.9 698h0M70 652.9h0M70.1 562.6h0M70.1 517.6h0M70.1 667.5h0M70.2 622.8h0M70.2 577.5h0M70.3 531.6h0M70.3 682h0M70.4 636.4h0M70.4 591h0M70.5 545.9h0M70.5 695.7h0M70.6 650.1h0M70.7 558.9h0M70.7 709h0M70.8 663.3h0M70.8 617h0M70.9 571.7h0M70.9 526h0M71 675.8h0M71 630.1h0M71 584.1h0M71.1 538.2h0M71.1 688.1h0M71.2 641.9h0M71.2 595.9h0M71.3 549.6h0M71.3 699.1h0M71.4 653.1h0M71.5 560.4h0M71.5 709.9h0M71.6 664.1h0M71.6 618h0M71.7 570.8h0M71.7 524.6h0M71.8 673.8h0M71.8 627.6h0M71.9 581h0M71.9 534.8h0M71.9 683.5h0M72 637h0M72 590.4h0M72.1 544.1h0M72.1 692.8h0M72.2 645.9h0M72.3 552.2h0M72.3 700.9h0M72.4 654.3h0M72.5 560.4h0M72.5 708.8h0M72.6 662h0M72.7 568.4h0M72.7 520.8h0M72.8 669.1h0M72.8 622.4h0M72.8 575.4h0M72.9 528.4h0M72.9 676.4h0M73 628.7h0M73 581.3h0M73.1 534.5h0M73.1 682.3h0M73.2 634.6h0M73.2 587.6h0M73.3 540.1h0M73.3 688.2h0M73.4 640.3h0M73.4 593.3h0M73.5 545h0M73.5 692.9h0M73.6 645.7h0M73.7 550.1h0M73.7 697.8h0M73.7 649.6h0M73.8 553.9h0M73.9 701.8h0M73.9 653.2h0M74 557.3h0M74.1 705.3h0M74.1 656.1h0M74.2 560.8h0M74.3 707.5h0M74.3 659.6h0M74.4 563.2h0M74.5 710h0M74.5 661.7h0M74.6 565h0M74.6 516.7h0M74.7 663.3h0M74.8 566h0M74.8 517h0M74.9 664.3h0M74.9 616.4h0M75 566.8h0M75 518.1h0M75.1 665h0M75.1 616.1h0M75.2 567.4h0M75.2 518.3h0M75.3 665.7h0M75.3 616.1h0M75.4 567.2h0M75.4 518h0M75.5 664.4h0M75.5 615.5h0M75.5 565.5h0M75.6 516.6h0M75.6 663.7h0M75.7 564.9h0M75.8 515.2h0M75.8 661.4h0M75.9 562.8h0M76 708.6h0M76 659.2h0M76.1 560.9h0M76.2 706.8h0M76.2 657h0M76.3 557.5h0M76.4 703.2h0M76.4 652.7h0M76.5 554.1h0M76.5 699.4h0M76.6 649.2h0M76.7 549.9h0M76.7 695.2h0M76.8 645.1h0M76.8 595.3h0M76.9 544.9h0M76.9 690.7h0M77 640h0M77 589.8h0M77.1 539.7h0M77.1 685.1h0M77.2 634.5h0M77.2 584.3h0M77.3 533.9h0M77.3 678.9h0M77.3 629h0M77.4 578h0M77.4 527.5h0M77.5 672.7h0M77.5 622h0M77.6 571.5h0M77.6 520.7h0M77.7 665.3h0M77.8 563.9h0M77.8 708.4h0M77.9 657.6h0M78 555.9h0M78 701h0M78.1 650.1h0M78.2 548.3h0M78.2 692.3h0M78.2 640.9h0M78.3 589.9h0M78.3 539h0M78.4 683.9h0M78.4 631.5h0M78.5 580.4h0M78.5 529.1h0M78.6 673.5h0M78.6 622.6h0M78.7 570h0M78.7 519.3h0M78.8 663.6h0M78.9 560.4h0M78.9 704.5h0M79 652.4h0M79.1 549.5h0M79.1 692.7h0M79.1 641.8h0M79.2 589.5h0M79.2 537.7h0M79.3 681.5h0M79.3 629.5h0M79.4 577.5h0M79.4 525.5h0M79.5 669.6h0M79.5 617h0M79.6 565.1h0M79.6 708.6h0M79.7 656.3h0M79.8 551.2h0M79.8 695.1h0M79.9 643.1h0M79.9 590.4h0M80 538.7h0M80 681.6h0M80 629.2h0M80.1 576.6h0M80.1 524.1h0M80.2 667.3h0M80.2 614.9h0M80.3 562.3h0M80.3 704.9h0M80.4 652.4h0M80.5 547.1h0M80.5 689.3h0M80.6 636.8h0M80.6 584.3h0M80.7 531.2h0M80.7 673.9h0M80.8 620.9h0M80.8 567.4h0M80.9 514.9h0M80.9 657.4h0M81 551.4h0M81 693.9h0M81.1 640.4h0M81.1 587.2h0M81.2 534.4h0M81.2 676.4h0M81.3 623h0M81.3 569.5h0M81.4 516.8h0M81.4 658.8h0M81.5 551.9h0M81.6 693.8h0M81.6 639.7h0M81.7 586.7h0M81.7 532.2h0M81.8 674.6h0M81.9 567.3h0M81.9 709.1h0M81.9 655.1h0M82 547.5h0M82.1 689.2h0M82.1 635.3h0M82.2 581.6h0M82.2 527.2h0M82.3 668.9h0M82.4 560.1h0M82.4 702.2h0M82.5 648h0M82.5 593.9h0M82.6 539.8h0M82.6 680.6h0M82.7 626.1h0M82.7 572.1h0M82.8 517.7h0M82.8 659.3h0M82.9 550.3h0M82.9 690.9h0M83 637h0M83 581.4h0M83.1 527.5h0M83.1 668.5h0M83.2 559.1h0M83.3 700h0M83.3 644.8h0M83.4 590.2h0M83.4 535.2h0M83.5 675.5h0M83.5 621h0M83.6 566.3h0M83.6 706.9h0M83.7 651.4h0M83.7 596.4h0M83.7 541.1h0M83.8 681.7h0M83.8 626.3h0M83.9 571.2h0M83.9 516h0M84 656.1h0M84.1 545.6h0M84.1 685.8h0M84.2 631.1h0M84.2 575.2h0M84.3 519.4h0M84.3 659.7h0M84.4 548.4h0M84.5 688.3h0M84.5 632.6h0M84.6 576.6h0M84.6 521.1h0M84.6 661h0M84.7 549.4h0M84.8 689.4h0M84.8 632.9h0M84.9 577.5h0M84.9 521.6h0M85 661h0M85.1 548.7h0M85.1 688.2h0M85.2 632.3h0M85.2 576.1h0M85.3 519.3h0M85.3 658.8h0M85.4 546.5h0M85.5 685.3h0M85.5 629.5h0M85.5 573h0M85.6 516.6h0M85.6 655.9h0M85.7 542h0M85.8 681.5h0M85.8 625.2h0M85.9 568.3h0M85.9 707.2h0M86 650.5h0M86 593.7h0M86.1 536.5h0M86.1 675.8h0M86.2 618.4h0M86.2 561.8h0M86.3 700.6h0M86.3 643.5h0M86.4 586.6h0M86.4 529.2h0M86.4 667.6h0M86.5 553.8h0M86.6 691.9h0M86.6 634.8h0M86.7 577.6h0M86.7 520.3h0M86.8 658.8h0M86.9 543.9h0M86.9 682h0M87 624.8h0M87 567.4h0M87.1 705.1h0M87.1 647.9h0M87.2 590.5h0M87.2 532.4h0M87.3 670.7h0M87.3 555.4h0M87.4 692.8h0M87.4 635.2h0M87.5 577.3h0M87.5 519.2h0M87.6 657.1h0M87.7 541.5h0M87.7 678.8h0M87.8 621.3h0M87.8 562.7h0M87.9 700.5h0M87.9 641.9h0M88 584.1h0M88 525.9h0M88.1 663.1h0M88.2 547h0M88.2 683.4h0M88.2 625.4h0M88.3 566.6h0M88.3 704.3h0M88.4 645.8h0M88.4 586.9h0M88.5 528.2h0M88.5 665.5h0M88.6 547.8h0M88.7 684.7h0M88.7 626.3h0M88.8 567.7h0M88.8 704h0M88.9 645.4h0M88.9 586.8h0M89 527.4h0M89 664.1h0M89.1 546.4h0M89.1 682.8h0M89.2 624.1h0M89.2 565.3h0M89.3 701h0M89.3 642.6h0M89.4 583.4h0M89.4 524.2h0M89.5 659.9h0M89.6 541.6h0M89.6 677.2h0M89.7 617.7h0M89.7 558.4h0M89.8 694.7h0M89.8 636h0M89.9 575.6h0M89.9 516.4h0M90 651.6h0M90 532.9h0M90.1 669.2h0M90.2 549.1h0M90.2 684.8h0M90.3 624.8h0M90.3 564.9h0M90.4 700.9h0M90.4 640.9h0M90.5 580.5h0M90.5 521.3h0M90.6 656.2h0M90.7 536.1h0M90.7 671.4h0M90.8 551.1h0M90.9 686.1h0M90.9 626.4h0M90.9 566h0M91 700.6h0M91 640.9h0M91.1 580.3h0M91.1 519.5h0M91.2 654.9h0M91.2 594.3h0M91.3 533.3h0M91.3 668.5h0M91.4 546.9h0M91.5 681.9h0M91.5 621.3h0M91.6 560.6h0M91.6 695.5h0M91.7 634.6h0M91.7 573.6h0M91.8 708.1h0M91.8 647.2h0M91.8 586.1h0M91.9 525.4h0M91.9 659.8h0M92 536.9h0M92.1 671.4h0M92.2 550.3h0M92.2 683.6h0M92.3 623h0M92.3 561.3h0M92.4 695.3h0M92.4 634.1h0M92.5 572.5h0M92.5 706.5h0M92.6 644.8h0M92.6 583.7h0M92.7 522.1h0M92.7 656.2h0M92.7 593.9h0M92.8 532.8h0M92.8 667.1h0M92.9 543.3h0M93 677.1h0M93.1 552.9h0M93.1 686.7h0M93.2 624.9h0M93.2 562.8h0M93.3 696.1h0M93.3 634.2h0M93.4 572.7h0M93.4 705.1h0M93.5 644.1h0M93.5 581.3h0M93.6 519.1h0M93.6 652.8h0M93.6 590.2h0M93.7 527.5h0M93.7 661.3h0M93.8 536.1h0M93.9 669.5h0M94 544.2h0M94 677.4h0M94.1 552h0M94.2 684.6h0M94.2 622h0M94.3 559h0M94.3 692.2h0M94.4 628.9h0M94.4 566.4h0M94.5 698.5h0M94.5 636h0M94.5 573.1h0M94.6 706h0M94.6 643.4h0M94.7 580.5h0M94.7 516.8h0M94.8 649.5h0M94.8 586.4h0M94.9 522.7h0M94.9 655.1h0M95 528.6h0M95.1 660.9h0M95.2 534.5h0M95.2 666.2h0M95.3 539.5h0M95.4 671.7h0M95.4 544.3h0M95.5 676.3h0M95.6 548.4h0M95.6 680.9h0M95.7 553.3h0M95.8 684.5h0M95.8 620.8h0M95.9 556.8h0M95.9 688.1h0M96 624.5h0M96 560.6h0M96.1 691.9h0M96.1 628h0M96.2 563.7h0M96.2 695.7h0M96.3 630.7h0M96.3 566.6h0M96.3 698h0M96.4 634h0M96.4 569.9h0M96.5 700.5h0M96.5 636.3h0M96.6 572h0M96.6 702.4h0M96.7 638.7h0M96.7 573.9h0M96.8 705.3h0M96.8 640.3h0M96.9 575.5h0M96.9 706.2h0M97 642h0M97 577.5h0M97.1 708.4h0M97.1 643.3h0M97.2 578h0M97.2 709.1h0M97.2 643.8h0M97.3 579.1h0M97.3 709.9h0M97.4 644.9h0M97.4 579.8h0M97.5 514.9h0M97.5 645.3h0M97.6 580.2h0M97.6 515.1h0M97.7 645.6h0M97.7 579.9h0M97.8 515h0M97.8 644.8h0M97.9 579.6h0M97.9 709.8h0M98 644.4h0M98 578.2h0M98.1 708.5h0M98.1 643.2h0M98.1 577.3h0M98.2 708.1h0M98.2 642.1h0M98.3 576.3h0M98.3 706.5h0M98.4 640.1h0M98.4 574.8h0M98.5 705.2h0M98.5 639h0M98.6 572.9h0M98.6 701.9h0M98.7 636.3h0M98.7 570.5h0M98.8 699.9h0M98.8 634.4h0M98.9 568.4h0M98.9 697.4h0M99 631.1h0M99 565.1h0M99 694.7h0M99.1 628.1h0M99.1 562.1h0M99.2 691.7h0M99.2 624.5h0M99.3 558.8h0M99.3 687.1h0M99.4 620.9h0M99.4 554h0M99.5 683.7h0M99.5 617.2h0M99.6 550h0M99.6 679.5h0M99.7 545.6h0M99.8 675.1h0M99.9 541.3h0M99.9 670.3h0M100 536.3h0M100 664.8h0M100.1 530.9h0M100.2 659.4h0M100.2 592.2h0M100.3 524.9h0M100.3 653.6h0M100.4 586.5h0M100.4 518.6h0M100.5 647.4h0M100.5 579.7h0M100.6 708.9h0M100.6 641.3h0M100.7 573.9h0M100.7 701.7h0M100.8 634.3h0M100.8 566.6h0M100.8 694.7h0M100.9 627.3h0M100.9 559.6h0M101 687.4h0M101 619.9h0M101.1 553h0M101.1 680.1h0M101.2 544.8h0M101.3 672.5h0M101.4 536.3h0M101.4 664.1h0M101.5 596h0M101.5 527.9h0M101.6 655.5h0M101.6 587.6h0M101.7 519.9h0M101.7 646.7h0M101.7 578.9h0M101.8 706h0M101.8 637.8h0M101.9 569.3h0M101.9 697h0M102 628.2h0M102 560.1h0M102.1 686.7h0M102.1 618.8h0M102.2 550.3h0M102.2 677.3h0M102.3 539.9h0M102.4 666.5h0M102.5 529.2h0M102.5 655.8h0M102.6 588h0M102.6 519.1h0M102.7 645.4h0M102.7 576.7h0M102.7 703.8h0M102.8 634.6h0M102.8 565.9h0M102.9 691.5h0M102.9 623.4h0M103 554h0M103 680.4h0M103.1 542.3h0M103.2 668.4h0M103.3 529h0M103.3 656.5h0M103.4 587.1h0M103.4 517.7h0M103.5 644h0M103.5 574.5h0M103.6 700.3h0M103.6 630.7h0M103.6 561.1h0M103.7 686.9h0M103.8 548h0M103.8 674h0M103.9 534h0M104 660.2h0M104 590.2h0M104.1 520.5h0M104.1 646h0M104.2 575.5h0M104.2 701.3h0M104.3 631.8h0M104.3 561.7h0M104.4 687.1h0M104.4 617.1h0M104.5 546.4h0M104.5 672.4h0M104.6 531.7h0M104.6 656.8h0M104.7 587.1h0M104.7 516.4h0M104.8 641.3h0M104.8 570.8h0M104.9 696.1h0M104.9 625.6h0M105 555h0M105 679.7h0M105.1 539.6h0M105.2 663.9h0M105.2 592.8h0M105.3 522h0M105.3 647.9h0M105.4 576.5h0M105.4 701.5h0M105.4 629.6h0M105.5 559.8h0M105.5 683.5h0M105.6 542.8h0M105.7 666.7h0M105.8 524.9h0M105.8 649.4h0M105.9 577.8h0M105.9 702.1h0M106 631h0M106 559.4h0M106.1 683.7h0M106.2 541.4h0M106.2 665.3h0M106.3 593.8h0M106.3 522h0M106.3 646.7h0M106.4 575.1h0M106.4 698.7h0M106.5 627.2h0M106.5 555.4h0M106.6 679.4h0M106.7 535.5h0M106.7 659.6h0M106.8 588.2h0M106.8 516.5h0M106.9 639.5h0M106.9 567.9h0M107 691.2h0M107.1 547.1h0M107.1 670h0M107.2 526.7h0M107.2 649.6h0M107.3 577.8h0M107.3 700.5h0M107.4 628.9h0M107.4 556.4h0M107.5 679.1h0M107.6 534.6h0M107.6 657.8h0M107.7 585.4h0M107.7 708.1h0M107.8 636.1h0M107.8 563.2h0M107.9 686.4h0M108 541.3h0M108 663.8h0M108.1 591.2h0M108.1 518.6h0M108.1 641.5h0M108.2 567.9h0M108.2 690.4h0M108.3 618h0M108.3 544.8h0M108.4 667.9h0M108.5 521.1h0M108.5 643.4h0M108.6 570.6h0M108.6 693.2h0M108.7 546.2h0M108.8 668.8h0M108.8 595.8h0M108.9 522h0M108.9 644.1h0M109 571.3h0M109 693h0M109 618.8h0M109.1 546.5h0M109.1 668.3h0M109.2 594.7h0M109.2 520.4h0M109.3 642.9h0M109.3 569.3h0M109.4 690.9h0M109.4 617.5h0M109.5 543.5h0M109.5 665.4h0M109.6 591.4h0M109.6 517.2h0M109.7 639.3h0M109.7 565.4h0M109.8 687.1h0M109.9 538.6h0M109.9 659.9h0M109.9 585.6h0M110 707h0M110 633.8h0M110.1 559.3h0M110.1 680.5h0M110.2 531.2h0M110.3 652.7h0M110.3 578.6h0M110.4 699.2h0M110.4 625.2h0M110.5 550.1h0M110.5 671.5h0M110.6 596.9h0M110.6 522.7h0M110.7 643.2h0M110.7 568.8h0M110.8 689.4h0M110.8 539.8h0M110.9 660.5h0M110.9 585.9h0M111 705.9h0M111 631h0M111.1 556.4h0M111.1 677.4h0M111.2 526.8h0M111.3 647.3h0M111.3 572.4h0M111.4 692.8h0M111.4 617.8h0M111.5 541.8h0M111.5 662.4h0M111.6 587h0M111.6 707.7h0M111.7 631.7h0M111.7 556.6h0M111.7 676.7h0M111.8 525.9h0M111.9 645.8h0M111.9 570.1h0M112 689.7h0M112 614.9h0M112.1 539.1h0M112.1 659h0M112.2 582.8h0M112.2 702.8h0M112.3 627h0M112.3 551h0M112.4 670.1h0M112.5 518.7h0M112.5 638.5h0M112.6 561.9h0M112.6 681.9h0M112.7 529.4h0M112.7 649.1h0M112.8 573h0M112.8 691.6h0M112.9 615.9h0M112.9 539.7h0M113 658.3h0M113 582.2h0M113.1 701h0M113.1 625.5h0M113.2 548.4h0M113.2 667.1h0M113.3 591.7h0M113.3 514.6h0M113.4 633.6h0M113.4 557.1h0M113.5 675.3h0M113.5 522.3h0M113.6 640.8h0M113.6 564.2h0M113.7 682.9h0M113.8 529.2h0M113.8 647.3h0M113.9 569.9h0M113.9 689.6h0M114 535.1h0M114.1 653.2h0M114.1 576.8h0M114.2 694h0M114.2 617.1h0M114.3 539.5h0M114.3 658.4h0M114.4 581.2h0M114.4 699.3h0M114.4 622.4h0M114.5 544.6h0M114.5 662.5h0M114.6 585.5h0M114.6 703.4h0M114.7 625.5h0M114.7 547.9h0M114.8 665.5h0M114.8 587.6h0M114.9 705.8h0M114.9 628.1h0M115 550.5h0M115 667.9h0M115.1 590.3h0M115.1 707.8h0M115.2 630h0M115.2 552.2h0M115.3 669.8h0M115.3 591.7h0M115.3 709.4h0M115.4 631.1h0M115.4 553.3h0M115.5 670.4h0M115.5 591.9h0M115.6 709.2h0M115.6 631h0M115.7 552.8h0M115.7 669.6h0M115.8 591.9h0M115.8 708.8h0M115.9 630.6h0M115.9 551.5h0M116 668.6h0M116 590.4h0M116.1 707.6h0M116.1 629.2h0M116.2 549.6h0M116.2 667.1h0M116.2 588.2h0M116.3 704.2h0M116.3 626.3h0M116.4 547.4h0M116.4 664h0M116.5 585.3h0M116.5 702.2h0M116.6 623.4h0M116.6 543.9h0M116.7 660.6h0M116.7 581.1h0M116.8 697.8h0M116.8 618.6h0M116.9 540.2h0M116.9 655.7h0M117 576.4h0M117 692.5h0M117.1 534.2h0M117.1 650.4h0M117.2 571.1h0M117.2 687h0M117.3 528h0M117.4 645h0M117.4 564.9h0M117.5 680.9h0M117.6 521.4h0M117.6 637.3h0M117.7 557.3h0M117.7 673.1h0M117.8 593.1h0M117.8 709.2h0M117.9 629.1h0M117.9 549.3h0M118 664.9h0M118 585.1h0M118 700.5h0M118.1 620.7h0M118.1 540.4h0M118.2 655.9h0M118.2 575.1h0M118.3 690.4h0M118.4 530.5h0M118.4 645.1h0M118.5 566.1h0M118.5 680.5h0M118.6 519.8h0M118.7 634.9h0M118.7 553.9h0M118.8 669.8h0M118.8 588.4h0M118.9 703.8h0M118.9 623.4h0M118.9 542.3h0M119 657.3h0M119 576.8h0M119.1 691.2h0M119.2 529.7h0M119.2 645h0M119.3 563.3h0M119.3 677.6h0M119.4 597.2h0M119.4 517h0M119.5 631.2h0M119.5 549.4h0M119.6 664.2h0M119.6 583.4h0M119.7 697h0M119.7 616.2h0M119.8 534.7h0M119.8 649h0M119.8 567.8h0M119.9 680.6h0M120 518.2h0M120 633h0M120.1 551.4h0M120.1 665.4h0M120.2 584.2h0M120.2 697.4h0M120.3 534.7h0M120.4 648.4h0M120.4 566.5h0M120.5 680.1h0M120.6 516.7h0M120.6 630.3h0M120.7 548.7h0M120.7 662.2h0M120.7 580h0M120.8 694h0M120.9 529.9h0M120.9 643h0M121 561.1h0M121 674.4h0M121.1 591.8h0M121.1 705h0M121.2 623.1h0M121.2 540.5h0M121.3 654.2h0M121.3 571.3h0M121.4 684.4h0M121.5 519.9h0M121.5 632.6h0M121.6 549.8h0M121.6 663.2h0M121.6 580.1h0M121.7 693.8h0M121.8 528h0M121.8 640.7h0M121.9 558h0M121.9 670.2h0M122 587.4h0M122 699.9h0M122.1 616.9h0M122.1 534.1h0M122.2 646.5h0M122.2 564h0M122.3 676.5h0M122.3 592.9h0M122.4 705.3h0M122.4 622h0M122.5 539h0M122.5 651.1h0M122.5 567.9h0M122.6 680.7h0M122.6 597.1h0M122.7 708.9h0M122.7 625.9h0M122.8 542.3h0M122.8 654.6h0M122.9 570.7h0M122.9 683.1h0M123 515.8h0M123.1 627.1h0M123.1 544.1h0M123.2 655.6h0M123.2 571.7h0M123.3 683.2h0M123.4 515.8h0M123.4 627.5h0M123.4 543.7h0M123.5 655.3h0M123.5 571h0M123.6 682.5h0M123.7 709.7h0M123.7 625.7h0M123.8 541.2h0M123.8 652.4h0M123.9 568.7h0M123.9 679.7h0M124 707.5h0M124.1 622.4h0M124.1 538.2h0M124.2 648.6h0M124.2 564.5h0M124.3 675.1h0M124.3 591.2h0M124.4 702.3h0M124.4 531.8h0M124.5 642.9h0M124.5 558.3h0M124.6 669.6h0M124.6 584.2h0M124.7 695.2h0M124.8 525.6h0M124.8 636.3h0M124.9 551.5h0M124.9 662.2h0M125 577.2h0M125 687.3h0M125.1 516.5h0M125.2 626.7h0M125.2 542.2h0M125.3 653h0M125.3 567h0M125.3 677.2h0M125.4 592.1h0M125.4 702.3h0M125.5 616.6h0M125.5 530.7h0M125.6 641.3h0M125.6 556h0M125.7 666h0M125.7 580.1h0M125.8 690.3h0M125.9 519.4h0M125.9 628.3h0M126 542.7h0M126 652.6h0M126.1 566.9h0M126.1 676.7h0M126.2 590.7h0M126.2 699.4h0M126.3 527.8h0M126.3 637.7h0M126.4 551.2h0M126.4 661.4h0M126.5 574.9h0M126.5 684.5h0M126.6 707.1h0M126.7 620.3h0M126.7 534.3h0M126.8 643.2h0M126.8 557.5h0M126.9 666.5h0M126.9 579.7h0M127 689.3h0M127.1 516.8h0M127.1 625.1h0M127.1 538h0M127.2 647.4h0M127.2 560.6h0M127.3 670h0M127.3 582.7h0M127.4 691.3h0M127.5 517.7h0M127.5 626.6h0M127.6 539.6h0M127.6 647.5h0M127.7 561.2h0M127.7 668.9h0M127.8 582.7h0M127.8 690.3h0M127.9 516.2h0M128 624.8h0M128 537.3h0M128 645h0M128.1 559.1h0M128.1 666.7h0M128.2 579.1h0M128.2 686.9h0M128.3 707.9h0M128.4 620.1h0M128.4 532.7h0M128.5 640.6h0M128.5 553.3h0M128.6 660.9h0M128.6 573.1h0M128.7 680.8h0M128.7 593.6h0M128.8 700.5h0M128.9 525.6h0M128.9 633h0M128.9 545.4h0M129 652.5h0M129 564.9h0M129.1 672.3h0M129.1 584.6h0M129.2 691.7h0M129.3 515.3h0M129.3 622.4h0M129.4 534.8h0M129.4 641h0M129.5 553h0M129.5 660.4h0M129.6 572.2h0M129.6 678.9h0M129.7 590.6h0M129.7 697.9h0M129.8 520.7h0M129.8 627.7h0M129.9 539.4h0M129.9 646.1h0M130 557.5h0M130 664.2h0M130.1 575h0M130.1 681.3h0M130.2 593h0M130.2 699.7h0M130.3 522h0M130.4 628.9h0M130.4 539.6h0M130.5 646.6h0M130.5 556.7h0M130.6 663h0M130.6 574.3h0M130.7 680.5h0M130.7 591.5h0M130.7 698.3h0M130.8 518.9h0M130.9 625.4h0M130.9 535.7h0M131 641.9h0M131 552.7h0M131.1 658.1h0M131.1 569.4h0M131.2 674.9h0M131.2 585.6h0M131.3 691.4h0M131.4 707.3h0M131.4 617.4h0M131.5 528h0M131.5 634.2h0M131.6 544.8h0M131.6 649.8h0M131.6 559.7h0M131.7 665.3h0M131.7 575.3h0M131.8 681.3h0M131.8 590.8h0M131.9 697.4h0M132 516.6h0M132 621.8h0M132.1 531.4h0M132.1 636.4h0M132.2 546.6h0M132.2 651.2h0M132.3 561.2h0M132.3 666h0M132.4 576.1h0M132.4 681.4h0M132.5 590.6h0M132.5 695.9h0M132.6 709.5h0M132.6 619.8h0M132.7 528.9h0M132.7 634.1h0M132.8 542.8h0M132.8 647.4h0M132.9 556.9h0M132.9 661.4h0M133 570.5h0M133 675.4h0M133.1 584.2h0M133.1 689.5h0M133.2 702.5h0M133.3 520h0M133.4 624.8h0M133.4 533.9h0M133.4 638h0M133.5 546.8h0M133.5 651.2h0M133.6 560.1h0M133.6 663.7h0M133.7 572.8h0M133.7 676.6h0M133.8 585.1h0M133.8 689.2h0M133.9 701.5h0M134 518h0M134.1 622.4h0M134.1 531h0M134.2 634.6h0M134.2 542.4h0M134.3 646.7h0M134.3 554.9h0M134.3 658.1h0M134.4 565.7h0M134.4 670.1h0M134.5 577.7h0M134.5 681.1h0M134.6 589.7h0M134.6 693.2h0M134.7 703.8h0M134.8 520.1h0M134.9 622.6h0M134.9 530.7h0M135 633.7h0M135 542h0M135.1 645.1h0M135.1 552.1h0M135.2 655.4h0M135.2 562.9h0M135.2 666.4h0M135.3 573.4h0M135.3 676.6h0M135.4 583.9h0M135.4 687.1h0M135.5 697.1h0M135.6 706.2h0M135.7 520.7h0M135.8 623.7h0M135.8 531.2h0M135.9 633.5h0M135.9 540.9h0M136 642.9h0M136 549.7h0M136.1 652.3h0M136.1 559.1h0M136.1 661.7h0M136.2 568.6h0M136.2 671.3h0M136.3 577.4h0M136.3 679.5h0M136.4 586.2h0M136.4 688.6h0M136.5 595h0M136.5 697.1h0M136.6 705.4h0M136.7 518.8h0M136.8 620.5h0M136.8 526.6h0M136.9 629.2h0M136.9 535h0M137 636.4h0M137 543.1h0M137 645.3h0M137.1 551h0M137.1 652.7h0M137.2 558.6h0M137.2 660.3h0M137.3 566.4h0M137.3 667.6h0M137.4 573.4h0M137.4 675.2h0M137.5 581h0M137.5 682.8h0M137.6 587.6h0M137.6 689.7h0M137.7 595.2h0M137.7 696.5h0M137.8 703.5h0M137.9 709.9h0M137.9 615h0M138 521h0M138 622.1h0M138.1 527.2h0M138.1 627.9h0M138.2 533.6h0M138.2 634.4h0M138.3 539.5h0M138.3 640.2h0M138.4 545.7h0M138.4 646.9h0M138.5 551.3h0M138.5 652.6h0M138.6 557.1h0M138.6 657.9h0M138.7 562.8h0M138.7 663.2h0M138.8 568.3h0M138.8 668.9h0M138.8 573.7h0M138.9 673.8h0M138.9 578.6h0M139 679.2h0M139 583.8h0M139.1 683.6h0M139.1 588.7h0M139.2 688.9h0M139.2 593.8h0M139.3 693.7h0M139.4 698.1h0M139.5 703h0M139.6 706.7h0M139.7 515.4h0M139.7 615.4h0M139.7 519.6h0M139.8 618.9h0M139.8 523.7h0M139.9 623.1h0M139.9 526.6h0M140 626.7h0M140 530.7h0M140.1 629.8h0M140.1 534.2h0M140.2 633.6h0M140.2 537.3h0M140.3 636.5h0M140.3 540.8h0M140.4 639.8h0M140.4 544.1h0M140.5 643.1h0M140.5 546.5h0M140.6 645.8h0M140.6 549.1h0M140.6 648h0M140.7 552.4h0M140.7 650.7h0M140.8 554.2h0M140.8 653.3h0M140.9 556.6h0M140.9 655.7h0M141 558.7h0M141 657.6h0M141.1 560.4h0M141.1 660.2h0M141.2 563.1h0M141.2 661.4h0M141.3 564.3h0M141.3 663.6h0M141.4 566.6h0M141.4 665h0M141.5 567.7h0M141.5 666.5h0M141.5 568.9h0M141.6 667.1h0M141.6 570.5h0M141.7 668.4h0M141.7 572h0M141.8 670.1h0M141.8 572.3h0M141.9 670.4h0M141.9 573.7h0M142 671.6h0M142 573.9h0M142.1 672.1h0M142.1 574.8h0M142.2 672.5h0M142.2 574.7h0M142.3 673h0M142.3 575.6h0M142.4 672.7h0M142.4 575.5h0M142.4 673.8h0M142.5 575.3h0M142.5 672.8h0M142.6 574.9h0M142.6 672.6h0M142.7 575h0M142.7 672.5h0M142.8 574.4h0M142.8 671.6h0M142.9 573.9h0M142.9 671.9h0M143 573h0M143 670.7h0M143.1 572.6h0M143.1 669.9h0M143.2 571.3h0M143.2 668.8h0M143.3 570.4h0M143.3 667.6h0M143.3 568.9h0M143.4 666.6h0M143.4 567.7h0M143.5 664.7h0M143.5 566.3h0M143.6 662.8h0M143.6 564.2h0M143.7 661.6h0M143.7 562.5h0M143.8 659.9h0M143.8 560.4h0M143.9 657.3h0M143.9 559h0M144 655.3h0M144 556.5h0M144.1 653.4h0M144.1 554.7h0M144.2 650.9h0M144.2 551.6h0M144.2 648.1h0M144.3 549.2h0M144.3 645.5h0M144.4 546.8h0M144.4 643h0M144.5 543.6h0M144.5 639.9h0M144.6 540.9h0M144.6 637.2h0M144.7 537.1h0M144.7 633.6h0M144.8 534h0M144.8 630.5h0M144.9 531.1h0M144.9 626.4h0M145 527h0M145 622.8h0M145.1 523.6h0M145.1 619.4h0M145.2 519.5h0M145.2 615.9h0M145.2 515.9h0M145.3 707h0M145.4 702.5h0M145.5 698.2h0M145.6 693.4h0M145.7 689.1h0M145.8 588.7h0M145.8 684.2h0M145.9 584.1h0M145.9 679.1h0M146 579h0M146 674.1h0M146.1 574.3h0M146.1 668.8h0M146.1 568.2h0M146.2 663.4h0M146.2 562.7h0M146.3 657.7h0M146.3 557h0M146.4 652.7h0M146.4 551.9h0M146.5 646.7h0M146.5 546h0M146.6 640.8h0M146.6 539.9h0M146.7 634.9h0M146.7 533.6h0M146.8 628.6h0M146.8 527.6h0M146.9 622.5h0M146.9 521.1h0M147 615.3h0M147 709.9h0M147.1 703.9h0M147.2 696.8h0M147.3 689.9h0M147.3 588.4h0M147.4 682.5h0M147.4 581.4h0M147.5 675.4h0M147.5 573.8h0M147.6 668.1h0M147.6 566.2h0M147.7 660.5h0M147.7 558.8h0M147.8 652.6h0M147.8 551.4h0M147.9 645h0M147.9 543.1h0M147.9 636.9h0M148 535.8h0M148 628.8h0M148.1 527.5h0M148.2 518.7h0M148.3 706.6h0M148.4 697.8h0M148.5 689.3h0M148.5 586.9h0M148.6 680.1h0M148.6 577.6h0M148.7 671.3h0M148.7 568.5h0M148.8 661.3h0M148.8 559.8h0M148.8 653h0M148.9 550.2h0M148.9 643.8h0M149 541.4h0M149 634.4h0M149.1 531.5h0M149.1 624.1h0M149.2 521.9h0M149.2 614.6h0M149.3 707.6h0M149.4 697.3h0M149.4 594.5h0M149.5 686.8h0M149.5 584.7h0M149.6 676.8h0M149.6 574.4h0M149.7 666.5h0M149.7 563.9h0M149.7 656.5h0M149.8 552.5h0M149.8 645.4h0M149.9 541.9h0M149.9 634.7h0M150 531.4h0M150 624.1h0M150.1 520.6h0M150.2 704.9h0M150.3 693.5h0M150.3 589.6h0M150.4 682.2h0M150.4 578.9h0M150.5 670.3h0M150.5 566.8h0M150.6 658.9h0M150.6 554.9h0M150.6 646.4h0M150.7 543h0M150.7 635.1h0M150.8 531.5h0M150.8 622.9h0M150.9 519.1h0M151 702.2h0M151.1 689.8h0M151.1 585.5h0M151.2 676.9h0M151.2 573h0M151.3 664.3h0M151.3 560.1h0M151.4 651.5h0M151.4 547.1h0M151.5 638h0M151.5 533.5h0M151.5 625.3h0M151.6 520.4h0M151.7 703h0M151.8 689.5h0M151.8 584.7h0M151.9 676h0M151.9 571.3h0M152 662.1h0M152 557.6h0M152.1 648.4h0M152.1 543.4h0M152.2 633.9h0M152.2 529.4h0M152.3 620.3h0M152.3 515h0M152.4 695.6h0M152.4 591.1h0M152.5 682h0M152.5 576.8h0M152.6 667.4h0M152.6 561.6h0M152.7 652.7h0M152.7 547.3h0M152.8 637.6h0M152.8 531.9h0M152.9 622.3h0M152.9 517.1h0M153 696.9h0M153.1 591.5h0M153.1 681.1h0M153.2 576.2h0M153.2 666.2h0M153.3 560.3h0M153.3 650.6h0M153.3 544.8h0M153.4 634.7h0M153.4 529.3h0M153.5 618.9h0M153.5 708.1h0M153.6 692.1h0M153.7 586.8h0M153.7 675.6h0M153.8 569.8h0M153.8 659.2h0M153.9 553.5h0M153.9 642.3h0M154 536.4h0M154 625.9h0M154.1 520.2h0M154.2 698.9h0M154.2 592.1h0M154.2 681.5h0M154.3 574.6h0M154.3 664.4h0M154.4 558.1h0M154.4 646.9h0M154.5 539.4h0M154.5 629.5h0M154.6 522.7h0M154.7 700.1h0M154.7 594.3h0M154.8 682.5h0M154.8 575.8h0M154.9 664.6h0M154.9 557.8h0M155 647h0M155 540h0M155.1 628.8h0M155.1 522h0M155.2 698.7h0M155.2 591.3h0M155.3 680.1h0M155.3 572.9h0M155.4 662.1h0M155.4 554.6h0M155.5 642.4h0M155.5 535h0M155.6 623.6h0M155.6 516.6h0M155.7 692.2h0M155.8 585h0M155.8 672.8h0M155.9 565.8h0M155.9 654h0M156 545.8h0M156 634.1h0M156 526.3h0M156.1 614.5h0M156.1 701.6h0M156.2 594.3h0M156.2 682h0M156.3 574h0M156.3 661.8h0M156.4 553.9h0M156.4 642.4h0M156.5 533.9h0M156.5 621.6h0M156.6 709h0M156.7 688.2h0M156.7 580.5h0M156.8 667.7h0M156.8 559.4h0M156.9 646.6h0M156.9 538.6h0M156.9 625.3h0M157 517.1h0M157.1 691.5h0M157.1 583.1h0M157.2 670h0M157.2 561.9h0M157.3 648.5h0M157.3 540.4h0M157.4 627.3h0M157.4 519.4h0M157.5 692.2h0M157.6 583.4h0M157.6 670.3h0M157.7 561.4h0M157.7 647.5h0M157.8 539.3h0M157.8 625.9h0M157.8 517.1h0M157.9 690.4h0M158 580.9h0M158 666.9h0M158.1 558.1h0M158.1 644.5h0M158.2 535.9h0M158.2 622.4h0M158.3 708.2h0M158.4 685.3h0M158.4 576h0M158.5 662.3h0M158.5 552.9h0M158.6 638.2h0M158.6 529.1h0M158.7 614.9h0M158.7 701.1h0M158.7 591.8h0M158.8 676.9h0M158.8 567.5h0M158.9 653.4h0M158.9 544.3h0M159 629.5h0M159 519.7h0M159.1 691.5h0M159.2 581.4h0M159.2 666.9h0M159.3 557h0M159.3 642h0M159.4 532.7h0M159.5 703h0M159.5 593h0M159.6 679.3h0M159.6 568h0M159.6 653.6h0M159.7 542.9h0M159.7 628.9h0M159.8 517.9h0M159.9 688.5h0M159.9 578h0M160 662.9h0M160 552.6h0M160.1 637.8h0M160.1 527.1h0M160.2 696.4h0M160.3 586h0M160.3 670.7h0M160.4 560.3h0M160.4 644.6h0M160.5 534h0M160.5 619h0M160.5 703.1h0M160.6 592.5h0M160.6 677h0M160.7 566.3h0M160.7 650.2h0M160.8 539.1h0M160.8 623.9h0M160.9 708.2h0M160.9 596.7h0M161 681.4h0M161 569.4h0M161.1 654h0M161.1 542.2h0M161.2 627.2h0M161.2 516.1h0M161.3 683.8h0M161.4 572.5h0M161.4 656.1h0M161.4 544.7h0M161.5 628.8h0M161.5 517.3h0M161.6 685.3h0M161.7 573.4h0M161.7 657h0M161.8 545.6h0M161.8 628.9h0M161.9 516.9h0M162 684.3h0M162 572.5h0M162.1 656.1h0M162.1 544.1h0M162.2 626.5h0M162.2 515.5h0M162.3 682h0M162.3 569.8h0M162.4 652.9h0M162.4 540.7h0M162.5 624h0M162.5 706.9h0M162.6 595.1h0M162.6 677.3h0M162.7 565.6h0M162.7 648.5h0M162.8 536.4h0M162.9 701.9h0M162.9 589.1h0M163 671.7h0M163 559.7h0M163.1 642.1h0M163.1 529.3h0M163.2 695h0M163.2 582.6h0M163.3 664.6h0M163.3 552h0M163.4 634.6h0M163.4 521.5h0M163.5 686.3h0M163.6 573.1h0M163.6 655.4h0M163.7 542.3h0M163.7 625.2h0M163.8 707.3h0M163.8 593.5h0M163.9 676.2h0M163.9 562.7h0M164 645.2h0M164 530.8h0M164.1 695.6h0M164.1 581.6h0M164.2 663.6h0M164.2 550.8h0M164.3 632.1h0M164.3 519h0M164.4 682.1h0M164.5 568.6h0M164.5 650.1h0M164.6 536.6h0M164.6 617.9h0M164.7 699.6h0M164.7 585.7h0M164.8 667.8h0M164.8 553.2h0M164.9 634.9h0M164.9 521.1h0M165 684h0M165 569.7h0M165.1 650.9h0M165.1 536.6h0M165.2 699.6h0M165.3 584.7h0M165.3 665.9h0M165.4 551.6h0M165.4 632.9h0M165.5 518.1h0M165.6 680.1h0M165.6 565.1h0M165.7 646.9h0M165.7 531.9h0M165.8 693h0M165.9 578.7h0M165.9 659.3h0M165.9 544.5h0M166 625.1h0M166 705.8h0M166.1 590.9h0M166.1 671.8h0M166.2 556.2h0M166.2 637.3h0M166.3 521.8h0M166.4 682.1h0M166.4 567.5h0M166.5 647.2h0M166.5 532.6h0M166.6 692.5h0M166.7 577.4h0M166.7 658.2h0M166.8 542.9h0M166.8 623h0M166.9 702.9h0M166.9 586.5h0M166.9 667.5h0M167 551.5h0M167 631.6h0M167.1 516.4h0M167.2 675.2h0M167.2 560.1h0M167.3 639.4h0M167.3 523.6h0M167.4 683.6h0M167.5 566.9h0M167.5 646.7h0M167.6 530.5h0M167.7 689.8h0M167.7 573.4h0M167.8 652.9h0M167.8 536.8h0M167.9 695.4h0M167.9 579.3h0M168 658.3h0M168 542h0M168.1 621h0M168.1 700.7h0M168.2 583.7h0M168.2 663.7h0M168.3 546.7h0M168.3 625.1h0M168.4 705h0M168.4 587.5h0M168.5 667h0M168.5 549.8h0M168.6 629h0M168.6 707.8h0M168.7 591h0M168.7 669.6h0M168.7 551.5h0M168.8 631.3h0M168.8 709.6h0M168.9 593h0M168.9 671.9h0M169 554.1h0M169 632.5h0M169.1 515.8h0M169.1 593.9h0M169.2 672.9h0M169.2 555.4h0M169.3 633.4h0M169.3 515.9h0M169.4 595h0M169.4 673.1h0M169.5 555.6h0M169.5 633.9h0M169.6 516.1h0M169.6 594h0M169.6 672h0M169.7 555h0M169.7 633.1h0M169.8 515.7h0M169.8 593.4h0M169.9 671.5h0M169.9 552.8h0M170 631.2h0M170 709h0M170.1 591h0M170.1 668.4h0M170.2 550.6h0M170.2 628h0M170.3 706h0M170.3 588.1h0M170.4 665.5h0M170.4 546.9h0M170.5 625h0M170.5 702.4h0M170.5 583.6h0M170.6 661.1h0M170.6 542.4h0M170.7 620h0M170.7 697h0M170.8 578.7h0M170.8 655.7h0M170.9 537.8h0M171 691.8h0M171 573.2h0M171.1 650.1h0M171.1 532.4h0M171.2 686.2h0M171.3 566.6h0M171.3 643.1h0M171.4 525.4h0M171.4 678.4h0M171.5 559.8h0M171.5 636.8h0M171.6 517.6h0M171.7 670.5h0M171.7 551.9h0M171.8 628.4h0M171.8 704.4h0M171.9 585.3h0M171.9 662.1h0M172 543.1h0M172 619.1h0M172.1 695.1h0M172.1 576.2h0M172.2 652.3h0M172.2 532.5h0M172.3 685h0M172.3 565.5h0M172.4 641.4h0M172.4 521.9h0M172.5 673.7h0M172.6 553.7h0M172.6 629.7h0M172.7 706.2h0M172.7 586.4h0M172.8 662.1h0M172.8 542.2h0M172.9 617.5h0M172.9 693.8h0M173 573.5h0M173 649.1h0M173.1 528.7h0M173.2 679.8h0M173.2 560h0M173.2 635.7h0M173.3 515.3h0M173.3 590.8h0M173.4 665.2h0M173.4 545.7h0M173.5 621.3h0M173.5 696.1h0M173.6 575.9h0M173.6 650.8h0M173.7 530.3h0M173.8 680.3h0M173.8 560.2h0M173.9 635.1h0M173.9 709.6h0M174 589.1h0M174 664.7h0M174.1 543.2h0M174.1 617.8h0M174.1 693.3h0M174.2 572h0M174.2 647h0M174.3 526.3h0M174.4 675.1h0M174.4 553.8h0M174.5 628.7h0M174.5 702.6h0M174.6 582h0M174.6 655.9h0M174.7 535.3h0M174.8 684.5h0M174.8 562.5h0M174.9 637.1h0M174.9 515.8h0M175 590h0M175 663.9h0M175 542.5h0M175.1 616.4h0M175.1 690.4h0M175.2 569h0M175.2 643.1h0M175.3 521.2h0M175.4 669.3h0M175.4 547.2h0M175.5 621.7h0M175.5 694.9h0M175.6 573.1h0M175.6 647.3h0M175.7 525.1h0M175.8 672.4h0M175.8 549.8h0M175.9 624.2h0M175.9 697.4h0M175.9 575.1h0M176 648.3h0M176 526h0M176.1 672.9h0M176.2 550.8h0M176.2 624.1h0M176.3 697.1h0M176.3 574.7h0M176.4 648.5h0M176.4 525.4h0M176.5 672h0M176.6 548.8h0M176.6 622.1h0M176.7 695.2h0M176.7 571.8h0M176.8 645.4h0M176.8 522.3h0M176.9 668.7h0M176.9 545.7h0M177 690.5h0M177.1 567.6h0M177.1 640.6h0M177.2 517h0M177.2 589.5h0M177.3 662.5h0M177.3 538.6h0M177.4 684.4h0M177.5 560.8h0M177.5 633.4h0M177.6 705.5h0M177.6 582.5h0M177.7 654.8h0M177.7 531.5h0M177.8 675h0M177.8 552.1h0M177.9 624.1h0M177.9 696.4h0M178 572.4h0M178 644.6h0M178.1 520h0M178.2 664.1h0M178.2 540.6h0M178.3 684.3h0M178.4 560.2h0M178.4 632.2h0M178.5 703.5h0M178.5 579.4h0M178.6 651h0M178.6 527h0M178.7 669.6h0M178.7 546.5h0M178.8 617.5h0M178.8 688.8h0M178.9 564.4h0M178.9 635.6h0M179 707.1h0M179 583.2h0M179.1 653.9h0M179.1 529.3h0M179.2 671.7h0M179.3 547.3h0M179.3 617.8h0M179.4 689.5h0M179.4 564.5h0M179.5 635.6h0M179.5 706.1h0M179.5 581.9h0M179.6 652.8h0M179.6 527.3h0M179.7 669h0M179.8 544.2h0M179.8 614.9h0M179.9 685.3h0M179.9 560.1h0M180 631.3h0M180 701.2h0M180.1 576.5h0M180.1 647h0M180.2 521.6h0M180.3 662.7h0M180.3 537.3h0M180.4 677.5h0M180.4 551.8h0M180.5 622.1h0M180.5 693h0M180.6 567.6h0M180.6 637.1h0M180.7 707.3h0M180.7 581.2h0M180.8 651.4h0M180.8 525.5h0M180.9 665.8h0M181 539.9h0M181.1 678.8h0M181.1 553.8h0M181.2 623h0M181.2 692.5h0M181.3 567.2h0M181.3 636.3h0M181.3 705.9h0M181.4 580.2h0M181.4 649.4h0M181.5 523h0M181.5 592.2h0M181.6 661.9h0M181.6 535.5h0M181.7 673.9h0M181.8 547.8h0M181.8 617.9h0M181.9 685.5h0M181.9 560.3h0M182 629.3h0M182 697.9h0M182.1 570.9h0M182.1 640.3h0M182.2 709.1h0M182.2 582.9h0M182.2 651.6h0M182.3 524.9h0M182.3 593.4h0M182.4 662.5h0M182.4 535.5h0M182.5 672.7h0M182.6 546.2h0M182.6 614.9h0M182.7 683.3h0M182.7 556.7h0M182.8 625.1h0M182.8 692.8h0M182.9 566.1h0M182.9 634.4h0M183 702.8h0M183 575.8h0M183.1 644.1h0M183.1 516.5h0M183.1 584.7h0M183.2 652.8h0M183.2 525.7h0M183.3 661.7h0M183.4 534h0M183.5 670.4h0M183.5 542.8h0M183.6 679h0M183.7 551h0M183.7 618.8h0M183.8 686.2h0M183.8 557.5h0M183.9 626.9h0M183.9 694.2h0M184 566.5h0M184 633.8h0M184 701h0M184.1 573.4h0M184.1 641.1h0M184.2 707.5h0M184.2 580h0M184.3 647.5h0M184.3 519h0M184.4 587.1h0M184.4 653.9h0M184.5 525.5h0M184.6 659.9h0M184.6 531.4h0M184.7 665.8h0M184.8 537.4h0M184.9 671.5h0M184.9 542.4h0M185 676.3h0M185 547.6h0M185.1 614.4h0M185.1 681.5h0M185.2 552.4h0M185.2 619.7h0M185.3 686.2h0M185.3 557.5h0M185.4 623.2h0M185.4 690.2h0M185.5 561.4h0M185.5 628h0M185.6 694.4h0M185.6 565.5h0M185.7 631.8h0M185.7 697.9h0M185.8 568.5h0M185.8 634.9h0M185.8 701.4h0M185.9 572.5h0M185.9 637.8h0M186 704.9h0M186 575h0M186.1 641.3h0M186.1 707h0M186.2 578.1h0M186.2 643.5h0M186.3 709.5h0M186.3 579.7h0M186.4 645.9h0M186.4 515.6h0M186.5 582.4h0M186.5 648h0M186.6 517.7h0M186.6 583.5h0M186.7 649.2h0M186.7 519.1h0M186.7 585.3h0M186.8 650.5h0M186.8 520.4h0M186.9 585.6h0M186.9 651.3h0M187 521.4h0M187 586.7h0M187.1 652h0M187.1 522.2h0M187.2 587.1h0M187.2 652.2h0M187.3 522.5h0M187.3 587.1h0M187.4 652.9h0M187.4 522.1h0M187.5 587.3h0M187.5 651.9h0M187.6 521.6h0M187.6 586.8h0M187.6 652h0M187.7 521h0M187.7 586.2h0M187.8 650.7h0M187.8 520.6h0M187.9 585.4h0M187.9 649.4h0M188 518.6h0M188 583.5h0M188.1 648.1h0M188.1 517.3h0M188.2 582h0M188.2 646.8h0M188.3 515.3h0M188.3 579.8h0M188.4 644.1h0M188.4 709.1h0M188.5 578.1h0M188.5 642.4h0M188.6 705.9h0M188.6 575.2h0M188.6 639h0M188.7 703.5h0M188.7 572.3h0M188.8 636.2h0M188.8 700.4h0M188.9 568.6h0M188.9 632.8h0M189 696.3h0M189 565.3h0M189.1 629.3h0M189.1 692.8h0M189.2 561.3h0M189.2 624.8h0M189.3 688.5h0M189.3 557.1h0M189.4 620.9h0M189.4 684h0M189.5 552.3h0M189.5 615.9h0M189.5 679.4h0M189.6 547.4h0M189.7 674.5h0M189.7 542.2h0M189.8 669.4h0M189.9 537.1h0M190 663.4h0M190 530.7h0M190.1 594.9h0M190.1 657.9h0M190.2 525.3h0M190.2 588.3h0M190.3 651.6h0M190.3 519h0M190.4 581.8h0M190.4 644.9h0M190.4 708.4h0M190.5 575.4h0M190.5 637.9h0M190.6 700.7h0M190.6 568.2h0M190.7 630.8h0M190.7 693.8h0M190.8 560.5h0M190.8 623.5h0M190.9 685.6h0M190.9 553.4h0M191 615.6h0M191 677.9h0M191.1 544.7h0M191.2 670h0M191.2 536.3h0M191.3 661.1h0M191.3 528.1h0M191.4 589.9h0M191.4 652.4h0M191.5 518.9h0M191.5 581.4h0M191.6 643.8h0M191.6 705.4h0M191.7 572h0M191.7 634.1h0M191.8 695.7h0M191.8 562h0M191.9 624.4h0M191.9 686.1h0M192 552.2h0M192.1 675.7h0M192.1 541.6h0M192.2 665.1h0M192.2 531.7h0M192.3 593.6h0M192.3 654.4h0M192.4 520.1h0M192.4 582.2h0M192.5 643.4h0M192.5 704.6h0M192.6 571h0M192.6 631.6h0M192.7 693.2h0M192.7 559.6h0M192.8 620.2h0M192.8 681.4h0M192.9 547.4h0M193 669.8h0M193 534.8h0M193.1 595.4h0M193.1 656.9h0M193.1 522.5h0M193.2 583.6h0M193.2 644.3h0M193.3 705.2h0M193.3 570.3h0M193.4 631.7h0M193.4 692.3h0M193.5 557.4h0M193.5 618h0M193.6 678.9h0M193.6 543.5h0M193.7 664.7h0M193.8 529.8h0M193.8 589.9h0M193.9 649.9h0M193.9 515.1h0M194 576.2h0M194 635.8h0M194 696h0M194.1 561.3h0M194.1 621.6h0M194.2 681.8h0M194.2 546.7h0M194.3 666.8h0M194.4 531.3h0M194.4 590.6h0M194.5 650.9h0M194.5 515.8h0M194.6 575.4h0M194.6 635h0M194.7 695.5h0M194.7 559.3h0M194.8 678.9h0M194.9 543.1h0M194.9 663.1h0M195 526.8h0M195 586.7h0M195.1 645.4h0M195.1 706.1h0M195.2 569.3h0M195.2 628.9h0M195.3 687.9h0M195.3 551.7h0M195.4 671.2h0M195.5 534.8h0M195.6 652.8h0M195.6 516.4h0M195.7 575.7h0M195.7 634.4h0M195.8 693h0M195.8 556.6h0M195.8 616h0M195.9 675h0M195.9 538.6h0M196 657.2h0M196.1 520.4h0M196.1 578.7h0M196.2 637.7h0M196.2 695.8h0M196.3 558.8h0M196.4 676.5h0M196.4 539.7h0M196.5 656.5h0M196.6 519.5h0M196.6 577.6h0M196.7 636.1h0M196.7 694.7h0M196.7 557.5h0M196.8 615.6h0M196.8 674.2h0M196.9 537.2h0M196.9 595.3h0M197 653.2h0M197 515.9h0M197.1 574.2h0M197.1 631.7h0M197.2 689.8h0M197.2 552.6h0M197.3 668.6h0M197.4 530.9h0M197.4 589.1h0M197.5 646h0M197.5 704.1h0M197.6 567h0M197.6 623.4h0M197.6 682h0M197.7 544h0M197.8 660h0M197.8 521.4h0M197.9 579.1h0M197.9 635.7h0M198 693.3h0M198 555.8h0M198.1 670.6h0M198.2 532.3h0M198.2 589.7h0M198.3 646.2h0M198.3 703.6h0M198.4 565.4h0M198.4 623.3h0M198.5 679.9h0M198.5 541.7h0M198.6 655.7h0M198.6 516.6h0M198.7 574.1h0M198.7 631.1h0M198.8 687.4h0M198.8 548.9h0M198.9 662.8h0M199 523.4h0M199 580.5h0M199.1 637.1h0M199.1 693.7h0M199.2 554.6h0M199.3 667.8h0M199.3 528.8h0M199.4 585.6h0M199.4 641.4h0M199.4 697.7h0M199.5 558.9h0M199.5 615.3h0M199.6 672.1h0M199.6 532.1h0M199.7 588.1h0M199.7 644.8h0M199.8 700.7h0M199.8 561.5h0M199.9 617.4h0M199.9 673.9h0M200 534.1h0M200 589.8h0M200.1 645.6h0M200.1 701.3h0M200.2 562.3h0M200.2 618.3h0M200.3 673.8h0M200.3 533.6h0M200.3 589.6h0M200.4 645.8h0M200.4 701.1h0M200.5 560.9h0M200.5 616.9h0M200.6 671.9h0M200.6 532.1h0M200.7 587.1h0M200.7 643.8h0M200.8 699h0M200.8 558.7h0M200.9 668.6h0M201 528.7h0M201 584.1h0M201.1 639.4h0M201.1 694.9h0M201.2 554.4h0M201.2 664.4h0M201.3 524.1h0M201.3 579.1h0M201.4 634.1h0M201.4 688.7h0M201.5 548.9h0M201.6 658.4h0M201.6 517.5h0M201.7 572h0M201.7 626.8h0M201.8 681h0M201.8 540.3h0M201.9 595.5h0M201.9 649.8h0M202 704.4h0M202 563.1h0M202.1 672.8h0M202.1 531.3h0M202.2 585.1h0M202.2 640.2h0M202.3 694.5h0M202.3 552.8h0M202.4 661.4h0M202.5 520.4h0M202.5 574.6h0M202.6 628.7h0M202.6 682.1h0M202.7 541.1h0M202.7 595.4h0M202.8 649.1h0M202.8 703.4h0M202.9 561.2h0M202.9 614.8h0M203 669.2h0M203 527.4h0M203 581.1h0M203.1 634.6h0M203.1 688.1h0M203.2 546.4h0M203.3 653.5h0M203.3 707.6h0M203.4 565.8h0M203.4 619h0M203.5 672.5h0M203.5 530.4h0M203.6 584.5h0M203.6 637.1h0M203.7 690.1h0M203.7 548.3h0M203.8 654.7h0M203.9 708.3h0M203.9 565.4h0M203.9 618.9h0M204 671.5h0M204 529.2h0M204.1 582.5h0M204.1 635.4h0M204.2 688.2h0M204.2 545.7h0M204.3 651.5h0M204.4 704.3h0M204.4 561.1h0M204.5 666.6h0M204.6 523.6h0M204.6 576.9h0M204.7 629h0M204.7 681.8h0M204.8 539.1h0M204.8 591.4h0M204.8 643.8h0M204.9 695.9h0M204.9 552.9h0M205 657.7h0M205.1 514.6h0M205.1 566.8h0M205.2 618.5h0M205.2 671.4h0M205.3 527.4h0M205.3 580h0M205.4 632.3h0M205.4 684.1h0M205.5 540.8h0M205.5 593.1h0M205.6 645.1h0M205.6 696.2h0M205.7 552.7h0M205.7 656.4h0M205.8 708.2h0M205.8 564.2h0M205.9 615.8h0M205.9 667.8h0M206 523.9h0M206 574.8h0M206.1 627.5h0M206.1 678.6h0M206.2 534.7h0M206.2 586.1h0M206.3 637.9h0M206.3 689.1h0M206.4 544.6h0M206.5 647.7h0M206.5 698.6h0M206.6 554.4h0M206.6 656.5h0M206.7 708.5h0M206.7 563.8h0M206.8 665.9h0M206.9 521.3h0M206.9 572h0M207 623h0M207 674.1h0M207.1 528.9h0M207.1 579.5h0M207.2 631h0M207.2 681.3h0M207.3 536.9h0M207.3 587.2h0M207.4 638.1h0M207.4 688.6h0M207.5 543h0M207.5 593.3h0M207.5 644.7h0M207.6 694.5h0M207.6 549.9h0M207.7 650.8h0M207.8 700.9h0M207.8 555.6h0M207.9 655.7h0M208 706.9h0M208 561.7h0M208.1 661h0M208.2 515.8h0M208.2 565.7h0M208.3 665.5h0M208.4 520.5h0M208.4 570.1h0M208.4 620.1h0M208.5 670.3h0M208.5 524.4h0M208.6 573.9h0M208.6 623.5h0M208.7 673.4h0M208.7 527.6h0M208.8 576.9h0M208.8 626.4h0M208.9 675.8h0M208.9 529.9h0M209 579.5h0M209 629.1h0M209.1 678.2h0M209.1 531.7h0M209.2 581.6h0M209.2 630.5h0M209.3 679.9h0M209.3 533.4h0M209.3 583.2h0M209.4 632.3h0M209.4 681.6h0M209.5 534.6h0M209.5 584h0M209.6 632.8h0M209.6 682h0M209.7 535.4h0M209.7 584.2h0M209.8 633.2h0M209.8 682.3h0M209.9 534.9h0M209.9 584h0M210 633.1h0M210 681.7h0M210.1 535.4h0M210.1 583.3h0M210.2 632.1h0M210.2 680.8h0M210.3 534.3h0M210.3 582.2h0M210.3 630.7h0M210.4 678.8h0M210.4 532.4h0M210.5 580.4h0M210.5 628.7h0M210.6 677h0M210.6 529.7h0M210.7 578.4h0M210.7 626.3h0M210.8 673.9h0M210.8 526.6h0M210.9 575.2h0M210.9 623h0M211 671.3h0M211 523.7h0M211.1 571.5h0M211.1 619.3h0M211.2 667.2h0M211.2 519.6h0M211.2 567.3h0M211.3 615h0M211.3 663.2h0M211.4 515.2h0M211.4 562.3h0M211.5 658.3h0M211.6 705.9h0M211.6 558.2h0M211.7 652.6h0M211.8 699.6h0M211.8 552h0M211.9 647.6h0M212 693.9h0M212 546.4h0M212.1 593.1h0M212.1 640.4h0M212.1 687.2h0M212.2 539.4h0M212.2 586.2h0M212.3 633.3h0M212.3 680.2h0M212.4 531.2h0M212.4 578.9h0M212.5 625.2h0M212.5 671.8h0M212.6 524.2h0M212.6 570.4h0M212.7 617.9h0M212.7 664.3h0M212.8 515.2h0M212.8 562.2h0M212.9 654.8h0M213 702.2h0M213 553.3h0M213.1 646.4h0M213.1 692.9h0M213.2 543.8h0M213.2 589.8h0M213.3 636.4h0M213.3 682.5h0M213.4 533.7h0M213.4 579.5h0M213.5 625.9h0M213.5 671.4h0M213.6 522.5h0M213.6 568.4h0M213.7 659.9h0M213.8 707.4h0M213.8 557.2h0M213.9 649h0M213.9 694.4h0M214 544.8h0M214 590.9h0M214.1 636.2h0M214.1 682.6h0M214.2 532.4h0M214.2 578.3h0M214.3 623.7h0M214.3 669.6h0M214.4 519.5h0M214.4 564.5h0M214.5 655.8h0M214.6 701.3h0M214.6 551.3h0M214.7 596.6h0M214.7 641.9h0M214.8 686.8h0M214.8 537h0M214.8 581.9h0M214.9 626.6h0M214.9 672.1h0M215 522.1h0M215 567h0M215.1 656.8h0M215.2 702h0M215.2 551.9h0M215.3 641h0M215.4 685.8h0M215.4 535.3h0M215.5 579.8h0M215.5 624.8h0M215.6 669.7h0M215.6 518.6h0M215.7 563.7h0M215.7 652.6h0M215.8 696.6h0M215.8 545.9h0M215.9 590.5h0M215.9 634.8h0M216 679.5h0M216 527.5h0M216.1 572h0M216.1 616.7h0M216.2 661h0M216.2 704.7h0M216.3 554.6h0M216.4 642h0M216.4 686.2h0M216.5 534.8h0M216.5 578.6h0M216.6 622.3h0M216.6 666.4h0M216.6 514.7h0M216.7 558.9h0M216.8 646.2h0M216.8 690h0M216.9 538h0M216.9 582h0M217 625.2h0M217 669.1h0M217.1 517.2h0M217.1 561.2h0M217.2 648h0M217.3 691.4h0M217.3 539.3h0M217.4 582.1h0M217.4 625.8h0M217.5 669.3h0M217.5 516.5h0M217.5 560h0M217.6 646.7h0M217.7 689.5h0M217.7 537.5h0M217.8 580.4h0M217.8 623.6h0M217.9 666h0M217.9 709.4h0M218 557.1h0M218.1 642.7h0M218.1 685.6h0M218.2 532.7h0M218.2 575.2h0M218.3 618.4h0M218.3 661.4h0M218.4 703.9h0M218.4 550.9h0M218.4 593.7h0M218.5 635.6h0M218.5 678.3h0M218.6 526.1h0M218.6 568.1h0M218.7 652.8h0M218.8 694.7h0M218.8 542.2h0M218.9 584.1h0M218.9 626.1h0M219 668.6h0M219 515.4h0M219.1 557.4h0M219.2 641.7h0M219.2 683.5h0M219.3 530.2h0M219.3 572.3h0M219.4 656.4h0M219.4 698.1h0M219.5 544.5h0M219.5 586.2h0M219.6 627.8h0M219.6 669.3h0M219.7 515.8h0M219.7 557h0M219.8 640.5h0M219.9 681.3h0M219.9 527.8h0M220 570h0M220.1 652.4h0M220.1 694h0M220.2 539.7h0M220.2 580.9h0M220.2 622.2h0M220.3 663.6h0M220.3 704.9h0M220.4 550.7h0M220.4 592.1h0M220.5 632.8h0M220.5 674h0M220.6 519.8h0M220.6 560.3h0M220.7 642.4h0M220.8 683.5h0M220.8 528.7h0M220.9 569.9h0M221 651.5h0M221 692.3h0M221.1 536.6h0M221.1 577.8h0M221.1 618.5h0M221.2 659h0M221.2 699.2h0M221.3 545.1h0M221.3 585.4h0M221.4 625.3h0M221.4 665.6h0M221.5 705.8h0M221.5 550.8h0M221.6 591.7h0M221.6 631.6h0M221.7 672.1h0M221.7 516.3h0M221.8 556.6h0M221.9 637.4h0M221.9 677.1h0M222 521.9h0M222 561.5h0M222.1 641.8h0M222.1 682.3h0M222.2 526h0M222.2 565.9h0M222.3 645.4h0M222.4 685.4h0M222.4 529.1h0M222.5 569.5h0M222.6 647.8h0M222.6 688h0M222.7 531.7h0M222.7 571.4h0M222.8 650.2h0M222.9 689.3h0M222.9 533.6h0M222.9 572.6h0M223 650.6h0M223.1 690.6h0M223.1 534.3h0M223.2 572.9h0M223.3 651.8h0M223.3 690.8h0M223.4 533.7h0M223.4 572.9h0M223.5 651.2h0M223.6 689.9h0M223.6 533.3h0M223.7 572.1h0M223.8 649.4h0M223.8 688.6h0M223.8 531.6h0M223.9 570h0M224 646.3h0M224 685.3h0M224.1 528.5h0M224.1 567.3h0M224.2 643.5h0M224.3 682.4h0M224.3 525.1h0M224.4 563.6h0M224.5 639.9h0M224.5 678h0M224.6 520.8h0M224.6 559.1h0M224.7 634.7h0M224.7 673h0M224.8 515.7h0M224.8 554h0M224.9 591.2h0M224.9 628.9h0M225 667h0M225 705.3h0M225.1 547.4h0M225.1 584.9h0M225.2 622.7h0M225.2 659.9h0M225.3 698.1h0M225.3 539.6h0M225.4 577.6h0M225.5 652.9h0M225.5 690.6h0M225.6 531.8h0M225.6 569.6h0M225.7 644.2h0M225.7 681.6h0M225.8 523h0M225.8 560.5h0M225.9 635h0M226 671.6h0M226 708.9h0M226.1 550.8h0M226.1 587.1h0M226.2 624.7h0M226.2 661.5h0M226.3 698.9h0M226.3 540.1h0M226.4 576.2h0M226.5 650.2h0M226.5 687.2h0M226.5 528.5h0M226.6 564.4h0M226.7 638h0M226.7 674.7h0M226.8 515.4h0M226.8 552.3h0M226.9 588.4h0M226.9 625.2h0M227 661.9h0M227 697.7h0M227.1 538.7h0M227.1 574.8h0M227.2 647.7h0M227.3 683.4h0M227.3 524.3h0M227.4 560.1h0M227.4 633h0M227.5 668.6h0M227.5 704.3h0M227.6 544.6h0M227.6 580.5h0M227.7 616.9h0M227.7 652.9h0M227.8 688.4h0M227.8 529.1h0M227.9 565.1h0M228 636.1h0M228 670.9h0M228.1 707.2h0M228.1 547.3h0M228.2 583h0M228.2 618.2h0M228.3 653.7h0M228.3 690.1h0M228.3 529.4h0M228.4 564.4h0M228.5 635.2h0M228.5 669.8h0M228.6 705.6h0M228.6 545.8h0M228.7 580.7h0M228.7 615.6h0M228.8 650.3h0M228.8 685.5h0M228.9 525.6h0M228.9 560.5h0M229 595.1h0M229 630.3h0M229.1 664.9h0M229.1 699.7h0M229.2 539.4h0M229.2 574.3h0M229.3 643.6h0M229.3 678.3h0M229.4 517.1h0M229.4 552h0M229.5 586h0M229.5 621.2h0M229.6 655.3h0M229.6 689.6h0M229.7 528.7h0M229.7 563.6h0M229.8 632.2h0M229.9 666.3h0M229.9 700.3h0M230 539h0M230 573.6h0M230.1 641.7h0M230.1 675.5h0M230.2 514.6h0M230.2 548.9h0M230.3 582.2h0M230.3 616.4h0M230.4 650.2h0M230.4 683.9h0M230.5 523.1h0M230.5 556.1h0M230.6 590.5h0M230.6 624h0M230.7 657.5h0M230.7 691.3h0M230.8 529.6h0M230.8 563.1h0M230.9 596.9h0M230.9 630.5h0M231 663.7h0M231 697.3h0M231 535.1h0M231.1 568.2h0M231.2 635.5h0M231.2 669.1h0M231.3 701.2h0M231.3 539.4h0M231.4 573h0M231.5 639.9h0M231.5 672.4h0M231.6 705.6h0M231.6 542.5h0M231.7 576h0M231.8 642.3h0M231.8 674.5h0M231.9 707.4h0M231.9 544.6h0M232 577.5h0M232 643.1h0M232.1 676h0M232.1 708.1h0M232.2 545.8h0M232.2 578h0M232.3 642.6h0M232.4 675.6h0M232.4 708.2h0M232.5 545.5h0M232.5 577.8h0M232.6 641.9h0M232.7 673.9h0M232.7 706.4h0M232.8 543.5h0M232.8 575.1h0M232.9 639.9h0M232.9 672h0M233 704h0M233 540.5h0M233.1 572.3h0M233.2 635.8h0M233.2 668.2h0M233.3 700.3h0M233.3 535.9h0M233.4 567.7h0M233.5 630.9h0M233.5 662.6h0M233.6 694.6h0M233.6 530.6h0M233.7 562.1h0M233.7 593.5h0M233.8 625.1h0M233.8 656.6h0M233.8 687.7h0M233.9 523.9h0M233.9 555h0M234 586.6h0M234.1 649.5h0M234.1 680h0M234.2 515.8h0M234.2 547.3h0M234.3 577.8h0M234.4 640.2h0M234.4 670.8h0M234.5 702h0M234.5 537.7h0M234.6 568.8h0M234.7 630.3h0M234.7 660.9h0M234.7 691.2h0M234.8 527.2h0M234.8 557.5h0M234.9 587.7h0M234.9 619.4h0M235 649.3h0M235 679.2h0M235.1 514.7h0M235.1 545.6h0M235.2 575.9h0M235.3 636.5h0M235.3 666.7h0M235.4 698.1h0M235.4 532.2h0M235.5 562.3h0M235.5 592h0M235.6 622.3h0M235.6 652.8h0M235.6 682.9h0M235.7 518.1h0M235.7 547.7h0M235.8 578.2h0M235.9 638.1h0M235.9 667.3h0M236 697.5h0M236 532.1h0M236.1 561.3h0M236.1 591.1h0M236.2 620.5h0M236.2 651.1h0M236.3 680.4h0M236.3 514.6h0M236.4 543.9h0M236.4 573.6h0M236.5 632.5h0M236.5 661.9h0M236.6 691.5h0M236.6 525.5h0M236.7 554.9h0M236.7 583.8h0M236.8 642.4h0M236.9 672h0M236.9 701.1h0M237 534.5h0M237 564.1h0M237.1 593h0M237.1 621.5h0M237.2 651.3h0M237.2 679.6h0M237.3 708.7h0M237.3 542.1h0M237.4 570.6h0M237.4 629h0M237.5 657.7h0M237.5 686.4h0M237.6 519.3h0M237.6 547.9h0M237.7 576.6h0M237.8 633.8h0M237.8 662.5h0M237.9 691.3h0M237.9 523.8h0M238 552.3h0M238 580.7h0M238.1 637.1h0M238.2 666h0M238.2 693.1h0M238.3 526.7h0M238.3 554.6h0M238.3 582.8h0M238.4 639.1h0M238.5 666.8h0M238.5 695.3h0M238.6 527.5h0M238.6 555.2h0M238.7 583.7h0M238.8 638.3h0M238.8 667h0M238.9 694.6h0M238.9 526.7h0M239 554.4h0M239 582.3h0M239.1 637.3h0M239.2 664.7h0M239.2 692.6h0M239.2 524.4h0M239.3 551.8h0M239.3 578.9h0M239.4 634.3h0M239.5 661.4h0M239.5 688.9h0M239.6 520h0M239.6 547.2h0M239.7 575h0M239.8 629h0M239.8 656.4h0M239.9 683h0M239.9 514.6h0M240 542h0M240 568.7h0M240.1 595h0M240.1 622.2h0M240.1 649.7h0M240.2 676.3h0M240.2 703.2h0M240.3 533.9h0M240.3 560.3h0M240.4 587.3h0M240.5 641.1h0M240.5 666.9h0M240.6 693.8h0M240.6 524.2h0M240.7 551h0M240.7 576.8h0M240.8 630.2h0M240.9 656.6h0M240.9 683.2h0M241 709.7h0M241 540h0M241 565.6h0M241.1 592.4h0M241.2 644.1h0M241.2 670h0M241.3 696.4h0M241.3 527.2h0M241.4 552.7h0M241.4 578.9h0M241.5 630.4h0M241.6 656.1h0M241.6 682.3h0M241.7 708h0M241.7 538.2h0M241.8 563.9h0M241.8 589.3h0M241.9 614.5h0M241.9 640.1h0M241.9 666.2h0M242 691.2h0M242 521h0M242.1 546.7h0M242.1 572.4h0M242.2 622.9h0M242.3 648.1h0M242.3 673.5h0M242.4 699.1h0M242.4 528.2h0M242.5 553.8h0M242.5 578.4h0M242.6 629.3h0M242.7 653.9h0M242.7 678.9h0M242.8 703.4h0M242.8 533.2h0M242.8 557.9h0M242.9 582.3h0M243 632.4h0M243 657.2h0M243.1 681.7h0M243.1 706.6h0M243.2 535.4h0M243.2 560.4h0M243.3 584.3h0M243.4 633.3h0M243.4 658.2h0M243.5 682.4h0M243.5 706.7h0M243.6 535.8h0M243.6 560.3h0M243.7 584.7h0M243.7 633.1h0M243.8 657.4h0M243.8 681.9h0M243.9 705.7h0M243.9 533.9h0M244 558.7h0M244 582.3h0M244.1 630.4h0M244.2 654h0M244.2 678.3h0M244.3 702.1h0M244.3 529.9h0M244.4 553.6h0M244.4 577.4h0M244.5 624.5h0M244.6 648.2h0M244.6 672h0M244.6 695.7h0M244.7 523.4h0M244.7 547.2h0M244.8 571.1h0M244.8 594.3h0M244.9 617.7h0M244.9 640.9h0M245 665.1h0M245 687.4h0M245.1 515.7h0M245.1 538.5h0M245.2 561.9h0M245.2 585.2h0M245.3 631.2h0M245.4 654.1h0M245.4 676.9h0M245.5 700.3h0M245.5 527.4h0M245.5 550.4h0M245.6 573.4h0M245.7 641.8h0M245.8 664.2h0M245.8 687.6h0M245.9 709.9h0M245.9 537h0M246 560.3h0M246 582.2h0M246.1 627.4h0M246.2 649.6h0M246.2 672.7h0M246.3 694.8h0M246.3 521.4h0M246.4 543.6h0M246.4 565.8h0M246.4 588.1h0M246.5 632.7h0M246.6 654.3h0M246.6 676.5h0M246.7 699h0M246.7 525.3h0M246.8 548.3h0M246.8 570.1h0M246.9 591.4h0M247 635.8h0M247 657.5h0M247.1 679.2h0M247.1 700.4h0M247.2 527.2h0M247.2 549.7h0M247.3 570.2h0M247.4 635.4h0M247.4 656.1h0M247.5 678.6h0M247.5 699.7h0M247.6 525.8h0M247.6 547.4h0M247.7 568.7h0M247.7 589.7h0M247.8 632.3h0M247.9 653.5h0M247.9 674.4h0M248 696h0M248 522h0M248.1 543h0M248.1 563.6h0M248.2 584.5h0M248.2 626.9h0M248.3 647.6h0M248.3 668.7h0M248.4 689.6h0M248.4 514.8h0M248.5 536h0M248.5 555.6h0M248.6 576.7h0M248.7 618.5h0M248.7 638.9h0M248.8 659.2h0M248.8 679.6h0M248.9 700.9h0M248.9 525.7h0M249 546.1h0M249 566.3h0M249.1 586.6h0M249.1 627.4h0M249.2 647h0M249.2 667.8h0M249.3 688h0M249.3 707.6h0M249.4 533.1h0M249.4 552.5h0M249.5 573.2h0M249.5 592.9h0M249.6 632.9h0M249.7 652.6h0M249.7 672.4h0M249.8 692h0M249.8 516.7h0M249.9 536.6h0M249.9 556.2h0M250 575.8h0M250 615.6h0M250.1 635h0M250.1 654.9h0M250.2 674.5h0M250.2 693.8h0M250.3 517.9h0M250.3 537.1h0M250.4 556.9h0M250.4 575.5h0M250.5 594.7h0M250.5 614.5h0M250.6 633.4h0M250.6 652.7h0M250.7 672.3h0M250.7 690.9h0M250.8 514.8h0M250.8 534.3h0M250.9 553.5h0M250.9 572.2h0M250.9 591.3h0M251 629.4h0M251.1 647.7h0M251.1 666.2h0M251.2 685.4h0M251.2 704.3h0M251.3 527.9h0M251.3 545.9h0M251.4 564.6h0M251.4 583.8h0M251.5 620.6h0M251.6 639.3h0M251.6 657.8h0M251.7 676.3h0M251.7 694.7h0M251.8 517.5h0M251.8 536.2h0M251.8 554.6h0M251.9 572.4h0M251.9 590.7h0M252 627h0M252.1 645.7h0M252.1 663.7h0M252.2 681.6h0M252.2 699.7h0M252.3 522.1h0M252.3 540.4h0M252.4 557.9h0M252.4 576.2h0M252.6 629.7h0M252.6 647.1h0M252.7 665.3h0M252.7 682.8h0M252.7 700.7h0M252.8 522.9h0M252.8 540.2h0M252.9 558h0M252.9 575.4h0M253 592.8h0M253.1 628.3h0M253.1 645.3h0M253.2 662.4h0M253.2 680.4h0M253.3 697.4h0M253.3 518.6h0M253.4 536.6h0M253.4 553.7h0M253.5 570.7h0M253.5 586.9h0M253.6 621.8h0M253.7 639.5h0M253.7 655.6h0M253.7 673.2h0M253.8 690.2h0M253.8 707h0M253.9 528.2h0M253.9 545h0M254 561.9h0M254 578.6h0M254.2 628.6h0M254.2 645.3h0M254.3 661.6h0M254.3 678h0M254.4 694.1h0M254.4 516.1h0M254.5 532.2h0M254.5 548.6h0M254.6 564.8h0M254.6 580.9h0M254.7 630.5h0M254.8 646.4h0M254.8 662.4h0M254.9 678.9h0M254.9 694.6h0M255 515.7h0M255 531.3h0M255.1 547.3h0M255.1 563.6h0M255.2 579.2h0M255.2 595h0M255.3 626.8h0M255.4 642.9h0M255.4 658.5h0M255.5 674.3h0M255.5 689.7h0M255.5 705.3h0M255.6 525.9h0M255.6 541.3h0M255.7 556.9h0M255.7 572.3h0M255.8 587.5h0M255.9 618.3h0M255.9 634.1h0M256 649.1h0M256 664.3h0M256.1 679h0M256.1 694.7h0M256.2 514.8h0M256.2 529.6h0M256.3 544.9h0M256.3 559.9h0M256.4 574.9h0M256.5 620h0M256.5 634.7h0M256.6 649.9h0M256.6 665.5h0M256.7 679.5h0M256.7 694.1h0M256.8 709.3h0M256.8 528.4h0M256.9 543.6h0M256.9 557.5h0M257 572.2h0M257 587h0M257.1 616.5h0M257.2 630.8h0M257.2 644.9h0M257.3 659.6h0M257.3 673.2h0M257.3 688.2h0M257.4 702.2h0M257.4 521.1h0M257.5 535.2h0M257.5 549.5h0M257.6 563.6h0M257.6 577.7h0M257.7 592.3h0M257.8 620.2h0M257.8 634.2h0M257.9 648.4h0M257.9 661.8h0M258 675.9h0M258 689.8h0M258.1 704.1h0M258.1 522h0M258.2 535.5h0M258.2 549.5h0M258.2 562.5h0M258.3 577.3h0M258.3 590.7h0M258.4 617.8h0M258.5 631.5h0M258.5 644.7h0M258.6 658.1h0M258.6 671.2h0M258.7 684.5h0M258.7 698.2h0M258.8 516h0M258.8 529.5h0M258.9 541.9h0M258.9 556.2h0M259 569.2h0M259 581.7h0M259.1 621.7h0M259.2 633.7h0M259.2 647.2h0M259.3 659.9h0M259.3 672.4h0M259.4 686h0M259.4 699h0M259.5 515.8h0M259.5 528.8h0M259.6 541.3h0M259.6 554.7h0M259.7 566.4h0M259.7 579.4h0M259.8 592.3h0M259.9 616.7h0M259.9 629.3h0M260 642h0M260 654.4h0M260 667h0M260.1 679.2h0M260.1 691h0M260.2 704h0M260.2 520.6h0M260.3 532.5h0M260.3 544.5h0M260.4 556.9h0M260.4 568.8h0M260.5 580.7h0M260.7 628.9h0M260.7 640.8h0M260.8 652.7h0M260.8 665h0M260.9 676.6h0M260.9 688.5h0M260.9 699.8h0M261 515.9h0M261 527.7h0M261.1 539.4h0M261.1 551.1h0M261.2 562.9h0M261.2 574.6h0M261.3 584.8h0M261.5 631.3h0M261.5 642.8h0M261.6 653.3h0M261.6 664.9h0M261.7 676h0M261.7 687.7h0M261.8 698.7h0M261.8 709.5h0M261.8 525h0M261.9 536.2h0M261.9 546.7h0M262 558.3h0M262 568.9h0M262.1 579.5h0M262.1 590.7h0M262.3 622.8h0M262.3 633.9h0M262.4 645.2h0M262.4 655.7h0M262.5 666.3h0M262.5 676.1h0M262.6 687.4h0M262.6 698.2h0M262.7 709.2h0M262.7 522.8h0M262.7 533.5h0M262.8 544.4h0M262.8 554.3h0M262.9 564.4h0M262.9 574.6h0M263 585.5h0M263 595.4h0M263.2 625.5h0M263.2 636.1h0M263.3 645.8h0M263.3 656.5h0M263.4 665.5h0M263.4 676.3h0M263.5 685.8h0M263.5 695.4h0M263.6 705.7h0M263.6 519.5h0M27.6 630h0M27.6 627.4h0M27.9 624.8h0M27.6 622.2h0M27.9 619.7h0M27.6 617.1h0M27.6 614.4h0M27.6 611.8h0M27.9 609.3h0M27.6 606.7h0M27.6 604.1h0M27.4 601.5h0M27.4 599h0M30 591.7h0M30.3 589h0M30 619.7h0M29.7 614.4h0M30 611.6h0M30 608.9h0M30 606.1h0M30.3 603.3h0M29.7 600.5h0M30 597.8h0M32.1 596.5h0M32.1 594h0M32.1 591.6h0M32.1 589.1h0M32.1 586.6h0M32.1 584.2h0M32.1 614.4h0M31.8 611.9h0M32.1 609.5h0M32.1 607h0M31.8 604.6h0M32.1 602.1h0M32.4 599.7h0M34.8 631h0M34.8 628.4h0M34.8 625.9h0M34.8 623.3h0M34.8 620.8h0M34.8 614.4h0M34.8 611.9h0M34.8 609.3h0M34.8 606.8h0M34.5 604.2h0M34.8 601.7h0M34.5 599.1h0M38.4 595.2h0M38.1 592.6h0M37.8 590h0M37.8 587.4h0M38.1 584.8h0M38.1 582.3h0M38.4 579.7h0M38.1 619.3h0M37.8 616.7h0M38.1 614.4h0M38.1 611.8h0M38.1 609.2h0M38.4 606.6h0M37.8 604h0M38.1 601.4h0M37.8 598.9h0M40.8 592.5h0M40.8 590.3h0M40.8 588.1h0M41.1 625.8h0M41.1 623.6h0M40.5 621.4h0M40.8 619.2h0M40.8 617.1h0M46.6 592h0M46.4 589.6h0M46.6 587.2h0M46.6 632.5h0M46.6 630.1h0M46.6 627.7h0M46.6 625.3h0M46.6 622.9h0M46.6 620.5h0M46.6 618.1h0M46.9 615.7h0M52.2 593.2h0M52.2 590.6h0M52.2 588h0M51.9 585.4h0M52.5 582.8h0M52.5 580.3h0M51.9 622.6h0M52.2 620h0M56.2 594.8h0M56.2 592.3h0M56.2 589.8h0M56.2 587.3h0M56.2 584.8h0M56.2 582.3h0M56.2 579.8h0M56.5 577.3h0M56.2 574.8h0M56.2 626.7h0M56.2 624.3h0M56.2 621.8h0M56.2 619.3h0M55.9 616.8h0M62 594h0M62 591.8h0M61.8 589.6h0M62 587.4h0M62 585.3h0M62.3 583.1h0M62 580.9h0M62.3 578.7h0M62 619.3h0M62 614.4h0M62 612.2h0M62.3 610h0M62 607.9h0M62 605.7h0M62 603.5h0M62 601.3h0M62 599.2h0M64.6 592.8h0M64.3 590h0M64.6 630.7h0M64.6 628h0M64.6 625.2h0M64.3 622.5h0M64.3 619.7h0M64.6 617h0M67.1 594.7h0M67.1 592.3h0M66.8 589.9h0M67.1 587.5h0M66.8 585.1h0M66.8 582.8h0M67.1 580.4h0M67.1 578h0M67.1 575.6h0M66.8 626.1h0M66.8 623.7h0M67.4 621.3h0M66.8 614.4h0M66.8 612h0M67.1 609.6h0M67.4 607.2h0M67.1 604.9h0M67.1 602.5h0M67.1 600.1h0M67.4 597.7h0M69.6 631.4h0M69.6 629.1h0M69.6 626.8h0M69.3 624.5h0M69.3 622.1h0M69.3 619.8h0M69.6 617.5h0M69.6 614.4h0M69.6 612.1h0M69.6 609.8h0M69.6 607.5h0M69.6 605.2h0M69.9 602.8h0M69.6 600.5h0M69.6 598.2h0M73.1 591.9h0M72.8 589.3h0M72.6 625.3h0M72.8 622.6h0M73.1 620h0M72.8 617.4h0M73.1 614.4h0M73.1 611.8h0M72.8 609.1h0M73.1 606.5h0M72.8 603.9h0M72.6 601.2h0M72.8 598.6h0M75.5 621.8h0M75.3 619h0M75.3 616.2h0M75.3 614.4h0M75.3 611.6h0M75.3 608.8h0M75.5 606h0M75.5 603.2h0M75.3 600.4h0M75.3 597.6h0M77.5 594.3h0M77.5 591.4h0M77.3 588.5h0M77.5 585.6h0M77.8 633h0M77.3 630.1h0M77.5 627.2h0M77.5 624.3h0M77.3 621.4h0M77.5 618.5h0M81.9 593.8h0M81.7 591h0M81.7 588.3h0M81.7 585.5h0M81.7 582.7h0M81.4 580h0M81.7 628.7h0M81.7 625.9h0M81.7 623.1h0M81.7 620.4h0M85.3 592.4h0M85.3 590.1h0M85.3 587.8h0M85.6 585.5h0M85.3 583.2h0M85.3 614.4h0M85.6 612.1h0M85.3 609.8h0M85.6 607.5h0M85 605.2h0M85.3 602.9h0M85.3 600.6h0M85.3 598.3h0M88.3 625.3h0M88.6 622.5h0M88.3 619.6h0M88.3 614.4h0M88 611.5h0M88.3 608.7h0M88.3 605.8h0M88.6 603h0M88 600.1h0M88.3 597.3h0M90 596.1h0M90.2 593.3h0M90.2 590.5h0M90 587.7h0M90.2 584.9h0M90.2 628.2h0M90.2 625.4h0M90.2 622.6h0M90.2 619.8h0M90.2 617h0M90.2 614.4h0M90.2 611.6h0M90 608.8h0M90.2 606h0M90.5 603.2h0M90 600.4h0M90.5 597.6h0M92.3 594.9h0M92.6 592.6h0M92.3 590.4h0M92.3 588.1h0M92.3 585.9h0M92.3 583.6h0M92.3 581.3h0M92 579.1h0M92.3 576.8h0M92.3 630.8h0M92.3 628.5h0M92.3 626.3h0M92.3 624h0M92 621.8h0M92.3 619.5h0M92.6 617.3h0M92.3 614.4h0M92.3 612.1h0M92 609.9h0M92.3 607.6h0M92 605.4h0M92.3 603.1h0M92.6 600.9h0M92.3 598.6h0M95.3 591.4h0M95 588.8h0M95 586.2h0M95 583.6h0M95 580.9h0M95.3 624.1h0M95.3 621.5h0M95 618.8h0M95.3 616.2h0M98.4 594.5h0M98.4 592h0M98.1 589.5h0M98.7 587h0M98.4 584.6h0M98.4 620.5h0M98.7 618h0M98.4 615.6h0M98.4 614.4h0M98.4 611.9h0M98.4 609.5h0M98.1 607h0M98.7 604.5h0M98.7 602h0M98.4 599.6h0M101 591.9h0M101 589.1h0M101 627.1h0M101.3 624.2h0M101 621.3h0M101 618.5h0M100.8 614.4h0M100.8 611.5h0M101 608.7h0M101 605.8h0M101 602.9h0M101 600.1h0M101 597.2h0M104.5 592.8h0M104.5 590.6h0M104.5 588.3h0M104.3 614.4h0M104.8 612.2h0M104.5 609.9h0M104.5 607.7h0M104.5 605.4h0M104.3 603.2h0M104.5 600.9h0M104.3 598.7h0M107.5 596.9h0M107.8 594.3h0M107.8 591.6h0M107.2 588.9h0M107.5 586.2h0M107.5 583.5h0M107.5 625.7h0M107.2 623h0M107.5 620.4h0M107.5 617.7h0M107.5 614.4h0M107.5 611.7h0M107.5 609h0M107.8 606.4h0M107.5 603.7h0M107.2 601h0M107.2 598.3h0M111.2 633.3h0M110.9 630.5h0M110.9 627.7h0M110.6 624.9h0M110.9 622.1h0M111.2 614.4h0M110.9 611.6h0M110.9 608.8h0M110.9 606h0M110.9 603.2h0M110.6 600.4h0M110.9 597.6h0M113.3 593.5h0M113.6 590.6h0M113.6 587.7h0M113.6 584.8h0M113.6 581.9h0M113.3 620h0M113.3 617.1h0M116.5 596.2h0M116.5 593.4h0M116.5 590.6h0M116.5 621.9h0M116.5 619.1h0M122 595.9h0M122 593.5h0M122 591.2h0M122 588.8h0M121.7 586.5h0M121.7 584.1h0M122 581.7h0M121.7 579.4h0M121.7 627.9h0M122 625.5h0M122 623.2h0M122 620.8h0M121.7 618.4h0M122 616.1h0M122 614.4h0M122 612h0M122 609.7h0M122 607.3h0M122 605h0M122 602.6h0M121.7 600.3h0M122 597.9h0M125.1 622.7h0M125.1 620.1h0M124.5 617.6h0M124.5 614.4h0M124.8 611.9h0M124.8 609.4h0M124.5 606.9h0M124.5 604.3h0M124.5 601.8h0M124.8 599.3h0M128.2 594.4h0M128.2 591.8h0M128.2 589.1h0M128.5 586.5h0M128.5 583.9h0M128.2 581.2h0M128.2 578.6h0M127.9 575.9h0M128.2 631.2h0M128.2 628.5h0M127.9 625.9h0M128.2 623.2h0M128.2 620.6h0M128.2 614.4h0M128.2 611.8h0M127.9 609.1h0M127.9 606.5h0M128.2 603.8h0M128.2 601.2h0M128.5 598.6h0M131.5 595.8h0M131.5 593.2h0M131.2 590.6h0M131.5 588h0M131.5 585.4h0M131.2 582.8h0M131.7 580.2h0M131.2 618.7h0M131.5 614.4h0M131.5 611.8h0M131.5 609.2h0M131.5 606.6h0M131.5 604h0M131.7 601.4h0M131.5 598.8h0M133.4 591.8h0M133.4 589.4h0M133.4 587h0M133.4 623h0M133.4 620.6h0M133.4 618.2h0M133.4 615.8h0M138.1 592.1h0M138.1 589.7h0M138.1 587.3h0M138.4 584.9h0M137.9 582.5h0M138.1 580.1h0M138.1 577.7h0M137.9 627.8h0M138.1 625.4h0M138.1 623h0M137.9 620.6h0M143 625.5h0M142.7 623.1h0M143 620.7h0M143 618.3h0M143 615.9h0M143.3 614.4h0M143.3 612h0M143 609.6h0M143 607.2h0M143 604.8h0M143 602.4h0M142.7 600h0M143.3 597.6h0M145.1 596.3h0M145.1 593.7h0M145.4 591.2h0M145.4 588.6h0M145.4 586h0M145.1 583.5h0M145.4 627.4h0M145.1 624.8h0M145.1 622.2h0M145.7 619.7h0M145.4 614.4h0M145.4 611.8h0M145.4 609.3h0M145.4 606.7h0M145.4 604.2h0M145.4 601.6h0M145.4 599.1h0M148.9 594.6h0M148.9 592.3h0M148.9 590.1h0M149.2 587.8h0M148.9 585.5h0M149.2 583.2h0M148.6 581h0M148.9 578.7h0M148.9 576.4h0M148.9 631.4h0M148.9 629.1h0M148.6 626.8h0M148.9 624.6h0M148.9 622.3h0M148.6 620h0M148.6 617.7h0M148.9 614.4h0M148.9 612.1h0M148.9 609.8h0M149.2 607.6h0M149.2 605.3h0M148.9 603h0M148.9 600.7h0M148.9 598.5h0M152.4 592h0M152.4 589.7h0M152.4 587.4h0M152.4 585.2h0M152.6 582.9h0M152.4 580.6h0M152.4 578.4h0M152.4 576.1h0M152.4 622.1h0M152.4 619.8h0M152.4 614.4h0M152.4 612.1h0M152.4 609.9h0M152.4 607.6h0M152.4 605.4h0M152.1 603.1h0M152.4 600.8h0M152.4 598.6h0M154.7 624.7h0M154.7 621.9h0M154.7 619.1h0M159.3 595.7h0M159.6 592.8h0M159.6 589.9h0M159.9 587h0M159.6 584.1h0M159.6 581.2h0M159.6 578.3h0M159.6 622.7h0M159.3 619.7h0M159.9 616.8h0M164 592.5h0M164 590.1h0M164 587.8h0M164 585.4h0M164 583h0M164.2 580.6h0M164.2 629h0M164 626.6h0M164.2 624.2h0M164 621.8h0M163.7 619.4h0M167.9 631h0M168.2 628.8h0M168.2 626.7h0M168.2 624.5h0M168.2 622.3h0M168.2 620.1h0M168.2 617.9h0M172.9 596.4h0M172.9 593.8h0M172.9 591.2h0M172.9 588.6h0M172.6 586h0M173.2 583.4h0M172.9 580.8h0M172.9 614.4h0M172.9 611.8h0M173.2 609.2h0M172.9 606.6h0M172.9 604h0M172.6 601.4h0M173.2 598.8h0M175 625.6h0M175.3 622.9h0M175.3 620.3h0M175.3 617.6h0M178.4 595.8h0M178.7 593.4h0M178.7 590.9h0M178.7 588.5h0M178.7 586.1h0M178.4 628.7h0M178.7 626.2h0M178.7 623.8h0M178.7 621.4h0M178.7 618.9h0M184.7 596.3h0M184.7 593.5h0M184.4 590.6h0M184.7 587.7h0M184.4 584.8h0M184.7 581.9h0M184.4 579h0M184.7 624.9h0M184.7 622h0M184.7 619.1h0M188.7 593.6h0M188.7 591.3h0M189 589.1h0M188.4 586.8h0M188.7 584.5h0M188.7 614.4h0M188.7 612.1h0M188.7 609.9h0M188.7 607.6h0M188.7 605.3h0M188.7 603h0M189 600.8h0M188.4 598.5h0M190.7 614.4h0M190.7 611.6h0M191.3 608.8h0M191 605.9h0M191 603.1h0M191 600.3h0M191 597.5h0M194 594.9h0M194 592.7h0M194 590.4h0M194 588.2h0M194 629h0M194 626.8h0M194 624.5h0M194 622.3h0M194 620h0M197.4 592.4h0M197.7 589.5h0M197.7 586.6h0M197.7 583.7h0M197.4 580.8h0M197.4 626.3h0M197.4 623.4h0M197.4 620.5h0M197.1 617.6h0M197.4 614.4h0M197.4 611.5h0M197.4 608.6h0M197.7 605.7h0M197.7 602.8h0M197.1 599.9h0M199.9 596.7h0M199.6 593.9h0M199.3 591.2h0M199.3 614.4h0M199.6 611.6h0M199.6 608.9h0M199.6 606.1h0M199.9 603.4h0M199.6 600.6h0M199.6 597.9h0M201.7 594.4h0M201.7 591.7h0M201.7 633.4h0M201.7 630.8h0M201.7 628.2h0M201.7 625.5h0M201.7 622.9h0M201.7 620.2h0M201.4 614.4h0M201.7 611.8h0M201.7 609.1h0M201.7 606.5h0M201.7 603.8h0M202 601.2h0M201.7 598.6h0M203.5 591.8h0M203.8 589.5h0M204.1 587.2h0M203.8 630.3h0M203.8 628h0M203.8 625.8h0M203.8 623.5h0M203.8 621.2h0M204.1 619h0M209.4 591.8h0M209.7 589.3h0M209.7 586.8h0M209.7 584.4h0M209.4 581.9h0M209.7 579.4h0M213.4 593.8h0M213.4 591.1h0M213.4 588.4h0M213.4 585.7h0M213.4 583h0M213.4 580.3h0M213.7 626.2h0M213.7 623.5h0M213.4 620.8h0M219.3 593.7h0M219 591.1h0M219.3 588.5h0M219.3 585.9h0M219.3 583.3h0M219 580.7h0M218.7 633.2h0M219 630.6h0M219 628h0M219 625.4h0M218.7 622.8h0M219 620.2h0M219 617.6h0M222.8 595.9h0M222.8 593.2h0M222.8 590.6h0M222.8 623.2h0M222.8 620.6h0M228.2 633.1h0M228.2 630.3h0M228.4 627.6h0M228.2 624.9h0M228.4 622.2h0M228.4 619.4h0M228.2 616.7h0M233.4 594.4h0M233.4 591.7h0M233.1 589h0M233.7 622.2h0M233.7 619.5h0M236.8 591.7h0M236.8 589.1h0M236.5 586.4h0M237.1 583.7h0M236.8 626.9h0M236.8 624.2h0M236.8 621.5h0M242.4 626.3h0M242.7 623.4h0M242.4 620.5h0M246.4 621.6h0M246.6 614.4h0M246.6 611.7h0M246.6 609h0M246.6 606.3h0M246.6 603.6h0M246.6 600.9h0M246.6 598.3h0M248.7 596.1h0M248.7 593.7h0M248.7 591.4h0M249 625.7h0M249 623.3h0M248.7 621h0M248.7 614.4h0M248.7 612.1h0M249 609.7h0M248.7 607.4h0M248.7 605.1h0M248.7 602.7h0M248.4 600.4h0M249 598h0M251.2 596h0M250.9 593.6h0M250.9 591.1h0M250.9 588.7h0M250.9 586.3h0M250.9 583.9h0M250.9 581.4h0M250.9 579h0M250.9 614.4h0M250.9 612h0M250.9 609.6h0M251.2 607.1h0M250.9 604.7h0M250.9 602.3h0M250.9 599.8h0M250.9 597.4h0M252.7 593.5h0M252.7 590.7h0M252.7 587.8h0M252.7 585h0M252.7 582.1h0M252.7 579.3h0M252.7 576.4h0M252.7 614.4h0M252.7 611.5h0M252.7 608.7h0M252.9 605.8h0M252.7 603h0M252.9 600.1h0M252.7 597.3h0M255.2 594.3h0M255.2 629.6h0M255.2 627.3h0M255.2 625.1h0M255.5 622.8h0M255.2 620.5h0M255.2 618.3h0M260.1 593.4h0M260.1 590.6h0M260.4 587.7h0M260.1 584.8h0" stroke="#0a78c8" stroke-width="1.7" stroke-linecap="round" fill="none" opacity="0.88"/>
<rect x="308.5" y="517.3" width="235.6" height="189.5" fill="none" stroke="#8a8a8a" stroke-width="0.8"/>
<text transform="translate(308.5 720.4)" font-size="9.7" text-anchor="middle" fill="#333333">0</text>
<text transform="translate(355.62 720.4)" font-size="9.7" text-anchor="middle" fill="#333333">0.2</text>
<text transform="translate(402.74 720.4)" font-size="9.7" text-anchor="middle" fill="#333333">0.4</text>
<text transform="translate(449.86 720.4)" font-size="9.7" text-anchor="middle" fill="#333333">0.6</text>
<text transform="translate(496.98 720.4)" font-size="9.7" text-anchor="middle" fill="#333333">0.8</text>
<text transform="translate(544.1 720.4)" font-size="9.7" text-anchor="middle" fill="#333333">1</text>
<text transform="translate(304.9 710.89)" font-size="9.7" text-anchor="end" fill="#333333">0</text>
<text transform="translate(304.9 679.31)" font-size="9.7" text-anchor="end" fill="#333333">100</text>
<text transform="translate(304.9 647.73)" font-size="9.7" text-anchor="end" fill="#333333">200</text>
<text transform="translate(304.9 616.14)" font-size="9.7" text-anchor="end" fill="#333333">300</text>
<text transform="translate(304.9 584.56)" font-size="9.7" text-anchor="end" fill="#333333">400</text>
<text transform="translate(304.9 552.98)" font-size="9.7" text-anchor="end" fill="#333333">500</text>
<text transform="translate(304.9 521.39)" font-size="9.7" text-anchor="end" fill="#333333">600</text>
<path d="M355.62 706.8v-2.4M355.62 517.3v2.4M402.74 706.8v-2.4M402.74 517.3v2.4M449.86 706.8v-2.4M449.86 517.3v2.4M496.98 706.8v-2.4M496.98 517.3v2.4M308.5 675.22h2.4M544.1 675.22h-2.4M308.5 643.63h2.4M544.1 643.63h-2.4M308.5 612.05h2.4M544.1 612.05h-2.4M308.5 580.47h2.4M544.1 580.47h-2.4M308.5 548.88h2.4M544.1 548.88h-2.4" stroke="#8a8a8a" stroke-width="0.8" fill="none"/>
<text transform="translate(426 734.8)" font-size="10.2" text-anchor="middle" fill="#333333">Chaos value</text>
<text transform="translate(284.5 612) rotate(-90)" font-size="10.2" text-anchor="middle" fill="#333333">Frequency</text>
<g fill="#3e26a8" stroke="#2a1878" stroke-width="0.85">
<rect x="308.5" y="545.72" width="23.56" height="161.07"/>
<rect x="332.06" y="545.09" width="23.56" height="161.71"/>
<rect x="355.62" y="542.38" width="23.56" height="164.42"/>
<rect x="379.18" y="552.67" width="23.56" height="154.13"/>
<rect x="402.74" y="551.73" width="23.56" height="155.07"/>
<rect x="426.3" y="564.67" width="23.56" height="142.12"/>
<rect x="449.86" y="551.41" width="23.56" height="155.39"/>
<rect x="473.42" y="547.62" width="23.56" height="159.18"/>
<rect x="496.98" y="543.64" width="23.56" height="163.16"/>
<rect x="520.54" y="545.72" width="23.56" height="161.07"/>
</g>
<rect x="51.7" y="772.4" width="226.9" height="172.1" fill="none" stroke="#8a8a8a" stroke-width="0.8"/>
<text transform="translate(51.7 959.7)" font-size="10.4" text-anchor="middle" fill="#333333">0</text>
<text transform="translate(97.08 959.7)" font-size="10.4" text-anchor="middle" fill="#333333">1000</text>
<text transform="translate(142.46 959.7)" font-size="10.4" text-anchor="middle" fill="#333333">2000</text>
<text transform="translate(187.84 959.7)" font-size="10.4" text-anchor="middle" fill="#333333">3000</text>
<text transform="translate(233.22 959.7)" font-size="10.4" text-anchor="middle" fill="#333333">4000</text>
<text transform="translate(278.6 959.7)" font-size="10.4" text-anchor="middle" fill="#333333">5000</text>
<text transform="translate(48.3 949.54)" font-size="10.4" text-anchor="end" fill="#333333">0</text>
<text transform="translate(48.3 915.12)" font-size="10.4" text-anchor="end" fill="#333333">0.2</text>
<text transform="translate(48.3 880.7)" font-size="10.4" text-anchor="end" fill="#333333">0.4</text>
<text transform="translate(48.3 846.28)" font-size="10.4" text-anchor="end" fill="#333333">0.6</text>
<text transform="translate(48.3 811.86)" font-size="10.4" text-anchor="end" fill="#333333">0.8</text>
<text transform="translate(48.3 777.44)" font-size="10.4" text-anchor="end" fill="#333333">1</text>
<path d="M97.08 944.5v-2.4M97.08 772.4v2.4M142.46 944.5v-2.4M142.46 772.4v2.4M187.84 944.5v-2.4M187.84 772.4v2.4M233.22 944.5v-2.4M233.22 772.4v2.4M51.7 910.08h2.4M278.6 910.08h-2.4M51.7 875.66h2.4M278.6 875.66h-2.4M51.7 841.24h2.4M278.6 841.24h-2.4M51.7 806.82h2.4M278.6 806.82h-2.4" stroke="#8a8a8a" stroke-width="0.8" fill="none"/>
<text transform="translate(165 973.5)" font-size="11.4" text-anchor="middle" fill="#333333">Dimension</text>
<text transform="translate(30.2 859) rotate(-90)" font-size="11.4" text-anchor="middle" fill="#333333">Chaos value</text>
<path d="M51.7 923.2h0M51.7 922.7h0M51.8 922.3h0M51.8 921.8h0M51.9 921.3h0M51.9 920.9h0M52 920.4h0M52 919.9h0M52.1 919.4h0M52.1 918.8h0M52.2 918.3h0M52.2 917.8h0M52.2 917.2h0M52.3 916.6h0M52.3 916.1h0M52.4 915.5h0M52.4 914.9h0M52.5 914.3h0M52.5 913.6h0M52.6 913h0M52.6 912.3h0M52.7 911.7h0M52.7 911h0M52.7 910.3h0M52.8 909.6h0M52.8 908.9h0M52.9 908.1h0M52.9 907.4h0M53 906.6h0M53 905.8h0M53.1 905h0M53.1 904.2h0M53.2 903.4h0M53.2 902.5h0M53.2 901.7h0M53.3 900.8h0M53.3 899.9h0M53.4 898.9h0M53.4 898h0M53.5 897h0M53.5 896h0M53.6 895h0M53.6 894h0M53.7 893h0M53.7 891.9h0M53.7 890.8h0M53.8 889.7h0M53.8 888.6h0M53.9 887.4h0M53.9 886.2h0M54 885h0M54 883.8h0M54.1 882.5h0M54.1 881.2h0M54.2 879.9h0M54.2 878.6h0M54.2 877.2h0M54.3 875.8h0M54.3 874.4h0M54.4 873h0M54.4 871.5h0M54.5 870h0M54.5 868.4h0M54.6 866.9h0M54.6 865.3h0M54.6 863.6h0M54.7 861.9h0M54.7 860.2h0M54.8 858.5h0M54.8 856.7h0M54.9 854.9h0M54.9 853h0M55 851.1h0M55 849.2h0M55.1 847.2h0M55.1 845.2h0M55.1 843.1h0M55.2 841h0M55.2 838.9h0M55.3 836.7h0M55.3 834.5h0M55.4 832.2h0M55.4 829.9h0M55.5 827.5h0M55.5 825.1h0M55.6 822.6h0M55.6 820.1h0M55.6 817.5h0M55.7 814.9h0M55.7 812.2h0M55.8 809.5h0M55.8 806.7h0M55.9 803.8h0M55.9 800.9h0M56 797.9h0M56 794.9h0M56.1 791.8h0M56.1 788.6h0M56.1 785.4h0M56.2 782.1h0M56.2 778.7h0M56.3 775.3h0M56.3 855h0M56.4 853.2h0M56.4 851.3h0M56.5 849.4h0M56.5 847.4h0M56.6 845.4h0M56.6 843.3h0M56.6 841.2h0M56.7 839.1h0M56.7 836.9h0M56.8 834.7h0M56.8 832.4h0M56.9 830.1h0M56.9 827.7h0M57 825.3h0M57 822.8h0M57.1 820.3h0M57.1 817.7h0M57.1 815.1h0M57.2 812.4h0M57.2 809.7h0M57.3 806.9h0M57.3 804.1h0M57.4 801.1h0M57.4 798.2h0M57.5 795.1h0M57.5 792h0M57.6 788.9h0M57.6 785.7h0M57.6 782.4h0M57.7 779h0M57.7 775.6h0M57.8 855.2h0M57.8 853.3h0M57.9 851.5h0M57.9 849.5h0M58 847.6h0M58 845.6h0M58.1 843.5h0M58.1 841.4h0M58.1 839.3h0M58.2 837.1h0M58.2 834.9h0M58.3 832.6h0M58.3 830.3h0M58.4 827.9h0M58.4 825.5h0M58.5 823h0M58.5 820.5h0M58.6 818h0M58.6 815.3h0M58.6 812.7h0M58.7 809.9h0M58.7 807.1h0M58.8 804.3h0M58.8 801.4h0M58.9 798.4h0M58.9 795.4h0M59 792.3h0M59 789.2h0M59.1 785.9h0M59.1 782.7h0M59.1 779.3h0M59.2 775.9h0M59.2 931.9h0M59.3 931.7h0M59.3 931.4h0M59.4 931.1h0M59.4 930.9h0M59.5 930.6h0M59.5 930.3h0M59.6 930h0M59.6 929.7h0M59.6 929.4h0M59.7 929.1h0M59.7 928.8h0M59.8 928.4h0M59.8 928.1h0M59.9 927.8h0M59.9 927.4h0M60 927.1h0M60 926.7h0M60 926.3h0M60.1 926h0M60.1 925.6h0M60.2 925.2h0M60.2 924.8h0M60.3 924.4h0M60.3 924h0M60.4 923.5h0M60.4 923.1h0M60.5 922.6h0M60.5 922.2h0M60.5 921.7h0M60.6 921.3h0M60.6 920.8h0M60.7 920.3h0M60.7 919.8h0M60.8 919.3h0M60.8 918.8h0M60.9 918.2h0M60.9 917.7h0M61 917.1h0M61 916.6h0M61 916h0M61.1 915.4h0M61.1 914.8h0M61.2 914.2h0M61.2 913.5h0M61.3 912.9h0M61.3 912.2h0M61.4 911.6h0M61.4 910.9h0M61.5 910.2h0M61.5 909.5h0M61.5 908.8h0M61.6 908h0M61.6 907.3h0M61.7 906.5h0M61.7 905.7h0M61.8 904.9h0M61.8 904.1h0M61.9 903.2h0M61.9 902.4h0M62 901.5h0M62 900.6h0M62 899.7h0M62.1 898.8h0M62.1 897.8h0M62.2 896.9h0M62.2 895.9h0M62.3 894.9h0M62.3 893.9h0M62.4 892.8h0M62.4 891.7h0M62.5 890.6h0M62.5 889.5h0M62.5 888.4h0M62.6 887.2h0M62.6 886h0M62.7 884.8h0M62.7 883.6h0M62.8 882.3h0M62.8 881h0M62.9 879.7h0M62.9 878.4h0M63 877h0M63 875.6h0M63 874.2h0M63.1 872.7h0M63.1 871.3h0M63.2 869.7h0M63.2 868.2h0M63.3 866.6h0M63.3 865h0M63.4 863.4h0M63.4 861.7h0M63.5 860h0M63.5 858.2h0M63.5 856.4h0M63.6 854.6h0M63.6 852.7h0M63.7 850.8h0M63.7 848.9h0M63.8 846.9h0M63.8 844.9h0M63.9 842.8h0M63.9 840.7h0M64 838.6h0M64 836.4h0M64 834.1h0M64.1 831.9h0M64.1 829.5h0M64.2 827.1h0M64.2 824.7h0M64.3 822.2h0M64.3 819.7h0M64.4 817.1h0M64.4 814.5h0M64.5 811.8h0M64.5 809h0M64.5 806.2h0M64.6 803.4h0M64.6 800.4h0M64.7 797.4h0M64.7 794.4h0M64.8 791.3h0M64.8 788.1h0M64.9 784.9h0M64.9 781.6h0M65 778.2h0M65 774.8h0M65.6 918.7h0M65.6 918.2h0M65.7 917.6h0M65.7 917h0M65.8 916.5h0M65.8 915.9h0M65.9 915.3h0M65.9 914.7h0M65.9 914.1h0M66 913.5h0M66 912.8h0M66.1 912.2h0M66.1 911.5h0M66.2 910.8h0M66.2 910.1h0M66.3 909.4h0M66.3 908.7h0M66.4 907.9h0M66.4 907.2h0M66.4 906.4h0M66.5 905.6h0M66.5 904.8h0M66.6 904h0M66.6 903.1h0M66.7 902.3h0M66.7 901.4h0M66.8 900.5h0M66.8 899.6h0M66.9 898.7h0M66.9 897.7h0M66.9 896.8h0M67 895.8h0M67 894.8h0M67.1 893.7h0M67.1 892.7h0M67.2 891.6h0M67.2 890.5h0M67.3 889.4h0M67.3 888.2h0M67.4 887.1h0M67.4 885.9h0M67.4 884.7h0M67.5 883.4h0M67.5 882.2h0M67.6 880.9h0M67.6 879.6h0M67.7 878.2h0M67.7 876.8h0M67.8 875.4h0M67.8 874h0M67.9 872.6h0M67.9 871.1h0M67.9 869.5h0M68 868h0M68 866.4h0M68.1 864.8h0M68.1 863.1h0M68.2 861.4h0M68.2 859.7h0M68.3 858h0M68.3 856.2h0M68.4 854.4h0M68.4 852.5h0M68.4 850.6h0M68.5 848.6h0M68.5 846.6h0M68.6 844.6h0M68.6 842.6h0M68.7 840.4h0M68.7 838.3h0M68.8 836.1h0M68.8 833.8h0M68.9 831.5h0M68.9 829.2h0M68.9 826.8h0M69 824.4h0M69 821.9h0M69.1 819.4h0M69.1 816.8h0M69.2 814.1h0M69.2 811.4h0M69.3 808.7h0M69.3 805.8h0M69.4 803h0M69.4 800h0M69.4 797.1h0M69.5 794h0M69.5 790.9h0M69.6 787.7h0M69.6 784.5h0M69.7 781.1h0M69.7 777.8h0M69.8 774.3h0M69.9 913.5h0M70 912.9h0M70 912.2h0M70.1 911.6h0M70.1 910.9h0M70.2 910.2h0M70.2 909.5h0M70.3 908.7h0M70.3 908h0M70.4 907.2h0M70.4 906.5h0M70.4 905.7h0M70.5 904.9h0M70.5 904.1h0M70.6 903.2h0M70.6 902.4h0M70.7 901.5h0M70.7 900.6h0M70.8 899.7h0M70.8 898.8h0M70.9 897.8h0M70.9 896.9h0M70.9 895.9h0M71 894.9h0M71 893.8h0M71.1 892.8h0M71.1 891.7h0M71.2 890.6h0M71.2 889.5h0M71.3 888.4h0M71.3 887.2h0M71.3 886h0M71.4 884.8h0M71.4 883.6h0M71.5 882.3h0M71.5 881h0M71.6 879.7h0M71.6 878.4h0M71.7 877h0M71.7 875.6h0M71.8 874.2h0M71.8 872.7h0M71.8 871.2h0M71.9 869.7h0M71.9 868.2h0M72 866.6h0M72 865h0M72.1 863.3h0M72.1 861.6h0M72.2 859.9h0M72.2 858.2h0M72.3 856.4h0M72.3 854.5h0M72.3 852.7h0M72.4 850.8h0M72.4 848.8h0M72.5 846.9h0M72.5 844.8h0M72.6 842.8h0M72.6 840.7h0M72.7 838.5h0M72.7 836.3h0M72.8 834.1h0M72.8 831.8h0M72.8 829.5h0M72.9 827.1h0M72.9 824.6h0M73 822.2h0M73 819.6h0M73.1 817h0M73.1 814.4h0M73.2 811.7h0M73.2 809h0M73.3 806.2h0M73.3 803.3h0M73.3 800.4h0M73.4 797.4h0M73.4 794.3h0M73.5 791.2h0M73.5 788h0M73.6 784.8h0M73.6 781.5h0M73.7 778.1h0M73.7 774.7h0M73.8 843.1h0M73.8 841h0M73.8 838.9h0M73.9 836.7h0M73.9 834.5h0M74 832.2h0M74 829.9h0M74.1 827.5h0M74.1 825.1h0M74.2 822.6h0M74.2 820.1h0M74.3 817.5h0M74.3 814.9h0M74.3 812.2h0M74.4 809.4h0M74.4 806.6h0M74.5 803.8h0M74.5 800.9h0M74.6 797.9h0M74.6 794.9h0M74.7 791.8h0M74.7 788.6h0M74.8 785.4h0M74.8 782.1h0M74.8 778.7h0M74.9 775.3h0M74.9 843.5h0M75 841.4h0M75 839.3h0M75.1 837.1h0M75.1 834.9h0M75.2 832.6h0M75.2 830.3h0M75.3 827.9h0M75.3 825.5h0M75.3 823h0M75.4 820.5h0M75.4 818h0M75.5 815.3h0M75.5 812.7h0M75.6 809.9h0M75.6 807.1h0M75.7 804.3h0M75.7 801.4h0M75.8 798.4h0M75.8 795.4h0M75.8 792.3h0M75.9 789.2h0M75.9 785.9h0M76 782.7h0M76 779.3h0M76.1 775.9h0M76.1 867.2h0M76.2 865.6h0M76.2 864h0M76.3 862.3h0M76.3 860.6h0M76.3 858.9h0M76.4 857.1h0M76.4 855.3h0M76.5 853.5h0M76.5 851.6h0M76.6 849.6h0M76.6 847.7h0M76.7 845.7h0M76.7 843.6h0M76.7 841.5h0M76.8 839.4h0M76.8 837.2h0M76.9 835h0M76.9 832.7h0M77 830.4h0M77 828.1h0M77.1 825.7h0M77.1 823.2h0M77.2 820.7h0M77.2 818.1h0M77.2 815.5h0M77.3 812.8h0M77.3 810.1h0M77.4 807.3h0M77.4 804.5h0M77.5 801.6h0M77.5 798.6h0M77.6 795.6h0M77.6 792.5h0M77.7 789.4h0M77.7 786.1h0M77.7 782.9h0M77.8 779.5h0M77.8 776.1h0M77.9 772.6h0M77.9 834.9h0M78 832.6h0M78 830.3h0M78.1 827.9h0M78.1 825.5h0M78.2 823h0M78.2 820.5h0M78.2 818h0M78.3 815.3h0M78.3 812.7h0M78.4 809.9h0M78.4 807.1h0M78.5 804.3h0M78.5 801.4h0M78.6 798.4h0M78.6 795.4h0M78.7 792.3h0M78.7 789.2h0M78.7 785.9h0M78.8 782.7h0M78.8 779.3h0M78.9 775.9h0M78.9 887h0M79 885.8h0M79 884.6h0M79.1 883.4h0M79.1 882.1h0M79.2 880.8h0M79.2 879.5h0M79.2 878.1h0M79.3 876.8h0M79.3 875.4h0M79.4 873.9h0M79.4 872.5h0M79.5 871h0M79.5 869.5h0M79.6 867.9h0M79.6 866.3h0M79.7 864.7h0M79.7 863.1h0M79.7 861.4h0M79.8 859.6h0M79.8 857.9h0M79.9 856.1h0M79.9 854.3h0M80 852.4h0M80 850.5h0M80.1 848.5h0M80.1 846.5h0M80.2 844.5h0M80.2 842.5h0M80.2 840.3h0M80.3 838.2h0M80.3 836h0M80.4 833.7h0M80.4 831.4h0M80.5 829.1h0M80.5 826.7h0M80.6 824.3h0M80.6 821.8h0M80.7 819.2h0M80.7 816.6h0M80.7 814h0M80.8 811.3h0M80.8 808.5h0M80.9 805.7h0M80.9 802.8h0M81 799.9h0M81 796.9h0M81.1 793.8h0M81.1 790.7h0M81.2 902.3h0M81.2 901.5h0M81.2 900.6h0M81.3 899.7h0M81.3 898.7h0M81.4 897.8h0M81.4 896.8h0M81.5 895.8h0M81.5 894.8h0M81.6 893.8h0M81.6 892.7h0M81.7 891.7h0M81.7 890.6h0M81.7 889.5h0M81.8 888.3h0M81.8 887.2h0M81.9 886h0M81.9 884.8h0M82 883.5h0M82 882.3h0M82.1 881h0M82.1 879.6h0M82.1 878.3h0M82.2 876.9h0M82.2 875.5h0M82.3 874.1h0M82.3 872.7h0M82.4 871.2h0M82.4 869.6h0M82.5 868.1h0M82.5 866.5h0M82.6 864.9h0M82.6 863.2h0M82.6 861.6h0M82.7 859.8h0M82.7 858.1h0M82.8 856.3h0M82.8 854.5h0M82.9 852.6h0M82.9 850.7h0M83 848.8h0M83 846.8h0M83.1 844.8h0M83.1 842.7h0M83.1 840.6h0M83.2 838.4h0M83.2 836.2h0M83.3 834h0M83.3 831.7h0M83.4 829.4h0M83.4 827h0M83.5 824.5h0M83.5 822.1h0M83.6 819.5h0M83.6 816.9h0M83.6 814.3h0M83.7 811.6h0M83.7 808.8h0M83.8 806h0M83.8 803.2h0M83.9 800.2h0M83.9 797.3h0M84 794.2h0M84 791.1h0M84.1 787.9h0M84.1 784.7h0M84.1 781.4h0M84.2 778h0M84.2 774.5h0M84.4 903.2h0M84.5 902.3h0M84.5 901.5h0M84.6 900.6h0M84.6 899.7h0M84.6 898.7h0M84.7 897.8h0M84.7 896.8h0M84.8 895.8h0M84.8 894.8h0M84.9 893.8h0M84.9 892.7h0M85 891.7h0M85 890.6h0M85.1 889.5h0M85.1 888.3h0M85.1 887.2h0M85.2 886h0M85.2 884.8h0M85.3 883.5h0M85.3 882.3h0M85.4 881h0M85.4 879.7h0M85.5 878.3h0M85.5 876.9h0M85.6 875.5h0M85.6 874.1h0M85.6 872.7h0M85.7 871.2h0M85.7 869.7h0M85.8 868.1h0M85.8 866.5h0M85.9 864.9h0M85.9 863.3h0M86 861.6h0M86 859.9h0M86.1 858.1h0M86.1 856.3h0M86.1 854.5h0M86.2 852.6h0M86.2 850.7h0M86.3 848.8h0M86.3 846.8h0M86.4 844.8h0M86.4 842.7h0M86.5 840.6h0M86.5 838.4h0M86.6 836.2h0M86.6 834h0M86.6 831.7h0M86.7 829.4h0M86.7 827h0M86.8 824.6h0M86.8 822.1h0M86.9 819.5h0M86.9 817h0M87 814.3h0M87 811.6h0M87.1 808.9h0M87.1 806.1h0M87.1 803.2h0M87.2 800.3h0M87.2 797.3h0M87.3 794.2h0M87.3 791.1h0M87.4 787.9h0M87.4 784.7h0M87.5 781.4h0M87.5 778h0M87.6 774.6h0M87.7 900.1h0M87.7 899.2h0M87.8 898.2h0M87.8 897.3h0M87.9 896.3h0M87.9 895.3h0M88 894.3h0M88 893.2h0M88 892.2h0M88.1 891.1h0M88.1 890h0M88.2 888.9h0M88.2 887.7h0M88.3 886.5h0M88.3 885.3h0M88.4 884.1h0M88.4 882.9h0M88.5 881.6h0M88.5 880.3h0M88.5 879h0M88.6 877.6h0M88.6 876.2h0M88.7 874.8h0M88.7 873.4h0M88.8 871.9h0M88.8 870.4h0M88.9 868.8h0M88.9 867.3h0M89 865.7h0M89 864h0M89 862.4h0M89.1 860.7h0M89.1 858.9h0M89.2 857.2h0M89.2 855.4h0M89.3 853.5h0M89.3 851.6h0M89.4 849.7h0M89.4 847.7h0M89.5 845.7h0M89.5 843.7h0M89.5 841.6h0M89.6 839.5h0M89.6 837.3h0M89.7 835.1h0M89.7 832.8h0M89.8 830.5h0M89.8 828.1h0M89.9 825.7h0M89.9 823.3h0M90 820.7h0M90 818.2h0M90 815.6h0M90.1 812.9h0M90.1 810.2h0M90.2 807.4h0M90.2 804.6h0M90.3 801.7h0M90.3 798.7h0M90.4 795.7h0M90.4 792.6h0M90.5 789.4h0M90.5 786.2h0M90.5 783h0M90.6 779.6h0M90.6 776.2h0M90.7 772.7h0M90.7 868.7h0M90.8 867.1h0M90.8 865.5h0M90.9 863.9h0M90.9 862.2h0M91 860.5h0M91 858.8h0M91 857h0M91.1 855.2h0M91.1 853.3h0M91.2 851.5h0M91.2 849.5h0M91.3 847.6h0M91.3 845.6h0M91.4 843.5h0M91.4 841.4h0M91.5 839.3h0M91.5 837.1h0M91.5 834.9h0M91.6 832.6h0M91.6 830.3h0M91.7 827.9h0M91.7 825.5h0M91.8 823h0M91.8 820.5h0M91.9 818h0M91.9 815.3h0M92 812.7h0M92 809.9h0M92 807.1h0M92.1 804.3h0M92.1 801.4h0M92.2 798.4h0M92.2 795.4h0M92.3 792.3h0M92.3 789.2h0M92.4 785.9h0M92.4 782.7h0M92.5 779.3h0M92.5 775.9h0M92.5 879.3h0M92.6 877.9h0M92.6 876.5h0M92.7 875.1h0M92.7 873.7h0M92.8 872.2h0M92.8 870.7h0M92.9 869.2h0M92.9 867.6h0M93 866.1h0M93 864.4h0M93 862.8h0M93.1 861.1h0M93.1 859.4h0M93.2 857.6h0M93.2 855.8h0M93.3 854h0M93.3 852.1h0M93.4 850.2h0M93.4 848.2h0M93.4 846.2h0M93.5 844.2h0M93.5 842.1h0M93.6 840h0M93.6 837.8h0M93.7 835.6h0M93.7 833.4h0M93.8 831.1h0M93.8 828.7h0M93.9 826.3h0M93.9 823.9h0M93.9 821.4h0M94 818.8h0M94 816.2h0M94.1 813.5h0M94.1 810.8h0M94.2 808.1h0M94.2 805.2h0M94.3 802.4h0M94.3 799.4h0M94.4 796.4h0M94.4 793.3h0M94.4 790.2h0M94.5 787h0M94.5 783.7h0M94.6 780.4h0M94.6 777h0M94.7 773.6h0M95.2 942.8h0M95.2 942.7h0M95.3 942.7h0M95.3 942.7h0M95.4 942.6h0M95.4 942.6h0M95.4 942.6h0M95.5 942.5h0M95.5 942.5h0M95.6 942.4h0M95.6 942.4h0M95.7 942.3h0M95.7 942.3h0M95.8 942.3h0M95.8 942.2h0M95.9 942.2h0M95.9 942.1h0M95.9 942.1h0M96 942h0M96 942h0M96.1 941.9h0M96.1 941.9h0M96.2 941.8h0M96.2 941.7h0M96.3 941.7h0M96.3 941.6h0M96.4 941.6h0M96.4 941.5h0M96.4 941.4h0M96.5 941.4h0M96.5 941.3h0M96.6 941.3h0M96.6 941.2h0M96.7 941.1h0M96.7 941h0M96.8 941h0M96.8 940.9h0M96.9 940.8h0M96.9 940.7h0M96.9 940.7h0M97 940.6h0M97 940.5h0M97.1 940.4h0M97.1 940.3h0M97.2 940.3h0M97.2 940.2h0M97.3 940.1h0M97.3 940h0M97.4 939.9h0M97.4 939.8h0M97.4 939.7h0M97.5 939.6h0M97.5 939.5h0M97.6 939.4h0M97.6 939.3h0M97.7 939.2h0M97.7 939.1h0M97.8 939h0M97.8 938.8h0M97.9 938.7h0M97.9 938.6h0M97.9 938.5h0M98 938.4h0M98 938.2h0M98.1 938.1h0M98.1 938h0M98.2 937.8h0M98.2 937.7h0M98.3 937.6h0M98.3 937.4h0M98.4 937.3h0M98.4 937.1h0M98.4 937h0M98.5 936.8h0M98.5 936.7h0M98.6 936.5h0M98.6 936.3h0M98.7 936.2h0M98.7 936h0M98.8 935.8h0M98.8 935.6h0M98.8 935.4h0M98.9 935.3h0M98.9 935.1h0M99 934.9h0M99 934.7h0M99.1 934.5h0M99.1 934.3h0M99.2 934h0M99.2 933.8h0M99.3 933.6h0M99.3 933.4h0M99.3 933.2h0M99.4 932.9h0M99.4 932.7h0M99.5 932.4h0M99.5 932.2h0M99.6 931.9h0M99.6 931.7h0M99.7 931.4h0M99.7 931.1h0M99.8 930.9h0M99.8 930.6h0M99.8 930.3h0M99.9 930h0M99.9 929.7h0M100 929.4h0M100 929.1h0M100.1 928.7h0M100.1 928.4h0M100.2 928.1h0M100.2 927.7h0M100.3 927.4h0M100.3 927h0M100.3 926.7h0M100.4 926.3h0M100.4 925.9h0M100.5 925.6h0M100.5 925.2h0M100.6 924.8h0M100.6 924.4h0M100.7 923.9h0M100.7 923.5h0M100.8 923.1h0M100.8 922.6h0M100.8 922.2h0M100.9 921.7h0M100.9 921.2h0M101 920.8h0M101 920.3h0M101.1 919.8h0M101.1 919.3h0M101.2 918.7h0M101.2 918.2h0M101.3 917.7h0M101.3 917.1h0M101.3 916.5h0M101.4 916h0M101.4 915.4h0M101.5 914.8h0M101.5 914.1h0M101.6 913.5h0M101.6 912.9h0M101.7 912.2h0M101.7 911.6h0M101.8 910.9h0M101.8 910.2h0M101.8 909.5h0M101.9 908.7h0M101.9 908h0M102 907.2h0M102 906.5h0M102.1 905.7h0M102.1 904.9h0M102.2 904.1h0M102.2 903.2h0M102.3 902.4h0M102.3 901.5h0M102.3 900.6h0M102.4 899.7h0M102.4 898.8h0M102.5 897.8h0M102.5 896.8h0M102.6 895.9h0M102.6 894.9h0M102.7 893.8h0M102.7 892.8h0M102.8 891.7h0M102.8 890.6h0M102.8 889.5h0M102.9 888.4h0M102.9 887.2h0M103 886h0M103 884.8h0M103.1 883.6h0M103.1 882.3h0M103.2 881h0M103.2 879.7h0M103.3 878.4h0M103.3 877h0M103.3 875.6h0M103.4 874.2h0M103.4 872.7h0M103.5 871.2h0M103.5 869.7h0M103.6 868.1h0M103.6 866.6h0M103.7 864.9h0M103.7 863.3h0M103.8 861.6h0M103.8 859.9h0M103.8 858.2h0M103.9 856.4h0M103.9 854.5h0M104 852.7h0M104 850.8h0M104.1 848.8h0M104.1 846.8h0M104.2 844.8h0M104.2 842.8h0M104.3 840.7h0M104.3 838.5h0M104.3 836.3h0M104.4 834.1h0M104.4 831.8h0M104.5 829.4h0M104.5 827.1h0M104.6 824.6h0M104.6 822.1h0M104.7 819.6h0M104.7 817h0M104.7 814.4h0M104.8 811.7h0M104.8 808.9h0M104.9 806.1h0M104.9 803.3h0M105 800.3h0M105 797.4h0M105.1 794.3h0M105.1 791.2h0M105.2 788h0M105.2 784.8h0M105.2 781.5h0M105.3 778.1h0M105.3 774.7h0M105.7 928.5h0M105.7 928.2h0M105.8 927.8h0M105.8 927.5h0M105.9 927.1h0M105.9 926.8h0M106 926.4h0M106 926h0M106.1 925.6h0M106.1 925.3h0M106.2 924.9h0M106.2 924.4h0M106.2 924h0M106.3 923.6h0M106.3 923.2h0M106.4 922.7h0M106.4 922.3h0M106.5 921.8h0M106.5 921.4h0M106.6 920.9h0M106.6 920.4h0M106.7 919.9h0M106.7 919.4h0M106.7 918.9h0M106.8 918.3h0M106.8 917.8h0M106.9 917.2h0M106.9 916.7h0M107 916.1h0M107 915.5h0M107.1 914.9h0M107.1 914.3h0M107.2 913.7h0M107.2 913h0M107.2 912.4h0M107.3 911.7h0M107.3 911h0M107.4 910.3h0M107.4 909.6h0M107.5 908.9h0M107.5 908.2h0M107.6 907.4h0M107.6 906.6h0M107.7 905.9h0M107.7 905.1h0M107.7 904.2h0M107.8 903.4h0M107.8 902.6h0M107.9 901.7h0M107.9 900.8h0M108 899.9h0M108 899h0M108.1 898h0M108.1 897.1h0M108.2 896.1h0M108.2 895.1h0M108.2 894.1h0M108.3 893h0M108.3 891.9h0M108.4 890.9h0M108.4 889.7h0M108.5 888.6h0M108.5 887.5h0M108.6 886.3h0M108.6 885.1h0M108.7 883.8h0M108.7 882.6h0M108.7 881.3h0M108.8 880h0M108.8 878.6h0M108.9 877.3h0M108.9 875.9h0M109 874.5h0M109 873h0M109.1 871.5h0M109.1 870h0M109.2 868.5h0M109.2 866.9h0M109.2 865.3h0M109.3 863.7h0M109.3 862h0M109.4 860.3h0M109.4 858.5h0M109.5 856.8h0M109.5 854.9h0M109.6 853.1h0M109.6 851.2h0M109.7 849.3h0M109.7 847.3h0M109.7 845.3h0M109.8 843.2h0M109.8 841.1h0M109.9 839h0M109.9 836.8h0M110 834.6h0M110 832.3h0M110.1 830h0M110.1 827.6h0M110.1 825.2h0M110.2 822.7h0M110.2 820.2h0M110.3 817.6h0M110.3 815h0M110.4 812.3h0M110.4 809.5h0M110.5 806.8h0M110.5 803.9h0M110.6 801h0M110.6 798h0M110.6 795h0M110.7 791.9h0M110.7 788.7h0M110.8 785.5h0M110.8 782.2h0M110.9 778.8h0M110.9 775.4h0M111.1 930.7h0M111.2 930.4h0M111.2 930.2h0M111.3 929.9h0M111.3 929.6h0M111.4 929.2h0M111.4 928.9h0M111.5 928.6h0M111.5 928.3h0M111.6 927.9h0M111.6 927.6h0M111.6 927.2h0M111.7 926.9h0M111.7 926.5h0M111.8 926.2h0M111.8 925.8h0M111.9 925.4h0M111.9 925h0M112 924.6h0M112 924.2h0M112.1 923.8h0M112.1 923.3h0M112.1 922.9h0M112.2 922.4h0M112.2 922h0M112.3 921.5h0M112.3 921h0M112.4 920.6h0M112.4 920.1h0M112.5 919.6h0M112.5 919h0M112.6 918.5h0M112.6 918h0M112.6 917.4h0M112.7 916.9h0M112.7 916.3h0M112.8 915.7h0M112.8 915.1h0M112.9 914.5h0M112.9 913.9h0M113 913.2h0M113 912.6h0M113.1 911.9h0M113.1 911.3h0M113.1 910.6h0M113.2 909.9h0M113.2 909.1h0M113.3 908.4h0M113.3 907.7h0M113.4 906.9h0M113.4 906.1h0M113.5 905.3h0M113.5 904.5h0M113.6 903.7h0M113.6 902.8h0M113.6 902h0M113.7 901.1h0M113.7 900.2h0M113.8 899.3h0M113.8 898.4h0M113.9 897.4h0M113.9 896.4h0M114 895.4h0M114 894.4h0M114.1 893.4h0M114.1 892.3h0M114.1 891.2h0M114.2 890.1h0M114.2 889h0M114.3 887.9h0M114.3 886.7h0M114.4 885.5h0M114.4 884.3h0M114.5 883h0M114.5 881.7h0M114.6 880.4h0M114.6 879.1h0M114.6 877.8h0M114.7 876.4h0M114.7 875h0M114.8 873.5h0M114.8 872.1h0M114.9 870.6h0M114.9 869h0M115 867.5h0M115 865.9h0M115.1 864.2h0M115.1 862.6h0M115.1 860.9h0M115.2 859.1h0M115.2 857.4h0M115.3 855.6h0M115.3 853.7h0M115.4 851.8h0M115.4 849.9h0M115.5 848h0M115.5 846h0M115.5 843.9h0M115.6 841.8h0M115.6 839.7h0M115.7 837.6h0M115.7 835.3h0M115.8 833.1h0M115.8 830.8h0M115.9 828.4h0M115.9 826h0M116 823.6h0M116 821h0M116 818.5h0M116.1 815.9h0M116.1 813.2h0M116.2 810.5h0M116.2 807.7h0M116.3 804.9h0M116.3 802h0M116.4 799h0M116.4 796h0M116.5 793h0M116.5 789.8h0M116.5 786.6h0M116.6 783.3h0M116.6 780h0M116.7 776.6h0M116.7 773.1h0M117 918.7h0M117.1 918.2h0M117.1 917.6h0M117.2 917h0M117.2 916.5h0M117.3 915.9h0M117.3 915.3h0M117.4 914.7h0M117.4 914.1h0M117.5 913.5h0M117.5 912.8h0M117.5 912.2h0M117.6 911.5h0M117.6 910.8h0M117.7 910.1h0M117.7 909.4h0M117.8 908.7h0M117.8 907.9h0M117.9 907.2h0M117.9 906.4h0M118 905.6h0M118 904.8h0M118 904h0M118.1 903.1h0M118.1 902.3h0M118.2 901.4h0M118.2 900.5h0M118.3 899.6h0M118.3 898.7h0M118.4 897.7h0M118.4 896.8h0M118.5 895.8h0M118.5 894.8h0M118.5 893.7h0M118.6 892.7h0M118.6 891.6h0M118.7 890.5h0M118.7 889.4h0M118.8 888.2h0M118.8 887.1h0M118.9 885.9h0M118.9 884.7h0M119 883.4h0M119 882.2h0M119 880.9h0M119.1 879.6h0M119.1 878.2h0M119.2 876.8h0M119.2 875.4h0M119.3 874h0M119.3 872.6h0M119.4 871.1h0M119.4 869.5h0M119.5 868h0M119.5 866.4h0M119.5 864.8h0M119.6 863.1h0M119.6 861.4h0M119.7 859.7h0M119.7 858h0M119.8 856.2h0M119.8 854.4h0M119.9 852.5h0M119.9 850.6h0M120 848.6h0M120 846.6h0M120 844.6h0M120.1 842.6h0M120.1 840.4h0M120.2 838.3h0M120.2 836.1h0M120.3 833.8h0M120.3 831.5h0M120.4 829.2h0M120.4 826.8h0M120.5 824.4h0M120.5 821.9h0M120.5 819.4h0M120.6 816.8h0M120.6 814.1h0M120.7 811.4h0M120.7 808.7h0M120.8 805.8h0M120.8 803h0M120.9 800h0M120.9 797.1h0M120.9 794h0M121 790.9h0M121 787.7h0M121.1 784.5h0M121.1 781.1h0M121.2 777.8h0M121.2 774.3h0M121.4 872.7h0M121.4 871.2h0M121.4 869.7h0M121.5 868.2h0M121.5 866.6h0M121.6 865h0M121.6 863.3h0M121.7 861.7h0M121.7 859.9h0M121.8 858.2h0M121.8 856.4h0M121.9 854.6h0M121.9 852.7h0M121.9 850.8h0M122 848.9h0M122 846.9h0M122.1 844.9h0M122.1 842.8h0M122.2 840.7h0M122.2 838.6h0M122.3 836.4h0M122.3 834.1h0M122.4 831.8h0M122.4 829.5h0M122.4 827.1h0M122.5 824.7h0M122.5 822.2h0M122.6 819.7h0M122.6 817.1h0M122.7 814.5h0M122.7 811.8h0M122.8 809h0M122.8 806.2h0M122.9 803.3h0M122.9 800.4h0M122.9 797.4h0M123 794.4h0M123 791.3h0M123.1 788.1h0M123.1 784.9h0M123.2 781.6h0M123.2 778.2h0M123.3 774.7h0M123.4 889.4h0M123.4 888.3h0M123.5 887.1h0M123.5 885.9h0M123.6 884.7h0M123.6 883.5h0M123.7 882.2h0M123.7 880.9h0M123.8 879.6h0M123.8 878.3h0M123.9 876.9h0M123.9 875.5h0M123.9 874.1h0M124 872.6h0M124 871.1h0M124.1 869.6h0M124.1 868h0M124.2 866.5h0M124.2 864.9h0M124.3 863.2h0M124.3 861.5h0M124.4 859.8h0M124.4 858h0M124.4 856.3h0M124.5 854.4h0M124.5 852.6h0M124.6 850.7h0M124.6 848.7h0M124.7 846.7h0M124.7 844.7h0M124.8 842.6h0M124.8 840.5h0M124.9 838.4h0M124.9 836.2h0M124.9 833.9h0M125 831.6h0M125 829.3h0M125.1 826.9h0M125.1 824.5h0M125.2 822h0M125.2 819.5h0M125.3 816.9h0M125.3 814.2h0M125.4 811.5h0M125.4 808.8h0M125.4 806h0M125.5 803.1h0M125.5 800.2h0M125.6 797.2h0M125.6 794.1h0M125.7 791h0M125.7 787.8h0M125.8 784.6h0M125.8 781.3h0M125.9 777.9h0M125.9 774.4h0M126 915.6h0M126.1 915h0M126.1 914.4h0M126.2 913.8h0M126.2 913.1h0M126.3 912.5h0M126.3 911.8h0M126.4 911.1h0M126.4 910.4h0M126.4 909.7h0M126.5 909h0M126.5 908.3h0M126.6 907.5h0M126.6 906.8h0M126.7 906h0M126.7 905.2h0M126.8 904.4h0M126.8 903.5h0M126.8 902.7h0M126.9 901.8h0M126.9 900.9h0M127 900h0M127 899.1h0M127.1 898.2h0M127.1 897.2h0M127.2 896.2h0M127.2 895.2h0M127.3 894.2h0M127.3 893.2h0M127.3 892.1h0M127.4 891h0M127.4 889.9h0M127.5 888.8h0M127.5 887.6h0M127.6 886.5h0M127.6 885.2h0M127.7 884h0M127.7 882.8h0M127.8 881.5h0M127.8 880.2h0M127.8 878.9h0M127.9 877.5h0M127.9 876.1h0M128 874.7h0M128 873.2h0M128.1 871.8h0M128.1 870.3h0M128.2 868.7h0M128.2 867.2h0M128.3 865.6h0M128.3 863.9h0M128.3 862.2h0M128.4 860.5h0M128.4 858.8h0M128.5 857h0M128.5 855.2h0M128.6 853.4h0M128.6 851.5h0M128.7 849.6h0M128.7 847.6h0M128.8 845.6h0M128.8 843.5h0M128.8 841.4h0M128.9 839.3h0M128.9 837.1h0M129 834.9h0M129 832.6h0M129.1 830.3h0M129.1 828h0M129.2 825.5h0M129.2 823.1h0M129.3 820.6h0M129.3 818h0M129.3 815.4h0M129.4 812.7h0M129.4 810h0M129.5 807.2h0M129.5 804.3h0M129.6 801.4h0M129.6 798.5h0M129.7 795.4h0M129.7 792.4h0M129.8 789.2h0M129.8 786h0M129.8 782.7h0M129.9 779.4h0M129.9 775.9h0M130 772.5h0M130.1 887.7h0M130.1 886.5h0M130.2 885.3h0M130.2 884.1h0M130.3 882.9h0M130.3 881.6h0M130.3 880.3h0M130.4 878.9h0M130.4 877.6h0M130.5 876.2h0M130.5 874.8h0M130.6 873.3h0M130.6 871.9h0M130.7 870.4h0M130.7 868.8h0M130.8 867.3h0M130.8 865.7h0M130.8 864h0M130.9 862.4h0M130.9 860.7h0M131 858.9h0M131 857.2h0M131.1 855.3h0M131.1 853.5h0M131.2 851.6h0M131.2 849.7h0M131.3 847.7h0M131.3 845.7h0M131.3 843.7h0M131.4 841.6h0M131.4 839.5h0M131.5 837.3h0M131.5 835.1h0M131.6 832.8h0M131.6 830.5h0M131.7 828.1h0M131.7 825.7h0M131.8 823.2h0M131.8 820.7h0M131.8 818.2h0M131.9 815.6h0M131.9 812.9h0M132 810.2h0M132 807.4h0M132.1 804.5h0M132.1 801.6h0M132.2 798.7h0M132.2 795.7h0M132.2 792.6h0M132.3 789.4h0M132.3 786.2h0M132.4 782.9h0M132.4 779.6h0M132.5 776.2h0M132.5 772.7h0M132.6 887.7h0M132.7 886.5h0M132.7 885.3h0M132.7 884.1h0M132.8 882.9h0M132.8 881.6h0M132.9 880.3h0M132.9 878.9h0M133 877.6h0M133 876.2h0M133.1 874.8h0M133.1 873.3h0M133.2 871.9h0M133.2 870.4h0M133.2 868.8h0M133.3 867.3h0M133.3 865.7h0M133.4 864h0M133.4 862.4h0M133.5 860.7h0M133.5 858.9h0M133.6 857.2h0M133.6 855.3h0M133.7 853.5h0M133.7 851.6h0M133.7 849.7h0M133.8 847.7h0M133.8 845.7h0M133.9 843.7h0M133.9 841.6h0M134 839.5h0M134 837.3h0M134.1 835.1h0M134.1 832.8h0M134.2 830.5h0M134.2 828.1h0M134.2 825.7h0M134.3 823.2h0M134.3 820.7h0M134.4 818.2h0M134.4 815.6h0M134.5 812.9h0M134.5 810.2h0M134.6 807.4h0M134.6 804.5h0M134.7 801.6h0M134.7 798.7h0M134.7 795.7h0M134.8 792.6h0M134.8 789.4h0M134.9 786.2h0M134.9 782.9h0M135 779.6h0M135 776.2h0M135.1 772.7h0M135.1 933h0M135.2 932.7h0M135.2 932.5h0M135.2 932.2h0M135.3 932h0M135.3 931.7h0M135.4 931.5h0M135.4 931.2h0M135.5 930.9h0M135.5 930.6h0M135.6 930.3h0M135.6 930.1h0M135.7 929.8h0M135.7 929.4h0M135.7 929.1h0M135.8 928.8h0M135.8 928.5h0M135.9 928.2h0M135.9 927.8h0M136 927.5h0M136 927.1h0M136.1 926.8h0M136.1 926.4h0M136.2 926h0M136.2 925.6h0M136.2 925.2h0M136.3 924.9h0M136.3 924.4h0M136.4 924h0M136.4 923.6h0M136.5 923.2h0M136.5 922.7h0M136.6 922.3h0M136.6 921.8h0M136.7 921.3h0M136.7 920.9h0M136.7 920.4h0M136.8 919.9h0M136.8 919.4h0M136.9 918.9h0M136.9 918.3h0M137 917.8h0M137 917.2h0M137.1 916.7h0M137.1 916.1h0M137.2 915.5h0M137.2 914.9h0M137.2 914.3h0M137.3 913.7h0M137.3 913h0M137.4 912.4h0M137.4 911.7h0M137.5 911h0M137.5 910.3h0M137.6 909.6h0M137.6 908.9h0M137.6 908.2h0M137.7 907.4h0M137.7 906.6h0M137.8 905.9h0M137.8 905.1h0M137.9 904.2h0M137.9 903.4h0M138 902.5h0M138 901.7h0M138.1 900.8h0M138.1 899.9h0M138.1 899h0M138.2 898h0M138.2 897.1h0M138.3 896.1h0M138.3 895.1h0M138.4 894h0M138.4 893h0M138.5 891.9h0M138.5 890.8h0M138.6 889.7h0M138.6 888.6h0M138.6 887.4h0M138.7 886.3h0M138.7 885.1h0M138.8 883.8h0M138.8 882.6h0M138.9 881.3h0M138.9 880h0M139 878.6h0M139 877.3h0M139.1 875.9h0M139.1 874.5h0M139.1 873h0M139.2 871.5h0M139.2 870h0M139.3 868.5h0M139.3 866.9h0M139.4 865.3h0M139.4 863.7h0M139.5 862h0M139.5 860.3h0M139.6 858.5h0M139.6 856.7h0M139.6 854.9h0M139.7 853.1h0M139.7 851.2h0M139.8 849.2h0M139.8 847.3h0M139.9 845.3h0M139.9 843.2h0M140 841.1h0M140 839h0M140.1 836.8h0M140.1 834.6h0M140.1 832.3h0M140.2 829.9h0M140.2 827.6h0M140.3 825.2h0M140.3 822.7h0M140.4 820.2h0M140.4 817.6h0M140.5 815h0M140.5 812.3h0M140.6 809.5h0M140.6 806.7h0M140.6 803.9h0M140.7 801h0M140.7 798h0M140.8 795h0M140.8 791.9h0M140.9 788.7h0M140.9 785.5h0M141 782.2h0M141 778.8h0M141.1 775.4h0M141.2 898.9h0M141.2 897.9h0M141.3 897h0M141.3 896h0M141.4 895h0M141.4 894h0M141.5 892.9h0M141.5 891.9h0M141.6 890.8h0M141.6 889.7h0M141.6 888.5h0M141.7 887.4h0M141.7 886.2h0M141.8 885h0M141.8 883.7h0M141.9 882.5h0M141.9 881.2h0M142 879.9h0M142 878.5h0M142.1 877.2h0M142.1 875.8h0M142.1 874.4h0M142.2 872.9h0M142.2 871.4h0M142.3 869.9h0M142.3 868.4h0M142.4 866.8h0M142.4 865.2h0M142.5 863.5h0M142.5 861.9h0M142.6 860.1h0M142.6 858.4h0M142.6 856.6h0M142.7 854.8h0M142.7 852.9h0M142.8 851h0M142.8 849.1h0M142.9 847.1h0M142.9 845.1h0M143 843.1h0M143 841h0M143 838.8h0M143.1 836.6h0M143.1 834.4h0M143.2 832.1h0M143.2 829.8h0M143.3 827.4h0M143.3 825h0M143.4 822.5h0M143.4 820h0M143.5 817.4h0M143.5 814.8h0M143.5 812.1h0M143.6 809.3h0M143.6 806.5h0M143.7 803.7h0M143.7 800.8h0M143.8 797.8h0M143.8 794.7h0M143.9 791.6h0M143.9 788.5h0M144 785.2h0M144 781.9h0M144 778.6h0M144.1 775.1h0M144.2 849.8h0M144.2 847.9h0M144.3 845.9h0M144.3 843.8h0M144.4 841.8h0M144.4 839.6h0M144.5 837.5h0M144.5 835.2h0M144.5 833h0M144.6 830.7h0M144.6 828.3h0M144.7 825.9h0M144.7 823.4h0M144.8 820.9h0M144.8 818.4h0M144.9 815.8h0M144.9 813.1h0M145 810.4h0M145 807.6h0M145 804.8h0M145.1 801.9h0M145.1 798.9h0M145.2 795.9h0M145.2 792.8h0M145.3 789.7h0M145.3 786.5h0M145.4 783.2h0M145.4 779.9h0M145.5 776.5h0M145.5 773h0M145.5 940.7h0M145.6 940.6h0M145.6 940.6h0M145.7 940.5h0M145.7 940.4h0M145.8 940.3h0M145.8 940.2h0M145.9 940.1h0M145.9 940h0M146 939.9h0M146 939.9h0M146 939.8h0M146.1 939.7h0M146.1 939.6h0M146.2 939.5h0M146.2 939.4h0M146.3 939.2h0M146.3 939.1h0M146.4 939h0M146.4 938.9h0M146.5 938.8h0M146.5 938.7h0M146.5 938.6h0M146.6 938.4h0M146.6 938.3h0M146.7 938.2h0M146.7 938h0M146.8 937.9h0M146.8 937.8h0M146.9 937.6h0M146.9 937.5h0M147 937.4h0M147 937.2h0M147 937.1h0M147.1 936.9h0M147.1 936.7h0M147.2 936.6h0M147.2 936.4h0M147.3 936.2h0M147.3 936.1h0M147.4 935.9h0M147.4 935.7h0M147.5 935.5h0M147.5 935.4h0M147.5 935.2h0M147.6 935h0M147.6 934.8h0M147.7 934.6h0M147.7 934.4h0M147.8 934.2h0M147.8 933.9h0M147.9 933.7h0M147.9 933.5h0M148 933.3h0M148 933h0M148 932.8h0M148.1 932.6h0M148.1 932.3h0M148.2 932.1h0M148.2 931.8h0M148.3 931.5h0M148.3 931.3h0M148.4 931h0M148.4 930.7h0M148.5 930.4h0M148.5 930.1h0M148.5 929.9h0M148.6 929.5h0M148.6 929.2h0M148.7 928.9h0M148.7 928.6h0M148.8 928.3h0M148.8 927.9h0M148.9 927.6h0M148.9 927.2h0M148.9 926.9h0M149 926.5h0M149 926.1h0M149.1 925.8h0M149.1 925.4h0M149.2 925h0M149.2 924.6h0M149.3 924.2h0M149.3 923.7h0M149.4 923.3h0M149.4 922.9h0M149.4 922.4h0M149.5 922h0M149.5 921.5h0M149.6 921h0M149.6 920.5h0M149.7 920h0M149.7 919.5h0M149.8 919h0M149.8 918.5h0M149.9 918h0M149.9 917.4h0M149.9 916.8h0M150 916.3h0M150 915.7h0M150.1 915.1h0M150.1 914.5h0M150.2 913.9h0M150.2 913.2h0M150.3 912.6h0M150.3 911.9h0M150.4 911.2h0M150.4 910.6h0M150.4 909.8h0M150.5 909.1h0M150.5 908.4h0M150.6 907.6h0M150.6 906.9h0M150.7 906.1h0M150.7 905.3h0M150.8 904.5h0M150.8 903.7h0M150.9 902.8h0M150.9 902h0M150.9 901.1h0M151 900.2h0M151 899.3h0M151.1 898.3h0M151.1 897.4h0M151.2 896.4h0M151.2 895.4h0M151.3 894.4h0M151.3 893.3h0M151.4 892.3h0M151.4 891.2h0M151.4 890.1h0M151.5 889h0M151.5 887.8h0M151.6 886.6h0M151.6 885.5h0M151.7 884.2h0M151.7 883h0M151.8 881.7h0M151.8 880.4h0M151.9 879.1h0M151.9 877.7h0M151.9 876.3h0M152 874.9h0M152 873.5h0M152.1 872h0M152.1 870.5h0M152.2 869h0M152.2 867.4h0M152.3 865.8h0M152.3 864.2h0M152.4 862.5h0M152.4 860.8h0M152.4 859.1h0M152.5 857.3h0M152.5 855.5h0M152.6 853.7h0M152.6 851.8h0M152.7 849.9h0M152.7 847.9h0M152.8 845.9h0M152.8 843.9h0M152.9 841.8h0M152.9 839.7h0M152.9 837.5h0M153 835.3h0M153 833h0M153.1 830.7h0M153.1 828.4h0M153.2 825.9h0M153.2 823.5h0M153.3 821h0M153.3 818.4h0M153.4 815.8h0M153.4 813.2h0M153.4 810.4h0M153.5 807.7h0M153.5 804.8h0M153.6 801.9h0M153.6 799h0M153.7 796h0M153.7 792.9h0M153.8 789.7h0M153.8 786.5h0M153.9 783.3h0M153.9 779.9h0M153.9 776.5h0M154 773h0M154.1 884.8h0M154.1 883.5h0M154.2 882.3h0M154.2 881h0M154.3 879.7h0M154.3 878.3h0M154.3 877h0M154.4 875.6h0M154.4 874.1h0M154.5 872.7h0M154.5 871.2h0M154.6 869.7h0M154.6 868.1h0M154.7 866.5h0M154.7 864.9h0M154.8 863.3h0M154.8 861.6h0M154.8 859.9h0M154.9 858.1h0M154.9 856.3h0M155 854.5h0M155 852.7h0M155.1 850.7h0M155.1 848.8h0M155.2 846.8h0M155.2 844.8h0M155.3 842.7h0M155.3 840.6h0M155.3 838.5h0M155.4 836.3h0M155.4 834h0M155.5 831.8h0M155.5 829.4h0M155.6 827h0M155.6 824.6h0M155.7 822.1h0M155.7 819.6h0M155.8 817h0M155.8 814.4h0M155.8 811.7h0M155.9 808.9h0M155.9 806.1h0M156 803.2h0M156 800.3h0M156.1 797.3h0M156.1 794.3h0M156.2 791.2h0M156.2 788h0M156.3 784.7h0M156.3 781.4h0M156.3 778.1h0M156.4 774.6h0M156.5 941.7h0M156.5 941.7h0M156.6 941.6h0M156.6 941.6h0M156.7 941.5h0M156.7 941.4h0M156.8 941.4h0M156.8 941.3h0M156.8 941.3h0M156.9 941.2h0M156.9 941.1h0M157 941h0M157 941h0M157.1 940.9h0M157.1 940.8h0M157.2 940.8h0M157.2 940.7h0M157.3 940.6h0M157.3 940.5h0M157.3 940.4h0M157.4 940.4h0M157.4 940.3h0M157.5 940.2h0M157.5 940.1h0M157.6 940h0M157.6 939.9h0M157.7 939.8h0M157.7 939.7h0M157.8 939.6h0M157.8 939.5h0M157.8 939.4h0M157.9 939.3h0M157.9 939.2h0M158 939.1h0M158 939h0M158.1 938.9h0M158.1 938.7h0M158.2 938.6h0M158.2 938.5h0M158.3 938.4h0M158.3 938.2h0M158.3 938.1h0M158.4 938h0M158.4 937.9h0M158.5 937.7h0M158.5 937.6h0M158.6 937.4h0M158.6 937.3h0M158.7 937.1h0M158.7 937h0M158.8 936.8h0M158.8 936.7h0M158.8 936.5h0M158.9 936.3h0M158.9 936.2h0M159 936h0M159 935.8h0M159.1 935.6h0M159.1 935.5h0M159.2 935.3h0M159.2 935.1h0M159.3 934.9h0M159.3 934.7h0M159.3 934.5h0M159.4 934.3h0M159.4 934.1h0M159.5 933.8h0M159.5 933.6h0M159.6 933.4h0M159.6 933.2h0M159.7 932.9h0M159.7 932.7h0M159.7 932.5h0M159.8 932.2h0M159.8 931.9h0M159.9 931.7h0M159.9 931.4h0M160 931.2h0M160 930.9h0M160.1 930.6h0M160.1 930.3h0M160.2 930h0M160.2 929.7h0M160.2 929.4h0M160.3 929.1h0M160.3 928.8h0M160.4 928.4h0M160.4 928.1h0M160.5 927.8h0M160.5 927.4h0M160.6 927.1h0M160.6 926.7h0M160.7 926.3h0M160.7 926h0M160.7 925.6h0M160.8 925.2h0M160.8 924.8h0M160.9 924.4h0M160.9 924h0M161 923.5h0M161 923.1h0M161.1 922.7h0M161.1 922.2h0M161.2 921.8h0M161.2 921.3h0M161.2 920.8h0M161.3 920.3h0M161.3 919.8h0M161.4 919.3h0M161.4 918.8h0M161.5 918.2h0M161.5 917.7h0M161.6 917.1h0M161.6 916.6h0M161.7 916h0M161.7 915.4h0M161.7 914.8h0M161.8 914.2h0M161.8 913.6h0M161.9 912.9h0M161.9 912.3h0M162 911.6h0M162 910.9h0M162.1 910.2h0M162.1 909.5h0M162.2 908.8h0M162.2 908.1h0M162.2 907.3h0M162.3 906.5h0M162.3 905.7h0M162.4 904.9h0M162.4 904.1h0M162.5 903.3h0M162.5 902.4h0M162.6 901.6h0M162.6 900.7h0M162.7 899.8h0M162.7 898.8h0M162.7 897.9h0M162.8 896.9h0M162.8 895.9h0M162.9 894.9h0M162.9 893.9h0M163 892.9h0M163 891.8h0M163.1 890.7h0M163.1 889.6h0M163.2 888.4h0M163.2 887.3h0M163.2 886.1h0M163.3 884.9h0M163.3 883.7h0M163.4 882.4h0M163.4 881.1h0M163.5 879.8h0M163.5 878.5h0M163.6 877.1h0M163.6 875.7h0M163.7 874.3h0M163.7 872.8h0M163.7 871.3h0M163.8 869.8h0M163.8 868.3h0M163.9 866.7h0M163.9 865.1h0M164 863.4h0M164 861.7h0M164.1 860h0M164.1 858.3h0M164.2 856.5h0M164.2 854.7h0M164.2 852.8h0M164.3 850.9h0M164.3 849h0M164.4 847h0M164.4 845h0M164.5 842.9h0M164.5 840.8h0M164.6 838.7h0M164.6 836.5h0M164.7 834.2h0M164.7 831.9h0M164.7 829.6h0M164.8 827.2h0M164.8 824.8h0M164.9 822.3h0M164.9 819.8h0M165 817.2h0M165 814.6h0M165.1 811.9h0M165.1 809.1h0M165.2 806.3h0M165.2 803.5h0M165.2 800.6h0M165.3 797.6h0M165.3 794.5h0M165.4 791.4h0M165.4 788.3h0M165.5 785h0M165.5 781.7h0M165.6 778.3h0M165.6 774.9h0M165.7 913.5h0M165.8 912.9h0M165.8 912.2h0M165.9 911.6h0M165.9 910.9h0M166 910.2h0M166 909.5h0M166.1 908.7h0M166.1 908h0M166.1 907.2h0M166.2 906.5h0M166.2 905.7h0M166.3 904.9h0M166.3 904.1h0M166.4 903.2h0M166.4 902.4h0M166.5 901.5h0M166.5 900.6h0M166.6 899.7h0M166.6 898.8h0M166.6 897.8h0M166.7 896.9h0M166.7 895.9h0M166.8 894.9h0M166.8 893.8h0M166.9 892.8h0M166.9 891.7h0M167 890.6h0M167 889.5h0M167.1 888.4h0M167.1 887.2h0M167.1 886h0M167.2 884.8h0M167.2 883.6h0M167.3 882.3h0M167.3 881h0M167.4 879.7h0M167.4 878.4h0M167.5 877h0M167.5 875.6h0M167.6 874.2h0M167.6 872.7h0M167.6 871.2h0M167.7 869.7h0M167.7 868.2h0M167.8 866.6h0M167.8 865h0M167.9 863.3h0M167.9 861.6h0M168 859.9h0M168 858.2h0M168.1 856.4h0M168.1 854.5h0M168.1 852.7h0M168.2 850.8h0M168.2 848.8h0M168.3 846.9h0M168.3 844.8h0M168.4 842.8h0M168.4 840.7h0M168.5 838.5h0M168.5 836.3h0M168.6 834.1h0M168.6 831.8h0M168.6 829.5h0M168.7 827.1h0M168.7 824.6h0M168.8 822.2h0M168.8 819.6h0M168.9 817h0M168.9 814.4h0M169 811.7h0M169 809h0M169.1 806.2h0M169.1 803.3h0M169.1 800.4h0M169.2 797.4h0M169.2 794.3h0M169.3 791.2h0M169.3 788h0M169.4 784.8h0M169.4 781.5h0M169.5 778.1h0M169.5 774.7h0M169.6 911.8h0M169.6 911.1h0M169.7 910.4h0M169.7 909.7h0M169.8 909h0M169.8 908.3h0M169.9 907.5h0M169.9 906.8h0M170 906h0M170 905.2h0M170.1 904.4h0M170.1 903.5h0M170.1 902.7h0M170.2 901.8h0M170.2 900.9h0M170.3 900h0M170.3 899.1h0M170.4 898.2h0M170.4 897.2h0M170.5 896.2h0M170.5 895.2h0M170.6 894.2h0M170.6 893.2h0M170.6 892.1h0M170.7 891h0M170.7 889.9h0M170.8 888.8h0M170.8 887.6h0M170.9 886.4h0M170.9 885.2h0M171 884h0M171 882.8h0M171 881.5h0M171.1 880.2h0M171.1 878.8h0M171.2 877.5h0M171.2 876.1h0M171.3 874.7h0M171.3 873.2h0M171.4 871.8h0M171.4 870.3h0M171.5 868.7h0M171.5 867.1h0M171.5 865.5h0M171.6 863.9h0M171.6 862.2h0M171.7 860.5h0M171.7 858.8h0M171.8 857h0M171.8 855.2h0M171.9 853.4h0M171.9 851.5h0M172 849.6h0M172 847.6h0M172 845.6h0M172.1 843.5h0M172.1 841.4h0M172.2 839.3h0M172.2 837.1h0M172.3 834.9h0M172.3 832.6h0M172.4 830.3h0M172.4 827.9h0M172.5 825.5h0M172.5 823.1h0M172.5 820.6h0M172.6 818h0M172.6 815.4h0M172.7 812.7h0M172.7 810h0M172.8 807.2h0M172.8 804.3h0M172.9 801.4h0M172.9 798.5h0M173 795.4h0M173 792.4h0M173 789.2h0M173.1 786h0M173.1 782.7h0M173.2 779.4h0M173.2 775.9h0M173.3 772.4h0M173.4 920.9h0M173.4 920.4h0M173.5 919.9h0M173.5 919.4h0M173.5 918.9h0M173.6 918.4h0M173.6 917.8h0M173.7 917.3h0M173.7 916.7h0M173.8 916.1h0M173.8 915.6h0M173.9 915h0M173.9 914.3h0M174 913.7h0M174 913.1h0M174 912.4h0M174.1 911.8h0M174.1 911.1h0M174.2 910.4h0M174.2 909.7h0M174.3 909h0M174.3 908.2h0M174.4 907.5h0M174.4 906.7h0M174.5 905.9h0M174.5 905.1h0M174.5 904.3h0M174.6 903.5h0M174.6 902.6h0M174.7 901.8h0M174.7 900.9h0M174.8 900h0M174.8 899.1h0M174.9 898.1h0M174.9 897.2h0M175 896.2h0M175 895.2h0M175 894.2h0M175.1 893.1h0M175.1 892.1h0M175.2 891h0M175.2 889.9h0M175.3 888.7h0M175.3 887.6h0M175.4 886.4h0M175.4 885.2h0M175.5 884h0M175.5 882.7h0M175.5 881.4h0M175.6 880.1h0M175.6 878.8h0M175.7 877.4h0M175.7 876h0M175.8 874.6h0M175.8 873.2h0M175.9 871.7h0M175.9 870.2h0M176 868.6h0M176 867.1h0M176 865.5h0M176.1 863.8h0M176.1 862.2h0M176.2 860.5h0M176.2 858.7h0M176.3 856.9h0M176.3 855.1h0M176.4 853.3h0M176.4 851.4h0M176.4 849.5h0M176.5 847.5h0M176.5 845.5h0M176.6 843.4h0M176.6 841.3h0M176.7 839.2h0M176.7 837h0M176.8 834.8h0M176.8 832.5h0M176.9 830.2h0M176.9 827.8h0M176.9 825.4h0M177 823h0M177 820.4h0M177.1 817.9h0M177.1 815.2h0M177.2 812.6h0M177.2 809.8h0M177.3 807h0M177.3 804.2h0M177.4 801.3h0M177.4 798.3h0M177.4 795.3h0M177.5 792.2h0M177.5 789.1h0M177.6 785.8h0M177.6 782.5h0M177.7 779.2h0M177.7 775.8h0M177.9 910.1h0M177.9 909.4h0M177.9 908.6h0M178 907.9h0M178 907.1h0M178.1 906.4h0M178.1 905.6h0M178.2 904.8h0M178.2 903.9h0M178.3 903.1h0M178.3 902.2h0M178.4 901.4h0M178.4 900.5h0M178.4 899.6h0M178.5 898.6h0M178.5 897.7h0M178.6 896.7h0M178.6 895.7h0M178.7 894.7h0M178.7 893.7h0M178.8 892.6h0M178.8 891.6h0M178.9 890.5h0M178.9 889.3h0M178.9 888.2h0M179 887h0M179 885.8h0M179.1 884.6h0M179.1 883.4h0M179.2 882.1h0M179.2 880.8h0M179.3 879.5h0M179.3 878.2h0M179.4 876.8h0M179.4 875.4h0M179.4 874h0M179.5 872.5h0M179.5 871h0M179.6 869.5h0M179.6 867.9h0M179.7 866.3h0M179.7 864.7h0M179.8 863.1h0M179.8 861.4h0M179.9 859.7h0M179.9 857.9h0M179.9 856.1h0M180 854.3h0M180 852.4h0M180.1 850.5h0M180.1 848.6h0M180.2 846.6h0M180.2 844.6h0M180.3 842.5h0M180.3 840.4h0M180.4 838.2h0M180.4 836h0M180.4 833.8h0M180.5 831.5h0M180.5 829.1h0M180.6 826.7h0M180.6 824.3h0M180.7 821.8h0M180.7 819.3h0M180.8 816.7h0M180.8 814h0M180.9 811.3h0M180.9 808.6h0M180.9 805.8h0M181 802.9h0M181 799.9h0M181.1 797h0M181.1 793.9h0M181.2 790.8h0M181.2 787.6h0M181.3 784.3h0M181.3 781h0M181.4 777.6h0M181.4 774.2h0M181.5 943.6h0M181.5 943.6h0M181.6 943.6h0M181.6 943.6h0M181.7 943.6h0M181.7 943.5h0M181.8 943.5h0M181.8 943.5h0M181.8 943.5h0M181.9 943.5h0M181.9 943.4h0M182 943.4h0M182 943.4h0M182.1 943.4h0M182.1 943.4h0M182.2 943.3h0M182.2 943.3h0M182.3 943.3h0M182.3 943.3h0M182.3 943.2h0M182.4 943.2h0M182.4 943.2h0M182.5 943.1h0M182.5 943.1h0M182.6 943.1h0M182.6 943.1h0M182.7 943h0M182.7 943h0M182.8 943h0M182.8 942.9h0M182.8 942.9h0M182.9 942.9h0M182.9 942.8h0M183 942.8h0M183 942.8h0M183.1 942.7h0M183.1 942.7h0M183.2 942.7h0M183.2 942.6h0M183.3 942.6h0M183.3 942.5h0M183.3 942.5h0M183.4 942.5h0M183.4 942.4h0M183.5 942.4h0M183.5 942.3h0M183.6 942.3h0M183.6 942.2h0M183.7 942.2h0M183.7 942.2h0M183.8 942.1h0M183.8 942.1h0M183.8 942h0M183.9 941.9h0M183.9 941.9h0M184 941.8h0M184 941.8h0M184.1 941.7h0M184.1 941.7h0M184.2 941.6h0M184.2 941.6h0M184.3 941.5h0M184.3 941.4h0M184.3 941.4h0M184.4 941.3h0M184.4 941.2h0M184.5 941.2h0M184.5 941.1h0M184.6 941h0M184.6 941h0M184.7 940.9h0M184.7 940.8h0M184.8 940.7h0M184.8 940.7h0M184.8 940.6h0M184.9 940.5h0M184.9 940.4h0M185 940.3h0M185 940.2h0M185.1 940.2h0M185.1 940.1h0M185.2 940h0M185.2 939.9h0M185.3 939.8h0M185.3 939.7h0M185.3 939.6h0M185.4 939.5h0M185.4 939.4h0M185.5 939.3h0M185.5 939.2h0M185.6 939.1h0M185.6 938.9h0M185.7 938.8h0M185.7 938.7h0M185.8 938.6h0M185.8 938.5h0M185.8 938.3h0M185.9 938.2h0M185.9 938.1h0M186 938h0M186 937.8h0M186.1 937.7h0M186.1 937.5h0M186.2 937.4h0M186.2 937.2h0M186.3 937.1h0M186.3 936.9h0M186.3 936.8h0M186.4 936.6h0M186.4 936.5h0M186.5 936.3h0M186.5 936.1h0M186.6 936h0M186.6 935.8h0M186.7 935.6h0M186.7 935.4h0M186.8 935.2h0M186.8 935h0M186.8 934.8h0M186.9 934.6h0M186.9 934.4h0M187 934.2h0M187 934h0M187.1 933.8h0M187.1 933.6h0M187.2 933.3h0M187.2 933.1h0M187.3 932.9h0M187.3 932.6h0M187.3 932.4h0M187.4 932.1h0M187.4 931.9h0M187.5 931.6h0M187.5 931.4h0M187.6 931.1h0M187.6 930.8h0M187.7 930.5h0M187.7 930.2h0M187.7 929.9h0M187.8 929.6h0M187.8 929.3h0M187.9 929h0M187.9 928.7h0M188 928.4h0M188 928h0M188.1 927.7h0M188.1 927.3h0M188.2 927h0M188.2 926.6h0M188.2 926.2h0M188.3 925.9h0M188.3 925.5h0M188.4 925.1h0M188.4 924.7h0M188.5 924.3h0M188.5 923.9h0M188.6 923.4h0M188.6 923h0M188.7 922.6h0M188.7 922.1h0M188.7 921.6h0M188.8 921.2h0M188.8 920.7h0M188.9 920.2h0M188.9 919.7h0M189 919.2h0M189 918.6h0M189.1 918.1h0M189.1 917.6h0M189.2 917h0M189.2 916.4h0M189.2 915.8h0M189.3 915.3h0M189.3 914.6h0M189.4 914h0M189.4 913.4h0M189.5 912.8h0M189.5 912.1h0M189.6 911.4h0M189.6 910.7h0M189.7 910h0M189.7 909.3h0M189.7 908.6h0M189.8 907.9h0M189.8 907.1h0M189.9 906.3h0M189.9 905.5h0M190 904.7h0M190 903.9h0M190.1 903.1h0M190.1 902.2h0M190.2 901.3h0M190.2 900.4h0M190.2 899.5h0M190.3 898.6h0M190.3 897.6h0M190.4 896.7h0M190.4 895.7h0M190.5 894.7h0M190.5 893.6h0M190.6 892.6h0M190.6 891.5h0M190.7 890.4h0M190.7 889.3h0M190.7 888.1h0M190.8 887h0M190.8 885.8h0M190.9 884.6h0M190.9 883.3h0M191 882.1h0M191 880.8h0M191.1 879.4h0M191.1 878.1h0M191.2 876.7h0M191.2 875.3h0M191.2 873.9h0M191.3 872.4h0M191.3 870.9h0M191.4 869.4h0M191.4 867.8h0M191.5 866.3h0M191.5 864.6h0M191.6 863h0M191.6 861.3h0M191.7 859.6h0M191.7 857.8h0M191.7 856h0M191.8 854.2h0M191.8 852.3h0M191.9 850.4h0M191.9 848.5h0M192 846.5h0M192 844.4h0M192.1 842.4h0M192.1 840.3h0M192.2 838.1h0M192.2 835.9h0M192.2 833.6h0M192.3 831.3h0M192.3 829h0M192.4 826.6h0M192.4 824.2h0M192.5 821.7h0M192.5 819.1h0M192.6 816.5h0M192.6 813.9h0M192.7 811.2h0M192.7 808.4h0M192.7 805.6h0M192.8 802.7h0M192.8 799.8h0M192.9 796.8h0M192.9 793.7h0M193 790.6h0M193 787.4h0M193.1 784.2h0M193.1 780.8h0M193.1 777.5h0M193.2 774h0M193.3 891.1h0M193.3 890h0M193.4 888.9h0M193.4 887.8h0M193.5 886.6h0M193.5 885.4h0M193.6 884.2h0M193.6 882.9h0M193.6 881.6h0M193.7 880.3h0M193.7 879h0M193.8 877.7h0M193.8 876.3h0M193.9 874.9h0M193.9 873.4h0M194 871.9h0M194 870.4h0M194.1 868.9h0M194.1 867.3h0M194.1 865.7h0M194.2 864.1h0M194.2 862.4h0M194.3 860.7h0M194.3 859h0M194.4 857.2h0M194.4 855.4h0M194.5 853.6h0M194.5 851.7h0M194.6 849.8h0M194.6 847.8h0M194.6 845.8h0M194.7 843.8h0M194.7 841.7h0M194.8 839.6h0M194.8 837.4h0M194.9 835.2h0M194.9 832.9h0M195 830.6h0M195 828.2h0M195.1 825.8h0M195.1 823.4h0M195.1 820.9h0M195.2 818.3h0M195.2 815.7h0M195.3 813h0M195.3 810.3h0M195.4 807.5h0M195.4 804.7h0M195.5 801.8h0M195.5 798.8h0M195.6 795.8h0M195.6 792.7h0M195.6 789.6h0M195.7 786.4h0M195.7 783.1h0M195.8 779.8h0M195.8 776.3h0M195.9 772.9h0M195.9 873.9h0M196 872.5h0M196 871h0M196.1 869.5h0M196.1 867.9h0M196.1 866.3h0M196.2 864.7h0M196.2 863.1h0M196.3 861.4h0M196.3 859.6h0M196.4 857.9h0M196.4 856.1h0M196.5 854.3h0M196.5 852.4h0M196.6 850.5h0M196.6 848.5h0M196.6 846.5h0M196.7 844.5h0M196.7 842.4h0M196.8 840.3h0M196.8 838.2h0M196.9 836h0M196.9 833.7h0M197 831.4h0M197 829.1h0M197.1 826.7h0M197.1 824.3h0M197.1 821.8h0M197.2 819.2h0M197.2 816.6h0M197.3 814h0M197.3 811.3h0M197.4 808.5h0M197.4 805.7h0M197.5 802.8h0M197.5 799.9h0M197.6 796.9h0M197.6 793.8h0M197.6 790.7h0M197.7 787.5h0M197.7 784.3h0M197.8 781h0M197.8 777.6h0M197.9 774.1h0M197.9 941.7h0M198 941.7h0M198 941.6h0M198.1 941.6h0M198.1 941.5h0M198.1 941.4h0M198.2 941.4h0M198.2 941.3h0M198.3 941.3h0M198.3 941.2h0M198.4 941.1h0M198.4 941h0M198.5 941h0M198.5 940.9h0M198.5 940.8h0M198.6 940.8h0M198.6 940.7h0M198.7 940.6h0M198.7 940.5h0M198.8 940.4h0M198.8 940.4h0M198.9 940.3h0M198.9 940.2h0M199 940.1h0M199 940h0M199 939.9h0M199.1 939.8h0M199.1 939.7h0M199.2 939.6h0M199.2 939.5h0M199.3 939.4h0M199.3 939.3h0M199.4 939.2h0M199.4 939.1h0M199.5 939h0M199.5 938.9h0M199.5 938.7h0M199.6 938.6h0M199.6 938.5h0M199.7 938.4h0M199.7 938.2h0M199.8 938.1h0M199.8 938h0M199.9 937.9h0M199.9 937.7h0M200 937.6h0M200 937.4h0M200 937.3h0M200.1 937.1h0M200.1 937h0M200.2 936.8h0M200.2 936.7h0M200.3 936.5h0M200.3 936.3h0M200.4 936.2h0M200.4 936h0M200.5 935.8h0M200.5 935.6h0M200.5 935.5h0M200.6 935.3h0M200.6 935.1h0M200.7 934.9h0M200.7 934.7h0M200.8 934.5h0M200.8 934.3h0M200.9 934.1h0M200.9 933.8h0M201 933.6h0M201 933.4h0M201 933.2h0M201.1 932.9h0M201.1 932.7h0M201.2 932.5h0M201.2 932.2h0M201.3 931.9h0M201.3 931.7h0M201.4 931.4h0M201.4 931.2h0M201.5 930.9h0M201.5 930.6h0M201.5 930.3h0M201.6 930h0M201.6 929.7h0M201.7 929.4h0M201.7 929.1h0M201.8 928.8h0M201.8 928.4h0M201.9 928.1h0M201.9 927.8h0M202 927.4h0M202 927.1h0M202 926.7h0M202.1 926.3h0M202.1 926h0M202.2 925.6h0M202.2 925.2h0M202.3 924.8h0M202.3 924.4h0M202.4 924h0M202.4 923.5h0M202.5 923.1h0M202.5 922.7h0M202.5 922.2h0M202.6 921.8h0M202.6 921.3h0M202.7 920.8h0M202.7 920.3h0M202.8 919.8h0M202.8 919.3h0M202.9 918.8h0M202.9 918.2h0M203 917.7h0M203 917.1h0M203 916.6h0M203.1 916h0M203.1 915.4h0M203.2 914.8h0M203.2 914.2h0M203.3 913.6h0M203.3 912.9h0M203.4 912.3h0M203.4 911.6h0M203.5 910.9h0M203.5 910.2h0M203.5 909.5h0M203.6 908.8h0M203.6 908.1h0M203.7 907.3h0M203.7 906.5h0M203.8 905.7h0M203.8 904.9h0M203.9 904.1h0M203.9 903.3h0M203.9 902.4h0M204 901.6h0M204 900.7h0M204.1 899.8h0M204.1 898.8h0M204.2 897.9h0M204.2 896.9h0M204.3 895.9h0M204.3 894.9h0M204.4 893.9h0M204.4 892.9h0M204.4 891.8h0M204.5 890.7h0M204.5 889.6h0M204.6 888.4h0M204.6 887.3h0M204.7 886.1h0M204.7 884.9h0M204.8 883.7h0M204.8 882.4h0M204.9 881.1h0M204.9 879.8h0M204.9 878.5h0M205 877.1h0M205 875.7h0M205.1 874.3h0M205.1 872.8h0M205.2 871.3h0M205.2 869.8h0M205.3 868.3h0M205.3 866.7h0M205.4 865.1h0M205.4 863.4h0M205.4 861.7h0M205.5 860h0M205.5 858.3h0M205.6 856.5h0M205.6 854.7h0M205.7 852.8h0M205.7 850.9h0M205.8 849h0M205.8 847h0M205.9 845h0M205.9 842.9h0M205.9 840.8h0M206 838.7h0M206 836.5h0M206.1 834.2h0M206.1 831.9h0M206.2 829.6h0M206.2 827.2h0M206.3 824.8h0M206.3 822.3h0M206.4 819.8h0M206.4 817.2h0M206.4 814.6h0M206.5 811.9h0M206.5 809.1h0M206.6 806.3h0M206.6 803.5h0M206.7 800.6h0M206.7 797.6h0M206.8 794.5h0M206.8 791.4h0M206.9 788.3h0M206.9 785h0M206.9 781.7h0M207 778.3h0M207 774.9h0M207.1 896.3h0M207.2 895.3h0M207.2 894.3h0M207.3 893.3h0M207.3 892.2h0M207.4 891.1h0M207.4 890h0M207.4 888.9h0M207.5 887.7h0M207.5 886.5h0M207.6 885.3h0M207.6 884.1h0M207.7 882.9h0M207.7 881.6h0M207.8 880.3h0M207.8 879h0M207.9 877.6h0M207.9 876.2h0M207.9 874.8h0M208 873.4h0M208 871.9h0M208.1 870.4h0M208.1 868.9h0M208.2 867.3h0M208.2 865.7h0M208.3 864.1h0M208.3 862.4h0M208.4 860.7h0M208.4 858.9h0M208.4 857.2h0M208.5 855.4h0M208.5 853.5h0M208.6 851.6h0M208.6 849.7h0M208.7 847.8h0M208.7 845.7h0M208.8 843.7h0M208.8 841.6h0M208.9 839.5h0M208.9 837.3h0M208.9 835.1h0M209 832.8h0M209 830.5h0M209.1 828.1h0M209.1 825.7h0M209.2 823.3h0M209.2 820.8h0M209.3 818.2h0M209.3 815.6h0M209.4 812.9h0M209.4 810.2h0M209.4 807.4h0M209.5 804.6h0M209.5 801.7h0M209.6 798.7h0M209.6 795.7h0M209.7 792.6h0M209.7 789.5h0M209.8 786.3h0M209.8 783h0M209.8 779.6h0M209.9 776.2h0M209.9 772.7h0M210 931.9h0M210 931.7h0M210.1 931.4h0M210.1 931.1h0M210.2 930.9h0M210.2 930.6h0M210.3 930.3h0M210.3 930h0M210.3 929.7h0M210.4 929.4h0M210.4 929.1h0M210.5 928.8h0M210.5 928.4h0M210.6 928.1h0M210.6 927.8h0M210.7 927.4h0M210.7 927.1h0M210.8 926.7h0M210.8 926.3h0M210.8 926h0M210.9 925.6h0M210.9 925.2h0M211 924.8h0M211 924.4h0M211.1 924h0M211.1 923.5h0M211.2 923.1h0M211.2 922.6h0M211.3 922.2h0M211.3 921.7h0M211.3 921.3h0M211.4 920.8h0M211.4 920.3h0M211.5 919.8h0M211.5 919.3h0M211.6 918.8h0M211.6 918.2h0M211.7 917.7h0M211.7 917.1h0M211.8 916.6h0M211.8 916h0M211.8 915.4h0M211.9 914.8h0M211.9 914.2h0M212 913.5h0M212 912.9h0M212.1 912.2h0M212.1 911.6h0M212.2 910.9h0M212.2 910.2h0M212.3 909.5h0M212.3 908.8h0M212.3 908h0M212.4 907.3h0M212.4 906.5h0M212.5 905.7h0M212.5 904.9h0M212.6 904.1h0M212.6 903.2h0M212.7 902.4h0M212.7 901.5h0M212.8 900.6h0M212.8 899.7h0M212.8 898.8h0M212.9 897.8h0M212.9 896.9h0M213 895.9h0M213 894.9h0M213.1 893.9h0M213.1 892.8h0M213.2 891.7h0M213.2 890.6h0M213.3 889.5h0M213.3 888.4h0M213.3 887.2h0M213.4 886h0M213.4 884.8h0M213.5 883.6h0M213.5 882.3h0M213.6 881h0M213.6 879.7h0M213.7 878.4h0M213.7 877h0M213.8 875.6h0M213.8 874.2h0M213.8 872.7h0M213.9 871.3h0M213.9 869.7h0M214 868.2h0M214 866.6h0M214.1 865h0M214.1 863.4h0M214.2 861.7h0M214.2 860h0M214.3 858.2h0M214.3 856.4h0M214.3 854.6h0M214.4 852.7h0M214.4 850.8h0M214.5 848.9h0M214.5 846.9h0M214.6 844.9h0M214.6 842.8h0M214.7 840.7h0M214.7 838.6h0M214.8 836.4h0M214.8 834.1h0M214.8 831.9h0M214.9 829.5h0M214.9 827.1h0M215 824.7h0M215 822.2h0M215.1 819.7h0M215.1 817.1h0M215.2 814.5h0M215.2 811.8h0M215.2 809h0M215.3 806.2h0M215.3 803.4h0M215.4 800.4h0M215.4 797.4h0M215.5 794.4h0M215.5 791.3h0M215.6 788.1h0M215.6 784.9h0M215.7 781.6h0M215.7 778.2h0M215.7 774.8h0M215.8 868.8h0M215.9 867.2h0M215.9 865.6h0M216 864h0M216 862.3h0M216.1 860.6h0M216.1 858.9h0M216.2 857.1h0M216.2 855.3h0M216.2 853.4h0M216.3 851.5h0M216.3 849.6h0M216.4 847.7h0M216.4 845.7h0M216.5 843.6h0M216.5 841.5h0M216.6 839.4h0M216.6 837.2h0M216.7 835h0M216.7 832.7h0M216.7 830.4h0M216.8 828h0M216.8 825.6h0M216.9 823.2h0M216.9 820.6h0M217 818.1h0M217 815.5h0M217.1 812.8h0M217.1 810.1h0M217.2 807.3h0M217.2 804.4h0M217.2 801.5h0M217.3 798.6h0M217.3 795.6h0M217.4 792.5h0M217.4 789.3h0M217.5 786.1h0M217.5 782.8h0M217.6 779.5h0M217.6 776.1h0M217.7 772.6h0M217.7 860.2h0M217.7 858.4h0M217.8 856.6h0M217.8 854.8h0M217.9 853h0M217.9 851.1h0M218 849.1h0M218 847.2h0M218.1 845.1h0M218.1 843.1h0M218.2 841h0M218.2 838.8h0M218.2 836.7h0M218.3 834.4h0M218.3 832.1h0M218.4 829.8h0M218.4 827.4h0M218.5 825h0M218.5 822.5h0M218.6 820h0M218.6 817.4h0M218.7 814.8h0M218.7 812.1h0M218.7 809.4h0M218.8 806.6h0M218.8 803.7h0M218.9 800.8h0M218.9 797.8h0M219 794.8h0M219 791.7h0M219.1 788.5h0M219.1 785.3h0M219.2 782h0M219.2 778.6h0M219.2 775.2h0M219.3 843.5h0M219.3 841.4h0M219.4 839.3h0M219.4 837.1h0M219.5 834.9h0M219.5 832.6h0M219.6 830.3h0M219.6 827.9h0M219.7 825.5h0M219.7 823h0M219.7 820.5h0M219.8 818h0M219.8 815.3h0M219.9 812.7h0M219.9 809.9h0M220 807.1h0M220 804.3h0M220.1 801.4h0M220.1 798.4h0M220.2 795.4h0M220.2 792.3h0M220.2 789.2h0M220.3 785.9h0M220.3 782.7h0M220.4 779.3h0M220.4 775.9h0M220.5 934.2h0M220.5 934h0M220.6 933.7h0M220.6 933.5h0M220.6 933.3h0M220.7 933.1h0M220.7 932.8h0M220.8 932.6h0M220.8 932.3h0M220.9 932.1h0M220.9 931.8h0M221 931.6h0M221 931.3h0M221.1 931h0M221.1 930.7h0M221.1 930.5h0M221.2 930.2h0M221.2 929.9h0M221.3 929.6h0M221.3 929.3h0M221.4 928.9h0M221.4 928.6h0M221.5 928.3h0M221.5 928h0M221.6 927.6h0M221.6 927.3h0M221.6 926.9h0M221.7 926.5h0M221.7 926.2h0M221.8 925.8h0M221.8 925.4h0M221.9 925h0M221.9 924.6h0M222 924.2h0M222 923.8h0M222.1 923.3h0M222.1 922.9h0M222.1 922.5h0M222.2 922h0M222.2 921.5h0M222.3 921.1h0M222.3 920.6h0M222.4 920.1h0M222.4 919.6h0M222.5 919.1h0M222.5 918.5h0M222.6 918h0M222.6 917.4h0M222.6 916.9h0M222.7 916.3h0M222.7 915.7h0M222.8 915.1h0M222.8 914.5h0M222.9 913.9h0M222.9 913.3h0M223 912.6h0M223 912h0M223.1 911.3h0M223.1 910.6h0M223.1 909.9h0M223.2 909.2h0M223.2 908.4h0M223.3 907.7h0M223.3 906.9h0M223.4 906.2h0M223.4 905.4h0M223.5 904.5h0M223.5 903.7h0M223.6 902.9h0M223.6 902h0M223.6 901.1h0M223.7 900.2h0M223.7 899.3h0M223.8 898.4h0M223.8 897.4h0M223.9 896.5h0M223.9 895.5h0M224 894.4h0M224 893.4h0M224.1 892.3h0M224.1 891.3h0M224.1 890.2h0M224.2 889h0M224.2 887.9h0M224.3 886.7h0M224.3 885.5h0M224.4 884.3h0M224.4 883.1h0M224.5 881.8h0M224.5 880.5h0M224.6 879.2h0M224.6 877.8h0M224.6 876.4h0M224.7 875h0M224.7 873.6h0M224.8 872.1h0M224.8 870.6h0M224.9 869.1h0M224.9 867.5h0M225 865.9h0M225 864.3h0M225.1 862.6h0M225.1 860.9h0M225.1 859.2h0M225.2 857.4h0M225.2 855.6h0M225.3 853.8h0M225.3 851.9h0M225.4 850h0M225.4 848h0M225.5 846h0M225.5 844h0M225.6 841.9h0M225.6 839.8h0M225.6 837.6h0M225.7 835.4h0M225.7 833.2h0M225.8 830.8h0M225.8 828.5h0M225.9 826.1h0M225.9 823.6h0M226 821.1h0M226 818.6h0M226 816h0M226.1 813.3h0M226.1 810.6h0M226.2 807.8h0M226.2 805h0M226.3 802.1h0M226.3 799.1h0M226.4 796.1h0M226.4 793.1h0M226.5 789.9h0M226.5 786.7h0M226.5 783.5h0M226.6 780.1h0M226.6 776.7h0M226.7 773.2h0M226.8 898.9h0M226.8 897.9h0M226.9 897h0M226.9 896h0M227 895h0M227 894h0M227 892.9h0M227.1 891.9h0M227.1 890.8h0M227.2 889.7h0M227.2 888.5h0M227.3 887.4h0M227.3 886.2h0M227.4 885h0M227.4 883.7h0M227.5 882.5h0M227.5 881.2h0M227.5 879.9h0M227.6 878.5h0M227.6 877.2h0M227.7 875.8h0M227.7 874.4h0M227.8 872.9h0M227.8 871.4h0M227.9 869.9h0M227.9 868.4h0M228 866.8h0M228 865.2h0M228 863.5h0M228.1 861.9h0M228.1 860.1h0M228.2 858.4h0M228.2 856.6h0M228.3 854.8h0M228.3 852.9h0M228.4 851h0M228.4 849.1h0M228.5 847.1h0M228.5 845.1h0M228.5 843.1h0M228.6 841h0M228.6 838.8h0M228.7 836.6h0M228.7 834.4h0M228.8 832.1h0M228.8 829.8h0M228.9 827.4h0M228.9 825h0M229 822.5h0M229 820h0M229 817.4h0M229.1 814.8h0M229.1 812.1h0M229.2 809.3h0M229.2 806.5h0M229.3 803.7h0M229.3 800.8h0M229.4 797.8h0M229.4 794.7h0M229.5 791.6h0M229.5 788.5h0M229.5 785.2h0M229.6 781.9h0M229.6 778.6h0M229.7 775.1h0M229.8 910.9h0M229.8 910.2h0M229.9 909.5h0M229.9 908.8h0M230 908.1h0M230 907.3h0M230 906.5h0M230.1 905.8h0M230.1 905h0M230.2 904.1h0M230.2 903.3h0M230.3 902.5h0M230.3 901.6h0M230.4 900.7h0M230.4 899.8h0M230.5 898.9h0M230.5 897.9h0M230.5 896.9h0M230.6 896h0M230.6 895h0M230.7 893.9h0M230.7 892.9h0M230.8 891.8h0M230.8 890.7h0M230.9 889.6h0M230.9 888.5h0M231 887.3h0M231 886.1h0M231 884.9h0M231.1 883.7h0M231.1 882.4h0M231.2 881.1h0M231.2 879.8h0M231.3 878.5h0M231.3 877.1h0M231.4 875.7h0M231.4 874.3h0M231.5 872.8h0M231.5 871.4h0M231.5 869.8h0M231.6 868.3h0M231.6 866.7h0M231.7 865.1h0M231.7 863.5h0M231.8 861.8h0M231.8 860.1h0M231.9 858.3h0M231.9 856.5h0M231.9 854.7h0M232 852.9h0M232 851h0M232.1 849h0M232.1 847.1h0M232.2 845h0M232.2 843h0M232.3 840.9h0M232.3 838.7h0M232.4 836.5h0M232.4 834.3h0M232.4 832h0M232.5 829.7h0M232.5 827.3h0M232.6 824.9h0M232.6 822.4h0M232.7 819.9h0M232.7 817.3h0M232.8 814.7h0M232.8 812h0M232.9 809.2h0M232.9 806.4h0M232.9 803.6h0M233 800.6h0M233 797.7h0M233.1 794.6h0M233.1 791.5h0M233.2 788.3h0M233.2 785.1h0M233.3 781.8h0M233.3 778.4h0M233.4 775h0M233.4 849.5h0M233.4 847.6h0M233.5 845.6h0M233.5 843.5h0M233.6 841.4h0M233.6 839.3h0M233.7 837.1h0M233.7 834.9h0M233.8 832.6h0M233.8 830.3h0M233.9 827.9h0M233.9 825.5h0M233.9 823h0M234 820.5h0M234 818h0M234.1 815.3h0M234.1 812.7h0M234.2 809.9h0M234.2 807.1h0M234.3 804.3h0M234.3 801.4h0M234.4 798.4h0M234.4 795.4h0M234.4 792.3h0M234.5 789.2h0M234.5 785.9h0M234.6 782.7h0M234.6 779.3h0M234.7 775.9h0M234.7 861.9h0M234.8 860.2h0M234.8 858.4h0M234.9 856.7h0M234.9 854.8h0M234.9 853h0M235 851.1h0M235 849.1h0M235.1 847.2h0M235.1 845.2h0M235.2 843.1h0M235.2 841h0M235.3 838.9h0M235.3 836.7h0M235.4 834.4h0M235.4 832.2h0M235.4 829.8h0M235.5 827.4h0M235.5 825h0M235.6 822.6h0M235.6 820h0M235.7 817.4h0M235.7 814.8h0M235.8 812.1h0M235.8 809.4h0M235.9 806.6h0M235.9 803.7h0M235.9 800.8h0M236 797.8h0M236 794.8h0M236.1 791.7h0M236.1 788.5h0M236.2 785.3h0M236.2 782h0M236.3 778.6h0M236.3 775.2h0M236.4 862.2h0M236.4 860.5h0M236.4 858.8h0M236.5 857h0M236.5 855.2h0M236.6 853.3h0M236.6 851.5h0M236.7 849.5h0M236.7 847.6h0M236.8 845.6h0M236.8 843.5h0M236.9 841.4h0M236.9 839.3h0M236.9 837.1h0M237 834.9h0M237 832.6h0M237.1 830.3h0M237.1 827.9h0M237.2 825.5h0M237.2 823h0M237.3 820.5h0M237.3 818h0M237.3 815.3h0M237.4 812.7h0M237.4 809.9h0M237.5 807.1h0M237.5 804.3h0M237.6 801.4h0M237.6 798.4h0M237.7 795.4h0M237.7 792.3h0M237.8 789.2h0M237.8 785.9h0M237.8 782.7h0M237.9 779.3h0M237.9 775.9h0M238 863.6h0M238 861.9h0M238.1 860.2h0M238.1 858.5h0M238.2 856.7h0M238.2 854.9h0M238.3 853h0M238.3 851.1h0M238.3 849.2h0M238.4 847.2h0M238.4 845.2h0M238.5 843.2h0M238.5 841.1h0M238.6 838.9h0M238.6 836.7h0M238.7 834.5h0M238.7 832.2h0M238.8 829.9h0M238.8 827.5h0M238.8 825.1h0M238.9 822.6h0M238.9 820.1h0M239 817.5h0M239 814.9h0M239.1 812.2h0M239.1 809.5h0M239.2 806.7h0M239.2 803.8h0M239.3 800.9h0M239.3 797.9h0M239.3 794.9h0M239.4 791.8h0M239.4 788.6h0M239.5 785.4h0M239.5 782.1h0M239.6 778.7h0M239.6 775.3h0M240.2 920.9h0M240.3 920.4h0M240.3 919.9h0M240.3 919.4h0M240.4 918.9h0M240.4 918.4h0M240.5 917.8h0M240.5 917.3h0M240.6 916.7h0M240.6 916.1h0M240.7 915.6h0M240.7 915h0M240.8 914.3h0M240.8 913.7h0M240.8 913.1h0M240.9 912.4h0M240.9 911.8h0M241 911.1h0M241 910.4h0M241.1 909.7h0M241.1 909h0M241.2 908.2h0M241.2 907.5h0M241.3 906.7h0M241.3 905.9h0M241.3 905.1h0M241.4 904.3h0M241.4 903.5h0M241.5 902.6h0M241.5 901.8h0M241.6 900.9h0M241.6 900h0M241.7 899.1h0M241.7 898.1h0M241.8 897.2h0M241.8 896.2h0M241.8 895.2h0M241.9 894.2h0M241.9 893.1h0M242 892.1h0M242 891h0M242.1 889.9h0M242.1 888.7h0M242.2 887.6h0M242.2 886.4h0M242.3 885.2h0M242.3 884h0M242.3 882.7h0M242.4 881.4h0M242.4 880.1h0M242.5 878.8h0M242.5 877.4h0M242.6 876h0M242.6 874.6h0M242.7 873.2h0M242.7 871.7h0M242.7 870.2h0M242.8 868.6h0M242.8 867.1h0M242.9 865.5h0M242.9 863.8h0M243 862.2h0M243 860.5h0M243.1 858.7h0M243.1 856.9h0M243.2 855.1h0M243.2 853.3h0M243.2 851.4h0M243.3 849.5h0M243.3 847.5h0M243.4 845.5h0M243.4 843.4h0M243.5 841.3h0M243.5 839.2h0M243.6 837h0M243.6 834.8h0M243.7 832.5h0M243.7 830.2h0M243.7 827.8h0M243.8 825.4h0M243.8 823h0M243.9 820.4h0M243.9 817.9h0M244 815.2h0M244 812.6h0M244.1 809.8h0M244.1 807h0M244.2 804.2h0M244.2 801.3h0M244.2 798.3h0M244.3 795.3h0M244.3 792.2h0M244.4 789.1h0M244.4 785.8h0M244.5 782.5h0M244.5 779.2h0M244.6 775.8h0M244.7 853.3h0M244.7 851.4h0M244.7 849.5h0M244.8 847.5h0M244.8 845.5h0M244.9 843.4h0M244.9 841.3h0M245 839.2h0M245 837h0M245.1 834.8h0M245.1 832.5h0M245.2 830.2h0M245.2 827.8h0M245.2 825.4h0M245.3 823h0M245.3 820.4h0M245.4 817.9h0M245.4 815.3h0M245.5 812.6h0M245.5 809.8h0M245.6 807.1h0M245.6 804.2h0M245.7 801.3h0M245.7 798.3h0M245.7 795.3h0M245.8 792.2h0M245.8 789.1h0M245.9 785.9h0M245.9 782.6h0M246 779.2h0M246 775.8h0M246.1 850.1h0M246.1 848.2h0M246.2 846.2h0M246.2 844.2h0M246.2 842.1h0M246.3 840h0M246.3 837.8h0M246.4 835.6h0M246.4 833.3h0M246.5 831h0M246.5 828.7h0M246.6 826.3h0M246.6 823.8h0M246.7 821.3h0M246.7 818.8h0M246.7 816.2h0M246.8 813.5h0M246.8 810.8h0M246.9 808h0M246.9 805.2h0M247 802.3h0M247 799.4h0M247.1 796.4h0M247.1 793.3h0M247.2 790.2h0M247.2 787h0M247.2 783.7h0M247.3 780.4h0M247.3 777h0M247.4 773.5h0M247.4 848.9h0M247.5 846.9h0M247.5 844.9h0M247.6 842.8h0M247.6 840.7h0M247.7 838.5h0M247.7 836.3h0M247.7 834.1h0M247.8 831.8h0M247.8 829.5h0M247.9 827.1h0M247.9 824.7h0M248 822.2h0M248 819.6h0M248.1 817.1h0M248.1 814.4h0M248.2 811.7h0M248.2 809h0M248.2 806.2h0M248.3 803.3h0M248.3 800.4h0M248.4 797.4h0M248.4 794.4h0M248.5 791.2h0M248.5 788.1h0M248.6 784.8h0M248.6 781.5h0M248.6 778.1h0M248.7 774.7h0M248.7 849.5h0M248.8 847.6h0M248.8 845.6h0M248.9 843.5h0M248.9 841.4h0M249 839.3h0M249 837.1h0M249.1 834.9h0M249.1 832.6h0M249.1 830.3h0M249.2 827.9h0M249.2 825.5h0M249.3 823h0M249.3 820.5h0M249.4 818h0M249.4 815.3h0M249.5 812.7h0M249.5 809.9h0M249.6 807.1h0M249.6 804.3h0M249.6 801.4h0M249.7 798.4h0M249.7 795.4h0M249.8 792.3h0M249.8 789.2h0M249.9 785.9h0M249.9 782.7h0M250 779.3h0M250 775.9h0M250.1 884.8h0M250.1 883.5h0M250.1 882.3h0M250.2 881h0M250.2 879.7h0M250.3 878.3h0M250.3 877h0M250.4 875.6h0M250.4 874.1h0M250.5 872.7h0M250.5 871.2h0M250.6 869.7h0M250.6 868.1h0M250.6 866.5h0M250.7 864.9h0M250.7 863.3h0M250.8 861.6h0M250.8 859.9h0M250.9 858.1h0M250.9 856.3h0M251 854.5h0M251 852.7h0M251.1 850.7h0M251.1 848.8h0M251.1 846.8h0M251.2 844.8h0M251.2 842.7h0M251.3 840.6h0M251.3 838.5h0M251.4 836.3h0M251.4 834h0M251.5 831.8h0M251.5 829.4h0M251.6 827h0M251.6 824.6h0M251.6 822.1h0M251.7 819.6h0M251.7 817h0M251.8 814.4h0M251.8 811.7h0M251.9 808.9h0M251.9 806.1h0M252 803.2h0M252 800.3h0M252.1 797.3h0M252.1 794.3h0M252.1 791.2h0M252.2 788h0M252.2 784.7h0M252.3 781.4h0M252.3 778.1h0M252.4 774.6h0M252.4 850.1h0M252.5 848.2h0M252.5 846.2h0M252.6 844.2h0M252.6 842.1h0M252.6 840h0M252.7 837.8h0M252.7 835.6h0M252.8 833.3h0M252.8 831h0M252.9 828.7h0M252.9 826.3h0M253 823.8h0M253 821.3h0M253.1 818.8h0M253.1 816.2h0M253.1 813.5h0M253.2 810.8h0M253.2 808h0M253.3 805.2h0M253.3 802.3h0M253.4 799.4h0M253.4 796.4h0M253.5 793.3h0M253.5 790.2h0M253.6 787h0M253.6 783.7h0M253.6 780.4h0M253.7 777h0M253.7 773.5h0M253.8 849.5h0M253.8 847.6h0M253.9 845.6h0M253.9 843.5h0M254 841.4h0M254 839.3h0M254 837.1h0M254.1 834.9h0M254.1 832.6h0M254.2 830.3h0M254.2 827.9h0M254.3 825.5h0M254.3 823h0M254.4 820.5h0M254.4 818h0M254.5 815.3h0M254.5 812.7h0M254.5 809.9h0M254.6 807.1h0M254.6 804.3h0M254.7 801.4h0M254.7 798.4h0M254.8 795.4h0M254.8 792.3h0M254.9 789.2h0M254.9 785.9h0M255 782.7h0M255 779.3h0M255 775.9h0M255.1 917.5h0M255.1 916.9h0M255.2 916.3h0M255.2 915.8h0M255.3 915.2h0M255.3 914.6h0M255.4 913.9h0M255.4 913.3h0M255.5 912.7h0M255.5 912h0M255.5 911.3h0M255.6 910.6h0M255.6 909.9h0M255.7 909.2h0M255.7 908.5h0M255.8 907.8h0M255.8 907h0M255.9 906.2h0M255.9 905.4h0M256 904.6h0M256 903.8h0M256 902.9h0M256.1 902.1h0M256.1 901.2h0M256.2 900.3h0M256.2 899.4h0M256.3 898.5h0M256.3 897.5h0M256.4 896.5h0M256.4 895.5h0M256.5 894.5h0M256.5 893.5h0M256.5 892.4h0M256.6 891.4h0M256.6 890.3h0M256.7 889.1h0M256.7 888h0M256.8 886.8h0M256.8 885.6h0M256.9 884.4h0M256.9 883.2h0M257 881.9h0M257 880.6h0M257 879.3h0M257.1 877.9h0M257.1 876.5h0M257.2 875.1h0M257.2 873.7h0M257.3 872.2h0M257.3 870.7h0M257.4 869.2h0M257.4 867.6h0M257.5 866h0M257.5 864.4h0M257.5 862.8h0M257.6 861.1h0M257.6 859.3h0M257.7 857.6h0M257.7 855.8h0M257.8 853.9h0M257.8 852.1h0M257.9 850.1h0M257.9 848.2h0M258 846.2h0M258 844.2h0M258 842.1h0M258.1 840h0M258.1 837.8h0M258.2 835.6h0M258.2 833.3h0M258.3 831h0M258.3 828.7h0M258.4 826.3h0M258.4 823.8h0M258.5 821.3h0M258.5 818.8h0M258.5 816.2h0M258.6 813.5h0M258.6 810.8h0M258.7 808h0M258.7 805.2h0M258.8 802.3h0M258.8 799.4h0M258.9 796.4h0M258.9 793.3h0M259 790.2h0M259 787h0M259 783.7h0M259.1 780.4h0M259.1 777h0M259.2 773.5h0M259.2 843.8h0M259.3 841.7h0M259.3 839.6h0M259.4 837.4h0M259.4 835.2h0M259.4 833h0M259.5 830.7h0M259.5 828.3h0M259.6 825.9h0M259.6 823.4h0M259.7 820.9h0M259.7 818.4h0M259.8 815.8h0M259.8 813.1h0M259.9 810.4h0M259.9 807.6h0M259.9 804.8h0M260 801.9h0M260 798.9h0M260.1 795.9h0M260.1 792.8h0M260.2 789.7h0M260.2 786.5h0M260.3 783.2h0M260.3 779.9h0M260.4 776.4h0M260.4 773h0M260.4 843.5h0M260.5 841.4h0M260.5 839.3h0M260.6 837.1h0M260.6 834.9h0M260.7 832.6h0M260.7 830.3h0M260.8 827.9h0M260.8 825.5h0M260.9 823h0M260.9 820.5h0M260.9 818h0M261 815.3h0M261 812.7h0M261.1 809.9h0M261.1 807.1h0M261.2 804.3h0M261.2 801.4h0M261.3 798.4h0M261.3 795.4h0M261.4 792.3h0M261.4 789.2h0M261.4 785.9h0M261.5 782.7h0M261.5 779.3h0M261.6 775.9h0M261.6 891.1h0M261.7 890h0M261.7 888.9h0M261.8 887.8h0M261.8 886.6h0M261.9 885.4h0M261.9 884.2h0M261.9 882.9h0M262 881.6h0M262 880.3h0M262.1 879h0M262.1 877.7h0M262.2 876.3h0M262.2 874.9h0M262.3 873.4h0M262.3 871.9h0M262.4 870.4h0M262.4 868.9h0M262.4 867.3h0M262.5 865.7h0M262.5 864.1h0M262.6 862.4h0M262.6 860.7h0M262.7 859h0M262.7 857.2h0M262.8 855.4h0M262.8 853.6h0M262.9 851.7h0M262.9 849.8h0M262.9 847.8h0M263 845.8h0M263 843.8h0M263.1 841.7h0M263.1 839.6h0M263.2 837.4h0M263.2 835.2h0M263.3 832.9h0M263.3 830.6h0M263.4 828.2h0M263.4 825.8h0M263.4 823.4h0M263.5 820.9h0M263.5 818.3h0M263.6 815.7h0M263.6 813h0M263.7 810.3h0M263.7 807.5h0M263.8 804.7h0M263.8 801.8h0M263.9 798.8h0M263.9 795.8h0M263.9 792.7h0M264 789.6h0M264 786.4h0M264.1 783.1h0M264.1 779.8h0M264.2 776.3h0M264.2 772.9h0M264.3 839.4h0M264.3 837.2h0M264.4 835h0M264.4 832.8h0M264.4 830.4h0M264.5 828.1h0M264.5 825.7h0M264.6 823.2h0M264.6 820.7h0M264.7 818.1h0M264.7 815.5h0M264.8 812.8h0M264.8 810.1h0M264.8 807.3h0M264.9 804.5h0M264.9 801.6h0M265 798.6h0M265 795.6h0M265.1 792.5h0M265.1 789.4h0M265.2 786.2h0M265.2 782.9h0M265.3 779.5h0M265.3 776.1h0M265.3 772.6h0M265.4 839.3h0M265.4 837.1h0M265.5 834.9h0M265.5 832.6h0M265.6 830.3h0M265.6 827.9h0M265.7 825.5h0M265.7 823h0M265.8 820.5h0M265.8 818h0M265.8 815.3h0M265.9 812.7h0M265.9 809.9h0M266 807.1h0M266 804.3h0M266.1 801.4h0M266.1 798.4h0M266.2 795.4h0M266.2 792.3h0M266.3 789.2h0M266.3 785.9h0M266.3 782.7h0M266.4 779.3h0M266.4 775.9h0M266.5 882.5h0M266.5 881.3h0M266.6 880h0M266.6 878.6h0M266.7 877.2h0M266.7 875.9h0M266.8 874.4h0M266.8 873h0M266.8 871.5h0M266.9 870h0M266.9 868.4h0M267 866.9h0M267 865.3h0M267.1 863.6h0M267.1 861.9h0M267.2 860.2h0M267.2 858.5h0M267.3 856.7h0M267.3 854.9h0M267.3 853h0M267.4 851.1h0M267.4 849.2h0M267.5 847.2h0M267.5 845.2h0M267.6 843.2h0M267.6 841.1h0M267.7 838.9h0M267.7 836.7h0M267.8 834.5h0M267.8 832.2h0M267.8 829.9h0M267.9 827.5h0M267.9 825.1h0M268 822.6h0M268 820.1h0M268.1 817.5h0M268.1 814.9h0M268.2 812.2h0M268.2 809.5h0M268.3 806.7h0M268.3 803.8h0M268.3 800.9h0M268.4 797.9h0M268.4 794.9h0M268.5 791.8h0M268.5 788.6h0M268.6 785.4h0M268.6 782.1h0M268.7 778.8h0M268.7 775.3h0M268.8 834.9h0M268.8 832.6h0M268.8 830.3h0M268.9 827.9h0M268.9 825.5h0M269 823h0M269 820.5h0M269.1 818h0M269.1 815.3h0M269.2 812.7h0M269.2 809.9h0M269.3 807.1h0M269.3 804.3h0M269.3 801.4h0M269.4 798.4h0M269.4 795.4h0M269.5 792.3h0M269.5 789.2h0M269.6 785.9h0M269.6 782.7h0M269.7 779.3h0M269.7 775.9h0M269.8 913.5h0M269.8 912.9h0M269.8 912.2h0M269.9 911.6h0M269.9 910.9h0M270 910.2h0M270 909.5h0M270.1 908.7h0M270.1 908h0M270.2 907.2h0M270.2 906.5h0M270.3 905.7h0M270.3 904.9h0M270.3 904.1h0M270.4 903.2h0M270.4 902.4h0M270.5 901.5h0M270.5 900.6h0M270.6 899.7h0M270.6 898.8h0M270.7 897.8h0M270.7 896.9h0M270.7 895.9h0M270.8 894.9h0M270.8 893.8h0M270.9 892.8h0M270.9 891.7h0M271 890.6h0M271 889.5h0M271.1 888.4h0M271.1 887.2h0M271.2 886h0M271.2 884.8h0M271.2 883.6h0M271.3 882.3h0M271.3 881h0M271.4 879.7h0M271.4 878.4h0M271.5 877h0M271.5 875.6h0M271.6 874.2h0M271.6 872.7h0M271.7 871.2h0M271.7 869.7h0M271.7 868.2h0M271.8 866.6h0M271.8 865h0M271.9 863.3h0M271.9 861.6h0M272 859.9h0M272 858.2h0M272.1 856.4h0M272.1 854.5h0M272.2 852.7h0M272.2 850.8h0M272.2 848.8h0M272.3 846.9h0M272.3 844.8h0M272.4 842.8h0M272.4 840.7h0M272.5 838.5h0M272.5 836.3h0M272.6 834.1h0M272.6 831.8h0M272.7 829.5h0M272.7 827.1h0M272.7 824.6h0M272.8 822.2h0M272.8 819.6h0M272.9 817h0M272.9 814.4h0M273 811.7h0M273 809h0M273.1 806.2h0M273.1 803.3h0M273.2 800.4h0M273.2 797.4h0M273.2 794.3h0M273.3 791.2h0M273.3 788h0M273.4 784.8h0M273.4 781.5h0M273.5 778.1h0M273.5 774.7h0M273.6 862.2h0M273.6 860.5h0M273.7 858.8h0M273.7 857h0M273.7 855.2h0M273.8 853.3h0M273.8 851.5h0M273.9 849.5h0M273.9 847.6h0M274 845.6h0M274 843.5h0M274.1 841.4h0M274.1 839.3h0M274.2 837.1h0M274.2 834.9h0M274.2 832.6h0M274.3 830.3h0M274.3 827.9h0M274.4 825.5h0M274.4 823h0M274.5 820.5h0M274.5 818h0M274.6 815.3h0M274.6 812.7h0M274.7 809.9h0M274.7 807.1h0M274.7 804.3h0M274.8 801.4h0M274.8 798.4h0M274.9 795.4h0M274.9 792.3h0M275 789.2h0M275 785.9h0M275.1 782.7h0M275.1 779.3h0M275.2 775.9h0M275.2 937.6h0M275.2 937.5h0M275.3 937.3h0M275.3 937.2h0M275.4 937h0M275.4 936.9h0M275.5 936.7h0M275.5 936.6h0M275.6 936.4h0M275.6 936.2h0M275.7 936h0M275.7 935.9h0M275.7 935.7h0M275.8 935.5h0M275.8 935.3h0M275.9 935.1h0M275.9 934.9h0M276 934.7h0M276 934.5h0M276.1 934.3h0M276.1 934.1h0M276.1 933.9h0M276.2 933.7h0M276.2 933.5h0M276.3 933.2h0M276.3 933h0M276.4 932.8h0M276.4 932.5h0M276.5 932.3h0M276.5 932h0M276.6 931.8h0M276.6 931.5h0M276.6 931.2h0M276.7 931h0M276.7 930.7h0M276.8 930.4h0M276.8 930.1h0M276.9 929.8h0M276.9 929.5h0M277 929.2h0M277 928.9h0M277.1 928.5h0M277.1 928.2h0M277.1 927.9h0M277.2 927.5h0M277.2 927.2h0M277.3 926.8h0M277.3 926.5h0M277.4 926.1h0M277.4 925.7h0M277.5 925.3h0M277.5 924.9h0M277.6 924.5h0M277.6 924.1h0M277.6 923.7h0M277.7 923.2h0M277.7 922.8h0M277.8 922.4h0M277.8 921.9h0M277.9 921.4h0M277.9 920.9h0M278 920.5h0M278 920h0M278.1 919.5h0M278.1 918.9h0M278.1 918.4h0M278.2 917.9h0M278.2 917.3h0M278.3 916.8h0M278.3 916.2h0M278.4 915.6h0M278.4 915h0M278.5 914.4h0M278.5 913.8h0M278.6 913.1h0" stroke="#0a78c8" stroke-width="2.0" stroke-linecap="round" fill="none" opacity="1.0"/>
<rect x="322.5" y="784.2" width="203.8" height="167.8" fill="none" stroke="#8a8a8a" stroke-width="0.8"/>
<text transform="translate(322.5 961.6)" font-size="7.6" text-anchor="middle" fill="#333333">0</text>
<text transform="translate(363.26 961.6)" font-size="7.6" text-anchor="middle" fill="#333333">0.2</text>
<text transform="translate(404.02 961.6)" font-size="7.6" text-anchor="middle" fill="#333333">0.4</text>
<text transform="translate(444.78 961.6)" font-size="7.6" text-anchor="middle" fill="#333333">0.6</text>
<text transform="translate(485.54 961.6)" font-size="7.6" text-anchor="middle" fill="#333333">0.8</text>
<text transform="translate(526.3 961.6)" font-size="7.6" text-anchor="middle" fill="#333333">1</text>
<text transform="translate(319.5 954.74)" font-size="7.6" text-anchor="end" fill="#333333">0</text>
<text transform="translate(319.5 926.77)" font-size="7.6" text-anchor="end" fill="#333333">100</text>
<text transform="translate(319.5 898.8)" font-size="7.6" text-anchor="end" fill="#333333">200</text>
<text transform="translate(319.5 870.84)" font-size="7.6" text-anchor="end" fill="#333333">300</text>
<text transform="translate(319.5 842.87)" font-size="7.6" text-anchor="end" fill="#333333">400</text>
<text transform="translate(319.5 814.9)" font-size="7.6" text-anchor="end" fill="#333333">500</text>
<text transform="translate(319.5 786.94)" font-size="7.6" text-anchor="end" fill="#333333">600</text>
<path d="M363.26 952v-2.4M363.26 784.2v2.4M404.02 952v-2.4M404.02 784.2v2.4M444.78 952v-2.4M444.78 784.2v2.4M485.54 952v-2.4M485.54 784.2v2.4M322.5 924.03h2.4M526.3 924.03h-2.4M322.5 896.07h2.4M526.3 896.07h-2.4M322.5 868.1h2.4M526.3 868.1h-2.4M322.5 840.13h2.4M526.3 840.13h-2.4M322.5 812.17h2.4M526.3 812.17h-2.4" stroke="#8a8a8a" stroke-width="0.8" fill="none"/>
<text transform="translate(424 970.8)" font-size="8.6" text-anchor="middle" fill="#333333">Chaos value</text>
<text transform="translate(300 868) rotate(-90)" font-size="8.6" text-anchor="middle" fill="#333333">Frequency</text>
<g fill="#3e26a8" stroke="#2a1878" stroke-width="0.85">
<rect x="322.5" y="810.32" width="20.38" height="141.68"/>
<rect x="342.88" y="825.59" width="20.38" height="126.41"/>
<rect x="363.26" y="821.68" width="20.38" height="130.32"/>
<rect x="383.64" y="810.49" width="20.38" height="141.51"/>
<rect x="404.02" y="818.32" width="20.38" height="133.68"/>
<rect x="424.4" y="811.61" width="20.38" height="140.39"/>
<rect x="444.78" y="799.86" width="20.38" height="152.14"/>
<rect x="465.16" y="806.29" width="20.38" height="145.71"/>
<rect x="485.54" y="804.9" width="20.38" height="147.1"/>
<rect x="505.92" y="807.69" width="20.38" height="144.31"/>
</g>
<text x="273.8" y="246.44" font-family="'Liberation Serif', 'DejaVu Serif', serif" font-size="20.5" text-anchor="middle" fill="#111">(<tspan font-weight="bold">a</tspan>)</text>
<text x="273.8" y="501.14" font-family="'Liberation Serif', 'DejaVu Serif', serif" font-size="20.5" text-anchor="middle" fill="#111">(<tspan font-weight="bold">b</tspan>)</text>
<text x="273.8" y="759.74" font-family="'Liberation Serif', 'DejaVu Serif', serif" font-size="20.5" text-anchor="middle" fill="#111">(<tspan font-weight="bold">c</tspan>)</text>
<text x="273.8" y="998.53" font-family="'Liberation Serif', 'DejaVu Serif', serif" font-size="20.5" text-anchor="middle" fill="#111">(<tspan font-weight="bold">d</tspan>)</text>
</g>
</svg>
</body></html>
